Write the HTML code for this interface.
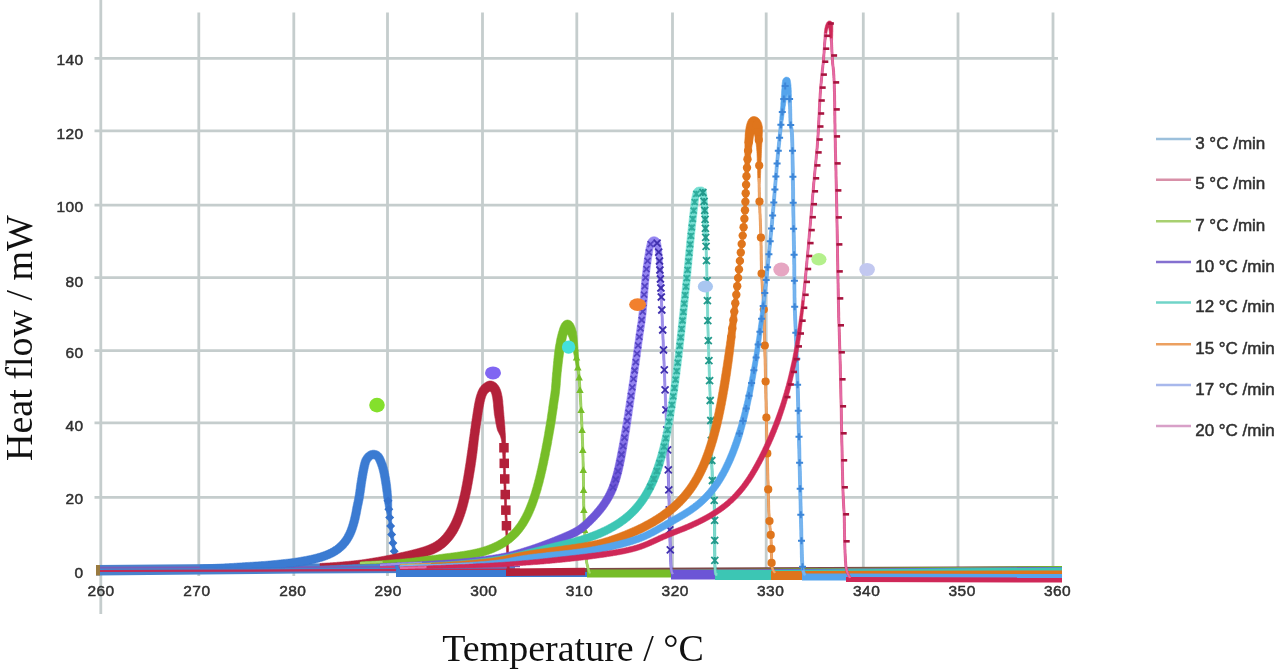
<!DOCTYPE html><html><head><meta charset="utf-8"><title>Heat flow vs temperature</title><style>html,body{margin:0;padding:0;background:#fff;width:1280px;height:669px;overflow:hidden}svg{display:block}</style></head><body>
<svg width="1280" height="669" viewBox="0 0 1280 669">
<rect width="1280" height="669" fill="#fff"/>
<g>
<rect width="1280" height="669" fill="#fff"/>
<g stroke="#c5cdcd" stroke-width="2.8"><line x1="100.8" y1="0.0" x2="100.8" y2="614.0"/><line x1="198.8" y1="12.5" x2="198.8" y2="576.0"/><line x1="293.8" y1="12.5" x2="293.8" y2="576.0"/><line x1="387.5" y1="12.5" x2="387.5" y2="576.0"/><line x1="482.5" y1="12.5" x2="482.5" y2="576.0"/><line x1="576.8" y1="12.5" x2="576.8" y2="576.0"/><line x1="672.5" y1="12.5" x2="672.5" y2="576.0"/><line x1="766.2" y1="12.5" x2="766.2" y2="576.0"/><line x1="863.3" y1="12.5" x2="863.3" y2="576.0"/><line x1="958.0" y1="12.5" x2="958.0" y2="576.0"/><line x1="1053.0" y1="12.5" x2="1053.0" y2="576.0"/><line x1="94.5" y1="58.4" x2="1058" y2="58.4"/><line x1="94.5" y1="130.9" x2="1058" y2="130.9"/><line x1="94.5" y1="205.2" x2="1058" y2="205.2"/><line x1="94.5" y1="277.7" x2="1058" y2="277.7"/><line x1="94.5" y1="350.7" x2="1058" y2="350.7"/><line x1="94.5" y1="422.8" x2="1058" y2="422.8"/><line x1="94.5" y1="497.3" x2="1058" y2="497.3"/></g>
<g><path d="M96,565 L300,563.5 L420,563 L505,564 L515,567 L515,573 L420,573 L300,573.5 L96,575.5Z" fill="#4a82cc"/><path d="M96,567.6 L520,566.5" stroke="#7a5ab8" stroke-width="1.6"/><path d="M380,566.8 L510,566.3" stroke="#c2417e" stroke-width="2.4"/><path d="M96,571 L300,570.4 L520,569.5" stroke="#c22a55" stroke-width="2.2" fill="none"/><rect x="96" y="565" width="4" height="10.5" fill="#9a7a40"/></g>
<polyline points="396.0,573.5 1062.0,573.5" fill="none" stroke="#3b7bd2" stroke-width="7.0"/>
<path d="M200.0,568.0 L200.5,568.0 L201.1,568.0 L201.8,568.0 L202.6,568.1 L203.4,568.1 L204.3,568.1 L205.3,568.1 L206.3,568.1 L207.3,568.1 L208.3,568.1 L209.4,568.1 L210.4,568.1 L211.4,568.1 L212.3,568.1 L213.3,568.1 L214.1,568.1 L214.9,568.2 L215.8,568.2 L216.6,568.2 L217.4,568.2 L218.2,568.2 L219.0,568.2 L219.8,568.2 L220.6,568.2 L221.3,568.2 L222.1,568.2 L222.9,568.2 L223.6,568.2 L224.4,568.3 L225.1,568.3 L225.9,568.3 L226.6,568.3 L227.3,568.3 L228.1,568.3 L228.8,568.3 L229.5,568.3 L230.2,568.3 L230.9,568.3 L231.6,568.3 L232.3,568.3 L233.0,568.3 L233.7,568.4 L234.4,568.4 L235.0,568.4 L235.7,568.4 L236.4,568.4 L237.0,568.4 L237.7,568.4 L238.3,568.4 L239.0,568.4 L239.6,568.4 L240.2,568.4 L240.8,568.4 L241.5,568.4 L242.1,568.4 L242.7,568.4 L243.3,568.5 L243.9,568.5 L244.5,568.5 L245.1,568.5 L245.7,568.5 L246.3,568.5 L246.8,568.5 L247.4,568.5 L248.0,568.5 L248.5,568.5 L249.1,568.5 L249.6,568.5 L250.2,568.5 L250.7,568.5 L251.3,568.5 L251.8,568.4 L252.3,568.4 L252.9,568.4 L253.4,568.4 L253.9,568.4 L254.4,568.4 L254.9,568.4 L255.5,568.4 L256.0,568.4 L256.5,568.4 L256.9,568.4 L257.4,568.4 L257.9,568.4 L258.4,568.4 L258.9,568.4 L259.4,568.4 L259.8,568.3 L260.3,568.3 L260.8,568.3 L261.2,568.3 L261.7,568.3 L262.1,568.3 L262.6,568.3 L263.0,568.3 L263.5,568.3 L263.9,568.3 L264.3,568.3 L264.8,568.3 L265.2,568.3 L265.6,568.2 L266.0,568.2 L266.5,568.2 L266.9,568.2 L267.3,568.2 L267.7,568.2 L268.1,568.2 L268.5,568.2 L268.9,568.2 L269.3,568.2 L269.7,568.2 L270.1,568.2 L270.5,568.1 L270.8,568.1 L271.2,568.1 L271.6,568.1 L272.0,568.1 L272.3,568.1 L272.7,568.1 L273.1,568.1 L273.4,568.1 L273.8,568.1 L274.2,568.0 L274.5,568.0 L274.9,568.0 L275.2,568.0 L275.6,568.0 L275.9,568.0 L276.2,568.0 L276.6,568.0 L276.9,568.0 L277.3,568.0 L277.6,567.9 L277.9,567.9 L278.3,567.9 L278.6,567.9 L278.9,567.9 L279.2,567.9 L279.5,567.9 L279.9,567.9 L280.2,567.9 L280.5,567.8 L280.8,567.8 L281.1,567.8 L281.4,567.8 L281.7,567.8 L282.0,567.8 L282.3,567.7 L282.6,567.7 L282.9,567.7 L283.2,567.7 L283.5,567.7 L283.8,567.6 L284.0,567.6 L284.3,567.6 L284.6,567.6 L284.9,567.6 L285.2,567.5 L285.4,567.5 L285.7,567.5 L286.0,567.5 L286.3,567.5 L286.5,567.4 L286.8,567.4 L287.1,567.4 L287.3,567.4 L287.6,567.4 L287.8,567.3 L288.1,567.3 L288.4,567.3 L288.6,567.3 L288.9,567.2 L289.1,567.2 L289.4,567.2 L289.6,567.2 L289.9,567.1 L290.1,567.1 L290.4,567.1 L290.6,567.1 L290.9,567.0 L291.1,567.0 L291.4,567.0 L291.6,567.0 L291.8,567.0 L292.1,566.9 L292.3,566.9 L292.5,566.9 L292.8,566.9 L293.0,566.8 L293.2,566.8 L293.5,566.8 L293.7,566.8 L293.9,566.7 L294.2,566.7 L294.4,566.7 L294.6,566.6 L294.8,566.6 L295.1,566.6 L295.3,566.6 L295.5,566.5 L295.7,566.5 L295.9,566.5 L296.2,566.5 L296.4,566.4 L296.6,566.4 L296.8,566.4 L297.0,566.4 L297.2,566.3 L297.4,566.3 L297.7,566.3 L297.9,566.3 L298.1,566.2 L298.3,566.2 L298.5,566.2 L298.7,566.1 L298.9,566.1 L299.1,566.1 L299.3,566.1 L299.5,566.0 L299.7,566.0 L299.9,566.0 L300.1,565.9 L300.4,565.9 L300.6,565.9 L300.8,565.9 L301.0,565.8 L301.2,565.8 L301.4,565.8 L301.6,565.7 L301.8,565.7 L302.0,565.7 L302.2,565.7 L302.4,565.6 L302.5,565.6 L302.7,565.6 L302.9,565.5 L303.1,565.5 L303.3,565.5 L303.5,565.4 L303.7,565.4 L303.9,565.4 L304.1,565.3 L304.3,565.3 L304.5,565.3 L304.7,565.2 L304.9,565.2 L305.1,565.2 L305.3,565.1 L305.5,565.1 L305.6,565.1 L305.8,565.0 L306.0,565.0 L306.2,565.0 L306.4,564.9 L306.6,564.9 L306.8,564.9 L307.0,564.8 L307.2,564.8 L307.3,564.8 L307.5,564.7 L307.7,564.7 L307.9,564.6 L308.1,564.6 L308.3,564.6 L308.5,564.5 L308.6,564.5 L308.8,564.5 L309.0,564.4 L309.2,564.4 L309.4,564.4 L309.6,564.3 L309.8,564.3 L309.9,564.2 L310.1,564.2 L310.3,564.2 L310.5,564.1 L310.7,564.1 L310.8,564.1 L311.0,564.0 L311.2,564.0 L311.4,563.9 L311.6,563.9 L311.8,563.9 L311.9,563.8 L312.1,563.8 L312.3,563.7 L312.5,563.7 L312.6,563.7 L312.8,563.6 L313.0,563.6 L313.2,563.5 L313.4,563.5 L313.5,563.5 L313.7,563.4 L313.9,563.4 L314.1,563.3 L314.2,563.3 L314.4,563.3 L314.6,563.2 L314.8,563.2 L314.9,563.1 L315.1,563.1 L315.3,563.1 L315.4,563.0 L315.6,563.0 L315.8,562.9 L316.0,562.9 L316.1,562.8 L316.3,562.8 L316.5,562.8 L316.6,562.7 L316.8,562.7 L317.0,562.6 L317.2,562.6 L317.3,562.5 L317.5,562.5 L317.7,562.5 L317.8,562.4 L318.0,562.4 L318.2,562.3 L318.3,562.3 L318.5,562.2 L318.7,562.2 L318.8,562.1 L319.0,562.1 L319.2,562.1 L319.3,562.0 L319.5,562.0 L319.7,561.9 L319.8,561.9 L320.0,561.8 L320.1,561.8 L320.3,561.7 L320.5,561.7 L320.6,561.6 L320.8,561.6 L321.0,561.5 L321.1,561.5 L321.3,561.4 L321.4,561.4 L321.6,561.3 L321.8,561.3 L321.9,561.2 L322.1,561.2 L322.2,561.2 L322.4,561.1 L322.6,561.1 L322.7,561.0 L322.9,561.0 L323.0,560.9 L323.2,560.9 L323.3,560.8 L323.5,560.8 L323.6,560.7 L323.8,560.6 L324.0,560.6 L324.1,560.5 L324.3,560.5 L324.4,560.4 L324.6,560.4 L324.7,560.3 L324.9,560.3 L325.0,560.2 L325.2,560.2 L325.3,560.1 L325.5,560.1 L325.6,560.0 L325.8,560.0 L325.9,559.9 L326.1,559.9 L326.2,559.8 L326.4,559.8 L326.5,559.7 L326.7,559.6 L326.8,559.6 L327.0,559.5 L327.1,559.5 L327.3,559.4 L327.4,559.4 L327.6,559.3 L327.7,559.3 L327.9,559.2 L328.0,559.1 L328.2,559.1 L328.3,559.0 L328.4,559.0 L328.6,558.9 L328.7,558.8 L328.9,558.8 L329.0,558.7 L329.2,558.7 L329.3,558.6 L329.5,558.6 L329.6,558.5 L329.7,558.4 L329.9,558.4 L330.0,558.3 L330.2,558.3 L330.3,558.2 L330.4,558.1 L330.6,558.1 L330.7,558.0 L330.9,557.9 L331.0,557.9 L331.1,557.8 L331.3,557.8 L331.4,557.7 L331.5,557.6 L331.7,557.6 L331.8,557.5 L332.0,557.4 L332.1,557.4 L332.2,557.3 L332.4,557.3 L332.5,557.2 L332.6,557.1 L332.8,557.1 L332.9,557.0 L333.0,556.9 L333.2,556.9 L333.3,556.8 L333.4,556.7 L333.6,556.7 L333.7,556.6 L333.8,556.5 L333.9,556.5 L334.1,556.4 L334.2,556.3 L334.3,556.3 L334.5,556.2 L334.6,556.1 L334.7,556.0 L334.9,556.0 L335.0,555.9 L335.1,555.8 L335.2,555.8 L335.4,555.7 L335.5,555.6 L335.6,555.6 L335.7,555.5 L335.9,555.4 L336.0,555.3 L336.1,555.3 L336.2,555.2 L336.4,555.1 L336.5,555.0 L336.6,555.0 L336.7,554.9 L336.9,554.8 L337.0,554.7 L337.1,554.7 L337.2,554.6 L337.3,554.5 L337.5,554.4 L337.6,554.4 L337.7,554.3 L337.8,554.2 L337.9,554.1 L338.1,554.1 L338.2,554.0 L338.3,553.9 L338.4,553.8 L338.5,553.8 L338.7,553.7 L338.8,553.6 L338.9,553.5 L339.0,553.4 L339.1,553.4 L339.2,553.3 L339.3,553.2 L339.5,553.1 L339.6,553.0 L339.7,553.0 L339.8,552.9 L339.9,552.8 L340.0,552.7 L340.1,552.6 L340.3,552.5 L340.4,552.5 L340.5,552.4 L340.6,552.3 L340.7,552.2 L340.8,552.1 L340.9,552.0 L341.0,552.0 L341.1,551.9 L341.3,551.8 L341.4,551.7 L341.5,551.6 L341.6,551.5 L341.7,551.4 L341.8,551.3 L341.9,551.3 L342.0,551.2 L342.1,551.1 L342.2,551.0 L342.3,550.9 L342.4,550.8 L342.5,550.7 L342.7,550.6 L342.8,550.5 L342.9,550.5 L343.0,550.4 L343.1,550.3 L343.2,550.2 L343.3,550.1 L343.4,550.0 L343.5,549.9 L343.6,549.8 L343.7,549.7 L343.8,549.6 L343.9,549.5 L344.0,549.4 L344.1,549.3 L344.2,549.2 L344.3,549.1 L344.4,549.0 L344.5,549.0 L344.6,548.9 L344.7,548.8 L344.8,548.7 L344.9,548.6 L345.0,548.5 L345.1,548.4 L345.2,548.3 L345.3,548.2 L345.4,548.1 L345.5,548.0 L345.6,547.9 L345.7,547.8 L345.8,547.7 L345.8,547.6 L345.9,547.5 L346.0,547.4 L346.1,547.3 L346.2,547.2 L346.3,547.1 L346.4,547.0 L346.5,546.8 L346.6,546.7 L346.7,546.6 L346.8,546.5 L346.9,546.4 L347.0,546.3 L347.0,546.2 L347.1,546.1 L347.2,546.0 L347.3,545.9 L347.4,545.8 L347.5,545.7 L347.6,545.6 L347.7,545.5 L347.8,545.4 L347.8,545.3 L347.9,545.1 L348.0,545.0 L348.1,544.9 L348.2,544.8 L348.3,544.7 L348.4,544.6 L348.4,544.5 L348.5,544.4 L348.6,544.3 L348.7,544.1 L348.8,544.0 L348.9,543.9 L349.0,543.8 L349.0,543.7 L349.1,543.6 L349.2,543.5 L349.3,543.3 L349.4,543.2 L349.4,543.1 L349.5,543.0 L349.6,542.9 L349.7,542.8 L349.8,542.6 L349.8,542.5 L349.9,542.4 L350.0,542.3 L350.1,542.2 L350.2,542.1 L350.2,541.9 L350.3,541.8 L350.4,541.7 L350.5,541.6 L350.6,541.5 L350.6,541.3 L350.7,541.2 L350.8,541.1 L350.9,541.0 L350.9,540.8 L351.0,540.7 L351.1,540.6 L351.2,540.5 L351.2,540.3 L351.3,540.2 L351.4,540.1 L351.5,540.0 L351.5,539.8 L351.6,539.7 L351.7,539.6 L351.7,539.5 L351.8,539.3 L351.9,539.2 L352.0,539.1 L352.0,539.0 L352.1,538.8 L352.2,538.7 L352.2,538.6 L352.3,538.4 L352.4,538.3 L352.5,538.2 L352.5,538.0 L352.6,537.9 L352.7,537.8 L352.7,537.6 L352.8,537.5 L352.9,537.4 L352.9,537.2 L353.0,537.1 L353.1,537.0 L353.1,536.8 L353.2,536.7 L353.3,536.6 L353.3,536.4 L353.4,536.3 L353.5,536.2 L353.5,536.0 L353.6,535.9 L353.7,535.8 L353.7,535.6 L353.8,535.5 L353.9,535.3 L353.9,535.2 L354.0,535.1 L354.1,534.9 L354.1,534.8 L354.2,534.6 L354.2,534.5 L354.3,534.3 L354.4,534.2 L354.4,534.0 L354.5,533.9 L354.6,533.8 L354.6,533.6 L354.7,533.5 L354.7,533.3 L354.8,533.2 L354.9,533.0 L354.9,532.9 L355.0,532.7 L355.0,532.6 L355.1,532.4 L355.1,532.3 L355.2,532.1 L355.3,532.0 L355.3,531.8 L355.4,531.7 L355.4,531.5 L355.5,531.4 L355.5,531.2 L355.6,531.1 L355.7,530.9 L355.7,530.8 L355.8,530.6 L355.8,530.5 L355.9,530.3 L355.9,530.2 L356.0,530.0 L356.0,529.9 L356.1,529.7 L356.2,529.5 L356.2,529.4 L356.3,529.2 L356.3,529.1 L356.4,528.9 L356.4,528.7 L356.5,528.6 L356.5,528.4 L356.6,528.3 L356.6,528.1 L356.7,527.9 L356.7,527.8 L356.8,527.6 L356.8,527.5 L356.9,527.3 L356.9,527.1 L357.0,527.0 L357.0,526.8 L357.1,526.6 L357.1,526.5 L357.2,526.3 L357.3,526.1 L357.3,526.0 L357.4,525.8 L357.4,525.6 L357.4,525.5 L357.5,525.3 L357.5,525.1 L357.6,525.0 L357.6,524.8 L357.7,524.6 L357.7,524.4 L357.8,524.3 L357.8,524.1 L357.9,523.9 L357.9,523.7 L358.0,523.6 L358.0,523.4 L358.1,523.2 L358.1,523.0 L358.2,522.9 L358.2,522.7 L358.3,522.5 L358.3,522.3 L358.4,522.1 L358.4,522.0 L358.5,521.8 L358.5,521.6 L358.5,521.4 L358.6,521.2 L358.6,521.1 L358.7,520.9 L358.7,520.7 L358.8,520.5 L358.8,520.3 L358.9,520.1 L358.9,520.0 L359.0,519.8 L359.0,519.6 L359.0,519.4 L359.1,519.2 L359.1,519.0 L359.2,518.8 L359.2,518.6 L359.3,518.4 L359.3,518.2 L359.3,518.1 L359.4,517.9 L359.4,517.7 L359.5,517.5 L359.5,517.3 L359.6,517.1 L359.6,516.9 L359.6,516.7 L359.7,516.5 L359.7,516.3 L359.8,516.1 L359.8,515.9 L359.9,515.7 L359.9,515.5 L359.9,515.3 L360.0,515.1 L360.0,514.9 L360.1,514.7 L360.1,514.5 L360.1,514.3 L360.2,514.1 L360.2,513.9 L360.3,513.7 L360.3,513.5 L360.4,513.3 L360.4,513.0 L360.4,512.8 L360.5,512.6 L360.5,512.4 L360.6,512.2 L360.6,512.0 L360.6,511.8 L360.7,511.6 L360.7,511.5 L360.7,511.3 L360.7,511.2 L360.8,511.1 L360.8,510.9 L360.8,510.8 L360.8,510.6 L360.9,510.4 L360.9,510.2 L361.0,509.9 L361.0,509.6 L361.1,509.2 L361.2,508.8 L361.3,508.4 L361.4,507.8 L361.5,507.3 L361.6,506.6 L361.8,506.0 L361.9,505.3 L362.1,504.6 L362.2,503.8 L362.4,503.0 L362.5,502.2 L362.7,501.4 L362.9,500.6 L363.0,499.7 L363.2,498.9 L363.3,498.1 L363.5,497.2 L363.6,496.3 L363.8,495.5 L363.9,494.6 L364.0,493.6 L364.2,492.7 L364.3,491.8 L364.4,490.8 L364.6,489.9 L364.7,488.9 L364.8,488.0 L365.0,487.0 L365.1,486.1 L365.2,485.2 L365.3,484.3 L365.5,483.5 L365.6,482.7 L365.7,481.8 L365.9,481.0 L366.0,480.2 L366.1,479.4 L366.2,478.7 L366.4,477.9 L366.5,477.1 L366.6,476.4 L366.8,475.6 L366.9,474.9 L367.0,474.2 L367.1,473.5 L367.3,472.8 L367.4,472.2 L367.5,471.5 L367.7,470.9 L367.8,470.2 L367.9,469.6 L368.1,468.9 L368.2,468.3 L368.3,467.7 L368.4,467.1 L368.6,466.6 L368.7,466.0 L368.8,465.5 L368.9,465.0 L369.1,464.6 L369.2,464.1 L369.3,463.7 L369.4,463.3 L369.6,463.0 L369.7,462.7 L369.8,462.4 L370.0,462.1 L370.1,461.8 L370.3,461.6 L370.4,461.3 L370.6,461.1 L370.7,460.9 L370.9,460.6 L371.1,460.4 L371.2,460.2 L371.4,460.1 L371.6,459.9 L371.7,459.7 L371.9,459.5 L372.1,459.4 L372.2,459.3 L372.3,459.2 L372.4,459.1 L372.5,459.0 L372.6,459.0 L372.7,458.9 L372.8,458.9 L372.8,458.9 L372.9,458.8 L373.0,458.8 L373.0,458.8 L373.1,458.8 L373.2,458.8 L373.3,458.8 L373.3,458.8 L373.4,458.8 L373.5,458.8 L373.6,458.8 L373.7,458.8 L373.8,458.8 L373.8,458.8 L373.9,458.8 L374.0,458.8 L374.1,458.8 L374.2,458.9 L374.2,458.9 L374.3,458.9 L374.4,458.9 L374.4,459.0 L374.5,459.0 L374.5,459.0 L374.6,459.1 L374.6,459.1 L374.7,459.2 L374.8,459.3 L374.9,459.4 L374.9,459.5 L375.0,459.6 L375.2,459.8 L375.3,460.0 L375.4,460.2 L375.5,460.4 L375.7,460.6 L375.8,460.9 L375.9,461.2 L376.1,461.6 L376.3,461.9 L376.4,462.3 L376.6,462.7 L376.8,463.1 L376.9,463.5 L377.1,463.9 L377.3,464.4 L377.5,464.9 L377.7,465.4 L377.8,465.9 L378.0,466.4 L378.2,467.0 L378.4,467.5 L378.6,468.1 L378.7,468.7 L378.9,469.2 L379.1,469.8 L379.2,470.4 L379.4,471.0 L379.5,471.7 L379.7,472.3 L379.8,473.0 L380.0,473.6 L380.1,474.3 L380.3,475.0 L380.4,475.7 L380.5,476.4 L380.7,477.2 L380.8,477.9 L381.0,478.7 L381.1,479.5 L381.2,480.2 L381.3,481.0 L381.5,481.8 L381.6,482.6 L381.7,483.5 L381.9,484.3 L382.0,485.2 L382.2,486.1 L382.3,487.0 L382.4,487.9 L382.6,488.8 L382.7,489.8 L382.8,490.7 L382.9,491.6 L383.1,492.6 L383.2,493.5 L383.3,494.4 L383.4,495.3 L383.5,496.1 L383.6,496.9 L383.8,497.7 L383.9,498.5 L384.1,499.2 L384.2,499.9 L384.3,500.6 L384.4,501.3 L384.6,502.0 L384.7,502.7 L384.8,503.4 L384.9,504.1 L385.1,504.8 L385.2,505.5 L385.3,506.2 L385.4,506.9 L385.6,507.6 L385.7,508.3 L385.9,509.0 L386.1,509.8 L386.2,510.5 L386.4,511.2 L386.6,512.0 L386.7,512.7 L386.9,513.5 L387.1,514.2 L387.3,515.0 L387.5,515.7 L387.6,516.4 L387.8,517.2 L388.0,517.9 L388.2,518.7 L388.3,519.4 L388.5,520.2 L388.6,520.9 L388.7,521.7 L388.8,522.5 L388.8,523.2 L388.9,524.0 L389.0,524.8 L389.1,525.6 L389.2,526.4 L389.2,527.2 L389.3,528.0 L389.4,528.7 L389.5,529.4 L389.6,530.2 L389.7,530.9 L389.7,531.5 L389.8,532.2 L389.9,532.8 L390.0,533.4 L390.0,533.9 L390.1,534.4 L390.2,534.9 L390.3,535.4 L390.3,535.9 L390.4,536.4 L390.5,536.8 L390.6,537.3 L390.6,537.7 L390.7,538.2 L390.8,538.7 L390.9,539.2 L390.9,539.7 L391.0,540.2 L391.1,540.8 L391.2,541.4 L391.3,542.0 L391.4,542.7 L391.5,543.3 L391.6,544.0 L391.7,544.6 L391.8,545.3 L391.9,545.9 L392.0,546.6 L392.1,547.3 L392.2,547.9 L392.3,548.5 L392.4,549.1 L392.4,549.7 L392.5,550.2 L392.6,550.7 L392.7,551.2 L392.7,551.7 L392.8,552.1 L392.8,552.5 L392.9,553.0 L393.0,553.4 L393.0,553.8 L393.1,554.2 L393.1,554.6 L393.2,555.0 L393.2,555.4 L393.3,555.8 L393.4,556.3 L393.4,556.7 L393.5,557.2 L393.6,557.7 L393.7,558.3 L393.8,558.8 L393.8,559.4 L393.9,560.0 L394.0,560.6 L394.1,561.2 L394.2,561.8 L394.3,562.5 L394.4,563.1 L394.5,563.7 L394.6,564.3 L394.7,564.8 L394.8,565.4 L394.9,565.9 L395.1,566.4 L395.2,566.9 L395.3,567.3 L395.5,567.7 L395.6,568.1 L395.8,568.5 L395.9,568.9 L396.1,569.2 L396.3,569.6 L396.4,569.9 L396.6,570.2 L396.8,570.5 L397.0,570.8 L397.2,571.1 L397.4,571.4 L397.6,571.7 L397.8,572.0 L398.1,572.3 L398.4,572.6 L398.7,572.9 L399.0,573.1 L399.4,573.4 L399.7,573.6 L400.0,573.8 L400.3,574.1 L400.6,574.3 L400.9,574.4 L401.2,574.6 L401.5,574.8 L401.7,574.9 L401.9,575.0 L402.0,575.1 L402.1,575.2 L403.9,572.8 L403.7,572.7 L403.5,572.5 L403.3,572.4 L403.0,572.2 L402.8,572.1 L402.5,571.9 L402.3,571.7 L402.0,571.6 L401.7,571.4 L401.4,571.2 L401.2,571.0 L400.9,570.8 L400.7,570.6 L400.5,570.4 L400.3,570.2 L400.2,570.0 L400.0,569.8 L399.8,569.6 L399.6,569.4 L399.5,569.2 L399.3,568.9 L399.2,568.7 L399.1,568.4 L398.9,568.2 L398.8,567.9 L398.7,567.6 L398.5,567.4 L398.4,567.0 L398.3,566.7 L398.2,566.4 L398.1,566.0 L397.9,565.6 L397.8,565.2 L397.7,564.7 L397.6,564.2 L397.5,563.7 L397.4,563.2 L397.3,562.6 L397.2,562.0 L397.1,561.4 L397.1,560.8 L397.0,560.2 L396.9,559.6 L396.8,559.0 L396.7,558.4 L396.6,557.8 L396.6,557.3 L396.5,556.8 L396.4,556.3 L396.3,555.8 L396.3,555.4 L396.2,555.0 L396.2,554.6 L396.1,554.2 L396.0,553.8 L396.0,553.4 L395.9,553.0 L395.9,552.6 L395.8,552.1 L395.8,551.7 L395.7,551.3 L395.6,550.8 L395.6,550.3 L395.5,549.8 L395.4,549.2 L395.3,548.7 L395.2,548.1 L395.1,547.4 L395.0,546.8 L394.9,546.2 L394.8,545.5 L394.7,544.8 L394.6,544.2 L394.5,543.5 L394.4,542.9 L394.3,542.2 L394.3,541.6 L394.2,541.0 L394.1,540.4 L394.0,539.8 L393.9,539.2 L393.8,538.7 L393.7,538.2 L393.7,537.7 L393.6,537.2 L393.5,536.8 L393.4,536.3 L393.4,535.9 L393.3,535.4 L393.2,535.0 L393.2,534.5 L393.1,534.0 L393.0,533.5 L392.9,533.0 L392.9,532.4 L392.8,531.8 L392.7,531.2 L392.6,530.5 L392.6,529.8 L392.5,529.1 L392.4,528.4 L392.3,527.6 L392.2,526.9 L392.1,526.1 L392.1,525.3 L392.0,524.5 L391.9,523.7 L391.8,522.9 L391.7,522.2 L391.7,521.4 L391.6,520.6 L391.5,519.8 L391.5,519.1 L391.5,518.3 L391.5,517.5 L391.5,516.8 L391.5,516.0 L391.6,515.3 L391.6,514.5 L391.6,513.7 L391.6,513.0 L391.6,512.2 L391.6,511.4 L391.6,510.7 L391.6,509.9 L391.7,509.2 L391.7,508.4 L391.7,507.7 L391.7,507.0 L391.7,506.3 L391.7,505.6 L391.7,504.9 L391.7,504.2 L391.7,503.5 L391.7,502.8 L391.7,502.1 L391.7,501.4 L391.7,500.7 L391.7,500.0 L391.7,499.2 L391.6,498.5 L391.6,497.7 L391.6,496.9 L391.6,496.1 L391.5,495.2 L391.4,494.4 L391.3,493.5 L391.2,492.6 L391.2,491.6 L391.1,490.7 L391.0,489.7 L390.9,488.8 L390.8,487.8 L390.7,486.9 L390.6,485.9 L390.5,485.0 L390.3,484.0 L390.2,483.1 L390.1,482.2 L390.0,481.4 L389.9,480.5 L389.7,479.7 L389.6,478.9 L389.5,478.0 L389.3,477.2 L389.2,476.4 L389.0,475.7 L388.9,474.9 L388.8,474.1 L388.6,473.3 L388.4,472.6 L388.3,471.8 L388.1,471.1 L388.0,470.4 L387.8,469.7 L387.6,469.0 L387.4,468.3 L387.3,467.6 L387.1,466.9 L386.9,466.2 L386.7,465.6 L386.5,464.9 L386.3,464.3 L386.1,463.7 L385.9,463.1 L385.7,462.5 L385.4,461.9 L385.2,461.4 L385.0,460.8 L384.8,460.3 L384.6,459.8 L384.4,459.3 L384.2,458.9 L384.0,458.4 L383.8,458.0 L383.6,457.5 L383.4,457.1 L383.2,456.7 L383.0,456.3 L382.7,455.9 L382.5,455.5 L382.2,455.1 L382.0,454.7 L381.7,454.3 L381.4,454.0 L381.1,453.6 L380.7,453.2 L380.4,452.9 L380.0,452.5 L379.6,452.2 L379.2,451.9 L378.7,451.6 L378.3,451.4 L377.8,451.2 L377.4,451.0 L377.0,450.8 L376.5,450.7 L376.1,450.6 L375.6,450.5 L375.2,450.4 L374.8,450.3 L374.3,450.3 L373.9,450.3 L373.5,450.2 L373.1,450.3 L372.7,450.3 L372.2,450.3 L371.8,450.4 L371.4,450.5 L370.9,450.6 L370.5,450.7 L370.1,450.8 L369.6,451.0 L369.2,451.2 L368.8,451.4 L368.4,451.6 L367.9,451.9 L367.5,452.2 L367.1,452.4 L366.8,452.7 L366.4,453.0 L366.1,453.3 L365.8,453.6 L365.5,453.9 L365.2,454.3 L364.8,454.6 L364.5,455.0 L364.2,455.4 L363.9,455.8 L363.6,456.3 L363.3,456.7 L363.0,457.2 L362.7,457.7 L362.4,458.2 L362.1,458.8 L361.9,459.3 L361.7,459.9 L361.4,460.5 L361.2,461.1 L361.1,461.7 L360.9,462.3 L360.7,462.9 L360.6,463.5 L360.4,464.1 L360.3,464.7 L360.1,465.3 L360.0,465.9 L359.9,466.6 L359.7,467.2 L359.6,467.8 L359.5,468.5 L359.3,469.1 L359.2,469.8 L359.1,470.5 L358.9,471.2 L358.8,471.9 L358.6,472.7 L358.5,473.4 L358.4,474.2 L358.2,474.9 L358.1,475.7 L358.0,476.5 L357.9,477.3 L357.7,478.1 L357.6,478.9 L357.5,479.7 L357.3,480.5 L357.2,481.3 L357.1,482.2 L356.9,483.1 L356.8,484.0 L356.7,484.9 L356.5,485.9 L356.4,486.8 L356.3,487.8 L356.2,488.7 L356.0,489.6 L355.9,490.6 L355.8,491.5 L355.6,492.4 L355.5,493.3 L355.4,494.2 L355.2,495.0 L355.1,495.8 L355.0,496.6 L354.8,497.4 L354.7,498.2 L354.5,499.0 L354.4,499.8 L354.2,500.5 L354.1,501.3 L353.9,502.1 L353.7,502.8 L353.6,503.5 L353.4,504.2 L353.3,504.9 L353.2,505.5 L353.0,506.1 L352.9,506.7 L352.8,507.2 L352.7,507.6 L352.7,508.0 L352.6,508.4 L352.5,508.7 L352.5,508.9 L352.5,509.1 L352.4,509.3 L352.4,509.5 L352.4,509.7 L352.3,509.8 L352.3,509.9 L352.3,510.1 L352.3,510.2 L352.3,510.3 L352.2,510.4 L352.2,510.6 L352.2,510.8 L352.1,511.0 L352.1,511.2 L352.1,511.4 L352.0,511.6 L352.0,511.8 L351.9,512.0 L351.9,512.2 L351.9,512.4 L351.8,512.6 L351.8,512.8 L351.7,513.0 L351.7,513.2 L351.7,513.4 L351.6,513.6 L351.6,513.8 L351.5,514.0 L351.5,514.1 L351.5,514.3 L351.4,514.5 L351.4,514.7 L351.3,514.9 L351.3,515.1 L351.3,515.3 L351.2,515.5 L351.2,515.6 L351.1,515.8 L351.1,516.0 L351.1,516.2 L351.0,516.4 L351.0,516.6 L350.9,516.7 L350.9,516.9 L350.8,517.1 L350.8,517.3 L350.8,517.4 L350.7,517.6 L350.7,517.8 L350.6,518.0 L350.6,518.1 L350.6,518.3 L350.5,518.5 L350.5,518.7 L350.4,518.8 L350.4,519.0 L350.3,519.2 L350.3,519.3 L350.3,519.5 L350.2,519.7 L350.2,519.9 L350.1,520.0 L350.1,520.2 L350.0,520.4 L350.0,520.5 L350.0,520.7 L349.9,520.8 L349.9,521.0 L349.8,521.2 L349.8,521.3 L349.7,521.5 L349.7,521.7 L349.6,521.8 L349.6,522.0 L349.6,522.1 L349.5,522.3 L349.5,522.5 L349.4,522.6 L349.4,522.8 L349.3,522.9 L349.3,523.1 L349.2,523.2 L349.2,523.4 L349.2,523.5 L349.1,523.7 L349.1,523.8 L349.0,524.0 L349.0,524.1 L348.9,524.3 L348.9,524.4 L348.8,524.6 L348.8,524.7 L348.7,524.9 L348.7,525.0 L348.6,525.2 L348.6,525.3 L348.6,525.5 L348.5,525.6 L348.5,525.8 L348.4,525.9 L348.4,526.1 L348.3,526.2 L348.3,526.3 L348.2,526.5 L348.2,526.6 L348.1,526.8 L348.1,526.9 L348.0,527.0 L348.0,527.2 L347.9,527.3 L347.9,527.5 L347.8,527.6 L347.8,527.7 L347.7,527.9 L347.7,528.0 L347.6,528.1 L347.6,528.3 L347.5,528.4 L347.5,528.5 L347.4,528.7 L347.4,528.8 L347.3,528.9 L347.3,529.1 L347.2,529.2 L347.2,529.3 L347.1,529.5 L347.1,529.6 L347.0,529.7 L347.0,529.8 L346.9,530.0 L346.9,530.1 L346.8,530.2 L346.8,530.3 L346.7,530.5 L346.7,530.6 L346.6,530.7 L346.6,530.8 L346.5,531.0 L346.5,531.1 L346.4,531.2 L346.3,531.3 L346.3,531.4 L346.2,531.6 L346.2,531.7 L346.1,531.8 L346.1,531.9 L346.0,532.0 L346.0,532.1 L345.9,532.3 L345.9,532.4 L345.8,532.5 L345.7,532.6 L345.7,532.7 L345.6,532.8 L345.6,533.0 L345.5,533.1 L345.5,533.2 L345.4,533.3 L345.3,533.4 L345.3,533.5 L345.2,533.6 L345.2,533.8 L345.1,533.9 L345.1,534.0 L345.0,534.1 L344.9,534.2 L344.9,534.3 L344.8,534.4 L344.8,534.5 L344.7,534.6 L344.7,534.7 L344.6,534.8 L344.5,534.9 L344.5,535.1 L344.4,535.2 L344.4,535.3 L344.3,535.4 L344.2,535.5 L344.2,535.6 L344.1,535.7 L344.1,535.8 L344.0,535.9 L343.9,536.0 L343.9,536.1 L343.8,536.2 L343.8,536.3 L343.7,536.4 L343.6,536.5 L343.6,536.6 L343.5,536.7 L343.4,536.8 L343.4,536.9 L343.3,537.0 L343.3,537.1 L343.2,537.2 L343.1,537.3 L343.1,537.4 L343.0,537.5 L342.9,537.6 L342.9,537.7 L342.8,537.8 L342.7,537.9 L342.7,538.0 L342.6,538.0 L342.5,538.1 L342.5,538.2 L342.4,538.3 L342.4,538.4 L342.3,538.5 L342.2,538.6 L342.2,538.7 L342.1,538.8 L342.0,538.9 L342.0,539.0 L341.9,539.1 L341.8,539.1 L341.8,539.2 L341.7,539.3 L341.6,539.4 L341.6,539.5 L341.5,539.6 L341.4,539.7 L341.3,539.8 L341.3,539.9 L341.2,539.9 L341.1,540.0 L341.1,540.1 L341.0,540.2 L340.9,540.3 L340.9,540.4 L340.8,540.5 L340.7,540.5 L340.6,540.6 L340.6,540.7 L340.5,540.8 L340.4,540.9 L340.4,541.0 L340.3,541.0 L340.2,541.1 L340.1,541.2 L340.1,541.3 L340.0,541.4 L339.9,541.4 L339.9,541.5 L339.8,541.6 L339.7,541.7 L339.6,541.8 L339.6,541.9 L339.5,541.9 L339.4,542.0 L339.3,542.1 L339.3,542.2 L339.2,542.2 L339.1,542.3 L339.0,542.4 L338.9,542.5 L338.9,542.6 L338.8,542.6 L338.7,542.7 L338.6,542.8 L338.6,542.9 L338.5,542.9 L338.4,543.0 L338.3,543.1 L338.2,543.2 L338.2,543.2 L338.1,543.3 L338.0,543.4 L337.9,543.5 L337.8,543.5 L337.8,543.6 L337.7,543.7 L337.6,543.8 L337.5,543.8 L337.4,543.9 L337.4,544.0 L337.3,544.0 L337.2,544.1 L337.1,544.2 L337.0,544.3 L336.9,544.3 L336.9,544.4 L336.8,544.5 L336.7,544.5 L336.6,544.6 L336.5,544.7 L336.4,544.8 L336.4,544.8 L336.3,544.9 L336.2,545.0 L336.1,545.0 L336.0,545.1 L335.9,545.2 L335.8,545.2 L335.7,545.3 L335.7,545.4 L335.6,545.4 L335.5,545.5 L335.4,545.6 L335.3,545.6 L335.2,545.7 L335.1,545.8 L335.0,545.8 L334.9,545.9 L334.8,546.0 L334.8,546.0 L334.7,546.1 L334.6,546.2 L334.5,546.2 L334.4,546.3 L334.3,546.4 L334.2,546.4 L334.1,546.5 L334.0,546.6 L333.9,546.6 L333.8,546.7 L333.7,546.7 L333.6,546.8 L333.5,546.9 L333.4,546.9 L333.3,547.0 L333.2,547.1 L333.1,547.1 L333.0,547.2 L332.9,547.3 L332.8,547.3 L332.7,547.4 L332.6,547.4 L332.5,547.5 L332.4,547.6 L332.3,547.6 L332.2,547.7 L332.1,547.7 L332.0,547.8 L331.9,547.9 L331.8,547.9 L331.7,548.0 L331.6,548.0 L331.5,548.1 L331.4,548.2 L331.3,548.2 L331.2,548.3 L331.1,548.3 L331.0,548.4 L330.9,548.5 L330.8,548.5 L330.7,548.6 L330.6,548.6 L330.5,548.7 L330.4,548.7 L330.2,548.8 L330.1,548.9 L330.0,548.9 L329.9,549.0 L329.8,549.0 L329.7,549.1 L329.6,549.1 L329.5,549.2 L329.4,549.3 L329.2,549.3 L329.1,549.4 L329.0,549.4 L328.9,549.5 L328.8,549.5 L328.7,549.6 L328.6,549.6 L328.4,549.7 L328.3,549.8 L328.2,549.8 L328.1,549.9 L328.0,549.9 L327.9,550.0 L327.7,550.0 L327.6,550.1 L327.5,550.1 L327.4,550.2 L327.3,550.2 L327.1,550.3 L327.0,550.3 L326.9,550.4 L326.8,550.5 L326.7,550.5 L326.5,550.6 L326.4,550.6 L326.3,550.7 L326.2,550.7 L326.0,550.8 L325.9,550.8 L325.8,550.9 L325.7,550.9 L325.5,551.0 L325.4,551.0 L325.3,551.1 L325.2,551.1 L325.0,551.2 L324.9,551.2 L324.8,551.3 L324.7,551.3 L324.5,551.4 L324.4,551.4 L324.3,551.5 L324.1,551.5 L324.0,551.6 L323.9,551.6 L323.7,551.7 L323.6,551.7 L323.5,551.8 L323.3,551.8 L323.2,551.9 L323.1,551.9 L322.9,552.0 L322.8,552.0 L322.7,552.1 L322.5,552.1 L322.4,552.2 L322.3,552.2 L322.1,552.2 L322.0,552.3 L321.8,552.3 L321.7,552.4 L321.6,552.4 L321.4,552.5 L321.3,552.5 L321.1,552.6 L321.0,552.6 L320.9,552.7 L320.7,552.7 L320.6,552.8 L320.4,552.8 L320.3,552.9 L320.2,552.9 L320.0,552.9 L319.9,553.0 L319.7,553.0 L319.6,553.1 L319.4,553.1 L319.3,553.2 L319.1,553.2 L319.0,553.3 L318.8,553.3 L318.7,553.3 L318.5,553.4 L318.4,553.4 L318.2,553.5 L318.1,553.5 L318.0,553.6 L317.8,553.6 L317.7,553.6 L317.5,553.7 L317.3,553.7 L317.2,553.8 L317.0,553.8 L316.9,553.9 L316.7,553.9 L316.6,553.9 L316.4,554.0 L316.3,554.0 L316.1,554.1 L316.0,554.1 L315.8,554.2 L315.7,554.2 L315.5,554.2 L315.3,554.3 L315.2,554.3 L315.0,554.4 L314.9,554.4 L314.7,554.4 L314.6,554.5 L314.4,554.5 L314.2,554.6 L314.1,554.6 L313.9,554.6 L313.8,554.7 L313.6,554.7 L313.4,554.8 L313.3,554.8 L313.1,554.8 L312.9,554.9 L312.8,554.9 L312.6,555.0 L312.5,555.0 L312.3,555.0 L312.1,555.1 L312.0,555.1 L311.8,555.1 L311.6,555.2 L311.5,555.2 L311.3,555.3 L311.1,555.3 L311.0,555.3 L310.8,555.4 L310.6,555.4 L310.5,555.4 L310.3,555.5 L310.1,555.5 L310.0,555.6 L309.8,555.6 L309.6,555.6 L309.4,555.7 L309.3,555.7 L309.1,555.7 L308.9,555.8 L308.8,555.8 L308.6,555.8 L308.4,555.9 L308.2,555.9 L308.1,556.0 L307.9,556.0 L307.7,556.0 L307.5,556.1 L307.4,556.1 L307.2,556.1 L307.0,556.2 L306.8,556.2 L306.7,556.2 L306.5,556.3 L306.3,556.3 L306.1,556.3 L305.9,556.4 L305.8,556.4 L305.6,556.4 L305.4,556.5 L305.2,556.5 L305.0,556.5 L304.9,556.6 L304.7,556.6 L304.5,556.6 L304.3,556.7 L304.1,556.7 L303.9,556.7 L303.8,556.8 L303.6,556.8 L303.4,556.8 L303.2,556.9 L303.0,556.9 L302.8,556.9 L302.7,557.0 L302.5,557.0 L302.3,557.0 L302.1,557.1 L301.9,557.1 L301.7,557.1 L301.5,557.2 L301.4,557.2 L301.2,557.2 L301.0,557.3 L300.8,557.3 L300.6,557.3 L300.4,557.4 L300.2,557.4 L300.0,557.4 L299.8,557.5 L299.6,557.5 L299.5,557.5 L299.3,557.6 L299.1,557.6 L298.9,557.6 L298.7,557.7 L298.5,557.7 L298.3,557.7 L298.1,557.8 L297.9,557.8 L297.7,557.8 L297.5,557.9 L297.3,557.9 L297.1,557.9 L296.9,558.0 L296.7,558.0 L296.5,558.0 L296.3,558.0 L296.1,558.1 L295.9,558.1 L295.7,558.1 L295.5,558.2 L295.3,558.2 L295.1,558.2 L294.8,558.3 L294.6,558.3 L294.4,558.3 L294.2,558.4 L294.0,558.4 L293.8,558.4 L293.6,558.4 L293.4,558.5 L293.1,558.5 L292.9,558.5 L292.7,558.6 L292.5,558.6 L292.3,558.6 L292.0,558.7 L291.8,558.7 L291.6,558.7 L291.4,558.7 L291.1,558.8 L290.9,558.8 L290.7,558.8 L290.4,558.9 L290.2,558.9 L290.0,558.9 L289.7,558.9 L289.5,559.0 L289.3,559.0 L289.0,559.0 L288.8,559.1 L288.5,559.1 L288.3,559.1 L288.0,559.1 L287.8,559.2 L287.6,559.2 L287.3,559.2 L287.1,559.3 L286.8,559.3 L286.5,559.3 L286.3,559.3 L286.0,559.4 L285.8,559.4 L285.5,559.4 L285.2,559.4 L285.0,559.5 L284.7,559.5 L284.4,559.5 L284.2,559.6 L283.9,559.6 L283.6,559.6 L283.4,559.6 L283.1,559.7 L282.8,559.7 L282.5,559.7 L282.2,559.8 L282.0,559.8 L281.7,559.8 L281.4,559.8 L281.1,559.9 L280.8,559.9 L280.5,559.9 L280.2,560.0 L279.9,560.0 L279.6,560.0 L279.3,560.1 L279.0,560.1 L278.7,560.1 L278.4,560.2 L278.0,560.2 L277.7,560.2 L277.4,560.3 L277.1,560.3 L276.7,560.3 L276.4,560.4 L276.1,560.4 L275.8,560.4 L275.4,560.5 L275.1,560.5 L274.7,560.5 L274.4,560.6 L274.0,560.6 L273.7,560.6 L273.3,560.7 L273.0,560.7 L272.6,560.7 L272.3,560.8 L271.9,560.8 L271.6,560.8 L271.2,560.9 L270.8,560.9 L270.4,560.9 L270.1,561.0 L269.7,561.0 L269.3,561.0 L268.9,561.1 L268.5,561.1 L268.1,561.1 L267.7,561.2 L267.3,561.2 L266.9,561.2 L266.5,561.3 L266.1,561.3 L265.7,561.3 L265.3,561.4 L264.9,561.4 L264.5,561.4 L264.0,561.5 L263.6,561.5 L263.2,561.5 L262.7,561.5 L262.3,561.6 L261.8,561.6 L261.4,561.6 L260.9,561.7 L260.5,561.7 L260.0,561.7 L259.6,561.8 L259.1,561.8 L258.6,561.8 L258.2,561.9 L257.7,561.9 L257.2,561.9 L256.7,561.9 L256.2,562.0 L255.7,562.0 L255.2,562.0 L254.7,562.1 L254.2,562.1 L253.7,562.1 L253.2,562.2 L252.7,562.2 L252.1,562.2 L251.6,562.3 L251.1,562.3 L250.5,562.3 L250.0,562.3 L249.5,562.4 L248.9,562.4 L248.3,562.4 L247.8,562.5 L247.2,562.5 L246.6,562.5 L246.1,562.6 L245.5,562.6 L244.9,562.7 L244.3,562.7 L243.7,562.7 L243.1,562.8 L242.5,562.8 L241.9,562.9 L241.3,562.9 L240.7,562.9 L240.1,563.0 L239.4,563.0 L238.8,563.1 L238.2,563.1 L237.5,563.1 L236.9,563.2 L236.2,563.2 L235.6,563.3 L234.9,563.3 L234.2,563.3 L233.6,563.4 L232.9,563.4 L232.2,563.5 L231.5,563.5 L230.8,563.5 L230.1,563.6 L229.4,563.6 L228.7,563.7 L228.0,563.7 L227.3,563.7 L226.5,563.8 L225.8,563.8 L225.0,563.8 L224.3,563.9 L223.5,563.9 L222.8,564.0 L222.0,564.0 L221.3,564.0 L220.5,564.1 L219.7,564.1 L218.9,564.2 L218.1,564.2 L217.3,564.2 L216.5,564.3 L215.7,564.3 L214.9,564.4 L214.0,564.4 L213.2,564.4 L212.3,564.5 L211.3,564.5 L210.3,564.6 L209.3,564.6 L208.3,564.6 L207.2,564.7 L206.2,564.7 L205.2,564.8 L204.3,564.8 L203.4,564.8 L202.5,564.9 L201.8,564.9 L201.1,564.9 L200.5,565.0 L200.0,565.0Z" fill="#3b7bd2" stroke="#3b7bd2" stroke-width="0.6" stroke-linejoin="round"/>
<g><path d="M388.0,496.2L392.5,500.7L388.0,505.2L383.5,500.7Z" fill="#3572cc"/><path d="M388.8,504.7L393.3,509.2L388.8,513.7L384.3,509.2Z" fill="#3572cc"/><path d="M389.7,513.1L394.2,517.6L389.7,522.1L385.2,517.6Z" fill="#3572cc"/><path d="M390.6,521.6L395.1,526.1L390.6,530.6L386.1,526.1Z" fill="#3572cc"/><path d="M391.6,530.0L396.1,534.5L391.6,539.0L387.1,534.5Z" fill="#3572cc"/><path d="M392.9,538.4L397.4,542.9L392.9,547.4L388.4,542.9Z" fill="#3572cc"/><path d="M394.2,546.8L398.7,551.3L394.2,555.8L389.7,551.3Z" fill="#3572cc"/><path d="M395.4,555.3L399.9,559.8L395.4,564.3L390.9,559.8Z" fill="#3572cc"/></g>
<polyline points="506.0,572.2 585.0,571.5" fill="none" stroke="#b3213a" stroke-width="7.5"/>
<polyline points="585.0,570.0 1062.0,568.0" fill="none" stroke="#7c4848" stroke-width="4.0"/>
<path d="M320.0,565.5 L320.3,565.5 L320.7,565.5 L321.1,565.5 L321.5,565.5 L322.0,565.4 L322.5,565.4 L323.0,565.4 L323.5,565.4 L324.1,565.4 L324.7,565.3 L325.3,565.3 L325.8,565.3 L326.4,565.3 L327.0,565.2 L327.5,565.2 L328.0,565.2 L328.5,565.2 L329.0,565.2 L329.4,565.2 L329.9,565.1 L330.4,565.1 L330.9,565.1 L331.3,565.1 L331.8,565.1 L332.3,565.0 L332.7,565.0 L333.2,565.0 L333.7,565.0 L334.1,565.0 L334.6,564.9 L335.1,564.9 L335.5,564.9 L336.0,564.9 L336.4,564.9 L336.9,564.8 L337.4,564.8 L337.8,564.8 L338.3,564.8 L338.7,564.8 L339.2,564.7 L339.6,564.7 L340.0,564.7 L340.5,564.7 L340.9,564.7 L341.4,564.6 L341.8,564.6 L342.3,564.6 L342.7,564.6 L343.1,564.6 L343.6,564.5 L344.0,564.5 L344.4,564.5 L344.9,564.5 L345.3,564.5 L345.7,564.5 L346.2,564.4 L346.6,564.4 L347.0,564.4 L347.5,564.4 L347.9,564.4 L348.3,564.3 L348.7,564.3 L349.2,564.3 L349.6,564.3 L350.0,564.3 L350.4,564.2 L350.8,564.2 L351.3,564.2 L351.7,564.2 L352.1,564.2 L352.5,564.1 L352.9,564.1 L353.3,564.1 L353.7,564.1 L354.2,564.0 L354.6,564.0 L355.0,564.0 L355.4,564.0 L355.8,564.0 L356.2,563.9 L356.6,563.9 L357.0,563.9 L357.4,563.9 L357.8,563.9 L358.2,563.8 L358.6,563.8 L359.0,563.8 L359.4,563.8 L359.8,563.8 L360.2,563.8 L360.6,563.7 L361.0,563.7 L361.4,563.7 L361.8,563.7 L362.2,563.7 L362.6,563.6 L363.0,563.6 L363.3,563.6 L363.7,563.6 L364.1,563.6 L364.5,563.6 L364.9,563.6 L365.3,563.5 L365.7,563.5 L366.0,563.5 L366.4,563.5 L366.8,563.5 L367.2,563.5 L367.6,563.5 L368.0,563.4 L368.3,563.4 L368.7,563.4 L369.1,563.4 L369.5,563.4 L369.8,563.4 L370.2,563.3 L370.6,563.3 L371.0,563.3 L371.4,563.3 L371.7,563.3 L372.1,563.3 L372.5,563.2 L372.8,563.2 L373.2,563.2 L373.6,563.2 L374.0,563.2 L374.3,563.2 L374.7,563.1 L375.1,563.1 L375.4,563.1 L375.8,563.1 L376.2,563.1 L376.5,563.0 L376.9,563.0 L377.3,563.0 L377.6,563.0 L378.0,563.0 L378.4,563.0 L378.7,562.9 L379.1,562.9 L379.4,562.9 L379.8,562.9 L380.2,562.9 L380.5,562.8 L380.9,562.8 L381.2,562.8 L381.6,562.8 L382.0,562.7 L382.3,562.7 L382.7,562.7 L383.0,562.7 L383.4,562.6 L383.7,562.6 L384.1,562.6 L384.4,562.6 L384.8,562.6 L385.1,562.5 L385.5,562.5 L385.8,562.5 L386.2,562.5 L386.5,562.4 L386.9,562.4 L387.2,562.4 L387.6,562.4 L387.9,562.3 L388.3,562.3 L388.6,562.3 L389.0,562.3 L389.3,562.2 L389.7,562.2 L390.0,562.2 L390.3,562.1 L390.7,562.1 L391.0,562.1 L391.4,562.1 L391.7,562.0 L392.1,562.0 L392.4,562.0 L392.7,561.9 L393.1,561.9 L393.4,561.9 L393.8,561.9 L394.1,561.8 L394.4,561.8 L394.8,561.8 L395.1,561.7 L395.4,561.7 L395.8,561.7 L396.1,561.7 L396.4,561.6 L396.8,561.6 L397.1,561.6 L397.4,561.5 L397.8,561.5 L398.1,561.5 L398.4,561.4 L398.8,561.4 L399.1,561.4 L399.4,561.3 L399.7,561.3 L400.1,561.3 L400.4,561.2 L400.7,561.2 L401.0,561.2 L401.4,561.1 L401.7,561.1 L402.0,561.1 L402.3,561.0 L402.7,561.0 L403.0,560.9 L403.3,560.9 L403.6,560.9 L404.0,560.8 L404.3,560.8 L404.6,560.7 L404.9,560.7 L405.2,560.6 L405.5,560.6 L405.9,560.5 L406.2,560.5 L406.5,560.4 L406.8,560.4 L407.1,560.4 L407.4,560.3 L407.8,560.3 L408.1,560.2 L408.4,560.2 L408.7,560.1 L409.0,560.1 L409.3,560.0 L409.6,560.0 L409.9,559.9 L410.2,559.9 L410.5,559.8 L410.8,559.8 L411.2,559.7 L411.5,559.7 L411.8,559.6 L412.1,559.6 L412.4,559.5 L412.7,559.5 L413.0,559.4 L413.3,559.4 L413.6,559.3 L413.9,559.3 L414.2,559.2 L414.5,559.1 L414.8,559.1 L415.1,559.0 L415.4,559.0 L415.6,558.9 L415.9,558.9 L416.2,558.8 L416.5,558.8 L416.8,558.7 L417.1,558.6 L417.4,558.6 L417.7,558.5 L418.0,558.5 L418.3,558.4 L418.5,558.3 L418.8,558.3 L419.1,558.2 L419.4,558.1 L419.7,558.1 L419.9,558.0 L420.2,557.9 L420.5,557.9 L420.8,557.8 L421.1,557.7 L421.3,557.7 L421.6,557.6 L421.9,557.5 L422.1,557.5 L422.4,557.4 L422.7,557.3 L423.0,557.3 L423.2,557.2 L423.5,557.1 L423.7,557.0 L424.0,557.0 L424.3,556.9 L424.5,556.8 L424.8,556.8 L425.1,556.7 L425.3,556.6 L425.6,556.5 L425.8,556.5 L426.1,556.4 L426.3,556.3 L426.6,556.2 L426.9,556.2 L427.1,556.1 L427.4,556.0 L427.6,555.9 L427.9,555.9 L428.1,555.8 L428.3,555.7 L428.6,555.6 L428.8,555.6 L429.1,555.5 L429.3,555.4 L429.6,555.3 L429.8,555.2 L430.0,555.2 L430.3,555.1 L430.5,555.0 L430.7,554.9 L431.0,554.8 L431.2,554.7 L431.4,554.7 L431.7,554.6 L431.9,554.5 L432.1,554.4 L432.3,554.3 L432.6,554.2 L432.8,554.1 L433.0,554.1 L433.2,554.0 L433.4,553.9 L433.7,553.8 L433.9,553.7 L434.1,553.6 L434.3,553.5 L434.5,553.4 L434.7,553.3 L434.9,553.2 L435.1,553.1 L435.3,553.0 L435.5,552.9 L435.7,552.8 L436.0,552.7 L436.1,552.6 L436.3,552.5 L436.5,552.4 L436.7,552.3 L436.9,552.2 L437.1,552.1 L437.3,552.0 L437.5,551.9 L437.7,551.8 L437.9,551.7 L438.1,551.6 L438.3,551.5 L438.5,551.4 L438.6,551.3 L438.8,551.2 L439.0,551.1 L439.2,551.0 L439.4,550.9 L439.5,550.8 L439.7,550.7 L439.9,550.6 L440.1,550.5 L440.3,550.4 L440.4,550.3 L440.6,550.1 L440.8,550.0 L440.9,549.9 L441.1,549.8 L441.3,549.7 L441.5,549.6 L441.6,549.5 L441.8,549.4 L441.9,549.3 L442.1,549.1 L442.3,549.0 L442.4,548.9 L442.6,548.8 L442.7,548.7 L442.9,548.6 L443.1,548.4 L443.2,548.3 L443.4,548.2 L443.5,548.1 L443.7,548.0 L443.8,547.9 L444.0,547.7 L444.1,547.6 L444.3,547.5 L444.4,547.4 L444.6,547.3 L444.7,547.1 L444.9,547.0 L445.0,546.9 L445.2,546.8 L445.3,546.6 L445.5,546.5 L445.6,546.4 L445.8,546.3 L445.9,546.1 L446.0,546.0 L446.2,545.9 L446.3,545.8 L446.5,545.6 L446.6,545.5 L446.7,545.4 L446.9,545.3 L447.0,545.1 L447.1,545.0 L447.3,544.9 L447.4,544.8 L447.5,544.6 L447.7,544.5 L447.8,544.4 L447.9,544.2 L448.1,544.1 L448.2,544.0 L448.3,543.8 L448.5,543.7 L448.6,543.6 L448.7,543.4 L448.8,543.3 L449.0,543.2 L449.1,543.0 L449.2,542.9 L449.3,542.8 L449.5,542.6 L449.6,542.5 L449.7,542.4 L449.8,542.2 L450.0,542.1 L450.1,542.0 L450.2,541.8 L450.3,541.7 L450.5,541.5 L450.6,541.4 L450.7,541.3 L450.8,541.1 L451.0,541.0 L451.1,540.8 L451.2,540.7 L451.3,540.5 L451.4,540.4 L451.6,540.3 L451.7,540.1 L451.8,540.0 L451.9,539.8 L452.0,539.7 L452.2,539.5 L452.3,539.4 L452.4,539.2 L452.5,539.1 L452.6,538.9 L452.7,538.8 L452.9,538.6 L453.0,538.5 L453.1,538.3 L453.2,538.2 L453.3,538.0 L453.4,537.9 L453.5,537.7 L453.7,537.6 L453.8,537.4 L453.9,537.3 L454.0,537.1 L454.1,536.9 L454.2,536.8 L454.3,536.6 L454.4,536.5 L454.5,536.3 L454.7,536.1 L454.8,536.0 L454.9,535.8 L455.0,535.7 L455.1,535.5 L455.2,535.3 L455.3,535.2 L455.4,535.0 L455.5,534.8 L455.6,534.7 L455.7,534.5 L455.8,534.4 L455.9,534.2 L456.1,534.0 L456.2,533.9 L456.3,533.7 L456.4,533.5 L456.5,533.3 L456.6,533.2 L456.7,533.0 L456.8,532.8 L456.9,532.7 L457.0,532.5 L457.1,532.3 L457.2,532.1 L457.3,532.0 L457.4,531.8 L457.5,531.6 L457.6,531.4 L457.7,531.2 L457.8,531.1 L457.9,530.9 L458.0,530.7 L458.1,530.5 L458.2,530.3 L458.3,530.2 L458.3,530.0 L458.4,529.8 L458.5,529.6 L458.6,529.4 L458.7,529.2 L458.8,529.1 L458.9,528.9 L459.0,528.7 L459.1,528.5 L459.2,528.3 L459.3,528.1 L459.4,527.9 L459.5,527.7 L459.6,527.6 L459.7,527.4 L459.7,527.2 L459.8,527.0 L459.9,526.8 L460.0,526.6 L460.1,526.4 L460.2,526.2 L460.3,526.0 L460.4,525.8 L460.5,525.6 L460.6,525.4 L460.6,525.2 L460.7,525.0 L460.8,524.8 L460.9,524.6 L461.0,524.4 L461.1,524.2 L461.2,524.0 L461.2,523.8 L461.3,523.6 L461.4,523.4 L461.5,523.2 L461.6,523.0 L461.7,522.8 L461.8,522.6 L461.8,522.4 L461.9,522.2 L462.0,521.9 L462.1,521.7 L462.2,521.5 L462.3,521.3 L462.3,521.1 L462.4,520.9 L462.5,520.7 L462.6,520.5 L462.7,520.2 L462.8,520.0 L462.8,519.8 L462.9,519.6 L463.0,519.4 L463.1,519.1 L463.2,518.9 L463.2,518.7 L463.3,518.5 L463.4,518.3 L463.5,518.0 L463.6,517.8 L463.6,517.6 L463.7,517.4 L463.8,517.1 L463.9,516.9 L464.0,516.7 L464.0,516.5 L464.1,516.2 L464.2,516.0 L464.3,515.8 L464.4,515.5 L464.4,515.3 L464.5,515.1 L464.6,514.8 L464.7,514.6 L464.7,514.4 L464.8,514.1 L464.9,513.9 L465.0,513.6 L465.1,513.4 L465.1,513.2 L465.2,512.9 L465.3,512.7 L465.4,512.4 L465.4,512.2 L465.5,512.0 L465.6,511.7 L465.7,511.5 L465.7,511.2 L465.8,511.0 L465.9,510.7 L466.0,510.5 L466.1,510.2 L466.1,510.0 L466.2,509.7 L466.3,509.5 L466.4,509.2 L466.4,509.0 L466.5,508.7 L466.6,508.4 L466.6,508.2 L466.7,507.9 L466.8,507.7 L466.9,507.4 L466.9,507.1 L467.0,506.9 L467.1,506.6 L467.2,506.4 L467.2,506.1 L467.3,505.8 L467.4,505.6 L467.4,505.3 L467.5,505.0 L467.6,504.7 L467.7,504.5 L467.7,504.2 L467.8,503.9 L467.9,503.6 L467.9,503.4 L468.0,503.1 L468.1,502.8 L468.2,502.5 L468.2,502.3 L468.3,502.0 L468.4,501.7 L468.4,501.4 L468.5,501.1 L468.6,500.8 L468.6,500.6 L468.7,500.3 L468.8,500.0 L468.9,499.7 L468.9,499.4 L469.0,499.1 L469.1,498.8 L469.1,498.5 L469.2,498.2 L469.3,497.9 L469.3,497.6 L469.4,497.3 L469.5,497.0 L469.5,496.7 L469.6,496.4 L469.7,496.1 L469.7,495.8 L469.8,495.5 L469.9,495.2 L469.9,494.9 L470.0,494.6 L470.1,494.3 L470.1,494.0 L470.2,493.7 L470.3,493.4 L470.3,493.0 L470.4,492.7 L470.5,492.4 L470.5,492.1 L470.6,491.8 L470.7,491.5 L470.7,491.1 L470.8,490.8 L470.9,490.5 L470.9,490.2 L471.0,489.8 L471.1,489.5 L471.1,489.2 L471.2,488.9 L471.3,488.5 L471.3,488.2 L471.4,487.9 L471.5,487.5 L471.5,487.2 L471.6,486.8 L471.6,486.5 L471.7,486.2 L471.8,485.8 L471.8,485.5 L471.9,485.1 L472.0,484.8 L472.0,484.4 L472.1,484.1 L472.2,483.8 L472.2,483.4 L472.3,483.0 L472.3,482.7 L472.4,482.3 L472.5,482.0 L472.5,481.6 L472.6,481.3 L472.7,480.9 L472.7,480.5 L472.8,480.2 L472.8,479.8 L472.9,479.4 L473.0,479.1 L473.0,478.7 L473.1,478.3 L473.2,478.0 L473.2,477.6 L473.3,477.2 L473.3,476.9 L473.4,476.5 L473.5,476.1 L473.5,475.7 L473.6,475.3 L473.7,475.0 L473.7,474.6 L473.8,474.2 L473.8,473.8 L473.9,473.4 L474.0,473.0 L474.0,472.7 L474.1,472.3 L474.2,471.9 L474.2,471.5 L474.3,471.1 L474.4,470.7 L474.4,470.3 L474.5,469.9 L474.6,469.5 L474.6,469.1 L474.7,468.7 L474.7,468.2 L474.8,467.8 L474.9,467.4 L474.9,467.0 L475.0,466.6 L475.1,466.2 L475.1,465.8 L475.2,465.3 L475.3,464.9 L475.3,464.5 L475.4,464.1 L475.4,463.6 L475.5,463.2 L475.6,462.8 L475.6,462.3 L475.7,461.9 L475.8,461.5 L475.8,461.0 L475.9,460.6 L475.9,460.2 L476.0,459.7 L476.1,459.3 L476.1,458.8 L476.2,458.4 L476.3,457.9 L476.3,457.5 L476.4,457.0 L476.4,456.6 L476.5,456.1 L476.6,455.7 L476.6,455.2 L476.7,454.7 L476.7,454.3 L476.8,453.8 L476.9,453.3 L476.9,452.9 L477.0,452.4 L477.0,451.9 L477.1,451.5 L477.1,451.0 L477.2,450.5 L477.3,450.0 L477.3,449.5 L477.4,449.1 L477.4,448.6 L477.5,448.1 L477.5,447.6 L477.6,447.1 L477.7,446.6 L477.7,446.1 L477.8,445.7 L477.8,445.2 L477.9,444.8 L477.9,444.4 L477.9,444.0 L478.0,443.6 L478.0,443.1 L478.1,442.7 L478.1,442.2 L478.2,441.7 L478.2,441.2 L478.3,440.6 L478.4,440.0 L478.5,439.3 L478.6,438.5 L478.7,437.6 L478.8,436.7 L478.9,435.7 L479.1,434.7 L479.2,433.5 L479.4,432.4 L479.6,431.2 L479.7,430.0 L479.9,428.8 L480.1,427.6 L480.2,426.3 L480.4,425.1 L480.6,424.0 L480.7,422.8 L480.9,421.7 L481.1,420.7 L481.2,419.6 L481.4,418.6 L481.5,417.6 L481.7,416.6 L481.8,415.6 L482.0,414.6 L482.1,413.6 L482.2,412.7 L482.4,411.8 L482.5,410.8 L482.7,410.0 L482.8,409.1 L483.0,408.2 L483.1,407.4 L483.3,406.6 L483.4,405.9 L483.6,405.1 L483.7,404.4 L483.9,403.7 L484.0,403.0 L484.1,402.3 L484.3,401.7 L484.4,401.1 L484.6,400.5 L484.7,399.9 L484.8,399.4 L485.0,398.9 L485.1,398.4 L485.3,397.9 L485.4,397.4 L485.6,397.0 L485.7,396.6 L485.9,396.2 L486.1,395.8 L486.2,395.4 L486.4,395.0 L486.6,394.7 L486.7,394.4 L486.9,394.1 L487.1,393.9 L487.2,393.6 L487.4,393.4 L487.5,393.2 L487.7,393.0 L487.9,392.8 L488.0,392.7 L488.2,392.5 L488.4,392.4 L488.6,392.2 L488.8,392.0 L489.0,391.8 L489.2,391.7 L489.5,391.5 L489.7,391.4 L489.9,391.2 L490.1,391.1 L490.3,391.0 L490.5,391.0 L490.6,390.9 L490.7,390.9 L490.7,390.9 L490.7,390.9 L490.5,391.0 L490.3,391.0 L490.1,391.0 L489.9,390.9 L489.9,390.9 L489.8,390.8 L489.8,390.8 L489.8,390.8 L489.8,390.8 L489.9,390.8 L490.0,390.9 L490.1,391.0 L490.2,391.1 L490.3,391.2 L490.5,391.3 L490.6,391.5 L490.8,391.7 L490.9,391.9 L491.0,392.1 L491.1,392.4 L491.3,392.6 L491.4,392.9 L491.5,393.2 L491.6,393.6 L491.8,393.9 L491.9,394.3 L492.0,394.8 L492.1,395.2 L492.2,395.7 L492.3,396.3 L492.5,396.9 L492.6,397.5 L492.7,398.1 L492.8,398.8 L492.9,399.5 L493.0,400.2 L493.1,401.0 L493.2,401.8 L493.3,402.7 L493.4,403.6 L493.5,404.5 L493.5,405.5 L493.6,406.5 L493.7,407.5 L493.8,408.5 L493.9,409.5 L494.0,410.5 L494.1,411.5 L494.2,412.6 L494.3,413.5 L494.4,414.5 L494.6,415.4 L494.8,416.4 L494.9,417.4 L495.1,418.3 L495.3,419.3 L495.4,420.3 L495.6,421.3 L495.8,422.2 L495.9,423.2 L496.1,424.1 L496.3,425.1 L496.5,426.0 L496.7,426.9 L496.9,427.8 L497.1,428.7 L497.3,429.5 L497.6,430.4 L497.9,431.1 L498.2,431.8 L498.6,432.4 L498.9,433.0 L499.1,433.6 L499.4,434.2 L499.7,434.7 L500.0,435.3 L500.3,435.9 L500.5,436.6 L500.8,437.4 L501.0,438.2 L501.3,439.1 L501.5,440.2 L501.7,441.3 L501.8,442.6 L501.9,443.9 L502.1,445.2 L502.2,446.7 L502.3,448.2 L502.4,449.7 L502.5,451.3 L502.6,452.9 L502.7,454.6 L502.8,456.3 L502.9,458.0 L503.0,459.7 L503.1,461.5 L503.2,463.3 L503.3,465.0 L503.4,466.8 L503.4,468.7 L503.5,470.6 L503.5,472.5 L503.6,474.5 L503.6,476.5 L503.7,478.5 L503.8,480.6 L503.8,482.7 L503.9,484.7 L504.0,486.8 L504.0,488.9 L504.1,490.9 L504.2,493.0 L504.2,495.0 L504.3,497.0 L504.4,499.1 L504.5,501.1 L504.5,503.2 L504.6,505.3 L504.7,507.4 L504.8,509.5 L504.9,511.6 L505.0,513.7 L505.0,515.8 L505.1,517.8 L505.2,519.9 L505.3,521.8 L505.4,523.7 L505.5,525.6 L505.5,527.3 L505.6,529.0 L505.7,530.7 L505.7,532.2 L505.8,533.7 L505.9,535.2 L505.9,536.6 L506.0,537.9 L506.0,539.3 L506.1,540.5 L506.2,541.8 L506.2,543.0 L506.3,544.2 L506.3,545.4 L506.4,546.6 L506.4,547.7 L506.5,548.9 L506.5,550.0 L506.5,551.2 L506.6,552.3 L506.6,553.5 L506.6,554.6 L506.6,555.7 L506.7,556.8 L506.7,557.9 L506.7,559.0 L506.7,560.0 L506.7,561.0 L506.7,562.0 L506.8,562.9 L506.8,563.8 L506.9,564.6 L506.9,565.4 L507.0,566.1 L507.1,566.8 L507.2,567.4 L507.3,568.0 L507.5,568.5 L507.6,569.0 L507.8,569.4 L508.0,569.8 L508.1,570.2 L508.3,570.5 L508.5,570.8 L508.6,571.1 L508.8,571.3 L508.9,571.5 L509.0,571.6 L509.0,571.7 L509.1,571.9 L510.9,571.1 L510.8,570.9 L510.7,570.7 L510.6,570.5 L510.5,570.2 L510.3,570.0 L510.2,569.8 L510.1,569.6 L509.9,569.3 L509.8,569.0 L509.7,568.7 L509.5,568.4 L509.4,568.0 L509.3,567.5 L509.2,567.0 L509.1,566.5 L509.0,565.9 L508.9,565.2 L508.9,564.5 L508.8,563.7 L508.8,562.8 L508.7,561.9 L508.7,561.0 L508.7,560.0 L508.7,559.0 L508.7,557.9 L508.7,556.8 L508.6,555.7 L508.6,554.6 L508.6,553.4 L508.6,552.3 L508.5,551.1 L508.5,550.0 L508.5,548.8 L508.4,547.6 L508.4,546.5 L508.3,545.3 L508.3,544.1 L508.2,542.9 L508.2,541.7 L508.1,540.5 L508.0,539.2 L508.0,537.9 L507.9,536.5 L507.9,535.1 L507.8,533.6 L507.7,532.1 L507.7,530.6 L507.6,529.0 L507.5,527.3 L507.5,525.5 L507.4,523.6 L507.3,521.7 L507.2,519.8 L507.1,517.8 L507.0,515.7 L507.0,513.6 L506.9,511.6 L506.8,509.4 L506.7,507.3 L506.6,505.2 L506.5,503.1 L506.5,501.0 L506.4,499.0 L506.3,497.0 L506.2,495.0 L506.2,492.9 L506.1,490.9 L506.0,488.8 L506.0,486.7 L505.9,484.7 L505.8,482.6 L505.8,480.5 L505.7,478.5 L505.6,476.5 L505.6,474.5 L505.5,472.5 L505.5,470.5 L505.4,468.6 L505.4,466.8 L505.3,465.0 L505.3,463.2 L505.3,461.4 L505.3,459.7 L505.4,457.9 L505.4,456.2 L505.4,454.5 L505.5,452.8 L505.5,451.2 L505.5,449.6 L505.5,448.1 L505.6,446.6 L505.6,445.1 L505.6,443.7 L505.6,442.3 L505.5,441.1 L505.5,439.8 L505.5,438.7 L505.5,437.6 L505.5,436.6 L505.4,435.7 L505.4,434.8 L505.3,434.0 L505.3,433.3 L505.2,432.6 L505.2,431.9 L505.1,431.3 L505.1,430.6 L505.0,430.0 L505.0,429.4 L505.0,428.8 L505.0,428.1 L504.9,427.3 L504.9,426.5 L504.8,425.6 L504.7,424.8 L504.6,423.9 L504.5,422.9 L504.4,422.0 L504.4,421.1 L504.3,420.1 L504.2,419.2 L504.1,418.2 L504.1,417.2 L504.0,416.3 L503.9,415.3 L503.8,414.3 L503.8,413.4 L503.7,412.5 L503.6,411.5 L503.5,410.6 L503.4,409.7 L503.3,408.7 L503.3,407.7 L503.2,406.7 L503.1,405.7 L503.0,404.7 L502.9,403.7 L502.8,402.7 L502.8,401.7 L502.7,400.8 L502.6,399.9 L502.4,398.9 L502.3,398.1 L502.2,397.2 L502.1,396.4 L501.9,395.7 L501.8,395.0 L501.6,394.3 L501.5,393.6 L501.3,393.0 L501.2,392.4 L501.0,391.7 L500.8,391.1 L500.6,390.5 L500.4,389.9 L500.2,389.3 L499.9,388.8 L499.7,388.2 L499.4,387.6 L499.1,387.1 L498.8,386.6 L498.5,386.0 L498.1,385.5 L497.7,385.0 L497.3,384.6 L496.9,384.1 L496.5,383.6 L496.0,383.2 L495.5,382.8 L494.9,382.4 L494.3,382.1 L493.7,381.8 L493.0,381.5 L492.3,381.3 L491.5,381.1 L490.7,381.0 L489.8,381.0 L489.0,381.1 L488.3,381.3 L487.6,381.5 L486.9,381.8 L486.3,382.1 L485.8,382.4 L485.2,382.7 L484.7,383.0 L484.2,383.4 L483.7,383.7 L483.3,384.1 L482.8,384.5 L482.4,384.9 L482.0,385.2 L481.6,385.6 L481.3,386.1 L480.9,386.5 L480.6,386.9 L480.2,387.4 L479.9,387.8 L479.6,388.3 L479.3,388.8 L479.1,389.3 L478.8,389.7 L478.6,390.2 L478.3,390.8 L478.1,391.3 L477.9,391.8 L477.7,392.3 L477.5,392.9 L477.3,393.4 L477.1,394.0 L476.9,394.6 L476.7,395.2 L476.5,395.8 L476.3,396.5 L476.1,397.1 L476.0,397.7 L475.8,398.4 L475.6,399.0 L475.5,399.7 L475.3,400.4 L475.2,401.1 L475.0,401.9 L474.9,402.6 L474.7,403.4 L474.6,404.1 L474.4,405.0 L474.3,405.8 L474.1,406.7 L474.0,407.6 L473.8,408.5 L473.7,409.4 L473.5,410.4 L473.4,411.3 L473.2,412.3 L473.1,413.3 L472.9,414.3 L472.8,415.3 L472.6,416.3 L472.5,417.3 L472.3,418.3 L472.1,419.3 L472.0,420.4 L471.8,421.5 L471.7,422.7 L471.5,423.9 L471.3,425.1 L471.1,426.3 L471.0,427.5 L470.8,428.8 L470.6,430.0 L470.5,431.2 L470.3,432.3 L470.2,433.4 L470.0,434.5 L469.9,435.5 L469.8,436.4 L469.6,437.3 L469.5,438.1 L469.4,438.8 L469.3,439.5 L469.3,440.1 L469.2,440.6 L469.1,441.1 L469.0,441.6 L469.0,442.1 L468.9,442.5 L468.9,442.9 L468.8,443.3 L468.8,443.7 L468.7,444.1 L468.6,444.5 L468.6,445.0 L468.5,445.4 L468.4,445.9 L468.4,446.4 L468.3,446.9 L468.2,447.4 L468.2,447.8 L468.1,448.3 L468.0,448.8 L468.0,449.3 L467.9,449.7 L467.8,450.2 L467.7,450.7 L467.7,451.2 L467.6,451.6 L467.5,452.1 L467.5,452.5 L467.4,453.0 L467.3,453.5 L467.3,453.9 L467.2,454.4 L467.1,454.8 L467.1,455.3 L467.0,455.7 L466.9,456.2 L466.9,456.6 L466.8,457.1 L466.8,457.5 L466.7,457.9 L466.6,458.4 L466.6,458.8 L466.5,459.2 L466.4,459.7 L466.4,460.1 L466.3,460.5 L466.2,461.0 L466.2,461.4 L466.1,461.8 L466.1,462.2 L466.0,462.7 L465.9,463.1 L465.9,463.5 L465.8,463.9 L465.7,464.3 L465.7,464.7 L465.6,465.1 L465.5,465.6 L465.5,466.0 L465.4,466.4 L465.4,466.8 L465.3,467.2 L465.2,467.6 L465.2,468.0 L465.1,468.4 L465.0,468.8 L465.0,469.2 L464.9,469.6 L464.9,469.9 L464.8,470.3 L464.7,470.7 L464.7,471.1 L464.6,471.5 L464.5,471.9 L464.5,472.3 L464.4,472.7 L464.3,473.0 L464.3,473.4 L464.2,473.8 L464.2,474.2 L464.1,474.6 L464.0,474.9 L464.0,475.3 L463.9,475.7 L463.9,476.0 L463.8,476.4 L463.7,476.8 L463.7,477.1 L463.6,477.5 L463.5,477.9 L463.5,478.2 L463.4,478.6 L463.4,478.9 L463.3,479.3 L463.2,479.6 L463.2,480.0 L463.1,480.3 L463.1,480.7 L463.0,481.0 L462.9,481.4 L462.9,481.7 L462.8,482.1 L462.7,482.4 L462.7,482.7 L462.6,483.1 L462.6,483.4 L462.5,483.7 L462.4,484.1 L462.4,484.4 L462.3,484.7 L462.2,485.1 L462.2,485.4 L462.1,485.7 L462.1,486.1 L462.0,486.4 L461.9,486.7 L461.9,487.0 L461.8,487.3 L461.7,487.7 L461.7,488.0 L461.6,488.3 L461.6,488.6 L461.5,488.9 L461.4,489.2 L461.4,489.6 L461.3,489.9 L461.2,490.2 L461.2,490.5 L461.1,490.8 L461.0,491.1 L461.0,491.4 L460.9,491.7 L460.9,492.0 L460.8,492.3 L460.7,492.6 L460.7,492.9 L460.6,493.2 L460.5,493.5 L460.5,493.8 L460.4,494.1 L460.3,494.4 L460.3,494.7 L460.2,494.9 L460.1,495.2 L460.1,495.5 L460.0,495.8 L459.9,496.1 L459.9,496.4 L459.8,496.7 L459.7,496.9 L459.7,497.2 L459.6,497.5 L459.5,497.8 L459.5,498.1 L459.4,498.3 L459.3,498.6 L459.3,498.9 L459.2,499.1 L459.1,499.4 L459.1,499.7 L459.0,500.0 L458.9,500.2 L458.9,500.5 L458.8,500.8 L458.7,501.0 L458.7,501.3 L458.6,501.5 L458.5,501.8 L458.5,502.1 L458.4,502.3 L458.3,502.6 L458.3,502.8 L458.2,503.1 L458.1,503.3 L458.1,503.6 L458.0,503.8 L457.9,504.1 L457.9,504.3 L457.8,504.6 L457.7,504.8 L457.7,505.1 L457.6,505.3 L457.5,505.6 L457.4,505.8 L457.4,506.1 L457.3,506.3 L457.2,506.5 L457.2,506.8 L457.1,507.0 L457.0,507.3 L457.0,507.5 L456.9,507.7 L456.8,508.0 L456.7,508.2 L456.7,508.4 L456.6,508.7 L456.5,508.9 L456.5,509.1 L456.4,509.3 L456.3,509.6 L456.2,509.8 L456.2,510.0 L456.1,510.3 L456.0,510.5 L455.9,510.7 L455.9,510.9 L455.8,511.1 L455.7,511.4 L455.7,511.6 L455.6,511.8 L455.5,512.0 L455.4,512.2 L455.4,512.4 L455.3,512.7 L455.2,512.9 L455.1,513.1 L455.1,513.3 L455.0,513.5 L454.9,513.7 L454.8,513.9 L454.8,514.1 L454.7,514.3 L454.6,514.5 L454.5,514.7 L454.5,514.9 L454.4,515.1 L454.3,515.3 L454.2,515.5 L454.1,515.7 L454.1,515.9 L454.0,516.1 L453.9,516.3 L453.8,516.5 L453.7,516.7 L453.7,516.9 L453.6,517.1 L453.5,517.3 L453.4,517.5 L453.3,517.7 L453.3,517.9 L453.2,518.1 L453.1,518.3 L453.0,518.4 L452.9,518.6 L452.9,518.8 L452.8,519.0 L452.7,519.2 L452.6,519.4 L452.5,519.6 L452.5,519.7 L452.4,519.9 L452.3,520.1 L452.2,520.3 L452.1,520.5 L452.0,520.6 L452.0,520.8 L451.9,521.0 L451.8,521.2 L451.7,521.3 L451.6,521.5 L451.5,521.7 L451.5,521.9 L451.4,522.0 L451.3,522.2 L451.2,522.4 L451.1,522.5 L451.0,522.7 L451.0,522.9 L450.9,523.0 L450.8,523.2 L450.7,523.4 L450.6,523.5 L450.5,523.7 L450.4,523.9 L450.4,524.0 L450.3,524.2 L450.2,524.3 L450.1,524.5 L450.0,524.7 L449.9,524.8 L449.8,525.0 L449.7,525.1 L449.7,525.3 L449.6,525.4 L449.5,525.6 L449.4,525.8 L449.3,525.9 L449.2,526.1 L449.1,526.2 L449.0,526.4 L449.0,526.5 L448.9,526.7 L448.8,526.8 L448.7,527.0 L448.6,527.1 L448.5,527.3 L448.4,527.4 L448.3,527.5 L448.2,527.7 L448.1,527.8 L448.1,528.0 L448.0,528.1 L447.9,528.3 L447.8,528.4 L447.7,528.6 L447.6,528.7 L447.5,528.8 L447.4,529.0 L447.3,529.1 L447.2,529.3 L447.2,529.4 L447.1,529.5 L447.0,529.7 L446.9,529.8 L446.8,529.9 L446.7,530.1 L446.6,530.2 L446.5,530.3 L446.4,530.5 L446.3,530.6 L446.2,530.7 L446.1,530.9 L446.1,531.0 L446.0,531.1 L445.9,531.3 L445.8,531.4 L445.7,531.5 L445.6,531.7 L445.5,531.8 L445.4,531.9 L445.3,532.0 L445.2,532.2 L445.1,532.3 L445.0,532.4 L444.9,532.5 L444.8,532.7 L444.7,532.8 L444.6,532.9 L444.5,533.0 L444.4,533.2 L444.3,533.3 L444.2,533.4 L444.1,533.5 L444.0,533.6 L443.9,533.8 L443.9,533.9 L443.8,534.0 L443.7,534.1 L443.6,534.2 L443.5,534.4 L443.4,534.5 L443.3,534.6 L443.2,534.7 L443.1,534.8 L443.0,534.9 L442.9,535.1 L442.8,535.2 L442.7,535.3 L442.5,535.4 L442.4,535.5 L442.3,535.6 L442.2,535.7 L442.1,535.8 L442.0,536.0 L441.9,536.1 L441.8,536.2 L441.7,536.3 L441.6,536.4 L441.5,536.5 L441.4,536.6 L441.3,536.7 L441.2,536.8 L441.1,536.9 L441.0,537.0 L440.9,537.1 L440.8,537.2 L440.7,537.3 L440.6,537.5 L440.5,537.6 L440.4,537.7 L440.2,537.8 L440.1,537.9 L440.0,538.0 L439.9,538.1 L439.8,538.2 L439.7,538.3 L439.6,538.4 L439.5,538.5 L439.4,538.6 L439.3,538.7 L439.2,538.8 L439.0,538.9 L438.9,538.9 L438.8,539.0 L438.7,539.1 L438.6,539.2 L438.5,539.3 L438.4,539.4 L438.3,539.5 L438.1,539.6 L438.0,539.7 L437.9,539.8 L437.8,539.9 L437.7,540.0 L437.6,540.1 L437.5,540.2 L437.3,540.2 L437.2,540.3 L437.1,540.4 L437.0,540.5 L436.9,540.6 L436.7,540.7 L436.6,540.8 L436.5,540.9 L436.4,540.9 L436.2,541.0 L436.1,541.1 L436.0,541.2 L435.9,541.3 L435.7,541.4 L435.6,541.5 L435.5,541.6 L435.3,541.6 L435.2,541.7 L435.1,541.8 L435.0,541.9 L434.8,542.0 L434.7,542.1 L434.6,542.1 L434.4,542.2 L434.3,542.3 L434.1,542.4 L434.0,542.5 L433.8,542.5 L433.7,542.6 L433.6,542.7 L433.4,542.8 L433.3,542.9 L433.1,543.0 L433.0,543.0 L432.8,543.1 L432.7,543.2 L432.5,543.3 L432.4,543.4 L432.2,543.4 L432.1,543.5 L431.9,543.6 L431.7,543.7 L431.6,543.7 L431.4,543.8 L431.3,543.9 L431.1,544.0 L430.9,544.1 L430.8,544.1 L430.6,544.2 L430.4,544.3 L430.2,544.4 L430.1,544.4 L429.9,544.5 L429.7,544.6 L429.5,544.7 L429.4,544.7 L429.2,544.8 L429.0,544.9 L428.8,545.0 L428.6,545.1 L428.4,545.1 L428.3,545.2 L428.1,545.3 L427.9,545.4 L427.7,545.4 L427.5,545.5 L427.3,545.6 L427.1,545.7 L426.9,545.8 L426.7,545.8 L426.5,545.9 L426.3,546.0 L426.1,546.1 L425.9,546.1 L425.7,546.2 L425.4,546.3 L425.2,546.4 L425.0,546.4 L424.8,546.5 L424.6,546.6 L424.4,546.7 L424.1,546.7 L423.9,546.8 L423.7,546.9 L423.5,547.0 L423.2,547.0 L423.0,547.1 L422.8,547.2 L422.5,547.3 L422.3,547.3 L422.1,547.4 L421.8,547.5 L421.6,547.6 L421.4,547.6 L421.1,547.7 L420.9,547.8 L420.6,547.8 L420.4,547.9 L420.1,548.0 L419.9,548.1 L419.6,548.1 L419.4,548.2 L419.1,548.3 L418.9,548.3 L418.6,548.4 L418.4,548.5 L418.1,548.6 L417.9,548.6 L417.6,548.7 L417.3,548.8 L417.1,548.8 L416.8,548.9 L416.6,549.0 L416.3,549.0 L416.0,549.1 L415.8,549.2 L415.5,549.2 L415.2,549.3 L414.9,549.4 L414.7,549.5 L414.4,549.5 L414.1,549.6 L413.9,549.7 L413.6,549.7 L413.3,549.8 L413.0,549.9 L412.8,550.0 L412.5,550.0 L412.2,550.1 L411.9,550.2 L411.6,550.2 L411.4,550.3 L411.1,550.4 L410.8,550.5 L410.5,550.5 L410.2,550.6 L409.9,550.7 L409.6,550.7 L409.4,550.8 L409.1,550.9 L408.8,550.9 L408.5,551.0 L408.2,551.1 L407.9,551.2 L407.6,551.2 L407.3,551.3 L407.0,551.4 L406.7,551.4 L406.4,551.5 L406.1,551.6 L405.8,551.6 L405.5,551.7 L405.2,551.8 L404.9,551.8 L404.6,551.9 L404.3,552.0 L404.0,552.0 L403.7,552.1 L403.4,552.2 L403.1,552.2 L402.8,552.3 L402.5,552.4 L402.2,552.4 L401.9,552.5 L401.5,552.6 L401.2,552.6 L400.9,552.7 L400.6,552.8 L400.3,552.8 L400.0,552.9 L399.7,553.0 L399.4,553.1 L399.1,553.1 L398.7,553.2 L398.4,553.3 L398.1,553.3 L397.8,553.4 L397.5,553.5 L397.2,553.6 L396.9,553.6 L396.5,553.7 L396.2,553.8 L395.9,553.8 L395.6,553.9 L395.3,554.0 L394.9,554.0 L394.6,554.1 L394.3,554.2 L394.0,554.2 L393.6,554.3 L393.3,554.4 L393.0,554.5 L392.7,554.5 L392.3,554.6 L392.0,554.7 L391.7,554.7 L391.4,554.8 L391.0,554.9 L390.7,554.9 L390.4,555.0 L390.0,555.1 L389.7,555.1 L389.4,555.2 L389.1,555.3 L388.7,555.3 L388.4,555.4 L388.1,555.5 L387.7,555.5 L387.4,555.6 L387.0,555.6 L386.7,555.7 L386.4,555.8 L386.0,555.8 L385.7,555.9 L385.4,556.0 L385.0,556.0 L384.7,556.1 L384.3,556.2 L384.0,556.2 L383.6,556.3 L383.3,556.4 L383.0,556.4 L382.6,556.5 L382.3,556.5 L381.9,556.6 L381.6,556.7 L381.2,556.7 L380.9,556.8 L380.5,556.9 L380.2,556.9 L379.8,557.0 L379.5,557.0 L379.1,557.1 L378.8,557.2 L378.4,557.2 L378.1,557.3 L377.7,557.4 L377.4,557.4 L377.0,557.5 L376.7,557.5 L376.3,557.6 L375.9,557.7 L375.6,557.7 L375.2,557.8 L374.9,557.8 L374.5,557.9 L374.1,558.0 L373.8,558.0 L373.4,558.1 L373.1,558.1 L372.7,558.2 L372.3,558.3 L372.0,558.3 L371.6,558.4 L371.2,558.4 L370.9,558.5 L370.5,558.6 L370.1,558.6 L369.8,558.7 L369.4,558.7 L369.0,558.8 L368.6,558.9 L368.3,558.9 L367.9,559.0 L367.5,559.0 L367.2,559.1 L366.8,559.1 L366.4,559.2 L366.0,559.3 L365.7,559.3 L365.3,559.4 L364.9,559.4 L364.5,559.5 L364.1,559.5 L363.8,559.6 L363.4,559.7 L363.0,559.7 L362.6,559.8 L362.2,559.8 L361.8,559.9 L361.5,559.9 L361.1,560.0 L360.7,560.0 L360.3,560.1 L359.9,560.1 L359.5,560.2 L359.1,560.2 L358.7,560.3 L358.3,560.3 L357.9,560.4 L357.5,560.4 L357.1,560.5 L356.7,560.5 L356.3,560.6 L355.9,560.6 L355.5,560.7 L355.1,560.7 L354.7,560.7 L354.3,560.8 L353.9,560.8 L353.5,560.9 L353.1,560.9 L352.7,560.9 L352.3,561.0 L351.9,561.0 L351.4,561.1 L351.0,561.1 L350.6,561.2 L350.2,561.2 L349.8,561.2 L349.4,561.3 L348.9,561.3 L348.5,561.4 L348.1,561.4 L347.7,561.4 L347.3,561.5 L346.8,561.5 L346.4,561.6 L346.0,561.6 L345.6,561.6 L345.1,561.7 L344.7,561.7 L344.3,561.8 L343.8,561.8 L343.4,561.8 L343.0,561.9 L342.5,561.9 L342.1,561.9 L341.7,562.0 L341.2,562.0 L340.8,562.1 L340.3,562.1 L339.9,562.1 L339.4,562.2 L339.0,562.2 L338.6,562.2 L338.1,562.3 L337.7,562.3 L337.2,562.3 L336.7,562.4 L336.3,562.4 L335.8,562.5 L335.4,562.5 L334.9,562.5 L334.5,562.6 L334.0,562.6 L333.5,562.6 L333.1,562.7 L332.6,562.7 L332.1,562.7 L331.7,562.8 L331.2,562.8 L330.7,562.8 L330.3,562.8 L329.8,562.9 L329.3,562.9 L328.8,562.9 L328.4,563.0 L327.9,563.0 L327.4,563.0 L326.9,563.1 L326.3,563.1 L325.7,563.1 L325.2,563.2 L324.6,563.2 L324.0,563.2 L323.4,563.3 L322.9,563.3 L322.4,563.3 L321.9,563.4 L321.4,563.4 L321.0,563.4 L320.6,563.5 L320.2,563.5 L320.0,563.5Z" fill="#b3213a" stroke="#b3213a" stroke-width="0.6" stroke-linejoin="round"/>
<g><rect x="499.2" y="443.0" width="9.5" height="9.5" fill="#b3213a"/><rect x="499.5" y="458.6" width="9.5" height="9.5" fill="#b3213a"/><rect x="500.0" y="474.2" width="9.5" height="9.5" fill="#b3213a"/><rect x="500.5" y="489.8" width="9.5" height="9.5" fill="#b3213a"/><rect x="501.1" y="505.4" width="9.5" height="9.5" fill="#b3213a"/><rect x="501.7" y="521.0" width="9.5" height="9.5" fill="#b3213a"/></g>
<polyline points="587.0,573.5 671.0,573.5 1062.0,570.0" fill="none" stroke="#76bd28" stroke-width="8.0"/>
<path d="M360.0,564.0 L360.4,564.0 L360.9,564.0 L361.4,564.0 L362.0,563.9 L362.6,563.9 L363.3,563.9 L364.0,563.9 L364.7,563.8 L365.5,563.8 L366.3,563.8 L367.1,563.8 L367.9,563.7 L368.6,563.7 L369.4,563.7 L370.1,563.7 L370.8,563.6 L371.5,563.6 L372.2,563.6 L372.9,563.6 L373.6,563.5 L374.3,563.5 L375.0,563.5 L375.7,563.5 L376.4,563.4 L377.0,563.4 L377.7,563.4 L378.4,563.4 L379.1,563.3 L379.8,563.3 L380.5,563.3 L381.2,563.3 L381.9,563.2 L382.6,563.2 L383.3,563.2 L384.0,563.2 L384.7,563.2 L385.4,563.1 L386.1,563.1 L386.8,563.1 L387.5,563.1 L388.2,563.1 L388.9,563.1 L389.7,563.0 L390.4,563.0 L391.1,563.0 L391.8,563.0 L392.5,563.0 L393.2,562.9 L393.9,562.9 L394.6,562.9 L395.3,562.9 L396.0,562.9 L396.7,562.8 L397.4,562.8 L398.0,562.8 L398.7,562.8 L399.4,562.8 L400.1,562.7 L400.8,562.7 L401.5,562.7 L402.2,562.7 L402.9,562.7 L403.6,562.6 L404.3,562.6 L405.0,562.6 L405.7,562.6 L406.4,562.6 L407.0,562.6 L407.7,562.6 L408.4,562.5 L409.1,562.5 L409.8,562.5 L410.5,562.5 L411.1,562.5 L411.8,562.5 L412.5,562.5 L413.2,562.5 L413.8,562.5 L414.5,562.4 L415.2,562.4 L415.9,562.4 L416.5,562.4 L417.2,562.4 L417.9,562.4 L418.5,562.4 L419.2,562.5 L419.8,562.5 L420.5,562.5 L421.2,562.5 L421.8,562.5 L422.5,562.5 L423.1,562.5 L423.8,562.5 L424.4,562.5 L425.1,562.5 L425.7,562.5 L426.3,562.4 L427.0,562.4 L427.6,562.4 L428.2,562.4 L428.8,562.4 L429.5,562.4 L430.1,562.3 L430.7,562.3 L431.3,562.3 L431.9,562.3 L432.5,562.3 L433.2,562.2 L433.8,562.2 L434.4,562.2 L435.0,562.2 L435.6,562.1 L436.1,562.1 L436.7,562.1 L437.3,562.1 L437.9,562.1 L438.5,562.0 L439.1,562.0 L439.6,562.0 L440.2,562.0 L440.8,561.9 L441.4,561.9 L441.9,561.9 L442.5,561.9 L443.0,561.8 L443.6,561.8 L444.1,561.8 L444.7,561.8 L445.2,561.7 L445.8,561.7 L446.3,561.7 L446.9,561.6 L447.4,561.6 L447.9,561.5 L448.4,561.5 L449.0,561.5 L449.5,561.4 L450.0,561.4 L450.5,561.3 L451.0,561.3 L451.5,561.2 L452.0,561.2 L452.5,561.2 L453.0,561.1 L453.5,561.1 L454.0,561.0 L454.5,561.0 L455.0,560.9 L455.4,560.9 L455.9,560.8 L456.4,560.8 L456.9,560.7 L457.3,560.7 L457.8,560.6 L458.3,560.6 L458.7,560.5 L459.2,560.5 L459.6,560.4 L460.1,560.4 L460.5,560.3 L460.9,560.3 L461.4,560.2 L461.8,560.2 L462.2,560.1 L462.7,560.0 L463.1,560.0 L463.5,559.9 L463.9,559.9 L464.4,559.8 L464.8,559.7 L465.2,559.7 L465.6,559.6 L466.0,559.6 L466.4,559.5 L466.8,559.4 L467.2,559.4 L467.6,559.3 L468.0,559.3 L468.3,559.2 L468.7,559.1 L469.1,559.1 L469.5,559.0 L469.9,558.9 L470.2,558.9 L470.6,558.8 L471.0,558.7 L471.3,558.7 L471.7,558.6 L472.0,558.5 L472.4,558.5 L472.7,558.4 L473.1,558.3 L473.4,558.3 L473.8,558.2 L474.1,558.1 L474.5,558.1 L474.8,558.0 L475.2,557.9 L475.5,557.8 L475.8,557.8 L476.1,557.7 L476.5,557.6 L476.8,557.6 L477.1,557.5 L477.4,557.4 L477.8,557.3 L478.1,557.3 L478.4,557.2 L478.7,557.1 L479.0,557.1 L479.3,557.0 L479.6,556.9 L479.9,556.8 L480.2,556.8 L480.5,556.7 L480.8,556.6 L481.1,556.5 L481.4,556.4 L481.7,556.4 L482.0,556.3 L482.3,556.2 L482.6,556.1 L482.8,556.1 L483.1,556.0 L483.4,555.9 L483.7,555.8 L484.0,555.7 L484.2,555.7 L484.5,555.6 L484.8,555.5 L485.1,555.4 L485.3,555.3 L485.6,555.3 L485.9,555.2 L486.1,555.1 L486.4,555.0 L486.7,554.9 L486.9,554.8 L487.2,554.8 L487.4,554.7 L487.7,554.6 L487.9,554.5 L488.2,554.4 L488.5,554.3 L488.7,554.3 L489.0,554.2 L489.2,554.1 L489.4,554.0 L489.7,553.9 L489.9,553.8 L490.2,553.7 L490.4,553.6 L490.7,553.6 L490.9,553.5 L491.1,553.4 L491.4,553.3 L491.6,553.2 L491.9,553.1 L492.1,553.0 L492.3,552.9 L492.6,552.8 L492.8,552.7 L493.0,552.6 L493.3,552.6 L493.5,552.5 L493.7,552.4 L493.9,552.3 L494.2,552.2 L494.4,552.1 L494.6,552.0 L494.8,551.9 L495.1,551.8 L495.3,551.7 L495.5,551.6 L495.7,551.5 L496.0,551.4 L496.2,551.3 L496.4,551.2 L496.6,551.1 L496.8,551.0 L497.1,550.9 L497.3,550.8 L497.5,550.7 L497.7,550.6 L497.9,550.5 L498.1,550.4 L498.4,550.3 L498.6,550.2 L498.8,550.1 L499.0,550.0 L499.2,549.9 L499.4,549.8 L499.6,549.7 L499.8,549.6 L500.1,549.5 L500.3,549.4 L500.5,549.3 L500.7,549.1 L500.9,549.0 L501.1,548.9 L501.3,548.8 L501.5,548.7 L501.7,548.6 L501.9,548.5 L502.1,548.4 L502.3,548.3 L502.5,548.2 L502.7,548.0 L502.9,547.9 L503.1,547.8 L503.3,547.7 L503.5,547.6 L503.7,547.5 L503.9,547.4 L504.1,547.2 L504.3,547.1 L504.5,547.0 L504.7,546.9 L504.9,546.8 L505.1,546.7 L505.3,546.5 L505.5,546.4 L505.7,546.3 L505.9,546.2 L506.1,546.1 L506.2,545.9 L506.4,545.8 L506.6,545.7 L506.8,545.6 L507.0,545.4 L507.2,545.3 L507.4,545.2 L507.6,545.1 L507.8,544.9 L507.9,544.8 L508.1,544.7 L508.3,544.6 L508.5,544.4 L508.7,544.3 L508.9,544.2 L509.0,544.0 L509.2,543.9 L509.4,543.8 L509.6,543.6 L509.8,543.5 L509.9,543.4 L510.1,543.3 L510.3,543.1 L510.5,543.0 L510.7,542.8 L510.8,542.7 L511.0,542.6 L511.2,542.4 L511.4,542.3 L511.5,542.2 L511.7,542.0 L511.9,541.9 L512.1,541.8 L512.2,541.6 L512.4,541.5 L512.6,541.3 L512.7,541.2 L512.9,541.0 L513.1,540.9 L513.2,540.8 L513.4,540.6 L513.6,540.5 L513.7,540.3 L513.9,540.2 L514.1,540.0 L514.2,539.9 L514.4,539.7 L514.6,539.6 L514.7,539.4 L514.9,539.3 L515.1,539.1 L515.2,539.0 L515.4,538.8 L515.6,538.7 L515.7,538.5 L515.9,538.4 L516.0,538.2 L516.2,538.1 L516.4,537.9 L516.5,537.8 L516.7,537.6 L516.8,537.5 L517.0,537.3 L517.1,537.1 L517.3,537.0 L517.5,536.8 L517.6,536.7 L517.8,536.5 L517.9,536.3 L518.1,536.2 L518.2,536.0 L518.4,535.9 L518.5,535.7 L518.7,535.5 L518.8,535.4 L519.0,535.2 L519.1,535.0 L519.3,534.9 L519.4,534.7 L519.6,534.5 L519.7,534.4 L519.9,534.2 L520.0,534.0 L520.2,533.8 L520.3,533.7 L520.5,533.5 L520.6,533.3 L520.8,533.2 L520.9,533.0 L521.0,532.8 L521.2,532.6 L521.3,532.5 L521.5,532.3 L521.6,532.1 L521.8,531.9 L521.9,531.7 L522.0,531.6 L522.2,531.4 L522.3,531.2 L522.5,531.0 L522.6,530.8 L522.7,530.7 L522.9,530.5 L523.0,530.3 L523.2,530.1 L523.3,529.9 L523.4,529.7 L523.6,529.5 L523.7,529.4 L523.8,529.2 L524.0,529.0 L524.1,528.8 L524.3,528.6 L524.4,528.4 L524.5,528.2 L524.7,528.0 L524.8,527.8 L524.9,527.6 L525.0,527.4 L525.2,527.2 L525.3,527.1 L525.4,526.9 L525.6,526.7 L525.7,526.5 L525.8,526.3 L526.0,526.1 L526.1,525.9 L526.2,525.7 L526.4,525.5 L526.5,525.3 L526.6,525.0 L526.7,524.8 L526.9,524.6 L527.0,524.4 L527.1,524.2 L527.2,524.0 L527.4,523.8 L527.5,523.6 L527.6,523.4 L527.7,523.2 L527.9,523.0 L528.0,522.8 L528.1,522.5 L528.2,522.3 L528.4,522.1 L528.5,521.9 L528.6,521.7 L528.7,521.5 L528.8,521.2 L529.0,521.0 L529.1,520.8 L529.2,520.6 L529.3,520.4 L529.4,520.1 L529.6,519.9 L529.7,519.7 L529.8,519.5 L529.9,519.2 L530.0,519.0 L530.2,518.8 L530.3,518.6 L530.4,518.3 L530.5,518.1 L530.6,517.9 L530.7,517.6 L530.9,517.4 L531.0,517.2 L531.1,516.9 L531.2,516.7 L531.3,516.5 L531.4,516.2 L531.5,516.0 L531.7,515.8 L531.8,515.5 L531.9,515.3 L532.0,515.0 L532.1,514.8 L532.2,514.6 L532.3,514.3 L532.4,514.1 L532.6,513.8 L532.7,513.6 L532.8,513.3 L532.9,513.1 L533.0,512.8 L533.1,512.6 L533.2,512.3 L533.3,512.1 L533.4,511.8 L533.5,511.6 L533.7,511.3 L533.8,511.1 L533.9,510.8 L534.0,510.5 L534.1,510.3 L534.2,510.0 L534.3,509.8 L534.4,509.5 L534.5,509.2 L534.6,509.0 L534.7,508.7 L534.8,508.4 L534.9,508.2 L535.0,507.9 L535.2,507.6 L535.3,507.4 L535.4,507.1 L535.5,506.8 L535.6,506.6 L535.7,506.3 L535.8,506.0 L535.9,505.7 L536.0,505.5 L536.1,505.2 L536.2,504.9 L536.3,504.6 L536.4,504.3 L536.5,504.1 L536.6,503.8 L536.7,503.5 L536.8,503.2 L536.9,502.9 L537.0,502.6 L537.1,502.3 L537.2,502.1 L537.3,501.8 L537.4,501.5 L537.5,501.2 L537.6,500.9 L537.7,500.6 L537.8,500.3 L537.9,500.0 L538.0,499.7 L538.1,499.4 L538.2,499.1 L538.3,498.8 L538.4,498.5 L538.5,498.2 L538.6,497.9 L538.7,497.6 L538.8,497.3 L538.9,497.0 L539.0,496.6 L539.1,496.3 L539.2,496.0 L539.3,495.7 L539.4,495.4 L539.5,495.1 L539.6,494.8 L539.7,494.4 L539.8,494.1 L539.9,493.8 L540.0,493.5 L540.1,493.1 L540.2,492.8 L540.3,492.5 L540.4,492.2 L540.5,491.8 L540.6,491.5 L540.7,491.2 L540.8,490.8 L540.9,490.5 L541.0,490.2 L541.1,489.8 L541.2,489.5 L541.3,489.2 L541.4,488.8 L541.4,488.5 L541.5,488.1 L541.6,487.8 L541.7,487.4 L541.8,487.1 L541.9,486.8 L542.0,486.4 L542.1,486.0 L542.2,485.7 L542.3,485.3 L542.4,485.0 L542.5,484.6 L542.6,484.3 L542.7,483.9 L542.8,483.6 L542.9,483.2 L543.0,482.8 L543.1,482.5 L543.2,482.1 L543.3,481.7 L543.3,481.4 L543.4,481.0 L543.5,480.6 L543.6,480.2 L543.7,479.9 L543.8,479.5 L543.9,479.1 L544.0,478.7 L544.1,478.3 L544.2,478.0 L544.3,477.6 L544.4,477.2 L544.5,476.8 L544.6,476.4 L544.7,476.0 L544.8,475.6 L544.8,475.2 L544.9,474.8 L545.0,474.4 L545.1,474.0 L545.2,473.7 L545.3,473.2 L545.4,472.8 L545.5,472.4 L545.6,472.0 L545.7,471.6 L545.8,471.2 L545.9,470.8 L546.0,470.4 L546.1,470.0 L546.2,469.6 L546.3,469.1 L546.3,468.7 L546.4,468.3 L546.5,467.9 L546.6,467.5 L546.7,467.0 L546.8,466.6 L546.9,466.2 L547.0,465.7 L547.1,465.3 L547.2,464.9 L547.3,464.4 L547.4,464.0 L547.5,463.6 L547.6,463.1 L547.7,462.7 L547.8,462.2 L547.8,461.8 L547.9,461.3 L548.0,460.9 L548.1,460.4 L548.2,460.0 L548.3,459.5 L548.4,459.1 L548.5,458.6 L548.6,458.2 L548.7,457.7 L548.8,457.2 L548.9,456.8 L549.0,456.3 L549.1,455.8 L549.2,455.3 L549.3,454.9 L549.4,454.4 L549.4,453.9 L549.5,453.4 L549.6,453.0 L549.7,452.5 L549.8,452.0 L549.9,451.5 L550.0,451.0 L550.1,450.5 L550.2,450.0 L550.3,449.5 L550.4,449.0 L550.5,448.5 L550.6,448.0 L550.7,447.5 L550.8,447.0 L550.9,446.5 L551.0,446.0 L551.1,445.5 L551.2,445.0 L551.3,444.5 L551.4,443.9 L551.5,443.4 L551.6,442.9 L551.7,442.4 L551.7,441.9 L551.8,441.3 L551.9,440.8 L552.0,440.3 L552.1,439.7 L552.2,439.2 L552.3,438.7 L552.4,438.1 L552.5,437.6 L552.6,437.0 L552.7,436.5 L552.8,435.9 L552.9,435.4 L553.0,434.8 L553.1,434.3 L553.2,433.7 L553.3,433.1 L553.4,432.6 L553.5,432.0 L553.6,431.4 L553.7,430.9 L553.8,430.3 L553.9,429.7 L554.0,429.2 L554.1,428.6 L554.2,428.0 L554.3,427.4 L554.4,426.8 L554.5,426.2 L554.6,425.6 L554.7,425.0 L554.8,424.4 L554.9,423.8 L555.0,423.2 L555.1,422.6 L555.2,422.0 L555.3,421.4 L555.4,420.8 L555.5,420.1 L555.6,419.5 L555.7,418.9 L555.8,418.3 L555.9,417.7 L555.9,417.0 L556.0,416.4 L556.1,415.8 L556.2,415.1 L556.3,414.5 L556.4,413.9 L556.5,413.2 L556.6,412.6 L556.7,411.9 L556.8,411.3 L556.9,410.6 L557.0,410.0 L557.1,409.3 L557.2,408.7 L557.3,408.0 L557.4,407.4 L557.4,406.7 L557.5,406.0 L557.6,405.3 L557.7,404.7 L557.8,404.0 L557.9,403.3 L558.0,402.6 L558.1,401.9 L558.2,401.3 L558.3,400.6 L558.4,400.0 L558.5,399.4 L558.6,398.7 L558.7,398.1 L558.8,397.4 L558.9,396.8 L559.0,396.1 L559.1,395.4 L559.2,394.6 L559.3,393.9 L559.4,393.1 L559.5,392.2 L559.6,391.4 L559.7,390.4 L559.8,389.5 L559.9,388.5 L560.0,387.5 L560.1,386.4 L560.2,385.3 L560.3,384.2 L560.3,383.1 L560.4,382.0 L560.5,380.8 L560.6,379.7 L560.7,378.5 L560.8,377.3 L560.9,376.1 L561.0,374.9 L561.1,373.6 L561.2,372.4 L561.4,371.1 L561.5,369.8 L561.7,368.5 L561.8,367.1 L562.0,365.7 L562.1,364.3 L562.3,362.8 L562.5,361.4 L562.6,360.0 L562.8,358.6 L563.0,357.2 L563.2,355.8 L563.4,354.4 L563.6,353.1 L563.8,351.9 L563.9,350.7 L564.1,349.5 L564.3,348.3 L564.5,347.1 L564.7,346.0 L564.9,344.8 L565.1,343.7 L565.3,342.6 L565.5,341.5 L565.8,340.5 L566.0,339.5 L566.2,338.5 L566.4,337.6 L566.6,336.7 L566.8,335.9 L567.1,335.1 L567.3,334.4 L567.6,333.7 L567.8,333.0 L568.1,332.3 L568.4,331.7 L568.6,331.1 L568.9,330.5 L569.2,330.0 L569.4,329.6 L569.6,329.3 L569.8,329.1 L569.9,328.9 L569.9,329.0 L569.8,329.1 L569.4,329.4 L568.7,329.8 L567.5,330.0 L566.3,329.8 L565.6,329.4 L565.2,329.1 L565.1,329.0 L565.1,328.9 L565.2,329.1 L565.4,329.3 L565.6,329.6 L565.8,330.0 L566.1,330.5 L566.4,331.1 L566.6,331.7 L566.9,332.3 L567.2,333.0 L567.4,333.7 L567.7,334.4 L568.0,335.0 L568.4,335.8 L568.7,336.7 L569.1,337.6 L569.4,338.5 L569.8,339.6 L570.1,340.6 L570.5,341.7 L570.8,342.8 L571.1,344.0 L571.5,345.1 L571.8,346.2 L572.1,347.3 L572.4,348.4 L572.7,349.4 L573.0,350.4 L573.3,351.4 L573.5,352.3 L573.7,353.3 L573.9,354.2 L574.1,355.1 L574.3,356.1 L574.4,357.0 L574.6,357.9 L574.8,358.8 L575.0,359.7 L575.1,360.6 L575.3,361.5 L575.5,362.4 L575.7,363.3 L575.8,364.3 L576.0,365.2 L576.2,366.1 L576.3,366.9 L576.4,367.6 L576.6,368.2 L576.7,368.8 L576.9,369.4 L577.0,370.0 L577.1,370.6 L577.3,371.3 L577.4,372.1 L577.5,373.0 L577.7,374.0 L577.8,375.2 L578.0,376.6 L578.1,378.2 L578.3,380.1 L578.4,382.2 L578.6,384.5 L578.8,387.1 L578.9,389.9 L579.1,392.8 L579.3,395.9 L579.5,399.0 L579.7,402.3 L579.9,405.6 L580.1,409.0 L580.2,412.3 L580.4,415.6 L580.6,418.9 L580.7,422.1 L580.9,425.1 L581.0,428.0 L581.1,430.9 L581.2,433.7 L581.3,436.4 L581.4,439.1 L581.5,441.8 L581.6,444.5 L581.7,447.2 L581.8,449.8 L581.8,452.5 L581.9,455.1 L582.0,457.8 L582.1,460.4 L582.1,463.0 L582.2,465.7 L582.2,468.3 L582.3,471.0 L582.4,473.7 L582.4,476.4 L582.4,479.1 L582.5,481.8 L582.5,484.5 L582.5,487.2 L582.6,489.9 L582.6,492.6 L582.6,495.3 L582.7,498.0 L582.7,500.7 L582.7,503.4 L582.8,506.1 L582.9,508.7 L582.9,511.4 L583.0,514.0 L583.1,516.7 L583.2,519.5 L583.3,522.3 L583.4,525.1 L583.5,528.0 L583.7,530.9 L583.8,533.7 L584.0,536.5 L584.1,539.3 L584.2,542.0 L584.4,544.5 L584.5,547.0 L584.6,549.3 L584.8,551.4 L584.9,553.3 L585.0,555.1 L585.1,556.6 L585.2,557.9 L585.3,559.1 L585.4,560.0 L585.5,560.9 L585.6,561.6 L585.6,562.2 L585.7,562.8 L585.8,563.2 L585.9,563.7 L586.0,564.1 L586.1,564.4 L586.2,564.8 L586.3,565.2 L586.4,565.7 L586.5,566.2 L586.7,566.8 L586.8,567.4 L587.0,568.0 L587.2,568.6 L587.3,569.2 L587.5,569.7 L587.7,570.3 L587.9,570.8 L588.1,571.3 L588.3,571.7 L588.4,572.2 L588.6,572.6 L588.7,573.0 L588.9,573.3 L589.0,573.6 L589.1,573.8 L590.9,573.2 L590.9,572.9 L590.7,572.6 L590.6,572.2 L590.5,571.9 L590.3,571.5 L590.1,571.0 L590.0,570.6 L589.8,570.1 L589.6,569.6 L589.4,569.1 L589.2,568.5 L589.1,568.0 L588.9,567.5 L588.7,566.9 L588.6,566.3 L588.5,565.8 L588.4,565.2 L588.2,564.8 L588.1,564.3 L588.0,564.0 L587.9,563.6 L587.9,563.2 L587.8,562.9 L587.7,562.4 L587.6,561.9 L587.5,561.4 L587.5,560.7 L587.4,559.8 L587.3,558.9 L587.2,557.8 L587.1,556.4 L587.0,554.9 L586.9,553.2 L586.8,551.3 L586.6,549.1 L586.5,546.8 L586.4,544.4 L586.2,541.9 L586.1,539.2 L585.9,536.5 L585.8,533.6 L585.7,530.8 L585.5,527.9 L585.4,525.1 L585.3,522.2 L585.2,519.4 L585.1,516.6 L585.0,514.0 L584.9,511.3 L584.9,508.7 L584.8,506.0 L584.7,503.4 L584.7,500.7 L584.7,498.0 L584.6,495.3 L584.6,492.6 L584.6,489.9 L584.5,487.2 L584.5,484.5 L584.5,481.8 L584.4,479.1 L584.4,476.4 L584.4,473.7 L584.3,471.0 L584.2,468.3 L584.2,465.6 L584.1,463.0 L584.0,460.3 L584.0,457.7 L583.9,455.1 L583.8,452.4 L583.8,449.8 L583.7,447.1 L583.6,444.5 L583.5,441.8 L583.4,439.1 L583.3,436.3 L583.2,433.6 L583.1,430.8 L583.0,428.0 L582.9,425.0 L582.7,422.0 L582.6,418.8 L582.4,415.5 L582.2,412.2 L582.0,408.9 L581.9,405.5 L581.7,402.2 L581.5,398.9 L581.3,395.7 L581.1,392.7 L580.9,389.7 L580.8,387.0 L580.6,384.4 L580.4,382.0 L580.3,379.9 L580.2,378.1 L580.1,376.5 L580.0,375.0 L579.9,373.8 L579.8,372.7 L579.7,371.8 L579.7,371.0 L579.6,370.2 L579.5,369.6 L579.4,369.0 L579.4,368.4 L579.3,367.7 L579.2,367.1 L579.1,366.4 L579.1,365.7 L579.0,364.8 L578.9,363.9 L578.9,362.9 L578.8,362.0 L578.8,361.1 L578.7,360.2 L578.7,359.2 L578.6,358.3 L578.6,357.4 L578.5,356.4 L578.5,355.5 L578.4,354.5 L578.3,353.6 L578.3,352.6 L578.2,351.6 L578.1,350.6 L578.0,349.6 L577.9,348.5 L577.9,347.4 L577.8,346.3 L577.7,345.2 L577.6,344.0 L577.5,342.8 L577.4,341.6 L577.3,340.4 L577.2,339.2 L577.1,338.0 L577.0,336.9 L576.9,335.8 L576.7,334.7 L576.6,333.6 L576.5,332.6 L576.3,331.6 L576.0,330.8 L575.8,330.0 L575.5,329.1 L575.3,328.3 L575.0,327.5 L574.7,326.7 L574.4,326.0 L574.0,325.2 L573.7,324.5 L573.3,323.8 L572.8,323.1 L572.2,322.4 L571.5,321.6 L570.6,320.9 L569.2,320.3 L567.5,320.0 L565.8,320.3 L564.4,320.9 L563.5,321.6 L562.8,322.4 L562.2,323.1 L561.7,323.8 L561.3,324.5 L561.0,325.2 L560.6,326.0 L560.3,326.7 L560.0,327.5 L559.7,328.3 L559.5,329.1 L559.2,330.0 L559.0,330.8 L558.7,331.6 L558.4,332.5 L558.2,333.5 L557.9,334.4 L557.7,335.4 L557.4,336.5 L557.2,337.5 L556.9,338.6 L556.7,339.7 L556.5,340.9 L556.3,342.0 L556.1,343.2 L555.8,344.4 L555.6,345.6 L555.4,346.9 L555.2,348.1 L555.1,349.3 L554.9,350.6 L554.7,351.9 L554.5,353.3 L554.4,354.7 L554.2,356.1 L554.1,357.6 L553.9,359.0 L553.8,360.5 L553.6,361.9 L553.5,363.4 L553.4,364.8 L553.2,366.2 L553.1,367.6 L553.0,369.0 L552.9,370.3 L552.8,371.6 L552.6,372.8 L552.5,374.1 L552.4,375.4 L552.3,376.6 L552.2,377.8 L552.1,379.0 L552.0,380.2 L552.0,381.3 L551.9,382.5 L551.8,383.6 L551.7,384.7 L551.6,385.7 L551.5,386.7 L551.5,387.7 L551.4,388.7 L551.3,389.6 L551.2,390.4 L551.1,391.2 L551.0,392.0 L550.9,392.8 L550.8,393.5 L550.7,394.2 L550.6,394.8 L550.5,395.5 L550.4,396.1 L550.3,396.8 L550.2,397.4 L550.1,398.1 L550.0,398.7 L549.9,399.4 L549.8,400.1 L549.7,400.7 L549.6,401.4 L549.5,402.1 L549.4,402.8 L549.3,403.5 L549.2,404.1 L549.1,404.8 L549.0,405.5 L548.9,406.1 L548.8,406.8 L548.7,407.5 L548.7,408.1 L548.6,408.8 L548.5,409.4 L548.4,410.1 L548.3,410.7 L548.2,411.4 L548.1,412.0 L548.0,412.6 L547.9,413.3 L547.8,413.9 L547.7,414.6 L547.6,415.2 L547.5,415.8 L547.4,416.4 L547.4,417.0 L547.3,417.7 L547.2,418.3 L547.1,418.9 L547.0,419.5 L546.9,420.1 L546.8,420.7 L546.7,421.3 L546.6,421.9 L546.5,422.5 L546.4,423.0 L546.3,423.6 L546.2,424.2 L546.1,424.8 L546.0,425.4 L545.9,426.0 L545.8,426.5 L545.7,427.1 L545.6,427.7 L545.5,428.3 L545.4,428.8 L545.3,429.4 L545.2,430.0 L545.1,430.5 L545.0,431.1 L544.9,431.7 L544.8,432.2 L544.7,432.8 L544.7,433.3 L544.6,433.9 L544.5,434.4 L544.4,435.0 L544.3,435.5 L544.2,436.1 L544.1,436.6 L544.0,437.1 L543.9,437.7 L543.8,438.2 L543.7,438.7 L543.6,439.3 L543.5,439.8 L543.4,440.3 L543.3,440.8 L543.2,441.4 L543.1,441.9 L543.0,442.4 L542.9,442.9 L542.8,443.4 L542.7,443.9 L542.6,444.4 L542.5,444.9 L542.4,445.4 L542.3,445.9 L542.2,446.4 L542.1,446.9 L542.1,447.4 L542.0,447.9 L541.9,448.4 L541.8,448.9 L541.7,449.4 L541.6,449.9 L541.5,450.4 L541.4,450.8 L541.3,451.3 L541.2,451.8 L541.1,452.3 L541.0,452.7 L540.9,453.2 L540.8,453.7 L540.7,454.1 L540.6,454.6 L540.5,455.1 L540.5,455.5 L540.4,456.0 L540.3,456.5 L540.2,456.9 L540.1,457.4 L540.0,457.8 L539.9,458.3 L539.8,458.7 L539.7,459.2 L539.6,459.6 L539.5,460.0 L539.4,460.5 L539.3,460.9 L539.2,461.4 L539.2,461.8 L539.1,462.2 L539.0,462.7 L538.9,463.1 L538.8,463.5 L538.7,463.9 L538.6,464.4 L538.5,464.8 L538.4,465.2 L538.3,465.6 L538.2,466.0 L538.1,466.5 L538.0,466.9 L538.0,467.3 L537.9,467.7 L537.8,468.1 L537.7,468.5 L537.6,468.9 L537.5,469.3 L537.4,469.7 L537.3,470.1 L537.2,470.5 L537.1,470.9 L537.0,471.3 L536.9,471.7 L536.9,472.1 L536.8,472.5 L536.7,472.9 L536.6,473.3 L536.5,473.7 L536.4,474.0 L536.3,474.4 L536.2,474.8 L536.1,475.2 L536.0,475.6 L535.9,475.9 L535.8,476.3 L535.8,476.7 L535.7,477.1 L535.6,477.4 L535.5,477.8 L535.4,478.2 L535.3,478.5 L535.2,478.9 L535.1,479.3 L535.0,479.6 L534.9,480.0 L534.8,480.3 L534.7,480.7 L534.6,481.0 L534.6,481.4 L534.5,481.8 L534.4,482.1 L534.3,482.5 L534.2,482.8 L534.1,483.1 L534.0,483.5 L533.9,483.8 L533.8,484.2 L533.7,484.5 L533.6,484.9 L533.5,485.2 L533.4,485.5 L533.4,485.9 L533.3,486.2 L533.2,486.5 L533.1,486.9 L533.0,487.2 L532.9,487.5 L532.8,487.8 L532.7,488.2 L532.6,488.5 L532.5,488.8 L532.4,489.1 L532.3,489.4 L532.2,489.8 L532.1,490.1 L532.0,490.4 L532.0,490.7 L531.9,491.0 L531.8,491.3 L531.7,491.6 L531.6,492.0 L531.5,492.3 L531.4,492.6 L531.3,492.9 L531.2,493.2 L531.1,493.5 L531.0,493.8 L530.9,494.1 L530.8,494.4 L530.7,494.7 L530.6,495.0 L530.5,495.3 L530.4,495.6 L530.3,495.8 L530.3,496.1 L530.2,496.4 L530.1,496.7 L530.0,497.0 L529.9,497.3 L529.8,497.6 L529.7,497.9 L529.6,498.1 L529.5,498.4 L529.4,498.7 L529.3,499.0 L529.2,499.2 L529.1,499.5 L529.0,499.8 L528.9,500.1 L528.8,500.3 L528.7,500.6 L528.6,500.9 L528.5,501.2 L528.4,501.4 L528.3,501.7 L528.2,502.0 L528.1,502.2 L528.0,502.5 L527.9,502.7 L527.8,503.0 L527.7,503.3 L527.6,503.5 L527.5,503.8 L527.4,504.0 L527.3,504.3 L527.2,504.5 L527.1,504.8 L527.0,505.0 L526.9,505.3 L526.8,505.5 L526.7,505.8 L526.6,506.0 L526.5,506.3 L526.4,506.5 L526.3,506.8 L526.2,507.0 L526.1,507.3 L526.0,507.5 L525.9,507.7 L525.8,508.0 L525.7,508.2 L525.6,508.5 L525.5,508.7 L525.4,508.9 L525.3,509.2 L525.2,509.4 L525.1,509.6 L525.0,509.9 L524.9,510.1 L524.8,510.3 L524.7,510.5 L524.6,510.8 L524.5,511.0 L524.4,511.2 L524.3,511.4 L524.2,511.7 L524.1,511.9 L524.0,512.1 L523.9,512.3 L523.8,512.5 L523.7,512.8 L523.6,513.0 L523.5,513.2 L523.3,513.4 L523.2,513.6 L523.1,513.8 L523.0,514.1 L522.9,514.3 L522.8,514.5 L522.7,514.7 L522.6,514.9 L522.5,515.1 L522.4,515.3 L522.3,515.5 L522.2,515.7 L522.1,515.9 L522.0,516.1 L521.8,516.3 L521.7,516.5 L521.6,516.7 L521.5,516.9 L521.4,517.1 L521.3,517.3 L521.2,517.5 L521.1,517.7 L521.0,517.9 L520.9,518.1 L520.7,518.3 L520.6,518.5 L520.5,518.7 L520.4,518.9 L520.3,519.1 L520.2,519.2 L520.1,519.4 L520.0,519.6 L519.8,519.8 L519.7,520.0 L519.6,520.2 L519.5,520.4 L519.4,520.5 L519.3,520.7 L519.2,520.9 L519.1,521.1 L518.9,521.3 L518.8,521.5 L518.7,521.6 L518.6,521.8 L518.5,522.0 L518.4,522.2 L518.2,522.3 L518.1,522.5 L518.0,522.7 L517.9,522.9 L517.8,523.0 L517.7,523.2 L517.5,523.4 L517.4,523.5 L517.3,523.7 L517.2,523.9 L517.1,524.0 L516.9,524.2 L516.8,524.4 L516.7,524.5 L516.6,524.7 L516.5,524.9 L516.3,525.0 L516.2,525.2 L516.1,525.4 L516.0,525.5 L515.9,525.7 L515.7,525.8 L515.6,526.0 L515.5,526.2 L515.4,526.3 L515.2,526.5 L515.1,526.6 L515.0,526.8 L514.9,526.9 L514.7,527.1 L514.6,527.3 L514.5,527.4 L514.4,527.6 L514.2,527.7 L514.1,527.9 L514.0,528.0 L513.9,528.2 L513.7,528.3 L513.6,528.5 L513.5,528.6 L513.3,528.8 L513.2,528.9 L513.1,529.0 L513.0,529.2 L512.8,529.3 L512.7,529.5 L512.6,529.6 L512.4,529.8 L512.3,529.9 L512.2,530.1 L512.0,530.2 L511.9,530.3 L511.8,530.5 L511.6,530.6 L511.5,530.8 L511.4,530.9 L511.2,531.0 L511.1,531.2 L511.0,531.3 L510.8,531.4 L510.7,531.6 L510.6,531.7 L510.4,531.8 L510.3,532.0 L510.1,532.1 L510.0,532.2 L509.9,532.4 L509.7,532.5 L509.6,532.6 L509.4,532.8 L509.3,532.9 L509.2,533.0 L509.0,533.2 L508.9,533.3 L508.7,533.4 L508.6,533.5 L508.5,533.7 L508.3,533.8 L508.2,533.9 L508.0,534.0 L507.9,534.2 L507.7,534.3 L507.6,534.4 L507.4,534.5 L507.3,534.7 L507.1,534.8 L507.0,534.9 L506.9,535.0 L506.7,535.1 L506.6,535.3 L506.4,535.4 L506.3,535.5 L506.1,535.6 L506.0,535.7 L505.8,535.9 L505.6,536.0 L505.5,536.1 L505.3,536.2 L505.2,536.3 L505.0,536.4 L504.9,536.6 L504.7,536.7 L504.6,536.8 L504.4,536.9 L504.3,537.0 L504.1,537.1 L503.9,537.2 L503.8,537.4 L503.6,537.5 L503.5,537.6 L503.3,537.7 L503.1,537.8 L503.0,537.9 L502.8,538.0 L502.7,538.1 L502.5,538.2 L502.3,538.3 L502.2,538.4 L502.0,538.6 L501.8,538.7 L501.7,538.8 L501.5,538.9 L501.3,539.0 L501.2,539.1 L501.0,539.2 L500.8,539.3 L500.7,539.4 L500.5,539.5 L500.3,539.6 L500.1,539.7 L500.0,539.8 L499.8,539.9 L499.6,540.0 L499.4,540.1 L499.3,540.2 L499.1,540.3 L498.9,540.4 L498.7,540.5 L498.6,540.6 L498.4,540.7 L498.2,540.8 L498.0,540.9 L497.9,541.0 L497.7,541.1 L497.5,541.2 L497.3,541.3 L497.1,541.4 L496.9,541.5 L496.8,541.6 L496.6,541.7 L496.4,541.8 L496.2,541.9 L496.0,542.0 L495.8,542.1 L495.6,542.2 L495.4,542.3 L495.3,542.4 L495.1,542.5 L494.9,542.5 L494.7,542.6 L494.5,542.7 L494.3,542.8 L494.1,542.9 L493.9,543.0 L493.7,543.1 L493.5,543.2 L493.3,543.3 L493.1,543.4 L492.9,543.5 L492.7,543.5 L492.5,543.6 L492.3,543.7 L492.1,543.8 L491.9,543.9 L491.7,544.0 L491.5,544.1 L491.3,544.2 L491.1,544.2 L490.9,544.3 L490.7,544.4 L490.5,544.5 L490.3,544.6 L490.1,544.7 L489.9,544.8 L489.6,544.8 L489.4,544.9 L489.2,545.0 L489.0,545.1 L488.8,545.2 L488.6,545.3 L488.4,545.3 L488.2,545.4 L487.9,545.5 L487.7,545.6 L487.5,545.7 L487.3,545.7 L487.1,545.8 L486.8,545.9 L486.6,546.0 L486.4,546.1 L486.2,546.1 L485.9,546.2 L485.7,546.3 L485.5,546.4 L485.2,546.4 L485.0,546.5 L484.8,546.6 L484.5,546.7 L484.3,546.8 L484.1,546.8 L483.8,546.9 L483.6,547.0 L483.3,547.1 L483.1,547.1 L482.9,547.2 L482.6,547.3 L482.4,547.4 L482.1,547.4 L481.9,547.5 L481.6,547.6 L481.4,547.7 L481.1,547.7 L480.8,547.8 L480.6,547.9 L480.3,547.9 L480.1,548.0 L479.8,548.1 L479.5,548.2 L479.3,548.2 L479.0,548.3 L478.7,548.4 L478.4,548.4 L478.2,548.5 L477.9,548.6 L477.6,548.6 L477.3,548.7 L477.0,548.8 L476.7,548.9 L476.4,548.9 L476.2,549.0 L475.9,549.1 L475.6,549.1 L475.3,549.2 L475.0,549.3 L474.7,549.3 L474.3,549.4 L474.0,549.5 L473.7,549.5 L473.4,549.6 L473.1,549.7 L472.8,549.7 L472.5,549.8 L472.1,549.9 L471.8,549.9 L471.5,550.0 L471.1,550.0 L470.8,550.1 L470.5,550.2 L470.1,550.2 L469.8,550.3 L469.4,550.4 L469.1,550.4 L468.7,550.5 L468.4,550.6 L468.0,550.6 L467.7,550.7 L467.3,550.7 L466.9,550.8 L466.6,550.9 L466.2,550.9 L465.8,551.0 L465.4,551.1 L465.1,551.1 L464.7,551.2 L464.3,551.2 L463.9,551.3 L463.5,551.4 L463.1,551.4 L462.7,551.5 L462.3,551.5 L461.9,551.6 L461.5,551.7 L461.1,551.7 L460.7,551.8 L460.2,551.8 L459.8,551.9 L459.4,552.0 L459.0,552.0 L458.5,552.1 L458.1,552.2 L457.6,552.2 L457.2,552.3 L456.8,552.4 L456.3,552.4 L455.9,552.5 L455.4,552.5 L454.9,552.6 L454.5,552.7 L454.0,552.7 L453.5,552.8 L453.1,552.9 L452.6,552.9 L452.1,553.0 L451.6,553.0 L451.1,553.1 L450.6,553.2 L450.2,553.2 L449.7,553.3 L449.2,553.4 L448.6,553.4 L448.1,553.5 L447.6,553.6 L447.1,553.6 L446.6,553.7 L446.1,553.8 L445.6,553.8 L445.0,553.9 L444.5,553.9 L444.0,554.0 L443.4,554.1 L442.9,554.2 L442.3,554.2 L441.8,554.3 L441.2,554.4 L440.7,554.5 L440.1,554.5 L439.6,554.6 L439.0,554.7 L438.4,554.8 L437.9,554.9 L437.3,554.9 L436.7,555.0 L436.2,555.1 L435.6,555.2 L435.0,555.2 L434.4,555.3 L433.8,555.4 L433.2,555.4 L432.6,555.5 L432.0,555.6 L431.4,555.7 L430.8,555.7 L430.2,555.8 L429.6,555.9 L429.0,556.0 L428.4,556.0 L427.8,556.1 L427.1,556.2 L426.5,556.2 L425.9,556.3 L425.3,556.4 L424.6,556.5 L424.0,556.6 L423.4,556.7 L422.7,556.8 L422.1,556.8 L421.4,556.9 L420.8,557.0 L420.1,557.1 L419.5,557.2 L418.8,557.3 L418.2,557.4 L417.5,557.5 L416.9,557.6 L416.2,557.6 L415.6,557.7 L414.9,557.8 L414.2,557.9 L413.6,558.0 L412.9,558.0 L412.2,558.1 L411.6,558.2 L410.9,558.2 L410.2,558.3 L409.5,558.4 L408.9,558.5 L408.2,558.5 L407.5,558.6 L406.8,558.7 L406.1,558.7 L405.4,558.8 L404.8,558.9 L404.1,558.9 L403.4,559.0 L402.7,559.1 L402.0,559.1 L401.3,559.2 L400.6,559.2 L399.9,559.3 L399.3,559.3 L398.6,559.4 L397.9,559.5 L397.2,559.5 L396.5,559.6 L395.8,559.6 L395.1,559.7 L394.4,559.7 L393.7,559.8 L393.0,559.8 L392.3,559.9 L391.6,559.9 L390.9,560.0 L390.2,560.1 L389.5,560.1 L388.8,560.2 L388.1,560.2 L387.4,560.3 L386.7,560.3 L386.0,560.4 L385.3,560.4 L384.6,560.5 L383.9,560.5 L383.2,560.6 L382.5,560.6 L381.8,560.7 L381.1,560.7 L380.4,560.8 L379.7,560.8 L379.0,560.9 L378.3,560.9 L377.6,560.9 L376.9,561.0 L376.2,561.0 L375.5,561.1 L374.8,561.1 L374.2,561.2 L373.5,561.2 L372.8,561.2 L372.1,561.3 L371.4,561.3 L370.7,561.4 L370.0,561.4 L369.3,561.5 L368.5,561.5 L367.8,561.5 L367.0,561.6 L366.2,561.6 L365.4,561.7 L364.6,561.7 L363.9,561.8 L363.2,561.8 L362.5,561.8 L361.9,561.9 L361.3,561.9 L360.8,561.9 L360.3,562.0 L360.0,562.0Z" fill="#76bd28" stroke="#76bd28" stroke-width="0.6" stroke-linejoin="round"/>
<polyline points="360.0,563.0 360.4,563.0 360.8,563.0 361.3,562.9 361.9,562.9 362.6,562.9 363.2,562.8 364.0,562.8 364.7,562.8 365.5,562.7 366.2,562.7 367.0,562.7 367.8,562.6 368.6,562.6 369.3,562.6 370.1,562.5 370.8,562.5 371.5,562.5 372.1,562.4 372.8,562.4 373.5,562.4 374.2,562.3 374.9,562.3 375.6,562.3 376.3,562.2 377.0,562.2 377.7,562.2 378.4,562.1 379.1,562.1 379.8,562.1 380.5,562.0 381.2,562.0 381.9,562.0 382.6,561.9" fill="none" stroke="#a0d466" stroke-width="2.2" stroke-linejoin="round"/>
<polyline points="578.3,369.8 578.4,370.4 578.5,371.2 578.6,372.0 578.7,372.9 578.8,373.9 578.9,375.1 579.0,376.5 579.2,378.2 579.3,380.0 579.4,382.1 579.6,384.5 579.8,387.0 579.9,389.8 580.1,392.7 580.3,395.8 580.5,399.0 580.7,402.2 580.9,405.6 581.1,408.9 581.2,412.3 581.4,415.6 581.6,418.8 581.7,422.0 581.9,425.1 582.0,428.0 582.1,430.8 582.2,433.6 582.3,436.4 582.4,439.1 582.5,441.8 582.6,444.5 582.7,447.2 582.8,449.8 582.8,452.5 582.9,455.1 583.0,457.7 583.0,460.4 583.1,463.0 583.2,465.7 583.2,468.3 583.3,471.0 583.4,473.7 583.4,476.4 583.4,479.1 583.5,481.8 583.5,484.5 583.5,487.2 583.6,489.9 583.6,492.6 583.6,495.3 583.7,498.0 583.7,500.7 583.7,503.4 583.8,506.1 583.9,508.7 583.9,511.4 584.0,514.0 584.1,516.7 584.2,519.4 584.3,522.2 584.4,525.1 584.5,528.0 584.7,530.8 584.8,533.7 585.0,536.5 585.1,539.2 585.2,541.9 585.4,544.5 585.5,546.9 585.6,549.2 585.8,551.3 585.9,553.3 586.0,555.0 586.1,556.5 586.2,557.8 586.3,559.0 586.4,559.9 586.5,560.8 586.6,561.5 586.6,562.1 586.7,562.6 586.8,563.0 586.9,563.4 587.0,563.8 587.1,564.2 587.2,564.6 587.3,565.0 587.4,565.5 587.5,566.0 587.6,566.6 587.8,567.2 587.9,567.7 588.1,568.3 588.3,568.9 588.5,569.4 588.7,569.9 588.8,570.4 589.0,570.9 589.2,571.4 589.4,571.8 589.5,572.2 589.7,572.6 589.8,572.9 589.9,573.2 590.0,573.5" fill="none" stroke="#a0d466" stroke-width="2.2" stroke-linejoin="round"/>
<g><path d="M573.2,334.1L577.0,340.8L569.5,340.8Z" fill="#76bd28"/><path d="M575.1,343.9L578.8,350.7L571.3,350.7Z" fill="#76bd28"/><path d="M576.6,353.8L580.3,360.6L572.8,360.6Z" fill="#76bd28"/><path d="M577.9,363.7L581.6,370.5L574.1,370.5Z" fill="#76bd28"/><path d="M579.1,373.6L582.9,380.4L575.4,380.4Z" fill="#76bd28"/><path d="M580.0,386.2L583.7,393.0L576.2,393.0Z" fill="#76bd28"/><path d="M581.1,406.2L584.9,412.9L577.4,412.9Z" fill="#76bd28"/><path d="M582.1,426.2L585.8,432.9L578.3,432.9Z" fill="#76bd28"/><path d="M582.8,446.2L586.5,452.9L579.0,452.9Z" fill="#76bd28"/><path d="M583.3,466.2L587.0,472.9L579.5,472.9Z" fill="#76bd28"/><path d="M583.6,486.2L587.3,492.9L579.8,492.9Z" fill="#76bd28"/><path d="M583.9,506.1L587.6,512.9L580.1,512.9Z" fill="#76bd28"/><path d="M584.6,526.1L588.4,532.9L580.9,532.9Z" fill="#76bd28"/><path d="M585.7,546.1L589.4,552.9L581.9,552.9Z" fill="#76bd28"/></g>
<polyline points="671.0,574.5 715.0,574.5 1062.0,572.0" fill="none" stroke="#6c55d6" stroke-width="10.0"/>
<defs><linearGradient id="g3" gradientUnits="userSpaceOnUse" x1="0" y1="420.0" x2="0" y2="480.0"><stop offset="0" stop-color="#9484f0"/><stop offset="1" stop-color="#6c55d6"/></linearGradient></defs>
<path d="M380.1,566.0 L380.3,566.0 L380.5,566.0 L380.7,566.0 L381.0,565.9 L381.3,565.9 L381.6,565.9 L381.9,565.9 L382.3,565.8 L382.6,565.8 L383.0,565.8 L383.4,565.7 L383.8,565.7 L384.3,565.7 L384.7,565.7 L385.1,565.6 L385.6,565.6 L386.0,565.6 L386.5,565.6 L387.0,565.5 L387.6,565.5 L388.1,565.5 L388.6,565.5 L389.2,565.4 L389.8,565.4 L390.4,565.4 L391.0,565.4 L391.6,565.3 L392.2,565.3 L392.8,565.3 L393.5,565.2 L394.1,565.2 L394.8,565.2 L395.4,565.2 L396.1,565.1 L396.8,565.1 L397.5,565.1 L398.2,565.1 L398.9,565.0 L399.7,565.0 L400.4,565.0 L401.2,564.9 L401.9,564.9 L402.7,564.9 L403.5,564.8 L404.3,564.8 L405.1,564.8 L405.8,564.8 L406.6,564.7 L407.4,564.7 L408.2,564.7 L409.1,564.6 L409.9,564.6 L410.7,564.6 L411.6,564.5 L412.4,564.5 L413.3,564.5 L414.1,564.5 L415.0,564.4 L415.8,564.4 L416.7,564.4 L417.6,564.3 L418.4,564.3 L419.3,564.3 L420.2,564.2 L421.0,564.2 L421.9,564.2 L422.8,564.2 L423.7,564.1 L424.6,564.1 L425.5,564.1 L426.3,564.1 L427.2,564.0 L428.1,564.0 L429.0,564.0 L429.9,564.0 L430.8,563.9 L431.7,563.9 L432.6,563.9 L433.5,563.9 L434.4,563.8 L435.2,563.8 L436.1,563.8 L437.0,563.8 L437.9,563.7 L438.8,563.7 L439.6,563.7 L440.5,563.6 L441.4,563.6 L442.3,563.6 L443.1,563.6 L444.0,563.5 L444.8,563.5 L445.7,563.5 L446.5,563.4 L447.4,563.4 L448.2,563.4 L449.0,563.4 L449.8,563.3 L450.7,563.3 L451.5,563.3 L452.3,563.2 L453.1,563.2 L453.9,563.2 L454.7,563.2 L455.4,563.1 L456.2,563.1 L457.0,563.1 L457.8,563.0 L458.5,563.0 L459.3,563.0 L460.0,563.0 L460.8,562.9 L461.5,562.9 L462.2,562.9 L462.9,562.8 L463.7,562.8 L464.4,562.8 L465.1,562.7 L465.8,562.7 L466.5,562.7 L467.1,562.7 L467.8,562.6 L468.5,562.6 L469.2,562.6 L469.8,562.5 L470.5,562.5 L471.2,562.5 L471.8,562.4 L472.5,562.4 L473.1,562.4 L473.7,562.3 L474.4,562.3 L475.0,562.3 L475.6,562.2 L476.2,562.2 L476.8,562.2 L477.4,562.1 L478.0,562.1 L478.6,562.0 L479.2,562.0 L479.8,562.0 L480.4,561.9 L481.0,561.9 L481.5,561.9 L482.1,561.8 L482.7,561.8 L483.2,561.7 L483.8,561.7 L484.3,561.7 L484.9,561.6 L485.4,561.6 L485.9,561.5 L486.5,561.5 L487.0,561.5 L487.5,561.4 L488.1,561.4 L488.6,561.3 L489.1,561.3 L489.6,561.2 L490.1,561.2 L490.6,561.2 L491.1,561.1 L491.6,561.1 L492.1,561.0 L492.6,561.0 L493.0,560.9 L493.5,560.9 L494.0,560.8 L494.5,560.7 L494.9,560.7 L495.4,560.6 L495.9,560.6 L496.3,560.5 L496.8,560.5 L497.2,560.4 L497.7,560.4 L498.1,560.3 L498.6,560.3 L499.0,560.2 L499.4,560.2 L499.9,560.1 L500.3,560.0 L500.7,560.0 L501.2,559.9 L501.6,559.9 L502.0,559.8 L502.4,559.8 L502.8,559.7 L503.2,559.6 L503.6,559.6 L504.0,559.5 L504.5,559.5 L504.9,559.4 L505.3,559.3 L505.7,559.3 L506.0,559.2 L506.4,559.2 L506.8,559.1 L507.2,559.0 L507.6,559.0 L508.0,558.9 L508.4,558.8 L508.7,558.8 L509.1,558.7 L509.5,558.7 L509.9,558.6 L510.2,558.5 L510.6,558.5 L511.0,558.4 L511.3,558.3 L511.7,558.3 L512.1,558.2 L512.4,558.1 L512.8,558.1 L513.1,558.0 L513.5,557.9 L513.9,557.9 L514.2,557.8 L514.6,557.7 L514.9,557.6 L515.3,557.6 L515.6,557.5 L515.9,557.4 L516.3,557.4 L516.6,557.3 L517.0,557.2 L517.3,557.1 L517.7,557.1 L518.0,557.0 L518.4,556.9 L518.7,556.8 L519.0,556.8 L519.4,556.7 L519.7,556.6 L520.0,556.5 L520.4,556.5 L520.7,556.4 L521.0,556.3 L521.4,556.2 L521.7,556.1 L522.0,556.1 L522.4,556.0 L522.7,555.9 L523.0,555.8 L523.4,555.7 L523.7,555.7 L524.0,555.6 L524.3,555.5 L524.7,555.4 L525.0,555.3 L525.3,555.2 L525.7,555.2 L526.0,555.1 L526.3,555.0 L526.6,554.9 L527.0,554.8 L527.3,554.7 L527.6,554.6 L528.0,554.5 L528.3,554.4 L528.6,554.3 L528.9,554.2 L529.3,554.2 L529.6,554.1 L529.9,554.0 L530.3,553.9 L530.6,553.8 L530.9,553.7 L531.2,553.6 L531.6,553.5 L531.9,553.4 L532.2,553.3 L532.6,553.2 L532.9,553.1 L533.2,553.0 L533.6,552.9 L533.9,552.8 L534.2,552.7 L534.5,552.6 L534.9,552.5 L535.2,552.3 L535.5,552.2 L535.9,552.1 L536.2,552.0 L536.6,551.9 L536.9,551.8 L537.2,551.7 L537.6,551.6 L537.9,551.5 L538.2,551.4 L538.6,551.3 L538.9,551.2 L539.2,551.0 L539.6,550.9 L539.9,550.8 L540.3,550.7 L540.6,550.6 L540.9,550.5 L541.3,550.4 L541.6,550.3 L542.0,550.1 L542.3,550.0 L542.6,549.9 L543.0,549.8 L543.3,549.7 L543.7,549.6 L544.0,549.4 L544.4,549.3 L544.7,549.2 L545.1,549.1 L545.4,548.9 L545.7,548.8 L546.1,548.7 L546.4,548.6 L546.8,548.5 L547.1,548.3 L547.5,548.2 L547.8,548.1 L548.2,548.0 L548.5,547.8 L548.9,547.7 L549.2,547.6 L549.6,547.4 L550.0,547.3 L550.3,547.2 L550.7,547.0 L551.0,546.9 L551.4,546.8 L551.7,546.6 L552.1,546.5 L552.4,546.4 L552.8,546.2 L553.2,546.1 L553.5,545.9 L553.9,545.8 L554.2,545.7 L554.6,545.5 L555.0,545.4 L555.3,545.2 L555.7,545.1 L556.1,544.9 L556.4,544.8 L556.8,544.6 L557.2,544.5 L557.5,544.4 L557.9,544.2 L558.3,544.1 L558.6,543.9 L559.0,543.8 L559.4,543.6 L559.8,543.5 L560.1,543.3 L560.5,543.2 L560.9,543.0 L561.3,542.8 L561.6,542.7 L562.0,542.5 L562.4,542.4 L562.8,542.2 L563.2,542.1 L563.6,541.9 L564.0,541.7 L564.3,541.6 L564.7,541.4 L565.1,541.3 L565.5,541.1 L565.9,540.9 L566.3,540.8 L566.7,540.6 L567.1,540.4 L567.4,540.3 L567.8,540.1 L568.2,539.9 L568.6,539.7 L569.0,539.6 L569.4,539.4 L569.8,539.2 L570.2,539.1 L570.6,538.9 L571.0,538.7 L571.4,538.5 L571.8,538.3 L572.2,538.1 L572.6,538.0 L573.0,537.8 L573.3,537.6 L573.7,537.4 L574.1,537.2 L574.5,537.0 L574.9,536.9 L575.2,536.7 L575.6,536.5 L576.0,536.3 L576.4,536.1 L576.8,535.9 L577.1,535.7 L577.5,535.5 L577.9,535.3 L578.2,535.1 L578.6,534.9 L579.0,534.7 L579.3,534.4 L579.6,534.2 L580.0,534.0 L580.3,533.8 L580.7,533.6 L581.0,533.4 L581.3,533.2 L581.6,533.0 L582.0,532.7 L582.3,532.5 L582.6,532.3 L582.9,532.1 L583.2,531.9 L583.5,531.7 L583.8,531.4 L584.1,531.2 L584.5,531.0 L584.8,530.7 L585.0,530.5 L585.3,530.3 L585.6,530.0 L585.9,529.8 L586.2,529.6 L586.5,529.3 L586.7,529.1 L587.0,528.9 L587.3,528.7 L587.5,528.4 L587.8,528.2 L588.0,528.0 L588.3,527.7 L588.6,527.5 L588.8,527.3 L589.1,527.0 L589.4,526.8 L589.6,526.5 L589.9,526.3 L590.1,526.1 L590.4,525.8 L590.6,525.6 L590.9,525.3 L591.1,525.1 L591.4,524.9 L591.6,524.6 L591.9,524.4 L592.1,524.1 L592.4,523.9 L592.6,523.6 L592.9,523.4 L593.1,523.1 L593.4,522.9 L593.6,522.6 L593.9,522.4 L594.2,522.1 L594.4,521.9 L594.7,521.6 L594.9,521.3 L595.2,521.1 L595.4,520.8 L595.7,520.5 L596.0,520.3 L596.2,520.0 L596.5,519.7 L596.7,519.5 L597.0,519.2 L597.2,518.9 L597.5,518.6 L597.7,518.4 L598.0,518.1 L598.2,517.8 L598.5,517.5 L598.8,517.3 L599.0,517.0 L599.3,516.7 L599.5,516.4 L599.8,516.1 L600.0,515.8 L600.3,515.5 L600.6,515.2 L600.8,514.9 L601.1,514.6 L601.3,514.3 L601.6,514.0 L601.8,513.7 L602.1,513.4 L602.3,513.1 L602.6,512.8 L602.8,512.5 L603.1,512.2 L603.3,511.9 L603.6,511.6 L603.8,511.3 L604.1,511.0 L604.3,510.6 L604.5,510.3 L604.8,510.0 L605.0,509.7 L605.3,509.4 L605.5,509.0 L605.8,508.7 L606.0,508.4 L606.2,508.1 L606.5,507.7 L606.7,507.4 L607.0,507.1 L607.2,506.7 L607.4,506.4 L607.7,506.0 L607.9,505.7 L608.1,505.3 L608.4,505.0 L608.6,504.6 L608.8,504.3 L609.0,503.9 L609.3,503.6 L609.5,503.2 L609.7,502.9 L609.9,502.5 L610.2,502.2 L610.4,501.8 L610.6,501.4 L610.8,501.1 L611.0,500.7 L611.3,500.3 L611.5,499.9 L611.7,499.6 L611.9,499.2 L612.1,498.8 L612.3,498.4 L612.5,498.1 L612.7,497.7 L612.9,497.3 L613.1,496.9 L613.3,496.5 L613.5,496.1 L613.7,495.7 L613.9,495.3 L614.1,494.9 L614.3,494.5 L614.5,494.1 L614.7,493.7 L614.9,493.3 L615.0,492.9 L615.2,492.5 L615.4,492.1 L615.6,491.7 L615.8,491.3 L615.9,490.8 L616.1,490.4 L616.3,490.0 L616.4,489.6 L616.6,489.2 L616.8,488.7 L616.9,488.3 L617.1,487.9 L617.3,487.5 L617.4,487.0 L617.6,486.6 L617.7,486.2 L617.9,485.7 L618.0,485.3 L618.2,484.8 L618.3,484.4 L618.5,483.9 L618.6,483.5 L618.8,483.1 L618.9,482.6 L619.1,482.1 L619.2,481.7 L619.4,481.2 L619.5,480.8 L619.6,480.3 L619.8,479.9 L619.9,479.4 L620.0,478.9 L620.2,478.5 L620.3,478.0 L620.5,477.5 L620.6,477.0 L620.7,476.6 L620.8,476.1 L621.0,475.6 L621.1,475.1 L621.2,474.6 L621.3,474.2 L621.5,473.7 L621.6,473.2 L621.7,472.7 L621.8,472.2 L622.0,471.7 L622.1,471.2 L622.2,470.7 L622.3,470.2 L622.4,469.7 L622.6,469.2 L622.7,468.7 L622.8,468.1 L622.9,467.6 L623.0,467.1 L623.1,466.6 L623.3,466.1 L623.4,465.5 L623.5,465.0 L623.6,464.5 L623.7,464.0 L623.8,463.4 L623.9,462.9 L624.0,462.4 L624.2,461.8 L624.3,461.3 L624.4,460.7 L624.5,460.2 L624.6,459.6 L624.7,459.1 L624.8,458.5 L624.9,457.9 L625.0,457.4 L625.1,456.8 L625.2,456.3 L625.3,455.7 L625.5,455.1 L625.6,454.5 L625.7,454.0 L625.8,453.4 L625.9,452.8 L626.0,452.2 L626.1,451.6 L626.2,451.0 L626.3,450.4 L626.4,449.8 L626.5,449.2 L626.6,448.6 L626.7,448.0 L626.8,447.4 L626.9,446.8 L627.0,446.2 L627.1,445.6 L627.2,445.0 L627.3,444.3 L627.4,443.7 L627.5,443.1 L627.7,442.4 L627.8,441.8 L627.9,441.2 L628.0,440.5 L628.1,439.9 L628.2,439.2 L628.3,438.6 L628.4,437.9 L628.5,437.3 L628.6,436.6 L628.7,435.9 L628.8,435.3 L628.9,434.6 L629.0,433.9 L629.1,433.2 L629.2,432.6 L629.3,431.9 L629.4,431.2 L629.6,430.5 L629.7,429.8 L629.8,429.1 L629.9,428.4 L630.0,427.7 L630.1,427.0 L630.2,426.3 L630.3,425.6 L630.4,424.9 L630.5,424.1 L630.6,423.4 L630.7,422.7 L630.9,422.0 L631.0,421.2 L631.1,420.5 L631.2,419.7 L631.3,419.0 L631.4,418.2 L631.5,417.5 L631.6,416.7 L631.7,416.0 L631.9,415.2 L632.0,414.4 L632.1,413.7 L632.2,412.9 L632.3,412.1 L632.4,411.3 L632.5,410.5 L632.7,409.7 L632.8,409.0 L632.9,408.2 L633.0,407.4 L633.1,406.5 L633.2,405.7 L633.3,404.9 L633.5,404.1 L633.6,403.3 L633.7,402.5 L633.8,401.6 L633.9,400.8 L634.1,400.0 L634.2,399.1 L634.3,398.3 L634.4,397.4 L634.5,396.6 L634.7,395.7 L634.8,394.8 L634.9,394.0 L635.0,393.1 L635.2,392.2 L635.3,391.3 L635.4,390.5 L635.5,389.6 L635.7,388.7 L635.8,387.8 L635.9,386.9 L636.0,386.0 L636.2,385.1 L636.3,384.1 L636.4,383.2 L636.5,382.3 L636.7,381.4 L636.8,380.4 L636.9,379.5 L637.1,378.5 L637.2,377.6 L637.3,376.7 L637.5,375.7 L637.6,374.7 L637.7,373.8 L637.9,372.8 L638.0,371.8 L638.1,370.8 L638.3,369.9 L638.4,368.9 L638.5,367.9 L638.7,366.9 L638.8,365.9 L639.0,364.9 L639.1,363.9 L639.2,362.8 L639.4,361.8 L639.5,360.8 L639.7,359.8 L639.8,358.7 L640.0,357.7 L640.1,356.6 L640.2,355.6 L640.4,354.5 L640.5,353.4 L640.7,352.4 L640.8,351.3 L641.0,350.2 L641.1,349.1 L641.3,348.0 L641.4,346.9 L641.6,345.8 L641.7,344.7 L641.9,343.6 L642.0,342.5 L642.2,341.4 L642.4,340.3 L642.5,339.1 L642.7,338.0 L642.8,336.8 L643.0,335.7 L643.1,334.5 L643.3,333.4 L643.5,332.2 L643.6,331.2 L643.8,330.1 L643.9,329.1 L644.1,328.1 L644.3,327.0 L644.4,326.0 L644.6,324.9 L644.7,323.8 L644.9,322.6 L645.1,321.4 L645.3,320.1 L645.4,318.7 L645.6,317.2 L645.8,315.6 L646.0,313.9 L646.2,312.0 L646.4,309.9 L646.6,307.7 L646.8,305.4 L647.0,303.0 L647.2,300.5 L647.4,298.0 L647.6,295.4 L647.8,292.8 L648.0,290.3 L648.2,287.8 L648.4,285.4 L648.6,283.0 L648.8,280.8 L649.0,278.8 L649.2,276.9 L649.4,275.1 L649.6,273.4 L649.7,271.8 L649.9,270.2 L650.1,268.7 L650.3,267.3 L650.4,266.0 L650.6,264.7 L650.8,263.4 L651.0,262.2 L651.1,261.0 L651.3,259.9 L651.5,258.7 L651.6,257.7 L651.8,256.6 L652.0,255.5 L652.1,254.5 L652.3,253.5 L652.4,252.6 L652.6,251.7 L652.7,250.8 L652.9,250.0 L653.0,249.2 L653.2,248.5 L653.3,247.8 L653.5,247.2 L653.6,246.5 L653.7,246.0 L653.9,245.5 L654.0,245.0 L654.1,244.6 L654.3,244.2 L654.4,244.0 L654.5,243.8 L654.6,243.7 L654.6,243.6 L654.6,243.7 L654.6,243.7 L654.5,243.8 L654.4,243.9 L654.3,244.0 L654.1,244.1 L654.0,244.1 L653.9,244.2 L653.8,244.2 L653.8,244.2 L653.9,244.2 L654.0,244.2 L654.1,244.2 L654.2,244.2 L654.2,244.2 L654.1,244.2 L654.0,244.1 L653.9,244.1 L653.8,244.0 L653.6,243.9 L653.5,243.8 L653.4,243.7 L653.4,243.7 L653.4,243.6 L653.4,243.6 L653.5,243.7 L653.6,243.9 L653.7,244.2 L653.8,244.5 L654.0,244.9 L654.1,245.4 L654.3,245.9 L654.5,246.5 L654.6,247.1 L654.8,247.7 L654.9,248.4 L655.1,249.2 L655.2,249.9 L655.3,250.8 L655.5,251.6 L655.6,252.5 L655.8,253.4 L655.9,254.3 L656.0,255.3 L656.1,256.3 L656.3,257.3 L656.4,258.4 L656.5,259.5 L656.6,260.7 L656.7,261.9 L656.8,263.1 L656.9,264.3 L657.0,265.6 L657.1,266.9 L657.2,268.2 L657.3,269.6 L657.4,271.0 L657.5,272.3 L657.6,273.7 L657.7,275.1 L657.9,276.5 L658.0,277.9 L658.2,279.2 L658.3,280.5 L658.5,281.9 L658.6,283.2 L658.8,284.6 L659.0,286.0 L659.1,287.5 L659.3,289.0 L659.4,290.6 L659.6,292.3 L659.8,294.1 L659.9,295.9 L660.1,297.9 L660.3,300.0 L660.4,302.3 L660.5,304.6 L660.6,307.1 L660.7,309.7 L660.8,312.3 L660.9,315.0 L661.1,317.8 L661.2,320.7 L661.3,323.6 L661.4,326.6 L661.6,329.6 L661.7,332.6 L661.8,335.7 L661.9,338.8 L662.1,341.9 L662.2,345.0 L662.3,348.2 L662.5,351.4 L662.6,354.7 L662.7,358.0 L662.9,361.3 L663.0,364.7 L663.1,368.1 L663.3,371.6 L663.4,375.1 L663.5,378.6 L663.7,382.2 L663.8,385.7 L664.0,389.3 L664.1,392.9 L664.3,396.5 L664.4,400.0 L664.6,403.7 L664.7,407.3 L664.9,411.0 L665.0,414.7 L665.2,418.4 L665.4,422.2 L665.5,426.0 L665.7,429.7 L665.9,433.5 L666.0,437.3 L666.2,441.1 L666.3,444.9 L666.5,448.7 L666.6,452.5 L666.8,456.3 L666.9,460.0 L667.0,463.8 L667.1,467.6 L667.2,471.5 L667.3,475.4 L667.4,479.2 L667.5,483.1 L667.6,487.0 L667.7,490.9 L667.8,494.7 L667.9,498.5 L668.0,502.3 L668.0,506.0 L668.1,509.6 L668.2,513.2 L668.3,516.7 L668.4,520.0 L668.5,523.4 L668.6,526.7 L668.7,530.1 L668.8,533.4 L668.9,536.7 L668.9,540.0 L669.0,543.2 L669.1,546.3 L669.2,549.3 L669.3,552.2 L669.4,554.9 L669.5,557.5 L669.6,560.0 L669.7,562.2 L669.8,564.3 L669.9,566.1 L670.0,567.6 L670.1,569.0 L670.3,570.1 L670.4,571.0 L670.6,571.8 L670.7,572.4 L670.9,573.0 L671.1,573.4 L671.4,573.8 L671.6,574.0 L671.8,574.2 L672.0,574.3 L672.0,574.4 L672.0,574.3 L671.9,574.2 L672.0,574.4 L674.0,573.6 L673.9,573.3 L673.7,573.0 L673.5,572.7 L673.3,572.6 L673.2,572.5 L673.1,572.5 L673.1,572.4 L673.1,572.4 L673.0,572.2 L672.9,571.8 L672.7,571.3 L672.6,570.7 L672.5,569.8 L672.3,568.8 L672.2,567.5 L672.1,565.9 L672.0,564.1 L671.9,562.1 L671.8,559.9 L671.7,557.5 L671.6,554.9 L671.5,552.1 L671.4,549.2 L671.3,546.2 L671.2,543.1 L671.1,539.9 L671.1,536.7 L671.0,533.3 L670.9,530.0 L670.8,526.6 L670.7,523.3 L670.6,520.0 L670.5,516.6 L670.4,513.1 L670.3,509.6 L670.2,506.0 L670.2,502.3 L670.1,498.5 L670.0,494.7 L669.9,490.9 L669.8,487.0 L669.7,483.1 L669.6,479.2 L669.5,475.3 L669.4,471.4 L669.3,467.6 L669.2,463.7 L669.1,460.0 L669.0,456.2 L668.8,452.4 L668.7,448.6 L668.5,444.8 L668.4,441.0 L668.2,437.2 L668.1,433.4 L667.9,429.6 L667.7,425.9 L667.6,422.1 L667.4,418.3 L667.2,414.6 L667.1,410.9 L666.9,407.2 L666.7,403.6 L666.6,400.0 L666.5,396.4 L666.3,392.8 L666.2,389.2 L666.0,385.6 L665.9,382.1 L665.7,378.5 L665.6,375.0 L665.5,371.5 L665.3,368.1 L665.2,364.6 L665.1,361.2 L664.9,357.9 L664.8,354.6 L664.7,351.3 L664.5,348.1 L664.4,345.0 L664.3,341.8 L664.1,338.7 L664.0,335.6 L663.9,332.5 L663.8,329.5 L663.6,326.5 L663.5,323.5 L663.4,320.6 L663.3,317.7 L663.1,314.9 L663.0,312.2 L662.9,309.6 L662.8,307.0 L662.7,304.6 L662.6,302.2 L662.5,300.0 L662.5,297.8 L662.5,295.8 L662.5,293.9 L662.5,292.2 L662.5,290.5 L662.5,288.9 L662.5,287.3 L662.6,285.9 L662.6,284.4 L662.6,283.0 L662.6,281.7 L662.6,280.3 L662.6,279.0 L662.7,277.6 L662.7,276.3 L662.7,274.9 L662.7,273.5 L662.6,272.1 L662.6,270.7 L662.5,269.3 L662.5,268.0 L662.5,266.6 L662.4,265.3 L662.4,264.0 L662.4,262.8 L662.3,261.5 L662.3,260.3 L662.2,259.1 L662.2,258.0 L662.1,256.8 L662.1,255.8 L662.0,254.7 L661.9,253.7 L661.8,252.7 L661.8,251.8 L661.7,250.8 L661.6,249.9 L661.5,249.1 L661.4,248.2 L661.3,247.4 L661.2,246.6 L661.1,245.8 L661.0,245.1 L660.9,244.4 L660.8,243.7 L660.6,243.1 L660.5,242.5 L660.3,241.8 L660.1,241.2 L659.8,240.7 L659.6,240.1 L659.2,239.6 L658.9,239.0 L658.5,238.6 L658.0,238.1 L657.5,237.8 L656.9,237.5 L656.4,237.2 L655.9,237.0 L655.4,236.9 L655.0,236.8 L654.6,236.8 L654.3,236.8 L654.0,236.8 L653.7,236.8 L653.4,236.8 L653.0,236.8 L652.6,236.9 L652.1,237.0 L651.6,237.2 L651.0,237.5 L650.5,237.8 L650.0,238.2 L649.6,238.6 L649.2,239.0 L648.8,239.5 L648.5,240.1 L648.2,240.6 L648.0,241.2 L647.7,241.8 L647.5,242.3 L647.3,242.9 L647.1,243.6 L647.0,244.2 L646.8,244.9 L646.6,245.6 L646.5,246.4 L646.3,247.1 L646.1,247.9 L646.0,248.8 L645.8,249.6 L645.7,250.5 L645.5,251.5 L645.4,252.4 L645.2,253.4 L645.0,254.5 L644.9,255.5 L644.7,256.6 L644.5,257.7 L644.4,258.8 L644.2,260.0 L644.0,261.2 L643.9,262.4 L643.7,263.7 L643.5,265.1 L643.3,266.4 L643.1,267.9 L643.0,269.4 L642.8,271.0 L642.6,272.6 L642.4,274.3 L642.2,276.1 L642.0,278.1 L641.8,280.2 L641.6,282.4 L641.4,284.8 L641.2,287.2 L641.0,289.7 L640.8,292.3 L640.6,294.9 L640.4,297.4 L640.2,299.9 L640.0,302.4 L639.8,304.8 L639.6,307.1 L639.4,309.3 L639.2,311.3 L639.0,313.1 L638.8,314.8 L638.7,316.4 L638.5,317.8 L638.3,319.2 L638.2,320.4 L638.0,321.6 L637.8,322.8 L637.7,323.9 L637.5,324.9 L637.3,326.0 L637.2,327.0 L637.0,328.0 L636.9,329.1 L636.7,330.1 L636.5,331.3 L636.4,332.4 L636.2,333.6 L636.0,334.7 L635.9,335.9 L635.7,337.0 L635.6,338.2 L635.4,339.3 L635.3,340.4 L635.1,341.6 L635.0,342.7 L634.8,343.8 L634.6,344.9 L634.5,346.0 L634.3,347.1 L634.2,348.2 L634.0,349.3 L633.9,350.3 L633.7,351.4 L633.6,352.5 L633.5,353.6 L633.3,354.6 L633.2,355.7 L633.0,356.7 L632.9,357.8 L632.7,358.8 L632.6,359.8 L632.4,360.9 L632.3,361.9 L632.2,362.9 L632.0,363.9 L631.9,364.9 L631.7,365.9 L631.6,366.9 L631.5,367.9 L631.3,368.9 L631.2,369.9 L631.1,370.9 L630.9,371.8 L630.8,372.8 L630.7,373.8 L630.5,374.7 L630.4,375.7 L630.3,376.6 L630.1,377.6 L630.0,378.5 L629.9,379.4 L629.7,380.4 L629.6,381.3 L629.5,382.2 L629.3,383.1 L629.2,384.1 L629.1,385.0 L628.9,385.9 L628.8,386.8 L628.6,387.7 L628.5,388.5 L628.4,389.4 L628.2,390.3 L628.1,391.2 L628.0,392.1 L627.8,392.9 L627.7,393.8 L627.6,394.7 L627.5,395.5 L627.3,396.4 L627.2,397.2 L627.1,398.1 L626.9,398.9 L626.8,399.7 L626.7,400.6 L626.6,401.4 L626.4,402.2 L626.3,403.0 L626.2,403.9 L626.0,404.7 L625.9,405.5 L625.8,406.3 L625.7,407.1 L625.5,407.9 L625.4,408.7 L625.3,409.4 L625.2,410.2 L625.0,411.0 L624.9,411.8 L624.8,412.6 L624.7,413.3 L624.6,414.1 L624.4,414.8 L624.3,415.6 L624.2,416.4 L624.1,417.1 L624.0,417.9 L623.8,418.6 L623.7,419.3 L623.6,420.1 L623.5,420.8 L623.4,421.5 L623.2,422.2 L623.1,423.0 L623.0,423.7 L622.9,424.4 L622.8,425.1 L622.6,425.8 L622.5,426.5 L622.4,427.2 L622.3,427.9 L622.2,428.6 L622.1,429.3 L621.9,430.0 L621.8,430.7 L621.7,431.3 L621.6,432.0 L621.5,432.7 L621.4,433.3 L621.3,434.0 L621.1,434.7 L621.0,435.3 L620.9,436.0 L620.8,436.6 L620.7,437.3 L620.6,437.9 L620.4,438.6 L620.3,439.2 L620.2,439.8 L620.1,440.5 L620.0,441.1 L619.9,441.7 L619.8,442.4 L619.7,443.0 L619.5,443.6 L619.4,444.2 L619.3,444.8 L619.2,445.4 L619.1,446.0 L619.0,446.6 L618.9,447.2 L618.7,447.8 L618.6,448.4 L618.5,449.0 L618.4,449.6 L618.3,450.2 L618.2,450.8 L618.1,451.3 L618.0,451.9 L617.8,452.5 L617.7,453.1 L617.6,453.6 L617.5,454.2 L617.4,454.8 L617.3,455.3 L617.2,455.9 L617.1,456.4 L617.0,457.0 L616.9,457.5 L616.8,458.1 L616.6,458.6 L616.5,459.1 L616.4,459.7 L616.3,460.2 L616.2,460.7 L616.1,461.3 L616.0,461.8 L615.9,462.3 L615.8,462.8 L615.7,463.3 L615.5,463.9 L615.4,464.4 L615.3,464.9 L615.2,465.4 L615.1,465.9 L615.0,466.4 L614.9,466.9 L614.8,467.4 L614.7,467.9 L614.5,468.3 L614.4,468.8 L614.3,469.3 L614.2,469.8 L614.1,470.3 L614.0,470.8 L613.8,471.2 L613.7,471.7 L613.6,472.2 L613.5,472.6 L613.4,473.1 L613.2,473.6 L613.1,474.0 L613.0,474.5 L612.9,474.9 L612.7,475.4 L612.6,475.8 L612.5,476.3 L612.4,476.7 L612.2,477.1 L612.1,477.6 L612.0,478.0 L611.8,478.5 L611.7,478.9 L611.6,479.3 L611.4,479.7 L611.3,480.2 L611.2,480.6 L611.0,481.0 L610.9,481.4 L610.8,481.8 L610.6,482.2 L610.5,482.7 L610.3,483.1 L610.2,483.5 L610.1,483.9 L609.9,484.3 L609.8,484.7 L609.6,485.1 L609.5,485.5 L609.3,485.9 L609.2,486.2 L609.0,486.6 L608.9,487.0 L608.7,487.4 L608.5,487.8 L608.4,488.2 L608.2,488.5 L608.1,488.9 L607.9,489.3 L607.7,489.6 L607.6,490.0 L607.4,490.4 L607.2,490.7 L607.1,491.1 L606.9,491.5 L606.7,491.8 L606.5,492.2 L606.4,492.5 L606.2,492.9 L606.0,493.2 L605.8,493.6 L605.6,493.9 L605.5,494.3 L605.3,494.6 L605.1,495.0 L604.9,495.3 L604.7,495.7 L604.5,496.0 L604.3,496.3 L604.1,496.7 L603.9,497.0 L603.7,497.3 L603.5,497.7 L603.3,498.0 L603.1,498.3 L602.9,498.6 L602.7,499.0 L602.5,499.3 L602.3,499.6 L602.1,499.9 L601.9,500.3 L601.7,500.6 L601.5,500.9 L601.3,501.2 L601.1,501.5 L600.8,501.8 L600.6,502.1 L600.4,502.4 L600.2,502.8 L600.0,503.1 L599.8,503.4 L599.5,503.7 L599.3,504.0 L599.1,504.3 L598.9,504.6 L598.6,504.9 L598.4,505.2 L598.2,505.5 L598.0,505.8 L597.7,506.0 L597.5,506.3 L597.3,506.6 L597.1,506.9 L596.8,507.2 L596.6,507.5 L596.4,507.8 L596.1,508.1 L595.9,508.3 L595.7,508.6 L595.4,508.9 L595.2,509.2 L595.0,509.5 L594.7,509.7 L594.5,510.0 L594.2,510.3 L594.0,510.6 L593.8,510.8 L593.5,511.1 L593.3,511.4 L593.1,511.6 L592.8,511.9 L592.6,512.2 L592.3,512.4 L592.1,512.7 L591.9,512.9 L591.6,513.2 L591.4,513.5 L591.1,513.7 L590.9,514.0 L590.7,514.2 L590.4,514.5 L590.2,514.7 L589.9,515.0 L589.7,515.2 L589.4,515.5 L589.2,515.7 L589.0,516.0 L588.7,516.2 L588.5,516.5 L588.2,516.7 L588.0,517.0 L587.7,517.2 L587.5,517.4 L587.3,517.7 L587.0,517.9 L586.8,518.2 L586.5,518.4 L586.3,518.6 L586.0,518.9 L585.8,519.1 L585.6,519.4 L585.3,519.6 L585.1,519.8 L584.9,520.0 L584.6,520.3 L584.4,520.5 L584.2,520.7 L583.9,520.9 L583.7,521.1 L583.5,521.3 L583.2,521.6 L583.0,521.8 L582.7,522.0 L582.5,522.2 L582.2,522.4 L582.0,522.6 L581.8,522.8 L581.5,523.0 L581.3,523.3 L581.0,523.5 L580.8,523.7 L580.6,523.8 L580.3,524.0 L580.1,524.2 L579.8,524.4 L579.6,524.6 L579.3,524.8 L579.1,525.0 L578.8,525.2 L578.6,525.4 L578.3,525.6 L578.0,525.7 L577.8,525.9 L577.5,526.1 L577.2,526.3 L576.9,526.5 L576.7,526.7 L576.4,526.9 L576.1,527.0 L575.8,527.2 L575.5,527.4 L575.2,527.6 L574.9,527.8 L574.6,527.9 L574.3,528.1 L574.0,528.3 L573.7,528.5 L573.3,528.6 L573.0,528.8 L572.7,529.0 L572.3,529.2 L572.0,529.3 L571.6,529.5 L571.3,529.7 L570.9,529.9 L570.6,530.0 L570.2,530.2 L569.9,530.4 L569.5,530.6 L569.1,530.7 L568.8,530.9 L568.4,531.1 L568.1,531.2 L567.7,531.4 L567.3,531.6 L566.9,531.7 L566.6,531.9 L566.2,532.1 L565.8,532.2 L565.4,532.4 L565.0,532.6 L564.7,532.7 L564.3,532.9 L563.9,533.1 L563.5,533.2 L563.1,533.4 L562.8,533.6 L562.4,533.7 L562.0,533.9 L561.6,534.0 L561.3,534.2 L560.9,534.4 L560.5,534.5 L560.1,534.7 L559.7,534.8 L559.4,535.0 L559.0,535.1 L558.6,535.3 L558.2,535.4 L557.9,535.6 L557.5,535.7 L557.1,535.9 L556.8,536.0 L556.4,536.2 L556.0,536.3 L555.7,536.5 L555.3,536.6 L554.9,536.8 L554.6,536.9 L554.2,537.1 L553.8,537.2 L553.5,537.4 L553.1,537.5 L552.8,537.6 L552.4,537.8 L552.0,537.9 L551.7,538.1 L551.3,538.2 L551.0,538.3 L550.6,538.5 L550.3,538.6 L549.9,538.8 L549.6,538.9 L549.2,539.0 L548.9,539.2 L548.5,539.3 L548.2,539.4 L547.8,539.6 L547.5,539.7 L547.1,539.8 L546.8,540.0 L546.4,540.1 L546.1,540.2 L545.8,540.3 L545.4,540.5 L545.1,540.6 L544.7,540.7 L544.4,540.9 L544.0,541.0 L543.7,541.1 L543.4,541.3 L543.0,541.4 L542.7,541.5 L542.4,541.6 L542.0,541.8 L541.7,541.9 L541.4,542.0 L541.0,542.1 L540.7,542.2 L540.4,542.4 L540.0,542.5 L539.7,542.6 L539.4,542.7 L539.0,542.9 L538.7,543.0 L538.4,543.1 L538.0,543.2 L537.7,543.3 L537.4,543.4 L537.1,543.6 L536.7,543.7 L536.4,543.8 L536.1,543.9 L535.7,544.0 L535.4,544.1 L535.1,544.2 L534.8,544.4 L534.4,544.5 L534.1,544.6 L533.8,544.7 L533.5,544.8 L533.1,544.9 L532.8,545.0 L532.5,545.1 L532.2,545.2 L531.9,545.3 L531.5,545.5 L531.2,545.6 L530.9,545.7 L530.6,545.8 L530.3,545.9 L529.9,546.0 L529.6,546.1 L529.3,546.2 L529.0,546.3 L528.7,546.4 L528.3,546.5 L528.0,546.6 L527.7,546.7 L527.4,546.8 L527.1,546.9 L526.8,547.0 L526.4,547.1 L526.1,547.2 L525.8,547.3 L525.5,547.4 L525.2,547.5 L524.8,547.6 L524.5,547.7 L524.2,547.8 L523.9,547.9 L523.6,548.0 L523.3,548.1 L523.0,548.2 L522.6,548.3 L522.3,548.4 L522.0,548.5 L521.7,548.6 L521.4,548.7 L521.1,548.8 L520.8,548.9 L520.4,549.0 L520.1,549.1 L519.8,549.2 L519.5,549.3 L519.2,549.4 L518.9,549.5 L518.5,549.5 L518.2,549.6 L517.9,549.7 L517.6,549.8 L517.3,549.9 L517.0,550.0 L516.6,550.1 L516.3,550.2 L516.0,550.3 L515.7,550.4 L515.3,550.5 L515.0,550.6 L514.7,550.7 L514.4,550.7 L514.0,550.8 L513.7,550.9 L513.4,551.0 L513.0,551.1 L512.7,551.2 L512.4,551.3 L512.0,551.4 L511.7,551.4 L511.3,551.5 L511.0,551.6 L510.7,551.7 L510.3,551.8 L510.0,551.9 L509.6,552.0 L509.3,552.0 L508.9,552.1 L508.6,552.2 L508.2,552.3 L507.8,552.4 L507.5,552.5 L507.1,552.5 L506.8,552.6 L506.4,552.7 L506.0,552.8 L505.7,552.9 L505.3,552.9 L504.9,553.0 L504.5,553.1 L504.2,553.2 L503.8,553.3 L503.4,553.3 L503.0,553.4 L502.6,553.5 L502.2,553.6 L501.8,553.6 L501.4,553.7 L501.0,553.8 L500.6,553.9 L500.2,554.0 L499.8,554.0 L499.4,554.1 L499.0,554.2 L498.5,554.3 L498.1,554.3 L497.7,554.4 L497.3,554.5 L496.8,554.5 L496.4,554.6 L496.0,554.7 L495.5,554.8 L495.1,554.8 L494.6,554.9 L494.2,555.0 L493.7,555.1 L493.3,555.1 L492.8,555.2 L492.3,555.3 L491.9,555.3 L491.4,555.4 L490.9,555.5 L490.4,555.6 L489.9,555.6 L489.4,555.7 L488.9,555.8 L488.4,555.8 L487.9,555.9 L487.4,556.0 L486.9,556.1 L486.4,556.1 L485.9,556.2 L485.4,556.3 L484.9,556.4 L484.3,556.4 L483.8,556.5 L483.3,556.6 L482.7,556.6 L482.2,556.7 L481.6,556.8 L481.0,556.9 L480.5,556.9 L479.9,557.0 L479.3,557.1 L478.8,557.1 L478.2,557.2 L477.6,557.3 L477.0,557.3 L476.4,557.4 L475.8,557.5 L475.2,557.6 L474.6,557.6 L474.0,557.7 L473.4,557.8 L472.7,557.8 L472.1,557.9 L471.5,558.0 L470.8,558.0 L470.2,558.1 L469.5,558.2 L468.9,558.2 L468.2,558.3 L467.5,558.4 L466.8,558.4 L466.2,558.5 L465.5,558.6 L464.8,558.6 L464.1,558.7 L463.4,558.8 L462.7,558.8 L462.0,558.9 L461.2,559.0 L460.5,559.0 L459.8,559.1 L459.0,559.2 L458.3,559.2 L457.5,559.3 L456.8,559.3 L456.0,559.4 L455.2,559.5 L454.4,559.5 L453.7,559.6 L452.9,559.6 L452.1,559.7 L451.3,559.8 L450.5,559.8 L449.7,559.9 L448.8,559.9 L448.0,560.0 L447.2,560.1 L446.4,560.1 L445.5,560.2 L444.7,560.2 L443.8,560.3 L443.0,560.3 L442.1,560.4 L441.2,560.5 L440.4,560.5 L439.5,560.6 L438.6,560.6 L437.7,560.7 L436.9,560.7 L436.0,560.8 L435.1,560.8 L434.2,560.9 L433.3,560.9 L432.5,561.0 L431.6,561.0 L430.7,561.1 L429.8,561.1 L428.9,561.2 L428.0,561.3 L427.1,561.3 L426.2,561.4 L425.3,561.4 L424.5,561.5 L423.6,561.5 L422.7,561.6 L421.8,561.6 L420.9,561.7 L420.1,561.7 L419.2,561.8 L418.3,561.8 L417.5,561.8 L416.6,561.9 L415.7,561.9 L414.9,562.0 L414.0,562.0 L413.2,562.0 L412.3,562.1 L411.5,562.1 L410.6,562.2 L409.8,562.2 L409.0,562.2 L408.1,562.3 L407.3,562.3 L406.5,562.4 L405.7,562.4 L405.0,562.4 L404.2,562.5 L403.4,562.5 L402.6,562.5 L401.8,562.6 L401.1,562.6 L400.3,562.7 L399.6,562.7 L398.8,562.7 L398.1,562.8 L397.4,562.8 L396.7,562.8 L396.0,562.9 L395.3,562.9 L394.7,562.9 L394.0,563.0 L393.4,563.0 L392.7,563.0 L392.1,563.1 L391.5,563.1 L390.9,563.2 L390.2,563.2 L389.7,563.2 L389.1,563.3 L388.5,563.3 L388.0,563.3 L387.4,563.4 L386.9,563.4 L386.4,563.4 L385.9,563.5 L385.4,563.5 L385.0,563.5 L384.5,563.6 L384.1,563.6 L383.7,563.6 L383.3,563.7 L382.8,563.7 L382.5,563.7 L382.1,563.8 L381.7,563.8 L381.4,563.8 L381.1,563.9 L380.8,563.9 L380.5,563.9 L380.3,564.0 L380.1,564.0 L379.9,564.0Z" fill="url(#g3)" stroke="url(#g3)" stroke-width="0.6" stroke-linejoin="round"/>
<polyline points="380.0,565.0 380.2,565.0 380.4,565.0 380.6,564.9 380.9,564.9 381.2,564.9 381.5,564.9 381.8,564.8 382.2,564.8 382.6,564.8 382.9,564.7 383.3,564.7 383.7,564.7 384.2,564.6 384.6,564.6 385.1,564.6 385.5,564.6 386.0,564.5 386.5,564.5 387.0,564.5 387.5,564.4 388.0,564.4 388.6,564.4 389.1,564.3 389.7,564.3 390.3,564.3 390.9,564.3 391.5,564.2 392.1,564.2 392.8,564.2 393.4,564.1 394.1,564.1 394.7,564.1 395.4,564.0 396.1,564.0 396.7,564.0 397.5,563.9 398.2,563.9 398.9,563.9 399.6,563.8 400.4,563.8 401.1,563.8 401.9,563.7 402.7,563.7 403.4,563.7 404.2,563.6 405.0,563.6 405.8,563.6 406.6,563.5 407.4,563.5 408.2,563.5 409.0,563.4 409.8,563.4 410.7,563.4 411.5,563.3 412.4,563.3 413.2,563.3 414.1,563.2 414.9,563.2 415.8,563.2 416.6,563.1 417.5,563.1 418.4,563.0 419.2,563.0 420.1,563.0 421.0,562.9 421.9,562.9" fill="none" stroke="#9d8ee6" stroke-width="2.2" stroke-linejoin="round"/>
<polyline points="661.2,295.9 661.3,297.9 661.4,300.0 661.5,302.2 661.6,304.6 661.7,307.1 661.8,309.6 661.9,312.2 662.0,315.0 662.2,317.8 662.3,320.6 662.4,323.5 662.5,326.5 662.7,329.5 662.8,332.6 662.9,335.7 663.0,338.8 663.2,341.9 663.3,345.0 663.4,348.2 663.6,351.4 663.7,354.6 663.8,357.9 664.0,361.3 664.1,364.7 664.2,368.1 664.4,371.6 664.5,375.1 664.6,378.6 664.8,382.1 664.9,385.7 665.1,389.2 665.2,392.8 665.4,396.4 665.5,400.0 665.6,403.6 665.8,407.3 666.0,410.9 666.1,414.6 666.3,418.4 666.5,422.1 666.6,425.9 666.8,429.7 667.0,433.5 667.1,437.3 667.3,441.1 667.4,444.9 667.6,448.7 667.7,452.5 667.9,456.2 668.0,460.0 668.1,463.8 668.2,467.6 668.3,471.4 668.4,475.3 668.5,479.2 668.6,483.1 668.7,487.0 668.8,490.9 668.9,494.7 669.0,498.5 669.1,502.3 669.1,506.0 669.2,509.6 669.3,513.2 669.4,516.6 669.5,520.0 669.6,523.3 669.7,526.7 669.8,530.0 669.9,533.4 670.0,536.7 670.0,539.9 670.1,543.1 670.2,546.2 670.3,549.3 670.4,552.1 670.5,554.9 670.6,557.5 670.7,559.9 670.8,562.2 670.9,564.2 671.0,566.0 671.1,567.6 671.2,568.9 671.4,570.0 671.5,570.9 671.7,571.6 671.8,572.1 671.9,572.6 672.1,572.9 672.2,573.1 672.4,573.3 672.5,573.4 672.6,573.5 672.7,573.5 672.8,573.6 672.9,573.8 673.0,574.0" fill="none" stroke="#9d8ee6" stroke-width="2.2" stroke-linejoin="round"/>
<g><path d="M653.6,239.7L660.6,246.7M653.6,246.7L660.6,239.7" stroke="#3f2fae" stroke-width="1.8" fill="none"/><path d="M655.2,248.6L662.2,255.6M655.2,255.6L662.2,248.6" stroke="#3f2fae" stroke-width="1.8" fill="none"/><path d="M656.0,257.5L663.0,264.5M656.0,264.5L663.0,257.5" stroke="#3f2fae" stroke-width="1.8" fill="none"/><path d="M656.4,266.5L663.4,273.5M656.4,273.5L663.4,266.5" stroke="#3f2fae" stroke-width="1.8" fill="none"/><path d="M656.9,275.5L663.9,282.5M656.9,282.5L663.9,275.5" stroke="#3f2fae" stroke-width="1.8" fill="none"/><path d="M657.4,284.5L664.4,291.5M657.4,291.5L664.4,284.5" stroke="#3f2fae" stroke-width="1.8" fill="none"/><path d="M657.8,293.5L664.8,300.5M657.8,300.5L664.8,293.5" stroke="#3f2fae" stroke-width="1.8" fill="none"/><path d="M658.3,306.5L665.3,313.5M658.3,313.5L665.3,306.5" stroke="#3f2fae" stroke-width="1.8" fill="none"/><path d="M659.2,326.5L666.2,333.5M659.2,333.5L666.2,326.5" stroke="#3f2fae" stroke-width="1.8" fill="none"/><path d="M660.0,346.5L667.0,353.5M660.0,353.5L667.0,346.5" stroke="#3f2fae" stroke-width="1.8" fill="none"/><path d="M660.8,366.4L667.8,373.4M660.8,373.4L667.8,366.4" stroke="#3f2fae" stroke-width="1.8" fill="none"/><path d="M661.6,386.4L668.6,393.4M661.6,393.4L668.6,386.4" stroke="#3f2fae" stroke-width="1.8" fill="none"/><path d="M662.4,406.4L669.4,413.4M662.4,413.4L669.4,406.4" stroke="#3f2fae" stroke-width="1.8" fill="none"/><path d="M663.3,426.4L670.3,433.4M663.3,433.4L670.3,426.4" stroke="#3f2fae" stroke-width="1.8" fill="none"/><path d="M664.1,446.4L671.1,453.4M664.1,453.4L671.1,446.4" stroke="#3f2fae" stroke-width="1.8" fill="none"/><path d="M664.8,466.4L671.8,473.4M664.8,473.4L671.8,466.4" stroke="#3f2fae" stroke-width="1.8" fill="none"/><path d="M665.3,486.4L672.3,493.4M665.3,493.4L672.3,486.4" stroke="#3f2fae" stroke-width="1.8" fill="none"/><path d="M665.7,506.3L672.7,513.3M665.7,513.3L672.7,506.3" stroke="#3f2fae" stroke-width="1.8" fill="none"/><path d="M666.3,526.3L673.3,533.3M666.3,533.3L673.3,526.3" stroke="#3f2fae" stroke-width="1.8" fill="none"/><path d="M666.8,546.3L673.8,553.3M666.8,553.3L673.8,546.3" stroke="#3f2fae" stroke-width="1.8" fill="none"/><path d="M610.0,484.4L616.0,490.4M610.0,490.4L616.0,484.4" stroke="#5443c4" stroke-width="1.8" fill="none"/><path d="M612.8,476.3L618.8,482.3M612.8,482.3L618.8,476.3" stroke="#5443c4" stroke-width="1.8" fill="none"/><path d="M615.0,468.1L621.0,474.1M615.0,474.1L621.0,468.1" stroke="#5443c4" stroke-width="1.8" fill="none"/><path d="M616.9,459.8L622.9,465.8M616.9,465.8L622.9,459.8" stroke="#5443c4" stroke-width="1.8" fill="none"/><path d="M618.5,451.5L624.5,457.5M618.5,457.5L624.5,451.5" stroke="#5443c4" stroke-width="1.8" fill="none"/><path d="M620.1,443.1L626.1,449.1M620.1,449.1L626.1,443.1" stroke="#5443c4" stroke-width="1.8" fill="none"/><path d="M621.5,434.7L627.5,440.7M621.5,440.7L627.5,434.7" stroke="#5443c4" stroke-width="1.8" fill="none"/><path d="M622.9,426.4L628.9,432.4M622.9,432.4L628.9,426.4" stroke="#5443c4" stroke-width="1.8" fill="none"/><path d="M624.2,418.0L630.2,424.0M624.2,424.0L630.2,418.0" stroke="#5443c4" stroke-width="1.8" fill="none"/><path d="M625.5,409.6L631.5,415.6M625.5,415.6L631.5,409.6" stroke="#5443c4" stroke-width="1.8" fill="none"/><path d="M626.8,401.2L632.8,407.2M626.8,407.2L632.8,401.2" stroke="#5443c4" stroke-width="1.8" fill="none"/><path d="M628.0,392.8L634.0,398.8M628.0,398.8L634.0,392.8" stroke="#5443c4" stroke-width="1.8" fill="none"/><path d="M629.3,384.3L635.3,390.3M629.3,390.3L635.3,384.3" stroke="#5443c4" stroke-width="1.8" fill="none"/><path d="M630.5,375.9L636.5,381.9M630.5,381.9L636.5,375.9" stroke="#5443c4" stroke-width="1.8" fill="none"/><path d="M631.6,367.5L637.6,373.5M631.6,373.5L637.6,367.5" stroke="#5443c4" stroke-width="1.8" fill="none"/><path d="M632.8,359.1L638.8,365.1M632.8,365.1L638.8,359.1" stroke="#5443c4" stroke-width="1.8" fill="none"/><path d="M634.0,350.7L640.0,356.7M634.0,356.7L640.0,350.7" stroke="#5443c4" stroke-width="1.8" fill="none"/><path d="M635.1,342.3L641.1,348.3M635.1,348.3L641.1,342.3" stroke="#5443c4" stroke-width="1.8" fill="none"/><path d="M636.3,333.8L642.3,339.8M636.3,339.8L642.3,333.8" stroke="#5443c4" stroke-width="1.8" fill="none"/><path d="M637.5,325.4L643.5,331.4M637.5,331.4L643.5,325.4" stroke="#5443c4" stroke-width="1.8" fill="none"/><path d="M638.7,317.0L644.7,323.0M638.7,323.0L644.7,317.0" stroke="#5443c4" stroke-width="1.8" fill="none"/><path d="M639.7,308.6L645.7,314.6M639.7,314.6L645.7,308.6" stroke="#5443c4" stroke-width="1.8" fill="none"/><path d="M640.4,300.1L646.4,306.1M640.4,306.1L646.4,300.1" stroke="#5443c4" stroke-width="1.8" fill="none"/><path d="M641.1,291.6L647.1,297.6M641.1,297.6L647.1,291.6" stroke="#5443c4" stroke-width="1.8" fill="none"/><path d="M641.8,283.2L647.8,289.2M641.8,289.2L647.8,283.2" stroke="#5443c4" stroke-width="1.8" fill="none"/><path d="M642.6,274.7L648.6,280.7M642.6,280.7L648.6,274.7" stroke="#5443c4" stroke-width="1.8" fill="none"/><path d="M643.5,266.2L649.5,272.2M643.5,272.2L649.5,266.2" stroke="#5443c4" stroke-width="1.8" fill="none"/><path d="M644.6,257.8L650.6,263.8M644.6,263.8L650.6,257.8" stroke="#5443c4" stroke-width="1.8" fill="none"/><path d="M645.9,249.4L651.9,255.4M645.9,255.4L651.9,249.4" stroke="#5443c4" stroke-width="1.8" fill="none"/><path d="M647.6,241.1L653.6,247.1M647.6,247.1L653.6,241.1" stroke="#5443c4" stroke-width="1.8" fill="none"/></g>
<polyline points="715.0,575.0 767.0,575.0 1062.0,572.5" fill="none" stroke="#3cc6b4" stroke-width="10.0"/>
<defs><linearGradient id="g4" gradientUnits="userSpaceOnUse" x1="0" y1="420.0" x2="0" y2="480.0"><stop offset="0" stop-color="#76ded2"/><stop offset="1" stop-color="#3cc6b4"/></linearGradient></defs>
<path d="M400.0,566.0 L400.6,566.0 L401.2,566.0 L401.9,566.0 L402.8,565.9 L403.6,565.9 L404.6,565.9 L405.6,565.9 L406.7,565.9 L407.7,565.8 L408.8,565.8 L409.9,565.8 L411.0,565.8 L412.1,565.7 L413.1,565.7 L414.1,565.7 L415.0,565.7 L415.9,565.6 L416.8,565.6 L417.7,565.6 L418.5,565.6 L419.4,565.6 L420.3,565.5 L421.1,565.5 L422.0,565.5 L422.8,565.5 L423.7,565.4 L424.5,565.4 L425.4,565.4 L426.2,565.4 L427.0,565.3 L427.8,565.3 L428.6,565.3 L429.5,565.3 L430.3,565.2 L431.1,565.2 L431.9,565.2 L432.7,565.2 L433.4,565.1 L434.2,565.1 L435.0,565.1 L435.8,565.1 L436.5,565.0 L437.3,565.0 L438.1,565.0 L438.8,565.0 L439.6,564.9 L440.3,564.9 L441.1,564.9 L441.8,564.8 L442.5,564.8 L443.3,564.8 L444.0,564.8 L444.7,564.7 L445.4,564.7 L446.1,564.7 L446.9,564.7 L447.6,564.6 L448.3,564.6 L449.0,564.6 L449.6,564.5 L450.3,564.5 L451.0,564.5 L451.7,564.4 L452.4,564.4 L453.0,564.4 L453.7,564.4 L454.4,564.3 L455.0,564.3 L455.7,564.3 L456.3,564.2 L457.0,564.2 L457.6,564.2 L458.3,564.2 L458.9,564.1 L459.5,564.1 L460.2,564.1 L460.8,564.0 L461.4,564.0 L462.0,564.0 L462.6,563.9 L463.3,563.9 L463.9,563.9 L464.5,563.9 L465.1,563.8 L465.7,563.8 L466.3,563.8 L466.8,563.7 L467.4,563.7 L468.0,563.7 L468.6,563.6 L469.2,563.6 L469.7,563.6 L470.3,563.5 L470.9,563.5 L471.4,563.5 L472.0,563.4 L472.5,563.4 L473.1,563.4 L473.7,563.3 L474.2,563.3 L474.7,563.2 L475.3,563.2 L475.8,563.2 L476.3,563.1 L476.9,563.1 L477.4,563.1 L477.9,563.0 L478.5,563.0 L479.0,562.9 L479.5,562.9 L480.0,562.9 L480.5,562.8 L481.0,562.8 L481.5,562.8 L482.0,562.7 L482.5,562.7 L483.0,562.6 L483.5,562.6 L484.0,562.6 L484.5,562.5 L485.0,562.5 L485.5,562.4 L485.9,562.4 L486.4,562.4 L486.9,562.3 L487.4,562.3 L487.8,562.2 L488.3,562.2 L488.8,562.1 L489.2,562.1 L489.7,562.1 L490.2,562.0 L490.6,562.0 L491.1,561.9 L491.5,561.9 L492.0,561.8 L492.4,561.8 L492.9,561.7 L493.3,561.7 L493.7,561.6 L494.2,561.6 L494.6,561.6 L495.0,561.5 L495.5,561.5 L495.9,561.4 L496.3,561.4 L496.8,561.3 L497.2,561.3 L497.6,561.2 L498.0,561.2 L498.4,561.1 L498.9,561.1 L499.3,561.0 L499.7,561.0 L500.1,560.9 L500.5,560.9 L500.9,560.8 L501.3,560.8 L501.7,560.7 L502.1,560.6 L502.5,560.6 L502.9,560.5 L503.3,560.5 L503.7,560.4 L504.1,560.4 L504.5,560.3 L504.9,560.3 L505.3,560.2 L505.7,560.1 L506.1,560.1 L506.5,560.0 L506.8,560.0 L507.2,559.9 L507.6,559.9 L508.0,559.8 L508.4,559.7 L508.8,559.7 L509.1,559.6 L509.5,559.6 L509.9,559.5 L510.3,559.4 L510.7,559.4 L511.0,559.3 L511.4,559.2 L511.8,559.2 L512.2,559.1 L512.5,559.1 L512.9,559.0 L513.3,558.9 L513.7,558.9 L514.0,558.8 L514.4,558.7 L514.8,558.7 L515.2,558.6 L515.5,558.5 L515.9,558.5 L516.3,558.4 L516.6,558.3 L517.0,558.3 L517.4,558.2 L517.8,558.1 L518.1,558.1 L518.5,558.0 L518.9,557.9 L519.3,557.9 L519.6,557.8 L520.0,557.7 L520.4,557.6 L520.8,557.6 L521.2,557.5 L521.5,557.4 L521.9,557.4 L522.3,557.3 L522.7,557.2 L523.1,557.1 L523.4,557.1 L523.8,557.0 L524.2,556.9 L524.6,556.8 L525.0,556.8 L525.4,556.7 L525.8,556.6 L526.1,556.5 L526.5,556.5 L526.9,556.4 L527.3,556.3 L527.7,556.2 L528.1,556.1 L528.5,556.1 L528.9,556.0 L529.3,555.9 L529.7,555.8 L530.1,555.7 L530.5,555.6 L530.9,555.6 L531.3,555.5 L531.8,555.4 L532.2,555.3 L532.6,555.2 L533.0,555.1 L533.4,555.1 L533.9,555.0 L534.3,554.9 L534.7,554.8 L535.1,554.7 L535.6,554.6 L536.0,554.5 L536.4,554.5 L536.9,554.4 L537.3,554.3 L537.7,554.2 L538.2,554.1 L538.6,554.0 L539.1,553.9 L539.5,553.8 L540.0,553.7 L540.5,553.6 L540.9,553.6 L541.4,553.5 L541.9,553.4 L542.3,553.3 L542.8,553.2 L543.3,553.1 L543.8,553.0 L544.3,552.9 L544.8,552.9 L545.2,552.8 L545.7,552.7 L546.2,552.6 L546.7,552.5 L547.2,552.4 L547.7,552.3 L548.2,552.2 L548.7,552.1 L549.3,552.0 L549.8,551.9 L550.3,551.8 L550.8,551.7 L551.3,551.6 L551.8,551.5 L552.4,551.4 L552.9,551.3 L553.4,551.2 L554.0,551.1 L554.5,551.0 L555.0,550.9 L555.6,550.8 L556.1,550.7 L556.6,550.6 L557.2,550.5 L557.7,550.3 L558.2,550.2 L558.8,550.1 L559.3,550.0 L559.9,549.9 L560.4,549.7 L561.0,549.6 L561.5,549.5 L562.1,549.3 L562.6,549.2 L563.1,549.1 L563.7,549.0 L564.2,548.8 L564.8,548.7 L565.3,548.6 L565.9,548.4 L566.4,548.3 L567.0,548.2 L567.5,548.0 L568.0,547.9 L568.6,547.8 L569.1,547.6 L569.7,547.5 L570.2,547.3 L570.8,547.2 L571.3,547.1 L571.9,546.9 L572.4,546.8 L572.9,546.6 L573.5,546.5 L574.0,546.4 L574.5,546.2 L575.1,546.1 L575.6,545.9 L576.1,545.8 L576.6,545.6 L577.2,545.5 L577.7,545.3 L578.2,545.2 L578.7,545.0 L579.3,544.9 L579.8,544.7 L580.3,544.6 L580.8,544.4 L581.3,544.3 L581.8,544.1 L582.3,543.9 L582.8,543.8 L583.4,543.6 L583.9,543.5 L584.4,543.3 L584.9,543.2 L585.4,543.0 L585.9,542.8 L586.4,542.7 L586.9,542.5 L587.3,542.3 L587.8,542.2 L588.3,542.0 L588.8,541.8 L589.3,541.7 L589.8,541.5 L590.3,541.3 L590.8,541.2 L591.2,541.0 L591.7,540.8 L592.2,540.6 L592.7,540.5 L593.2,540.3 L593.6,540.1 L594.1,539.9 L594.6,539.8 L595.0,539.6 L595.5,539.4 L596.0,539.2 L596.4,539.0 L596.9,538.9 L597.4,538.7 L597.8,538.5 L598.3,538.3 L598.7,538.1 L599.2,537.9 L599.7,537.7 L600.1,537.5 L600.6,537.4 L601.0,537.2 L601.5,537.0 L601.9,536.8 L602.4,536.6 L602.8,536.4 L603.2,536.2 L603.7,536.0 L604.1,535.8 L604.6,535.6 L605.0,535.4 L605.4,535.2 L605.9,535.0 L606.3,534.8 L606.7,534.6 L607.2,534.4 L607.6,534.2 L608.0,533.9 L608.4,533.7 L608.9,533.5 L609.3,533.3 L609.7,533.1 L610.1,532.9 L610.5,532.7 L611.0,532.4 L611.4,532.2 L611.8,532.0 L612.2,531.8 L612.6,531.6 L613.0,531.3 L613.4,531.1 L613.8,530.9 L614.2,530.7 L614.6,530.4 L615.0,530.2 L615.4,530.0 L615.8,529.8 L616.2,529.5 L616.6,529.3 L617.0,529.0 L617.4,528.8 L617.8,528.6 L618.2,528.3 L618.6,528.1 L619.0,527.9 L619.4,527.6 L619.7,527.4 L620.1,527.1 L620.5,526.9 L620.9,526.6 L621.3,526.4 L621.6,526.1 L622.0,525.9 L622.4,525.6 L622.8,525.4 L623.1,525.1 L623.5,524.8 L623.9,524.6 L624.2,524.3 L624.6,524.1 L624.9,523.8 L625.3,523.5 L625.7,523.3 L626.0,523.0 L626.4,522.7 L626.7,522.5 L627.1,522.2 L627.4,521.9 L627.8,521.6 L628.1,521.4 L628.5,521.1 L628.8,520.8 L629.1,520.5 L629.5,520.2 L629.8,520.0 L630.2,519.7 L630.5,519.4 L630.8,519.1 L631.2,518.8 L631.5,518.5 L631.8,518.2 L632.2,517.9 L632.5,517.6 L632.8,517.3 L633.1,517.0 L633.4,516.7 L633.8,516.4 L634.1,516.1 L634.4,515.8 L634.7,515.5 L635.0,515.2 L635.3,514.9 L635.6,514.6 L636.0,514.3 L636.3,514.0 L636.6,513.7 L636.9,513.3 L637.2,513.0 L637.5,512.7 L637.8,512.4 L638.1,512.1 L638.4,511.7 L638.7,511.4 L639.0,511.1 L639.3,510.7 L639.5,510.4 L639.8,510.1 L640.1,509.7 L640.4,509.4 L640.7,509.1 L641.0,508.7 L641.3,508.4 L641.5,508.0 L641.8,507.7 L642.1,507.3 L642.4,507.0 L642.6,506.6 L642.9,506.3 L643.2,505.9 L643.5,505.6 L643.7,505.2 L644.0,504.9 L644.3,504.5 L644.5,504.1 L644.8,503.8 L645.1,503.4 L645.3,503.0 L645.6,502.7 L645.8,502.3 L646.1,501.9 L646.4,501.5 L646.6,501.2 L646.9,500.8 L647.1,500.4 L647.4,500.0 L647.6,499.6 L647.9,499.3 L648.1,498.9 L648.4,498.5 L648.6,498.1 L648.8,497.7 L649.1,497.3 L649.3,496.9 L649.6,496.5 L649.8,496.1 L650.0,495.7 L650.3,495.3 L650.5,494.9 L650.7,494.5 L651.0,494.1 L651.2,493.6 L651.4,493.2 L651.7,492.8 L651.9,492.4 L652.1,492.0 L652.3,491.5 L652.6,491.1 L652.8,490.7 L653.0,490.3 L653.2,489.8 L653.4,489.4 L653.7,489.0 L653.9,488.5 L654.1,488.1 L654.3,487.6 L654.5,487.2 L654.7,486.8 L654.9,486.3 L655.2,485.9 L655.4,485.4 L655.6,485.0 L655.8,484.5 L656.0,484.0 L656.2,483.6 L656.4,483.1 L656.6,482.6 L656.8,482.2 L657.0,481.7 L657.2,481.2 L657.4,480.8 L657.6,480.3 L657.8,479.8 L658.0,479.3 L658.2,478.8 L658.4,478.4 L658.6,477.9 L658.8,477.4 L659.0,476.9 L659.1,476.4 L659.3,475.9 L659.5,475.4 L659.7,474.9 L659.9,474.4 L660.1,473.9 L660.3,473.4 L660.4,472.9 L660.6,472.3 L660.8,471.8 L661.0,471.3 L661.2,470.8 L661.4,470.3 L661.5,469.7 L661.7,469.2 L661.9,468.7 L662.0,468.1 L662.2,467.6 L662.4,467.0 L662.6,466.5 L662.7,466.0 L662.9,465.4 L663.1,464.9 L663.2,464.3 L663.4,463.7 L663.6,463.2 L663.7,462.6 L663.9,462.1 L664.0,461.5 L664.2,460.9 L664.4,460.3 L664.5,459.8 L664.7,459.2 L664.9,458.6 L665.0,458.0 L665.2,457.4 L665.3,456.8 L665.5,456.3 L665.6,455.7 L665.8,455.1 L665.9,454.5 L666.1,453.9 L666.3,453.3 L666.4,452.6 L666.6,452.0 L666.7,451.4 L666.9,450.8 L667.0,450.2 L667.2,449.5 L667.3,448.9 L667.5,448.3 L667.6,447.7 L667.8,447.0 L667.9,446.4 L668.0,445.7 L668.2,445.1 L668.3,444.4 L668.5,443.8 L668.6,443.1 L668.8,442.5 L668.9,441.8 L669.1,441.1 L669.2,440.5 L669.3,439.8 L669.5,439.1 L669.6,438.4 L669.8,437.8 L669.9,437.1 L670.0,436.4 L670.2,435.7 L670.3,435.0 L670.4,434.3 L670.6,433.6 L670.7,432.9 L670.8,432.2 L671.0,431.5 L671.1,430.7 L671.2,430.0 L671.4,429.3 L671.5,428.6 L671.6,427.8 L671.8,427.1 L671.9,426.4 L672.0,425.6 L672.2,424.9 L672.3,424.1 L672.4,423.4 L672.6,422.6 L672.7,421.9 L672.8,421.1 L672.9,420.3 L673.1,419.6 L673.2,418.8 L673.3,418.0 L673.5,417.2 L673.6,416.4 L673.7,415.6 L673.9,414.8 L674.0,414.0 L674.1,413.2 L674.3,412.4 L674.4,411.6 L674.5,410.8 L674.7,410.0 L674.8,409.2 L674.9,408.3 L675.1,407.5 L675.2,406.7 L675.3,405.8 L675.4,405.0 L675.6,404.1 L675.7,403.3 L675.8,402.4 L676.0,401.6 L676.1,400.7 L676.2,399.8 L676.4,399.0 L676.5,398.1 L676.6,397.2 L676.8,396.3 L676.9,395.4 L677.0,394.5 L677.1,393.6 L677.3,392.7 L677.4,391.8 L677.5,390.9 L677.7,390.0 L677.8,389.1 L677.9,388.1 L678.1,387.2 L678.2,386.3 L678.3,385.3 L678.4,384.4 L678.6,383.4 L678.7,382.5 L678.8,381.5 L679.0,380.6 L679.1,379.6 L679.2,378.6 L679.4,377.6 L679.5,376.7 L679.6,375.7 L679.8,374.7 L679.9,373.7 L680.0,372.7 L680.1,371.7 L680.3,370.6 L680.4,369.6 L680.5,368.6 L680.7,367.6 L680.8,366.5 L680.9,365.5 L681.1,364.4 L681.2,363.4 L681.3,362.3 L681.5,361.3 L681.6,360.2 L681.7,359.1 L681.8,358.0 L682.0,356.9 L682.1,355.9 L682.2,354.8 L682.4,353.7 L682.5,352.6 L682.6,351.4 L682.7,350.3 L682.9,349.2 L683.0,348.1 L683.1,346.9 L683.2,345.8 L683.4,344.7 L683.5,343.5 L683.6,342.3 L683.8,341.2 L683.9,340.0 L684.0,338.8 L684.1,337.7 L684.3,336.5 L684.4,335.3 L684.5,334.1 L684.7,332.9 L684.8,331.7 L684.9,330.5 L685.1,329.2 L685.2,328.0 L685.3,326.8 L685.5,325.5 L685.6,324.3 L685.7,323.0 L685.9,321.8 L686.0,320.5 L686.1,319.2 L686.3,317.9 L686.4,316.6 L686.5,315.4 L686.7,314.1 L686.8,312.7 L687.0,311.4 L687.1,310.1 L687.2,308.8 L687.4,307.5 L687.5,306.1 L687.6,304.8 L687.8,303.4 L687.9,302.1 L688.1,300.7 L688.2,299.3 L688.3,298.0 L688.5,296.7 L688.6,295.5 L688.7,294.2 L688.9,292.9 L689.0,291.6 L689.1,290.3 L689.3,289.0 L689.4,287.6 L689.6,286.1 L689.7,284.6 L689.9,283.1 L690.0,281.4 L690.2,279.7 L690.4,277.8 L690.6,275.9 L690.8,273.8 L691.0,271.5 L691.2,269.1 L691.5,266.7 L691.7,264.2 L691.9,261.7 L692.2,259.1 L692.4,256.5 L692.7,254.0 L692.9,251.5 L693.1,249.0 L693.4,246.7 L693.6,244.4 L693.8,242.3 L694.0,240.4 L694.2,238.5 L694.3,236.8 L694.5,235.1 L694.7,233.5 L694.9,231.9 L695.0,230.4 L695.2,229.0 L695.3,227.6 L695.5,226.3 L695.6,224.9 L695.8,223.6 L695.9,222.4 L696.1,221.1 L696.2,219.9 L696.3,218.6 L696.5,217.4 L696.6,216.1 L696.8,214.9 L696.9,213.7 L697.0,212.5 L697.1,211.3 L697.3,210.2 L697.4,209.0 L697.5,208.0 L697.6,206.9 L697.7,205.9 L697.9,204.9 L698.0,203.9 L698.1,203.0 L698.2,202.1 L698.3,201.3 L698.5,200.5 L698.6,199.8 L698.7,199.1 L698.8,198.5 L698.9,197.9 L699.0,197.3 L699.1,196.8 L699.3,196.3 L699.4,195.9 L699.5,195.5 L699.6,195.1 L699.7,194.8 L699.8,194.5 L699.9,194.2 L700.0,193.9 L700.1,193.7 L700.1,193.5 L700.2,193.5 L700.2,193.5 L700.2,193.5 L700.1,193.6 L700.0,193.7 L699.8,193.8 L699.7,193.9 L699.5,194.0 L699.4,194.0 L699.3,194.0 L699.2,194.0 L699.2,194.0 L699.3,194.0 L699.5,194.0 L699.7,194.0 L699.9,194.0 L700.2,194.0 L700.5,193.9 L700.7,193.9 L700.8,193.9 L700.9,193.9 L700.9,193.9 L700.8,193.9 L700.7,193.8 L700.5,193.8 L700.3,193.7 L700.0,193.6 L699.8,193.5 L699.6,193.3 L699.4,193.1 L699.3,193.0 L699.3,193.0 L699.4,193.1 L699.5,193.3 L699.6,193.5 L699.7,193.8 L699.8,194.1 L699.9,194.5 L699.9,194.9 L700.0,195.3 L700.1,195.8 L700.2,196.3 L700.3,196.9 L700.4,197.5 L700.5,198.1 L700.6,198.8 L700.7,199.6 L700.8,200.3 L700.9,201.1 L701.0,202.0 L701.1,202.9 L701.2,203.8 L701.3,204.9 L701.4,205.9 L701.5,207.0 L701.6,208.1 L701.7,209.2 L701.7,210.3 L701.8,211.5 L701.9,212.6 L702.0,213.8 L702.1,214.9 L702.2,216.0 L702.3,217.1 L702.3,218.2 L702.4,219.3 L702.5,220.4 L702.6,221.6 L702.7,222.7 L702.8,223.9 L702.9,225.0 L703.0,226.2 L703.0,227.3 L703.1,228.4 L703.2,229.6 L703.3,230.7 L703.4,231.8 L703.4,232.9 L703.5,234.0 L703.6,235.1 L703.7,236.1 L703.8,237.1 L703.9,238.0 L704.0,238.9 L704.1,239.7 L704.2,240.6 L704.2,241.4 L704.3,242.3 L704.4,243.2 L704.5,244.1 L704.6,245.0 L704.7,246.0 L704.8,247.1 L704.9,248.2 L705.0,249.4 L705.1,250.6 L705.1,252.0 L705.2,253.3 L705.2,254.6 L705.3,256.0 L705.3,257.3 L705.4,258.8 L705.4,260.2 L705.5,261.8 L705.5,263.4 L705.6,265.1 L705.6,266.9 L705.7,268.7 L705.7,270.7 L705.8,272.9 L705.8,275.1 L705.9,277.5 L706.0,280.1 L706.0,282.7 L706.1,285.4 L706.1,288.3 L706.2,291.2 L706.2,294.3 L706.2,297.4 L706.3,300.7 L706.4,304.0 L706.4,307.4 L706.5,311.0 L706.5,314.6 L706.6,318.3 L706.7,322.1 L706.8,326.0 L706.9,330.0 L707.0,334.2 L707.1,338.5 L707.3,343.0 L707.4,347.6 L707.6,352.4 L707.7,357.2 L707.9,362.2 L708.0,367.2 L708.2,372.2 L708.4,377.3 L708.5,382.3 L708.7,387.3 L708.9,392.3 L709.0,397.2 L709.2,402.0 L709.3,406.6 L709.4,411.3 L709.6,416.1 L709.7,420.9 L709.8,425.8 L709.9,430.7 L710.0,435.6 L710.2,440.5 L710.3,445.3 L710.4,450.0 L710.5,454.5 L710.6,458.9 L710.7,463.1 L710.8,467.1 L711.0,470.9 L711.1,474.4 L711.2,477.5 L711.3,480.3 L711.5,482.7 L711.6,484.6 L711.7,486.3 L711.9,487.6 L712.0,488.8 L712.1,489.9 L712.3,490.8 L712.4,491.8 L712.5,492.7 L712.7,493.8 L712.8,495.1 L712.9,496.6 L713.0,498.3 L713.1,500.5 L713.2,503.0 L713.3,506.1 L713.3,509.6 L713.4,513.4 L713.4,517.6 L713.5,522.1 L713.5,526.7 L713.5,531.4 L713.6,536.1 L713.6,540.8 L713.6,545.5 L713.6,549.9 L713.7,554.1 L713.7,558.0 L713.8,561.5 L713.8,564.5 L713.9,567.0 L714.0,569.1 L714.1,570.8 L714.2,572.1 L714.4,573.2 L714.5,574.0 L714.7,574.7 L715.0,575.2 L715.5,575.7 L716.3,575.9 L716.9,575.7 L717.2,575.4 L717.4,575.3 L717.4,575.2 L717.0,575.4 L716.1,575.1 L716.0,575.0 L718.0,574.0 L717.8,573.6 L716.7,573.2 L716.1,573.5 L715.8,573.7 L715.7,573.8 L715.8,573.8 L716.1,573.7 L716.6,573.8 L716.8,574.0 L716.8,573.9 L716.7,573.5 L716.5,572.9 L716.4,571.9 L716.3,570.6 L716.2,569.0 L716.1,567.0 L716.0,564.5 L716.0,561.4 L715.9,557.9 L715.9,554.1 L715.8,549.9 L715.8,545.4 L715.8,540.8 L715.7,536.1 L715.7,531.4 L715.7,526.7 L715.7,522.0 L715.6,517.6 L715.6,513.4 L715.5,509.5 L715.5,506.0 L715.4,503.0 L715.3,500.4 L715.2,498.2 L715.1,496.4 L715.0,494.9 L714.9,493.6 L714.7,492.5 L714.6,491.5 L714.5,490.5 L714.3,489.6 L714.2,488.6 L714.1,487.4 L713.9,486.1 L713.8,484.5 L713.7,482.5 L713.5,480.2 L713.4,477.5 L713.3,474.3 L713.2,470.8 L713.0,467.1 L712.9,463.1 L712.8,458.9 L712.7,454.5 L712.6,449.9 L712.5,445.2 L712.4,440.4 L712.2,435.6 L712.1,430.7 L712.0,425.8 L711.9,420.9 L711.8,416.0 L711.6,411.2 L711.5,406.6 L711.4,401.9 L711.2,397.1 L711.1,392.2 L710.9,387.3 L710.7,382.2 L710.6,377.2 L710.4,372.1 L710.2,367.1 L710.1,362.1 L709.9,357.2 L709.8,352.3 L709.6,347.6 L709.5,342.9 L709.3,338.4 L709.2,334.1 L709.1,330.0 L709.0,326.0 L708.9,322.1 L708.8,318.3 L708.7,314.6 L708.7,310.9 L708.6,307.4 L708.6,304.0 L708.5,300.6 L708.4,297.4 L708.4,294.2 L708.4,291.2 L708.3,288.2 L708.3,285.4 L708.2,282.7 L708.2,280.0 L708.1,277.5 L708.0,275.1 L708.0,272.8 L707.9,270.7 L707.9,268.7 L707.8,266.8 L707.8,265.0 L707.7,263.3 L707.7,261.7 L707.6,260.2 L707.6,258.7 L707.5,257.3 L707.5,255.9 L707.4,254.5 L707.4,253.2 L707.3,251.9 L707.3,250.6 L707.3,249.3 L707.3,248.1 L707.3,247.0 L707.4,245.9 L707.4,244.9 L707.4,244.0 L707.4,243.1 L707.4,242.2 L707.5,241.3 L707.5,240.5 L707.5,239.6 L707.5,238.7 L707.5,237.8 L707.6,236.9 L707.6,235.9 L707.6,234.9 L707.6,233.9 L707.6,232.8 L707.6,231.7 L707.6,230.6 L707.7,229.5 L707.7,228.3 L707.7,227.2 L707.7,226.0 L707.7,224.9 L707.7,223.7 L707.7,222.5 L707.7,221.4 L707.7,220.3 L707.7,219.1 L707.7,218.0 L707.7,216.9 L707.7,215.8 L707.7,214.6 L707.7,213.5 L707.7,212.3 L707.6,211.2 L707.6,210.0 L707.6,208.9 L707.6,207.7 L707.5,206.6 L707.5,205.5 L707.5,204.5 L707.4,203.4 L707.4,202.4 L707.3,201.5 L707.3,200.5 L707.2,199.7 L707.2,198.9 L707.1,198.1 L707.0,197.4 L707.0,196.7 L706.9,196.0 L706.8,195.4 L706.8,194.8 L706.7,194.2 L706.6,193.6 L706.5,193.1 L706.4,192.5 L706.3,192.0 L706.2,191.5 L706.0,191.0 L705.9,190.5 L705.7,190.0 L705.4,189.4 L705.0,188.9 L704.5,188.3 L704.0,187.9 L703.4,187.5 L702.7,187.2 L702.1,187.0 L701.5,186.9 L701.0,186.9 L700.6,186.9 L700.2,186.9 L699.9,186.9 L699.6,187.0 L699.4,187.0 L699.3,187.0 L699.3,187.0 L699.2,187.0 L699.0,187.0 L698.8,187.0 L698.6,187.1 L698.3,187.1 L697.9,187.2 L697.5,187.3 L697.0,187.4 L696.5,187.6 L696.0,187.9 L695.6,188.3 L695.1,188.6 L694.7,189.1 L694.4,189.5 L694.1,190.0 L693.9,190.5 L693.7,190.9 L693.5,191.3 L693.3,191.7 L693.1,192.2 L693.0,192.7 L692.8,193.1 L692.7,193.7 L692.6,194.2 L692.4,194.7 L692.3,195.3 L692.2,195.9 L692.0,196.6 L691.9,197.2 L691.8,197.9 L691.7,198.7 L691.5,199.5 L691.4,200.3 L691.3,201.2 L691.2,202.1 L691.0,203.0 L690.9,204.0 L690.8,205.0 L690.7,206.1 L690.6,207.2 L690.4,208.3 L690.3,209.4 L690.2,210.6 L690.1,211.7 L689.9,212.9 L689.8,214.1 L689.7,215.4 L689.5,216.6 L689.4,217.9 L689.2,219.1 L689.1,220.3 L689.0,221.6 L688.8,222.9 L688.7,224.2 L688.5,225.5 L688.4,226.8 L688.2,228.2 L688.1,229.7 L687.9,231.2 L687.7,232.7 L687.6,234.3 L687.4,236.0 L687.2,237.8 L687.0,239.6 L686.8,241.6 L686.6,243.8 L686.4,246.0 L686.2,248.4 L685.9,250.8 L685.7,253.3 L685.4,255.9 L685.2,258.4 L685.0,261.0 L684.7,263.5 L684.5,266.0 L684.3,268.5 L684.0,270.8 L683.8,273.1 L683.6,275.2 L683.4,277.2 L683.2,279.0 L683.1,280.7 L682.9,282.4 L682.7,283.9 L682.6,285.4 L682.4,286.9 L682.3,288.2 L682.2,289.6 L682.0,290.9 L681.9,292.2 L681.8,293.5 L681.6,294.7 L681.5,296.0 L681.4,297.3 L681.2,298.6 L681.1,300.0 L681.0,301.3 L680.8,302.7 L680.7,304.1 L680.5,305.4 L680.4,306.7 L680.3,308.1 L680.1,309.4 L680.0,310.7 L679.9,312.0 L679.7,313.3 L679.6,314.6 L679.4,315.9 L679.3,317.2 L679.2,318.5 L679.0,319.7 L678.9,321.0 L678.8,322.3 L678.6,323.5 L678.5,324.8 L678.4,326.0 L678.2,327.3 L678.1,328.5 L678.0,329.7 L677.8,330.9 L677.7,332.1 L677.6,333.3 L677.5,334.5 L677.3,335.7 L677.2,336.9 L677.1,338.1 L676.9,339.2 L676.8,340.4 L676.7,341.6 L676.5,342.7 L676.4,343.9 L676.3,345.0 L676.2,346.2 L676.0,347.3 L675.9,348.4 L675.8,349.5 L675.7,350.6 L675.5,351.8 L675.4,352.9 L675.3,354.0 L675.1,355.0 L675.0,356.1 L674.9,357.2 L674.8,358.3 L674.6,359.4 L674.5,360.4 L674.4,361.5 L674.2,362.5 L674.1,363.6 L674.0,364.6 L673.9,365.6 L673.7,366.7 L673.6,367.7 L673.5,368.7 L673.3,369.7 L673.2,370.8 L673.1,371.8 L672.9,372.8 L672.8,373.8 L672.7,374.7 L672.6,375.7 L672.4,376.7 L672.3,377.7 L672.2,378.7 L672.0,379.6 L671.9,380.6 L671.8,381.5 L671.6,382.5 L671.5,383.4 L671.4,384.4 L671.3,385.3 L671.1,386.2 L671.0,387.2 L670.9,388.1 L670.7,389.0 L670.6,389.9 L670.5,390.8 L670.3,391.7 L670.2,392.6 L670.1,393.5 L670.0,394.4 L669.8,395.3 L669.7,396.2 L669.6,397.1 L669.4,397.9 L669.3,398.8 L669.2,399.7 L669.1,400.5 L668.9,401.4 L668.8,402.2 L668.7,403.1 L668.5,403.9 L668.4,404.8 L668.3,405.6 L668.1,406.4 L668.0,407.2 L667.9,408.1 L667.7,408.9 L667.6,409.7 L667.5,410.5 L667.3,411.3 L667.2,412.1 L667.1,412.9 L666.9,413.7 L666.8,414.5 L666.7,415.2 L666.5,416.0 L666.4,416.8 L666.2,417.6 L666.1,418.3 L666.0,419.1 L665.8,419.8 L665.7,420.6 L665.5,421.3 L665.4,422.1 L665.3,422.8 L665.1,423.6 L665.0,424.3 L664.8,425.0 L664.7,425.8 L664.5,426.5 L664.4,427.2 L664.2,427.9 L664.1,428.6 L664.0,429.3 L663.8,430.0 L663.7,430.7 L663.5,431.4 L663.4,432.1 L663.2,432.8 L663.1,433.5 L662.9,434.2 L662.8,434.9 L662.6,435.5 L662.5,436.2 L662.3,436.9 L662.2,437.5 L662.0,438.2 L661.9,438.9 L661.7,439.5 L661.6,440.2 L661.4,440.8 L661.3,441.5 L661.1,442.1 L661.0,442.7 L660.8,443.4 L660.7,444.0 L660.5,444.6 L660.4,445.3 L660.2,445.9 L660.1,446.5 L659.9,447.1 L659.8,447.7 L659.6,448.3 L659.4,448.9 L659.3,449.5 L659.1,450.1 L659.0,450.7 L658.8,451.3 L658.7,451.9 L658.5,452.5 L658.3,453.1 L658.2,453.7 L658.0,454.2 L657.9,454.8 L657.7,455.4 L657.5,455.9 L657.4,456.5 L657.2,457.1 L657.0,457.6 L656.9,458.2 L656.7,458.7 L656.5,459.3 L656.4,459.8 L656.2,460.4 L656.0,460.9 L655.9,461.4 L655.7,462.0 L655.5,462.5 L655.4,463.0 L655.2,463.6 L655.0,464.1 L654.8,464.6 L654.7,465.1 L654.5,465.6 L654.3,466.2 L654.2,466.7 L654.0,467.2 L653.8,467.7 L653.6,468.2 L653.5,468.7 L653.3,469.2 L653.1,469.7 L652.9,470.2 L652.8,470.7 L652.6,471.1 L652.4,471.6 L652.2,472.1 L652.0,472.6 L651.9,473.1 L651.7,473.5 L651.5,474.0 L651.3,474.5 L651.1,474.9 L650.9,475.4 L650.8,475.9 L650.6,476.3 L650.4,476.8 L650.2,477.2 L650.0,477.7 L649.8,478.1 L649.6,478.6 L649.5,479.0 L649.3,479.5 L649.1,479.9 L648.9,480.3 L648.7,480.8 L648.5,481.2 L648.3,481.6 L648.1,482.1 L647.9,482.5 L647.7,482.9 L647.5,483.3 L647.3,483.8 L647.1,484.2 L646.9,484.6 L646.7,485.0 L646.5,485.4 L646.3,485.8 L646.1,486.2 L645.9,486.6 L645.7,487.0 L645.5,487.4 L645.3,487.8 L645.1,488.2 L644.8,488.6 L644.6,489.0 L644.4,489.4 L644.2,489.8 L644.0,490.1 L643.8,490.5 L643.6,490.9 L643.3,491.3 L643.1,491.7 L642.9,492.0 L642.7,492.4 L642.5,492.8 L642.2,493.1 L642.0,493.5 L641.8,493.9 L641.6,494.2 L641.3,494.6 L641.1,495.0 L640.9,495.3 L640.7,495.7 L640.4,496.0 L640.2,496.4 L640.0,496.7 L639.7,497.1 L639.5,497.4 L639.3,497.7 L639.0,498.1 L638.8,498.4 L638.5,498.8 L638.3,499.1 L638.1,499.4 L637.8,499.8 L637.6,500.1 L637.3,500.4 L637.1,500.8 L636.8,501.1 L636.6,501.4 L636.3,501.7 L636.1,502.0 L635.8,502.4 L635.6,502.7 L635.3,503.0 L635.1,503.3 L634.8,503.6 L634.6,503.9 L634.3,504.2 L634.0,504.5 L633.8,504.8 L633.5,505.2 L633.2,505.5 L633.0,505.8 L632.7,506.1 L632.4,506.4 L632.2,506.6 L631.9,506.9 L631.6,507.2 L631.4,507.5 L631.1,507.8 L630.8,508.1 L630.5,508.4 L630.3,508.7 L630.0,509.0 L629.7,509.2 L629.4,509.5 L629.1,509.8 L628.8,510.1 L628.5,510.4 L628.3,510.6 L628.0,510.9 L627.7,511.2 L627.4,511.5 L627.1,511.7 L626.8,512.0 L626.5,512.3 L626.2,512.5 L625.9,512.8 L625.6,513.1 L625.3,513.3 L625.0,513.6 L624.7,513.8 L624.4,514.1 L624.1,514.4 L623.7,514.6 L623.4,514.9 L623.1,515.1 L622.8,515.4 L622.5,515.6 L622.2,515.9 L621.8,516.1 L621.5,516.4 L621.2,516.6 L620.9,516.9 L620.5,517.1 L620.2,517.4 L619.9,517.6 L619.5,517.8 L619.2,518.1 L618.9,518.3 L618.5,518.5 L618.2,518.8 L617.9,519.0 L617.5,519.3 L617.2,519.5 L616.8,519.7 L616.5,519.9 L616.1,520.2 L615.8,520.4 L615.4,520.6 L615.1,520.9 L614.7,521.1 L614.4,521.3 L614.0,521.5 L613.6,521.8 L613.3,522.0 L612.9,522.2 L612.5,522.4 L612.2,522.6 L611.8,522.8 L611.4,523.1 L611.1,523.3 L610.7,523.5 L610.3,523.7 L609.9,523.9 L609.6,524.1 L609.2,524.3 L608.8,524.5 L608.4,524.7 L608.0,525.0 L607.6,525.2 L607.2,525.4 L606.9,525.6 L606.5,525.8 L606.1,526.0 L605.7,526.2 L605.3,526.4 L604.9,526.6 L604.5,526.8 L604.1,527.0 L603.7,527.2 L603.3,527.4 L602.9,527.5 L602.5,527.7 L602.0,527.9 L601.6,528.1 L601.2,528.3 L600.8,528.5 L600.4,528.7 L600.0,528.9 L599.6,529.1 L599.1,529.3 L598.7,529.4 L598.3,529.6 L597.9,529.8 L597.4,530.0 L597.0,530.2 L596.6,530.4 L596.1,530.5 L595.7,530.7 L595.3,530.9 L594.8,531.1 L594.4,531.2 L594.0,531.4 L593.5,531.6 L593.1,531.8 L592.6,531.9 L592.2,532.1 L591.7,532.3 L591.3,532.5 L590.8,532.6 L590.4,532.8 L589.9,533.0 L589.5,533.1 L589.0,533.3 L588.5,533.5 L588.1,533.6 L587.6,533.8 L587.2,534.0 L586.7,534.1 L586.2,534.3 L585.7,534.4 L585.3,534.6 L584.8,534.8 L584.3,534.9 L583.9,535.1 L583.4,535.2 L582.9,535.4 L582.4,535.5 L581.9,535.7 L581.4,535.8 L581.0,536.0 L580.5,536.2 L580.0,536.3 L579.5,536.5 L579.0,536.6 L578.5,536.8 L578.0,536.9 L577.5,537.1 L577.0,537.2 L576.5,537.3 L576.0,537.5 L575.5,537.6 L575.0,537.8 L574.5,537.9 L574.0,538.1 L573.5,538.2 L572.9,538.4 L572.4,538.5 L571.9,538.6 L571.4,538.8 L570.9,538.9 L570.4,539.0 L569.8,539.2 L569.3,539.3 L568.8,539.5 L568.3,539.6 L567.7,539.7 L567.2,539.9 L566.7,540.0 L566.1,540.1 L565.6,540.3 L565.0,540.4 L564.5,540.5 L564.0,540.7 L563.4,540.8 L562.9,540.9 L562.4,541.0 L561.8,541.2 L561.3,541.3 L560.8,541.4 L560.2,541.6 L559.7,541.7 L559.2,541.8 L558.6,541.9 L558.1,542.1 L557.5,542.2 L557.0,542.3 L556.5,542.4 L555.9,542.5 L555.4,542.7 L554.9,542.8 L554.3,542.9 L553.8,543.0 L553.3,543.2 L552.8,543.3 L552.2,543.4 L551.7,543.6 L551.2,543.7 L550.7,543.8 L550.2,544.0 L549.7,544.1 L549.1,544.2 L548.6,544.4 L548.1,544.5 L547.6,544.6 L547.1,544.7 L546.6,544.9 L546.1,545.0 L545.6,545.1 L545.1,545.3 L544.6,545.4 L544.2,545.5 L543.7,545.6 L543.2,545.8 L542.7,545.9 L542.2,546.0 L541.8,546.1 L541.3,546.3 L540.8,546.4 L540.3,546.5 L539.9,546.6 L539.4,546.7 L539.0,546.9 L538.5,547.0 L538.0,547.1 L537.6,547.2 L537.1,547.3 L536.7,547.4 L536.3,547.5 L535.8,547.6 L535.4,547.8 L534.9,547.9 L534.5,548.0 L534.1,548.1 L533.7,548.2 L533.2,548.3 L532.8,548.4 L532.4,548.5 L532.0,548.6 L531.6,548.7 L531.1,548.8 L530.7,548.9 L530.3,549.0 L529.9,549.1 L529.5,549.2 L529.1,549.3 L528.7,549.4 L528.3,549.5 L527.9,549.6 L527.5,549.7 L527.1,549.8 L526.7,549.9 L526.3,550.0 L525.9,550.1 L525.6,550.2 L525.2,550.3 L524.8,550.4 L524.4,550.5 L524.0,550.6 L523.6,550.7 L523.2,550.8 L522.9,550.9 L522.5,551.0 L522.1,551.0 L521.7,551.1 L521.4,551.2 L521.0,551.3 L520.6,551.4 L520.3,551.5 L519.9,551.6 L519.5,551.7 L519.1,551.8 L518.8,551.9 L518.4,551.9 L518.0,552.0 L517.7,552.1 L517.3,552.2 L516.9,552.3 L516.6,552.4 L516.2,552.5 L515.8,552.6 L515.5,552.6 L515.1,552.7 L514.7,552.8 L514.4,552.9 L514.0,553.0 L513.7,553.1 L513.3,553.1 L512.9,553.2 L512.6,553.3 L512.2,553.4 L511.8,553.5 L511.5,553.5 L511.1,553.6 L510.7,553.7 L510.4,553.8 L510.0,553.9 L509.6,553.9 L509.3,554.0 L508.9,554.1 L508.5,554.2 L508.2,554.3 L507.8,554.3 L507.4,554.4 L507.0,554.5 L506.7,554.6 L506.3,554.6 L505.9,554.7 L505.5,554.8 L505.2,554.9 L504.8,554.9 L504.4,555.0 L504.0,555.1 L503.6,555.2 L503.3,555.2 L502.9,555.3 L502.5,555.4 L502.1,555.5 L501.7,555.5 L501.3,555.6 L500.9,555.7 L500.5,555.7 L500.1,555.8 L499.7,555.9 L499.3,556.0 L498.9,556.0 L498.5,556.1 L498.1,556.2 L497.7,556.2 L497.3,556.3 L496.9,556.4 L496.5,556.4 L496.1,556.5 L495.7,556.6 L495.3,556.6 L494.8,556.7 L494.4,556.8 L494.0,556.8 L493.6,556.9 L493.1,557.0 L492.7,557.1 L492.3,557.1 L491.8,557.2 L491.4,557.2 L491.0,557.3 L490.5,557.4 L490.1,557.4 L489.6,557.5 L489.2,557.6 L488.7,557.6 L488.3,557.7 L487.8,557.8 L487.3,557.8 L486.9,557.9 L486.4,558.0 L485.9,558.0 L485.5,558.1 L485.0,558.1 L484.5,558.2 L484.0,558.3 L483.6,558.3 L483.1,558.4 L482.6,558.5 L482.1,558.5 L481.6,558.6 L481.1,558.6 L480.6,558.7 L480.1,558.8 L479.6,558.8 L479.1,558.9 L478.6,558.9 L478.1,559.0 L477.6,559.1 L477.0,559.1 L476.5,559.2 L476.0,559.2 L475.5,559.3 L474.9,559.3 L474.4,559.4 L473.9,559.5 L473.3,559.5 L472.8,559.6 L472.2,559.6 L471.7,559.7 L471.1,559.7 L470.6,559.8 L470.0,559.8 L469.4,559.9 L468.9,560.0 L468.3,560.0 L467.7,560.1 L467.2,560.1 L466.6,560.2 L466.0,560.2 L465.4,560.3 L464.8,560.3 L464.2,560.4 L463.6,560.4 L463.0,560.5 L462.4,560.5 L461.8,560.6 L461.2,560.7 L460.6,560.7 L459.9,560.8 L459.3,560.8 L458.7,560.9 L458.1,560.9 L457.4,561.0 L456.8,561.0 L456.1,561.1 L455.5,561.1 L454.8,561.2 L454.2,561.2 L453.5,561.3 L452.9,561.3 L452.2,561.4 L451.5,561.4 L450.8,561.5 L450.2,561.5 L449.5,561.6 L448.8,561.6 L448.1,561.6 L447.4,561.7 L446.7,561.7 L446.0,561.8 L445.3,561.8 L444.6,561.9 L443.9,561.9 L443.1,562.0 L442.4,562.0 L441.7,562.0 L440.9,562.1 L440.2,562.1 L439.5,562.2 L438.7,562.2 L437.9,562.3 L437.2,562.3 L436.4,562.4 L435.7,562.4 L434.9,562.4 L434.1,562.5 L433.3,562.5 L432.5,562.6 L431.8,562.6 L431.0,562.6 L430.2,562.7 L429.4,562.7 L428.5,562.8 L427.7,562.8 L426.9,562.9 L426.1,562.9 L425.3,562.9 L424.4,563.0 L423.6,563.0 L422.7,563.1 L421.9,563.1 L421.0,563.1 L420.2,563.2 L419.3,563.2 L418.5,563.3 L417.6,563.3 L416.7,563.3 L415.8,563.4 L414.9,563.4 L414.0,563.4 L413.0,563.5 L412.0,563.5 L410.9,563.6 L409.8,563.6 L408.8,563.7 L407.7,563.7 L406.6,563.7 L405.5,563.8 L404.5,563.8 L403.6,563.8 L402.7,563.9 L401.9,563.9 L401.1,563.9 L400.5,564.0 L400.0,564.0Z" fill="url(#g4)" stroke="url(#g4)" stroke-width="0.6" stroke-linejoin="round"/>
<polyline points="400.0,565.0 400.5,565.0 401.2,565.0 401.9,564.9 402.7,564.9 403.6,564.9 404.6,564.9 405.6,564.8 406.6,564.8 407.7,564.8 408.8,564.7 409.9,564.7 411.0,564.7 412.0,564.6 413.1,564.6 414.0,564.6 415.0,564.5 415.9,564.5 416.7,564.5 417.6,564.4 418.5,564.4 419.4,564.4 420.2,564.4 421.1,564.3 421.9,564.3 422.8,564.3 423.6,564.2 424.5,564.2 425.3,564.2 426.1,564.1 427.0,564.1 427.8,564.1 428.6,564.0 429.4,564.0 430.2,564.0 431.0,563.9 431.8,563.9" fill="none" stroke="#7fd8cc" stroke-width="2.2" stroke-linejoin="round"/>
<polyline points="706.1,247.0 706.1,248.1 706.2,249.3 706.2,250.6 706.2,251.9 706.3,253.2 706.3,254.6 706.4,255.9 706.4,257.3 706.5,258.7 706.5,260.2 706.6,261.7 706.6,263.4 706.7,265.0 706.7,266.8 706.8,268.7 706.8,270.7 706.9,272.8 706.9,275.1 707.0,277.5 707.1,280.0 707.1,282.7 707.2,285.4 707.2,288.3 707.3,291.2 707.3,294.3 707.3,297.4 707.4,300.6 707.5,304.0 707.5,307.4 707.6,311.0 707.6,314.6 707.7,318.3 707.8,322.1 707.9,326.0 708.0,330.0 708.1,334.1 708.2,338.5 708.4,343.0 708.5,347.6 708.7,352.3 708.8,357.2 709.0,362.2 709.1,367.1 709.3,372.2 709.5,377.2 709.6,382.3 709.8,387.3 710.0,392.2 710.1,397.1 710.3,401.9 710.4,406.6 710.5,411.3 710.7,416.0 710.8,420.9 710.9,425.8 711.0,430.7 711.1,435.6 711.3,440.5 711.4,445.2 711.5,449.9 711.6,454.5 711.7,458.9 711.8,463.1 711.9,467.1 712.1,470.8 712.2,474.3 712.3,477.5 712.4,480.3 712.6,482.6 712.7,484.5 712.8,486.2 713.0,487.5 713.1,488.7 713.2,489.7 713.4,490.7 713.5,491.6 713.6,492.6 713.8,493.7 713.9,495.0 714.0,496.5 714.1,498.3 714.2,500.4 714.3,503.0 714.4,506.0 714.4,509.5 714.5,513.4 714.5,517.6 714.6,522.1 714.6,526.7 714.6,531.4 714.6,536.1 714.7,540.8 714.7,545.4 714.7,549.9 714.8,554.1 714.8,557.9 714.9,561.4 714.9,564.5 715.0,567.0 715.1,569.0 715.2,570.7 715.3,572.0 715.5,573.0 715.6,573.8 715.7,574.3 715.9,574.6 716.0,574.8 716.2,574.8 716.3,574.7 716.5,574.6 716.6,574.5 716.7,574.4 716.8,574.3 716.9,574.3 717.0,574.5" fill="none" stroke="#7fd8cc" stroke-width="2.2" stroke-linejoin="round"/>
<g><path d="M699.4,189.0L706.4,196.0M699.4,196.0L706.4,189.0M702.9,189.0L702.9,196.0" stroke="#239a8c" stroke-width="1.8" fill="none"/><path d="M700.6,197.9L707.6,204.9M700.6,204.9L707.6,197.9M704.1,197.9L704.1,204.9" stroke="#239a8c" stroke-width="1.8" fill="none"/><path d="M701.2,206.9L708.2,213.9M701.2,213.9L708.2,206.9M704.7,206.9L704.7,213.9" stroke="#239a8c" stroke-width="1.8" fill="none"/><path d="M701.6,215.9L708.6,222.9M701.6,222.9L708.6,215.9M705.1,215.9L705.1,222.9" stroke="#239a8c" stroke-width="1.8" fill="none"/><path d="M701.9,224.9L708.9,231.9M701.9,231.9L708.9,224.9M705.4,224.9L705.4,231.9" stroke="#239a8c" stroke-width="1.8" fill="none"/><path d="M702.2,233.9L709.2,240.9M702.2,240.9L709.2,233.9M705.7,233.9L705.7,240.9" stroke="#239a8c" stroke-width="1.8" fill="none"/><path d="M702.6,242.9L709.6,249.9M702.6,249.9L709.6,242.9M706.1,242.9L706.1,249.9" stroke="#239a8c" stroke-width="1.8" fill="none"/><path d="M703.0,257.1L710.0,264.1M703.0,264.1L710.0,257.1M706.5,257.1L706.5,264.1" stroke="#239a8c" stroke-width="1.8" fill="none"/><path d="M703.6,277.1L710.6,284.1M703.6,284.1L710.6,277.1M707.1,277.1L707.1,284.1" stroke="#239a8c" stroke-width="1.8" fill="none"/><path d="M703.9,297.1L710.9,304.1M703.9,304.1L710.9,297.1M707.4,297.1L707.4,304.1" stroke="#239a8c" stroke-width="1.8" fill="none"/><path d="M704.3,317.1L711.3,324.1M704.3,324.1L711.3,317.1M707.8,317.1L707.8,324.1" stroke="#239a8c" stroke-width="1.8" fill="none"/><path d="M704.8,337.1L711.8,344.1M704.8,344.1L711.8,337.1M708.3,337.1L708.3,344.1" stroke="#239a8c" stroke-width="1.8" fill="none"/><path d="M705.4,357.1L712.4,364.1M705.4,364.1L712.4,357.1M708.9,357.1L708.9,364.1" stroke="#239a8c" stroke-width="1.8" fill="none"/><path d="M706.1,377.1L713.1,384.1M706.1,384.1L713.1,377.1M709.6,377.1L709.6,384.1" stroke="#239a8c" stroke-width="1.8" fill="none"/><path d="M706.7,397.0L713.7,404.0M706.7,404.0L713.7,397.0M710.2,397.0L710.2,404.0" stroke="#239a8c" stroke-width="1.8" fill="none"/><path d="M707.3,417.0L714.3,424.0M707.3,424.0L714.3,417.0M710.8,417.0L710.8,424.0" stroke="#239a8c" stroke-width="1.8" fill="none"/><path d="M707.8,437.0L714.8,444.0M707.8,444.0L714.8,437.0M711.3,437.0L711.3,444.0" stroke="#239a8c" stroke-width="1.8" fill="none"/><path d="M708.3,457.0L715.3,464.0M708.3,464.0L715.3,457.0M711.8,457.0L711.8,464.0" stroke="#239a8c" stroke-width="1.8" fill="none"/><path d="M708.9,477.0L715.9,484.0M708.9,484.0L715.9,477.0M712.4,477.0L712.4,484.0" stroke="#239a8c" stroke-width="1.8" fill="none"/><path d="M710.7,496.9L717.7,503.9M710.7,503.9L717.7,496.9M714.2,496.9L714.2,503.9" stroke="#239a8c" stroke-width="1.8" fill="none"/><path d="M711.1,516.9L718.1,523.9M711.1,523.9L718.1,516.9M714.6,516.9L714.6,523.9" stroke="#239a8c" stroke-width="1.8" fill="none"/><path d="M711.2,536.9L718.2,543.9M711.2,543.9L718.2,536.9M714.7,536.9L714.7,543.9" stroke="#239a8c" stroke-width="1.8" fill="none"/><path d="M711.3,556.9L718.3,563.9M711.3,563.9L718.3,556.9M714.8,556.9L714.8,563.9" stroke="#239a8c" stroke-width="1.8" fill="none"/><path d="M647.3,483.7L653.3,489.7M647.3,489.7L653.3,483.7M650.3,483.7L650.3,489.7" stroke="#2fae9e" stroke-width="1.8" fill="none"/><path d="M650.8,476.0L656.8,482.0M650.8,482.0L656.8,476.0M653.8,476.0L653.8,482.0" stroke="#2fae9e" stroke-width="1.8" fill="none"/><path d="M653.9,468.0L659.9,474.0M653.9,474.0L659.9,468.0M656.9,468.0L656.9,474.0" stroke="#2fae9e" stroke-width="1.8" fill="none"/><path d="M656.5,460.0L662.5,466.0M656.5,466.0L662.5,460.0M659.5,460.0L659.5,466.0" stroke="#2fae9e" stroke-width="1.8" fill="none"/><path d="M658.9,451.8L664.9,457.8M658.9,457.8L664.9,451.8M661.9,451.8L661.9,457.8" stroke="#2fae9e" stroke-width="1.8" fill="none"/><path d="M661.0,443.6L667.0,449.6M661.0,449.6L667.0,443.6M664.0,443.6L664.0,449.6" stroke="#2fae9e" stroke-width="1.8" fill="none"/><path d="M662.8,435.3L668.8,441.3M662.8,441.3L668.8,435.3M665.8,435.3L665.8,441.3" stroke="#2fae9e" stroke-width="1.8" fill="none"/><path d="M664.6,426.9L670.6,432.9M664.6,432.9L670.6,426.9M667.6,426.9L667.6,432.9" stroke="#2fae9e" stroke-width="1.8" fill="none"/><path d="M666.1,418.6L672.1,424.6M666.1,424.6L672.1,418.6M669.1,418.6L669.1,424.6" stroke="#2fae9e" stroke-width="1.8" fill="none"/><path d="M667.6,410.2L673.6,416.2M667.6,416.2L673.6,410.2M670.6,410.2L670.6,416.2" stroke="#2fae9e" stroke-width="1.8" fill="none"/><path d="M668.9,401.8L674.9,407.8M668.9,407.8L674.9,401.8M671.9,401.8L671.9,407.8" stroke="#2fae9e" stroke-width="1.8" fill="none"/><path d="M670.2,393.4L676.2,399.4M670.2,399.4L676.2,393.4M673.2,393.4L673.2,399.4" stroke="#2fae9e" stroke-width="1.8" fill="none"/><path d="M671.4,385.0L677.4,391.0M671.4,391.0L677.4,385.0M674.4,385.0L674.4,391.0" stroke="#2fae9e" stroke-width="1.8" fill="none"/><path d="M672.6,376.6L678.6,382.6M672.6,382.6L678.6,376.6M675.6,376.6L675.6,382.6" stroke="#2fae9e" stroke-width="1.8" fill="none"/><path d="M673.7,368.2L679.7,374.2M673.7,374.2L679.7,368.2M676.7,368.2L676.7,374.2" stroke="#2fae9e" stroke-width="1.8" fill="none"/><path d="M674.7,359.7L680.7,365.7M674.7,365.7L680.7,359.7M677.7,359.7L677.7,365.7" stroke="#2fae9e" stroke-width="1.8" fill="none"/><path d="M675.8,351.3L681.8,357.3M675.8,357.3L681.8,351.3M678.8,351.3L678.8,357.3" stroke="#2fae9e" stroke-width="1.8" fill="none"/><path d="M676.7,342.8L682.7,348.8M676.7,348.8L682.7,342.8M679.7,342.8L679.7,348.8" stroke="#2fae9e" stroke-width="1.8" fill="none"/><path d="M677.7,334.4L683.7,340.4M677.7,340.4L683.7,334.4M680.7,334.4L680.7,340.4" stroke="#2fae9e" stroke-width="1.8" fill="none"/><path d="M678.6,325.9L684.6,331.9M678.6,331.9L684.6,325.9M681.6,325.9L681.6,331.9" stroke="#2fae9e" stroke-width="1.8" fill="none"/><path d="M679.5,317.5L685.5,323.5M679.5,323.5L685.5,317.5M682.5,317.5L682.5,323.5" stroke="#2fae9e" stroke-width="1.8" fill="none"/><path d="M680.4,309.0L686.4,315.0M680.4,315.0L686.4,309.0M683.4,309.0L683.4,315.0" stroke="#2fae9e" stroke-width="1.8" fill="none"/><path d="M681.2,300.6L687.2,306.6M681.2,306.6L687.2,300.6M684.2,300.6L684.2,306.6" stroke="#2fae9e" stroke-width="1.8" fill="none"/><path d="M682.1,292.1L688.1,298.1M682.1,298.1L688.1,292.1M685.1,292.1L685.1,298.1" stroke="#2fae9e" stroke-width="1.8" fill="none"/><path d="M683.0,283.7L689.0,289.7M683.0,289.7L689.0,283.7M686.0,283.7L686.0,289.7" stroke="#2fae9e" stroke-width="1.8" fill="none"/><path d="M683.8,275.2L689.8,281.2M683.8,281.2L689.8,275.2M686.8,275.2L686.8,281.2" stroke="#2fae9e" stroke-width="1.8" fill="none"/><path d="M684.6,266.8L690.6,272.8M684.6,272.8L690.6,266.8M687.6,266.8L687.6,272.8" stroke="#2fae9e" stroke-width="1.8" fill="none"/><path d="M685.4,258.3L691.4,264.3M685.4,264.3L691.4,258.3M688.4,258.3L688.4,264.3" stroke="#2fae9e" stroke-width="1.8" fill="none"/><path d="M686.3,249.8L692.3,255.8M686.3,255.8L692.3,249.8M689.3,249.8L689.3,255.8" stroke="#2fae9e" stroke-width="1.8" fill="none"/><path d="M687.1,241.4L693.1,247.4M687.1,247.4L693.1,241.4M690.1,241.4L690.1,247.4" stroke="#2fae9e" stroke-width="1.8" fill="none"/><path d="M687.9,232.9L693.9,238.9M687.9,238.9L693.9,232.9M690.9,232.9L690.9,238.9" stroke="#2fae9e" stroke-width="1.8" fill="none"/><path d="M688.8,224.5L694.8,230.5M688.8,230.5L694.8,224.5M691.8,224.5L691.8,230.5" stroke="#2fae9e" stroke-width="1.8" fill="none"/><path d="M689.8,216.0L695.8,222.0M689.8,222.0L695.8,216.0M692.8,216.0L692.8,222.0" stroke="#2fae9e" stroke-width="1.8" fill="none"/><path d="M690.7,207.6L696.7,213.6M690.7,213.6L696.7,207.6M693.7,207.6L693.7,213.6" stroke="#2fae9e" stroke-width="1.8" fill="none"/><path d="M691.7,199.1L697.7,205.1M691.7,205.1L697.7,199.1M694.7,199.1L694.7,205.1" stroke="#2fae9e" stroke-width="1.8" fill="none"/><path d="M693.3,190.8L699.3,196.8M693.3,196.8L699.3,190.8M696.3,190.8L696.3,196.8" stroke="#2fae9e" stroke-width="1.8" fill="none"/></g>
<polyline points="771.0,575.5 802.0,575.5 1062.0,575.0" fill="none" stroke="#df751c" stroke-width="9.0"/>
<path d="M400.0,566.5 L400.5,566.5 L401.1,566.5 L401.7,566.5 L402.5,566.5 L403.3,566.4 L404.1,566.4 L405.0,566.4 L406.0,566.4 L407.0,566.3 L407.9,566.3 L408.9,566.3 L409.9,566.3 L410.9,566.2 L411.8,566.2 L412.7,566.2 L413.6,566.2 L414.4,566.2 L415.3,566.1 L416.1,566.1 L416.9,566.1 L417.8,566.1 L418.6,566.0 L419.4,566.0 L420.3,566.0 L421.1,566.0 L421.9,566.0 L422.7,565.9 L423.6,565.9 L424.4,565.9 L425.2,565.9 L426.0,565.8 L426.8,565.8 L427.7,565.8 L428.5,565.8 L429.3,565.7 L430.1,565.7 L430.9,565.7 L431.7,565.7 L432.5,565.6 L433.3,565.6 L434.1,565.6 L434.9,565.6 L435.7,565.5 L436.5,565.5 L437.3,565.5 L438.1,565.5 L438.9,565.4 L439.6,565.4 L440.4,565.4 L441.2,565.3 L442.0,565.3 L442.7,565.3 L443.5,565.3 L444.3,565.2 L445.0,565.2 L445.8,565.2 L446.6,565.1 L447.3,565.1 L448.1,565.1 L448.8,565.1 L449.6,565.0 L450.3,565.0 L451.1,565.0 L451.8,564.9 L452.6,564.9 L453.3,564.9 L454.0,564.9 L454.8,564.8 L455.5,564.8 L456.2,564.8 L457.0,564.8 L457.7,564.7 L458.4,564.7 L459.1,564.7 L459.8,564.6 L460.5,564.6 L461.2,564.6 L461.9,564.6 L462.6,564.5 L463.3,564.5 L464.0,564.5 L464.7,564.4 L465.4,564.4 L466.1,564.4 L466.7,564.3 L467.4,564.3 L468.1,564.3 L468.7,564.2 L469.4,564.2 L470.1,564.2 L470.7,564.1 L471.4,564.1 L472.0,564.1 L472.7,564.0 L473.3,564.0 L473.9,564.0 L474.6,563.9 L475.2,563.9 L475.8,563.9 L476.4,563.8 L477.1,563.8 L477.7,563.8 L478.3,563.7 L478.9,563.7 L479.5,563.7 L480.1,563.6 L480.7,563.6 L481.3,563.6 L481.9,563.5 L482.4,563.5 L483.0,563.4 L483.6,563.4 L484.1,563.4 L484.7,563.3 L485.3,563.3 L485.8,563.2 L486.4,563.2 L486.9,563.2 L487.5,563.1 L488.0,563.1 L488.5,563.0 L489.1,563.0 L489.6,563.0 L490.1,562.9 L490.6,562.9 L491.1,562.8 L491.6,562.8 L492.1,562.8 L492.6,562.7 L493.1,562.7 L493.6,562.6 L494.1,562.6 L494.5,562.5 L495.0,562.5 L495.5,562.4 L495.9,562.4 L496.4,562.4 L496.8,562.3 L497.3,562.3 L497.7,562.2 L498.1,562.2 L498.6,562.1 L499.0,562.1 L499.4,562.0 L499.8,562.0 L500.2,561.9 L500.6,561.9 L501.0,561.8 L501.4,561.8 L501.8,561.7 L502.2,561.7 L502.6,561.6 L502.9,561.5 L503.3,561.5 L503.7,561.4 L504.0,561.4 L504.4,561.3 L504.8,561.3 L505.1,561.2 L505.5,561.1 L505.8,561.1 L506.2,561.0 L506.5,561.0 L506.9,560.9 L507.2,560.9 L507.6,560.8 L507.9,560.7 L508.2,560.7 L508.6,560.6 L508.9,560.5 L509.2,560.5 L509.6,560.4 L509.9,560.4 L510.2,560.3 L510.6,560.2 L510.9,560.2 L511.3,560.1 L511.6,560.0 L511.9,560.0 L512.3,559.9 L512.6,559.9 L513.0,559.8 L513.3,559.7 L513.7,559.7 L514.0,559.6 L514.3,559.5 L514.7,559.5 L515.1,559.4 L515.4,559.3 L515.8,559.3 L516.1,559.2 L516.5,559.1 L516.9,559.1 L517.3,559.0 L517.7,558.9 L518.1,558.8 L518.5,558.8 L518.9,558.7 L519.3,558.6 L519.7,558.6 L520.1,558.5 L520.5,558.4 L521.0,558.3 L521.4,558.3 L521.8,558.2 L522.3,558.1 L522.8,558.1 L523.2,558.0 L523.7,557.9 L524.2,557.8 L524.7,557.7 L525.2,557.7 L525.7,557.6 L526.2,557.5 L526.8,557.4 L527.3,557.4 L527.8,557.3 L528.4,557.2 L528.9,557.1 L529.5,557.0 L530.1,557.0 L530.7,556.9 L531.3,556.8 L531.9,556.7 L532.6,556.6 L533.2,556.5 L533.9,556.5 L534.6,556.4 L535.3,556.3 L535.9,556.2 L536.7,556.1 L537.4,556.0 L538.1,556.0 L538.8,555.9 L539.6,555.8 L540.4,555.7 L541.1,555.6 L541.9,555.5 L542.7,555.4 L543.5,555.3 L544.4,555.3 L545.2,555.2 L546.1,555.1 L547.0,555.0 L547.9,554.9 L548.8,554.9 L549.7,554.8 L550.6,554.7 L551.6,554.6 L552.5,554.5 L553.5,554.4 L554.4,554.4 L555.4,554.3 L556.3,554.2 L557.3,554.1 L558.2,554.0 L559.2,553.9 L560.1,553.8 L561.1,553.8 L562.0,553.7 L563.0,553.6 L564.0,553.5 L565.0,553.4 L566.0,553.3 L566.9,553.2 L567.9,553.1 L568.9,553.0 L569.9,552.9 L570.8,552.8 L571.8,552.7 L572.7,552.6 L573.6,552.5 L574.5,552.4 L575.4,552.3 L576.3,552.2 L577.2,552.1 L578.1,552.0 L579.0,551.9 L579.9,551.7 L580.7,551.6 L581.6,551.5 L582.4,551.4 L583.3,551.3 L584.1,551.2 L584.9,551.0 L585.7,550.9 L586.5,550.8 L587.3,550.7 L588.1,550.5 L588.9,550.4 L589.6,550.3 L590.4,550.2 L591.1,550.0 L591.9,549.9 L592.6,549.8 L593.3,549.6 L594.0,549.5 L594.7,549.4 L595.4,549.2 L596.0,549.1 L596.7,549.0 L597.4,548.8 L598.0,548.7 L598.7,548.6 L599.3,548.4 L599.9,548.3 L600.5,548.1 L601.1,548.0 L601.7,547.8 L602.3,547.7 L602.9,547.5 L603.4,547.4 L604.0,547.2 L604.6,547.0 L605.1,546.9 L605.6,546.7 L606.2,546.6 L606.7,546.4 L607.2,546.3 L607.7,546.1 L608.3,546.0 L608.8,545.8 L609.3,545.6 L609.8,545.5 L610.4,545.3 L610.9,545.1 L611.4,545.0 L611.9,544.8 L612.3,544.6 L612.8,544.5 L613.3,544.3 L613.8,544.1 L614.3,544.0 L614.8,543.8 L615.3,543.6 L615.7,543.5 L616.2,543.3 L616.7,543.1 L617.2,543.0 L617.7,542.8 L618.2,542.6 L618.7,542.4 L619.2,542.2 L619.7,542.1 L620.2,541.9 L620.6,541.7 L621.1,541.5 L621.6,541.3 L622.1,541.2 L622.6,541.0 L623.1,540.8 L623.6,540.6 L624.1,540.4 L624.6,540.2 L625.0,540.0 L625.5,539.9 L626.0,539.7 L626.5,539.5 L627.0,539.3 L627.5,539.1 L628.0,538.9 L628.5,538.7 L629.0,538.5 L629.4,538.3 L629.9,538.1 L630.4,537.9 L630.9,537.7 L631.4,537.5 L631.9,537.3 L632.4,537.1 L632.8,536.9 L633.3,536.7 L633.8,536.4 L634.3,536.2 L634.8,536.0 L635.3,535.8 L635.8,535.6 L636.2,535.4 L636.7,535.2 L637.2,534.9 L637.7,534.7 L638.2,534.5 L638.6,534.3 L639.1,534.1 L639.6,533.8 L640.1,533.6 L640.6,533.4 L641.0,533.2 L641.5,532.9 L642.0,532.7 L642.5,532.5 L643.0,532.2 L643.4,532.0 L643.9,531.8 L644.4,531.5 L644.9,531.3 L645.3,531.0 L645.8,530.8 L646.3,530.6 L646.8,530.3 L647.2,530.1 L647.7,529.8 L648.2,529.6 L648.6,529.3 L649.1,529.1 L649.6,528.8 L650.0,528.6 L650.5,528.3 L651.0,528.1 L651.4,527.8 L651.9,527.6 L652.4,527.3 L652.8,527.0 L653.3,526.8 L653.8,526.5 L654.2,526.2 L654.7,526.0 L655.1,525.7 L655.6,525.4 L656.1,525.1 L656.5,524.9 L657.0,524.6 L657.4,524.3 L657.9,524.0 L658.3,523.8 L658.8,523.5 L659.2,523.2 L659.7,522.9 L660.2,522.6 L660.6,522.3 L661.1,522.0 L661.5,521.8 L661.9,521.5 L662.4,521.2 L662.8,520.9 L663.3,520.6 L663.7,520.3 L664.2,520.0 L664.6,519.7 L665.0,519.4 L665.5,519.1 L665.9,518.7 L666.4,518.4 L666.8,518.1 L667.2,517.8 L667.7,517.5 L668.1,517.2 L668.5,516.9 L669.0,516.5 L669.4,516.2 L669.8,515.9 L670.2,515.6 L670.7,515.2 L671.1,514.9 L671.5,514.6 L671.9,514.2 L672.3,513.9 L672.8,513.6 L673.2,513.2 L673.6,512.9 L674.0,512.5 L674.4,512.2 L674.8,511.8 L675.3,511.5 L675.7,511.1 L676.1,510.8 L676.5,510.4 L676.9,510.1 L677.3,509.7 L677.7,509.4 L678.1,509.0 L678.5,508.6 L678.9,508.3 L679.3,507.9 L679.7,507.5 L680.1,507.2 L680.5,506.8 L680.9,506.4 L681.3,506.0 L681.7,505.6 L682.0,505.2 L682.4,504.9 L682.8,504.5 L683.2,504.1 L683.6,503.7 L684.0,503.3 L684.3,502.9 L684.7,502.5 L685.1,502.1 L685.5,501.7 L685.8,501.3 L686.2,500.9 L686.6,500.5 L686.9,500.1 L687.3,499.6 L687.7,499.2 L688.0,498.8 L688.4,498.4 L688.7,498.0 L689.1,497.5 L689.4,497.1 L689.8,496.7 L690.2,496.2 L690.5,495.8 L690.8,495.4 L691.2,494.9 L691.5,494.5 L691.9,494.0 L692.2,493.6 L692.6,493.1 L692.9,492.7 L693.2,492.2 L693.6,491.8 L693.9,491.3 L694.2,490.8 L694.5,490.4 L694.9,489.9 L695.2,489.4 L695.5,489.0 L695.8,488.5 L696.2,488.0 L696.5,487.5 L696.8,487.1 L697.1,486.6 L697.4,486.1 L697.7,485.6 L698.0,485.1 L698.3,484.6 L698.6,484.1 L698.9,483.6 L699.2,483.1 L699.5,482.6 L699.8,482.1 L700.1,481.6 L700.4,481.1 L700.7,480.6 L701.0,480.0 L701.3,479.5 L701.6,479.0 L701.9,478.5 L702.2,477.9 L702.4,477.4 L702.7,476.9 L703.0,476.3 L703.3,475.8 L703.6,475.3 L703.8,474.7 L704.1,474.2 L704.4,473.6 L704.7,473.1 L704.9,472.5 L705.2,471.9 L705.5,471.4 L705.7,470.8 L706.0,470.2 L706.3,469.7 L706.5,469.1 L706.8,468.5 L707.0,467.9 L707.3,467.4 L707.6,466.8 L707.8,466.2 L708.1,465.6 L708.3,465.0 L708.6,464.4 L708.8,463.8 L709.1,463.2 L709.3,462.6 L709.6,462.0 L709.8,461.4 L710.0,460.7 L710.3,460.1 L710.5,459.5 L710.8,458.9 L711.0,458.2 L711.2,457.6 L711.5,457.0 L711.7,456.3 L711.9,455.7 L712.2,455.0 L712.4,454.4 L712.6,453.7 L712.9,453.1 L713.1,452.4 L713.3,451.8 L713.5,451.1 L713.8,450.4 L714.0,449.7 L714.2,449.1 L714.4,448.4 L714.6,447.7 L714.9,447.0 L715.1,446.3 L715.3,445.6 L715.5,444.9 L715.7,444.2 L715.9,443.5 L716.2,442.8 L716.4,442.1 L716.6,441.4 L716.8,440.7 L717.0,439.9 L717.2,439.2 L717.4,438.5 L717.6,437.7 L717.8,437.0 L718.0,436.3 L718.2,435.5 L718.4,434.8 L718.6,434.0 L718.8,433.2 L719.0,432.5 L719.2,431.7 L719.4,430.9 L719.6,430.2 L719.8,429.4 L720.0,428.6 L720.2,427.8 L720.4,427.0 L720.6,426.2 L720.8,425.4 L721.0,424.6 L721.2,423.8 L721.4,423.0 L721.5,422.2 L721.7,421.4 L721.9,420.5 L722.1,419.7 L722.3,418.9 L722.5,418.0 L722.7,417.2 L722.9,416.3 L723.0,415.5 L723.2,414.6 L723.4,413.8 L723.6,412.9 L723.8,412.0 L723.9,411.1 L724.1,410.3 L724.3,409.4 L724.5,408.5 L724.7,407.6 L724.8,406.7 L725.0,405.8 L725.2,404.9 L725.4,404.0 L725.5,403.1 L725.7,402.1 L725.9,401.2 L726.1,400.3 L726.2,399.3 L726.4,398.4 L726.6,397.4 L726.8,396.5 L726.9,395.5 L727.1,394.6 L727.3,393.6 L727.4,392.6 L727.6,391.6 L727.8,390.7 L728.0,389.7 L728.1,388.7 L728.3,387.7 L728.5,386.7 L728.6,385.7 L728.8,384.7 L729.0,383.6 L729.1,382.6 L729.3,381.6 L729.5,380.5 L729.6,379.5 L729.8,378.4 L729.9,377.4 L730.1,376.3 L730.3,375.3 L730.4,374.2 L730.6,373.1 L730.7,372.0 L730.9,370.9 L731.0,369.8 L731.2,368.7 L731.4,367.6 L731.5,366.5 L731.7,365.4 L731.8,364.3 L732.0,363.1 L732.1,362.0 L732.3,360.9 L732.4,359.7 L732.6,358.5 L732.7,357.4 L732.9,356.2 L733.0,355.0 L733.2,353.9 L733.3,352.7 L733.5,351.5 L733.6,350.3 L733.8,349.1 L733.9,347.8 L734.1,346.6 L734.2,345.4 L734.3,344.2 L734.5,342.9 L734.6,341.7 L734.8,340.4 L734.9,339.2 L735.0,337.9 L735.1,336.6 L735.2,335.3 L735.3,334.0 L735.4,332.7 L735.6,331.4 L735.7,330.1 L735.8,328.8 L735.9,327.5 L736.0,326.1 L736.1,324.8 L736.3,323.4 L736.4,322.1 L736.5,320.7 L736.6,319.3 L736.7,318.0 L736.7,316.6 L736.8,315.2 L736.9,313.8 L737.0,312.4 L737.1,310.9 L737.2,309.5 L737.3,308.1 L737.3,306.7 L737.4,305.2 L737.5,303.7 L737.6,302.3 L737.7,300.8 L737.8,299.3 L737.9,297.8 L738.0,296.3 L738.1,294.8 L738.3,293.3 L738.4,291.8 L738.5,290.3 L738.6,288.8 L738.8,287.2 L738.9,285.7 L739.0,284.1 L739.2,282.6 L739.3,281.0 L739.4,279.4 L739.5,277.8 L739.7,276.2 L739.8,274.6 L740.0,273.0 L740.1,271.4 L740.3,269.7 L740.5,268.1 L740.6,266.4 L740.8,264.8 L741.0,263.1 L741.1,261.4 L741.3,259.7 L741.5,258.1 L741.7,256.4 L741.9,254.6 L742.0,252.9 L742.2,251.2 L742.4,249.4 L742.6,247.7 L742.7,245.9 L742.9,244.2 L743.1,242.4 L743.3,240.7 L743.5,238.9 L743.7,237.2 L743.9,235.4 L744.2,233.7 L744.4,231.9 L744.6,230.1 L744.8,228.2 L745.0,226.4 L745.2,224.5 L745.3,222.5 L745.5,220.5 L745.7,218.5 L745.8,216.4 L746.0,214.2 L746.2,212.0 L746.3,209.7 L746.4,207.4 L746.6,205.0 L746.7,202.6 L746.8,200.2 L746.9,197.7 L747.0,195.3 L747.1,192.8 L747.3,190.3 L747.4,187.8 L747.5,185.4 L747.6,182.9 L747.8,180.5 L747.9,178.1 L748.2,175.7 L748.5,173.2 L748.8,170.6 L749.1,168.0 L749.4,165.4 L749.7,162.7 L750.1,160.1 L750.4,157.5 L750.7,155.0 L751.0,152.5 L751.3,150.2 L751.7,147.9 L752.0,145.8 L752.3,143.8 L752.6,142.0 L752.9,140.4 L753.1,138.9 L753.3,137.7 L753.5,136.5 L753.6,135.6 L753.8,134.7 L754.0,134.0 L754.2,133.4 L754.3,132.9 L754.5,132.4 L754.7,132.0 L754.8,131.7 L755.0,131.3 L755.2,130.9 L755.4,130.4 L755.6,129.9 L755.8,129.4 L756.0,128.9 L756.2,128.4 L756.4,127.9 L756.5,127.4 L756.7,127.0 L756.9,126.6 L757.0,126.3 L757.2,126.0 L757.3,125.8 L757.4,125.7 L757.4,125.8 L757.4,125.9 L757.1,126.2 L756.6,126.7 L755.5,127.2 L754.2,127.5 L753.2,127.4 L752.5,127.2 L752.0,126.9 L751.7,126.7 L751.5,126.5 L751.4,126.3 L751.4,126.3 L751.4,126.3 L751.5,126.4 L751.6,126.5 L751.8,126.7 L751.9,127.0 L752.1,127.4 L752.3,127.9 L752.4,128.4 L752.6,129.0 L752.9,129.7 L753.2,130.4 L753.5,131.2 L753.7,132.1 L754.0,133.0 L754.3,134.0 L754.5,135.1 L754.8,136.2 L755.0,137.4 L755.3,138.6 L755.5,139.9 L755.7,141.3 L756.0,142.8 L756.2,144.3 L756.4,146.0 L756.6,147.7 L756.7,149.5 L756.9,151.5 L757.0,153.6 L757.1,155.9 L757.2,158.3 L757.2,160.7 L757.3,163.2 L757.4,165.8 L757.5,168.3 L757.6,170.8 L757.6,173.3 L757.7,175.8 L757.8,178.1 L757.9,180.4 L758.0,182.5 L758.1,184.5 L758.1,186.4 L758.2,188.1 L758.2,189.8 L758.2,191.3 L758.3,192.9 L758.3,194.3 L758.3,195.7 L758.4,197.1 L758.4,198.5 L758.5,199.8 L758.5,201.2 L758.6,202.6 L758.6,204.1 L758.7,205.6 L758.7,207.1 L758.8,208.7 L758.9,210.4 L758.9,212.1 L759.0,213.8 L759.1,215.6 L759.1,217.3 L759.2,219.1 L759.3,220.9 L759.4,222.7 L759.4,224.5 L759.5,226.4 L759.6,228.2 L759.6,230.1 L759.7,232.1 L759.8,234.0 L759.8,236.0 L759.9,238.0 L760.0,240.1 L760.0,242.1 L760.0,244.2 L760.1,246.4 L760.1,248.5 L760.1,250.7 L760.1,252.9 L760.2,255.1 L760.2,257.4 L760.2,259.6 L760.3,261.9 L760.3,264.2 L760.4,266.6 L760.4,268.9 L760.5,271.3 L760.6,273.6 L760.7,276.0 L760.8,278.5 L761.0,280.9 L761.1,283.4 L761.3,285.8 L761.4,288.4 L761.6,290.9 L761.8,293.4 L762.0,296.0 L762.1,298.5 L762.3,301.1 L762.5,303.7 L762.6,306.3 L762.8,308.8 L762.9,311.4 L763.0,314.0 L763.1,316.7 L763.2,319.3 L763.3,321.9 L763.3,324.6 L763.4,327.3 L763.5,330.0 L763.5,332.7 L763.6,335.4 L763.6,338.1 L763.7,340.8 L763.7,343.5 L763.8,346.2 L763.8,348.9 L763.9,351.6 L763.9,354.3 L764.0,357.0 L764.1,359.7 L764.1,362.4 L764.2,365.1 L764.3,367.8 L764.3,370.5 L764.4,373.1 L764.4,375.8 L764.5,378.5 L764.6,381.2 L764.6,383.9 L764.7,386.6 L764.8,389.3 L764.8,392.0 L764.9,394.6 L764.9,397.3 L765.0,400.0 L765.1,402.7 L765.1,405.4 L765.2,408.2 L765.3,410.9 L765.3,413.6 L765.4,416.4 L765.4,419.1 L765.5,421.8 L765.6,424.6 L765.6,427.3 L765.7,430.0 L765.8,432.6 L765.8,435.3 L765.9,437.9 L765.9,440.5 L766.0,443.0 L766.1,445.5 L766.1,448.0 L766.2,450.5 L766.3,453.0 L766.3,455.4 L766.4,457.9 L766.4,460.3 L766.5,462.7 L766.6,465.0 L766.6,467.4 L766.7,469.7 L766.8,472.0 L766.8,474.3 L766.9,476.6 L766.9,478.8 L767.0,481.0 L767.1,483.2 L767.1,485.4 L767.2,487.6 L767.2,489.8 L767.3,492.0 L767.3,494.1 L767.4,496.2 L767.4,498.3 L767.5,500.4 L767.6,502.5 L767.6,504.5 L767.7,506.5 L767.8,508.4 L767.8,510.3 L767.9,512.2 L768.0,514.1 L768.1,515.9 L768.2,517.6 L768.3,519.4 L768.5,521.1 L768.6,522.8 L768.7,524.4 L768.9,526.1 L769.0,527.7 L769.2,529.2 L769.3,530.7 L769.5,532.2 L769.6,533.7 L769.7,535.1 L769.8,536.4 L769.9,537.8 L770.0,539.1 L770.1,540.3 L770.1,541.5 L770.2,542.7 L770.2,543.8 L770.3,544.8 L770.3,545.9 L770.3,546.9 L770.3,547.8 L770.4,548.8 L770.4,549.7 L770.4,550.6 L770.4,551.5 L770.4,552.4 L770.4,553.3 L770.5,554.2 L770.5,555.0 L770.5,555.9 L770.5,556.8 L770.6,557.6 L770.6,558.4 L770.6,559.3 L770.6,560.1 L770.6,560.9 L770.6,561.6 L770.6,562.4 L770.6,563.2 L770.7,563.9 L770.7,564.6 L770.8,565.3 L770.8,565.9 L770.9,566.6 L771.0,567.2 L771.2,567.8 L771.3,568.4 L771.5,568.9 L771.7,569.5 L772.0,570.0 L772.2,570.4 L772.4,570.9 L772.7,571.3 L772.9,571.7 L773.2,572.0 L773.4,572.3 L773.6,572.6 L773.8,572.9 L773.9,573.1 L774.0,573.3 L774.1,573.5 L775.9,572.5 L775.8,572.3 L775.6,572.0 L775.4,571.8 L775.2,571.5 L775.0,571.2 L774.8,570.9 L774.6,570.6 L774.4,570.2 L774.2,569.9 L774.0,569.5 L773.8,569.1 L773.6,568.7 L773.4,568.2 L773.2,567.8 L773.1,567.3 L773.0,566.8 L772.9,566.3 L772.8,565.7 L772.7,565.1 L772.7,564.4 L772.7,563.8 L772.6,563.1 L772.6,562.4 L772.6,561.6 L772.6,560.8 L772.6,560.0 L772.6,559.2 L772.6,558.4 L772.6,557.6 L772.5,556.7 L772.5,555.8 L772.5,555.0 L772.5,554.1 L772.4,553.2 L772.4,552.4 L772.4,551.5 L772.4,550.6 L772.4,549.7 L772.4,548.7 L772.3,547.8 L772.3,546.8 L772.3,545.8 L772.3,544.8 L772.2,543.7 L772.2,542.6 L772.1,541.4 L772.1,540.2 L772.0,538.9 L771.9,537.6 L771.8,536.3 L771.7,534.9 L771.6,533.5 L771.4,532.0 L771.3,530.5 L771.2,529.0 L771.0,527.5 L770.9,525.9 L770.7,524.3 L770.6,522.6 L770.5,520.9 L770.3,519.2 L770.2,517.5 L770.1,515.7 L770.0,513.9 L769.9,512.1 L769.8,510.2 L769.7,508.3 L769.7,506.4 L769.6,504.4 L769.6,502.4 L769.5,500.4 L769.4,498.3 L769.4,496.2 L769.3,494.1 L769.3,491.9 L769.2,489.8 L769.2,487.6 L769.1,485.4 L769.1,483.2 L769.0,481.0 L768.9,478.7 L768.9,476.5 L768.8,474.2 L768.7,471.9 L768.7,469.6 L768.6,467.3 L768.6,465.0 L768.5,462.6 L768.4,460.2 L768.4,457.8 L768.3,455.4 L768.2,452.9 L768.2,450.5 L768.1,448.0 L768.1,445.5 L768.0,443.0 L767.9,440.4 L767.9,437.8 L767.8,435.2 L767.7,432.6 L767.7,429.9 L767.6,427.2 L767.6,424.5 L767.5,421.8 L767.4,419.1 L767.4,416.3 L767.3,413.6 L767.2,410.8 L767.2,408.1 L767.1,405.4 L767.1,402.7 L767.0,400.0 L766.9,397.3 L766.9,394.6 L766.8,391.9 L766.7,389.2 L766.7,386.5 L766.6,383.9 L766.6,381.2 L766.5,378.5 L766.4,375.8 L766.4,373.1 L766.3,370.4 L766.2,367.7 L766.2,365.0 L766.1,362.4 L766.1,359.7 L766.0,357.0 L765.9,354.3 L765.9,351.6 L765.8,348.9 L765.8,346.2 L765.7,343.5 L765.7,340.7 L765.6,338.0 L765.6,335.3 L765.5,332.6 L765.5,329.9 L765.4,327.2 L765.3,324.5 L765.3,321.9 L765.2,319.2 L765.1,316.6 L765.0,314.0 L764.9,311.3 L764.8,308.7 L764.6,306.1 L764.5,303.5 L764.3,301.0 L764.1,298.4 L764.0,295.8 L763.8,293.3 L763.6,290.7 L763.4,288.2 L763.3,285.7 L763.1,283.2 L763.0,280.8 L762.8,278.3 L762.7,275.9 L762.6,273.6 L762.5,271.2 L762.4,268.8 L762.4,266.5 L762.3,264.2 L762.3,261.9 L762.2,259.6 L762.2,257.3 L762.2,255.1 L762.1,252.9 L762.1,250.7 L762.1,248.5 L762.1,246.3 L762.0,244.2 L762.0,242.1 L762.0,240.0 L761.9,238.0 L761.8,236.0 L761.8,234.0 L761.7,232.0 L761.6,230.1 L761.6,228.2 L761.5,226.3 L761.4,224.4 L761.3,222.6 L761.3,220.8 L761.2,219.0 L761.1,217.2 L761.1,215.5 L761.0,213.7 L760.9,212.0 L760.9,210.3 L760.8,208.7 L760.7,207.0 L760.7,205.5 L760.6,204.0 L760.6,202.6 L760.5,201.2 L760.5,199.8 L760.4,198.4 L760.4,197.0 L760.3,195.7 L760.3,194.3 L760.3,192.8 L760.2,191.3 L760.2,189.7 L760.2,188.1 L760.1,186.3 L760.1,184.5 L760.2,182.5 L760.3,180.4 L760.4,178.1 L760.5,175.8 L760.6,173.3 L760.7,170.8 L760.8,168.3 L760.9,165.8 L761.0,163.2 L761.1,160.7 L761.2,158.3 L761.3,155.9 L761.4,153.6 L761.5,151.4 L761.5,149.4 L761.6,147.5 L761.7,145.8 L761.8,144.1 L761.9,142.5 L762.0,141.0 L762.1,139.6 L762.1,138.2 L762.2,136.8 L762.3,135.6 L762.3,134.3 L762.4,133.2 L762.4,132.1 L762.4,131.0 L762.4,129.9 L762.4,128.9 L762.4,128.0 L762.4,127.0 L762.2,126.1 L762.0,125.2 L761.8,124.3 L761.6,123.5 L761.3,122.7 L761.0,121.9 L760.6,121.2 L760.2,120.5 L759.8,119.9 L759.3,119.2 L758.7,118.6 L758.1,118.0 L757.3,117.5 L756.3,117.0 L755.3,116.7 L753.8,116.5 L752.1,116.8 L750.6,117.6 L749.7,118.4 L749.0,119.1 L748.6,119.8 L748.2,120.5 L747.9,121.1 L747.6,121.7 L747.4,122.3 L747.2,122.9 L747.0,123.5 L746.8,124.2 L746.6,124.8 L746.5,125.4 L746.3,126.0 L746.2,126.6 L746.1,127.2 L746.0,127.6 L745.9,128.1 L745.9,128.7 L745.8,129.2 L745.7,129.8 L745.6,130.4 L745.5,131.1 L745.4,131.8 L745.4,132.6 L745.3,133.5 L745.2,134.5 L745.1,135.6 L745.1,136.8 L745.0,138.1 L744.9,139.6 L744.9,141.3 L744.9,143.2 L744.9,145.2 L744.9,147.4 L744.9,149.7 L744.9,152.1 L744.9,154.6 L744.9,157.2 L744.9,159.8 L744.9,162.4 L744.9,165.1 L744.9,167.7 L744.9,170.4 L744.9,173.0 L744.9,175.5 L744.9,177.9 L744.8,180.3 L744.7,182.8 L744.6,185.2 L744.5,187.7 L744.4,190.2 L744.3,192.7 L744.2,195.2 L744.2,197.6 L744.1,200.1 L744.0,202.5 L743.9,204.9 L743.8,207.3 L743.7,209.6 L743.6,211.9 L743.5,214.1 L743.4,216.2 L743.2,218.3 L743.0,220.3 L742.9,222.3 L742.7,224.2 L742.5,226.1 L742.3,228.0 L742.1,229.8 L741.9,231.6 L741.7,233.4 L741.5,235.2 L741.3,236.9 L741.1,238.7 L740.8,240.4 L740.6,242.1 L740.5,243.9 L740.3,245.7 L740.1,247.4 L739.9,249.2 L739.7,250.9 L739.5,252.6 L739.3,254.4 L739.1,256.1 L738.9,257.8 L738.7,259.5 L738.6,261.2 L738.4,262.8 L738.2,264.5 L738.0,266.2 L737.8,267.8 L737.6,269.4 L737.5,271.1 L737.3,272.7 L737.1,274.3 L736.9,275.9 L736.7,277.5 L736.4,279.1 L736.2,280.7 L736.0,282.2 L735.8,283.8 L735.6,285.3 L735.4,286.9 L735.2,288.4 L735.0,289.9 L734.8,291.4 L734.6,292.9 L734.4,294.4 L734.2,295.9 L734.0,297.4 L733.8,298.9 L733.5,300.3 L733.3,301.8 L733.0,303.2 L732.8,304.7 L732.6,306.1 L732.3,307.5 L732.1,308.9 L731.8,310.3 L731.6,311.7 L731.4,313.1 L731.1,314.5 L730.9,315.9 L730.7,317.3 L730.4,318.6 L730.2,320.0 L730.0,321.3 L729.8,322.7 L729.6,324.0 L729.3,325.3 L729.1,326.6 L728.9,328.0 L728.7,329.3 L728.5,330.6 L728.3,331.8 L728.1,333.1 L727.9,334.4 L727.7,335.7 L727.5,336.9 L727.3,338.2 L727.1,339.4 L726.9,340.7 L726.7,341.9 L726.5,343.2 L726.4,344.4 L726.2,345.6 L726.0,346.8 L725.8,348.0 L725.7,349.2 L725.5,350.4 L725.3,351.6 L725.1,352.8 L725.0,353.9 L724.8,355.1 L724.6,356.3 L724.4,357.4 L724.3,358.6 L724.1,359.7 L723.9,360.8 L723.8,362.0 L723.6,363.1 L723.4,364.2 L723.3,365.3 L723.1,366.4 L722.9,367.5 L722.7,368.6 L722.6,369.7 L722.4,370.8 L722.2,371.8 L722.1,372.9 L721.9,374.0 L721.7,375.0 L721.6,376.1 L721.4,377.1 L721.2,378.2 L721.1,379.2 L720.9,380.2 L720.7,381.2 L720.6,382.3 L720.4,383.3 L720.2,384.3 L720.1,385.3 L719.9,386.3 L719.7,387.3 L719.6,388.2 L719.4,389.2 L719.2,390.2 L719.1,391.2 L718.9,392.1 L718.7,393.1 L718.6,394.0 L718.4,395.0 L718.2,395.9 L718.1,396.9 L717.9,397.8 L717.7,398.7 L717.5,399.6 L717.4,400.6 L717.2,401.5 L717.0,402.4 L716.9,403.3 L716.7,404.2 L716.5,405.1 L716.3,405.9 L716.2,406.8 L716.0,407.7 L715.8,408.6 L715.6,409.4 L715.4,410.3 L715.3,411.2 L715.1,412.0 L714.9,412.9 L714.7,413.7 L714.5,414.5 L714.4,415.4 L714.2,416.2 L714.0,417.0 L713.8,417.8 L713.6,418.6 L713.5,419.5 L713.3,420.3 L713.1,421.1 L712.9,421.9 L712.7,422.7 L712.5,423.4 L712.3,424.2 L712.1,425.0 L712.0,425.8 L711.8,426.5 L711.6,427.3 L711.4,428.1 L711.2,428.8 L711.0,429.6 L710.8,430.3 L710.6,431.1 L710.4,431.8 L710.2,432.6 L710.0,433.3 L709.8,434.0 L709.6,434.7 L709.4,435.5 L709.2,436.2 L709.0,436.9 L708.8,437.6 L708.6,438.3 L708.4,439.0 L708.2,439.7 L708.0,440.4 L707.8,441.1 L707.6,441.7 L707.4,442.4 L707.2,443.1 L707.0,443.8 L706.8,444.4 L706.5,445.1 L706.3,445.8 L706.1,446.4 L705.9,447.1 L705.7,447.7 L705.5,448.4 L705.3,449.0 L705.0,449.7 L704.8,450.3 L704.6,450.9 L704.4,451.6 L704.2,452.2 L703.9,452.8 L703.7,453.4 L703.5,454.0 L703.3,454.6 L703.0,455.2 L702.8,455.8 L702.6,456.4 L702.4,457.0 L702.1,457.6 L701.9,458.2 L701.7,458.8 L701.4,459.4 L701.2,460.0 L701.0,460.5 L700.7,461.1 L700.5,461.7 L700.2,462.3 L700.0,462.8 L699.8,463.4 L699.5,463.9 L699.3,464.5 L699.0,465.0 L698.8,465.6 L698.5,466.1 L698.3,466.7 L698.0,467.2 L697.8,467.7 L697.5,468.3 L697.3,468.8 L697.0,469.3 L696.8,469.8 L696.5,470.4 L696.2,470.9 L696.0,471.4 L695.7,471.9 L695.5,472.4 L695.2,472.9 L694.9,473.4 L694.7,473.9 L694.4,474.4 L694.1,474.9 L693.9,475.4 L693.6,475.9 L693.3,476.4 L693.0,476.9 L692.8,477.3 L692.5,477.8 L692.2,478.3 L691.9,478.8 L691.7,479.2 L691.4,479.7 L691.1,480.2 L690.8,480.6 L690.5,481.1 L690.2,481.5 L689.9,482.0 L689.7,482.4 L689.4,482.9 L689.1,483.3 L688.8,483.8 L688.5,484.2 L688.2,484.6 L687.9,485.1 L687.6,485.5 L687.3,485.9 L687.0,486.4 L686.7,486.8 L686.4,487.2 L686.1,487.6 L685.7,488.1 L685.4,488.5 L685.1,488.9 L684.8,489.3 L684.5,489.7 L684.2,490.1 L683.8,490.5 L683.5,490.9 L683.2,491.3 L682.9,491.7 L682.6,492.1 L682.2,492.5 L681.9,492.9 L681.6,493.3 L681.2,493.7 L680.9,494.1 L680.6,494.4 L680.2,494.8 L679.9,495.2 L679.5,495.6 L679.2,495.9 L678.9,496.3 L678.5,496.7 L678.2,497.1 L677.8,497.4 L677.5,497.8 L677.1,498.2 L676.8,498.5 L676.4,498.9 L676.0,499.2 L675.7,499.6 L675.3,499.9 L675.0,500.3 L674.6,500.6 L674.2,501.0 L673.9,501.3 L673.5,501.7 L673.1,502.0 L672.8,502.4 L672.4,502.7 L672.0,503.0 L671.6,503.4 L671.3,503.7 L670.9,504.0 L670.5,504.4 L670.1,504.7 L669.7,505.0 L669.4,505.4 L669.0,505.7 L668.6,506.0 L668.2,506.3 L667.8,506.6 L667.4,507.0 L667.0,507.3 L666.6,507.6 L666.2,507.9 L665.9,508.2 L665.5,508.5 L665.1,508.8 L664.7,509.1 L664.3,509.4 L663.9,509.7 L663.4,510.0 L663.0,510.3 L662.6,510.6 L662.2,510.9 L661.8,511.2 L661.4,511.5 L661.0,511.8 L660.6,512.1 L660.2,512.4 L659.8,512.7 L659.4,513.0 L658.9,513.2 L658.5,513.5 L658.1,513.8 L657.7,514.1 L657.3,514.4 L656.8,514.6 L656.4,514.9 L656.0,515.2 L655.6,515.5 L655.1,515.7 L654.7,516.0 L654.3,516.3 L653.9,516.5 L653.4,516.8 L653.0,517.1 L652.6,517.3 L652.1,517.6 L651.7,517.9 L651.3,518.1 L650.8,518.4 L650.4,518.6 L650.0,518.9 L649.5,519.1 L649.1,519.4 L648.6,519.6 L648.2,519.9 L647.8,520.1 L647.3,520.4 L646.9,520.6 L646.4,520.9 L646.0,521.1 L645.5,521.3 L645.1,521.6 L644.6,521.8 L644.2,522.1 L643.7,522.3 L643.3,522.5 L642.8,522.8 L642.4,523.0 L641.9,523.2 L641.5,523.5 L641.0,523.7 L640.6,523.9 L640.1,524.2 L639.7,524.4 L639.2,524.6 L638.8,524.8 L638.3,525.0 L637.8,525.3 L637.4,525.5 L636.9,525.7 L636.5,525.9 L636.0,526.1 L635.5,526.4 L635.1,526.6 L634.6,526.8 L634.2,527.0 L633.7,527.2 L633.2,527.4 L632.8,527.6 L632.3,527.8 L631.8,528.0 L631.4,528.2 L630.9,528.4 L630.4,528.6 L630.0,528.8 L629.5,529.0 L629.0,529.2 L628.6,529.4 L628.1,529.6 L627.6,529.8 L627.2,530.0 L626.7,530.2 L626.2,530.4 L625.7,530.6 L625.3,530.8 L624.8,531.0 L624.3,531.2 L623.9,531.4 L623.4,531.6 L622.9,531.7 L622.4,531.9 L622.0,532.1 L621.5,532.3 L621.0,532.5 L620.5,532.7 L620.1,532.8 L619.6,533.0 L619.1,533.2 L618.6,533.4 L618.2,533.6 L617.7,533.7 L617.2,533.9 L616.8,534.1 L616.3,534.3 L615.8,534.4 L615.3,534.6 L614.9,534.8 L614.4,534.9 L613.9,535.1 L613.4,535.3 L612.9,535.4 L612.5,535.6 L612.0,535.8 L611.5,535.9 L611.0,536.1 L610.6,536.3 L610.1,536.4 L609.6,536.6 L609.1,536.7 L608.7,536.9 L608.2,537.1 L607.7,537.2 L607.3,537.4 L606.8,537.5 L606.3,537.7 L605.8,537.8 L605.3,538.0 L604.8,538.1 L604.3,538.3 L603.8,538.4 L603.3,538.6 L602.8,538.7 L602.2,538.9 L601.7,539.0 L601.2,539.2 L600.7,539.3 L600.1,539.4 L599.6,539.6 L599.1,539.7 L598.5,539.9 L597.9,540.0 L597.4,540.1 L596.8,540.3 L596.2,540.4 L595.6,540.6 L594.9,540.7 L594.3,540.8 L593.7,541.0 L593.0,541.1 L592.3,541.3 L591.7,541.4 L591.0,541.5 L590.3,541.7 L589.6,541.8 L588.9,542.0 L588.2,542.1 L587.4,542.2 L586.7,542.4 L586.0,542.5 L585.2,542.6 L584.4,542.8 L583.6,542.9 L582.8,543.0 L582.0,543.2 L581.2,543.3 L580.4,543.4 L579.5,543.6 L578.7,543.7 L577.8,543.8 L577.0,544.0 L576.1,544.1 L575.2,544.2 L574.4,544.4 L573.5,544.5 L572.6,544.6 L571.7,544.7 L570.8,544.9 L569.8,545.0 L568.9,545.2 L568.0,545.3 L567.0,545.4 L566.0,545.6 L565.1,545.7 L564.1,545.8 L563.1,546.0 L562.2,546.1 L561.2,546.3 L560.2,546.4 L559.3,546.5 L558.3,546.7 L557.4,546.8 L556.4,546.9 L555.5,547.0 L554.6,547.2 L553.6,547.3 L552.7,547.4 L551.7,547.6 L550.8,547.7 L549.9,547.8 L548.9,547.9 L548.0,548.1 L547.1,548.2 L546.2,548.3 L545.3,548.4 L544.4,548.6 L543.6,548.7 L542.8,548.8 L541.9,548.9 L541.1,549.0 L540.3,549.1 L539.6,549.3 L538.8,549.4 L538.0,549.5 L537.3,549.6 L536.5,549.7 L535.8,549.8 L535.1,549.9 L534.4,550.0 L533.7,550.1 L533.0,550.2 L532.4,550.3 L531.7,550.4 L531.0,550.5 L530.4,550.6 L529.8,550.7 L529.2,550.8 L528.6,550.9 L528.0,551.0 L527.4,551.1 L526.9,551.2 L526.3,551.3 L525.8,551.4 L525.2,551.5 L524.7,551.6 L524.2,551.7 L523.7,551.8 L523.2,551.9 L522.7,552.0 L522.2,552.1 L521.7,552.2 L521.2,552.2 L520.8,552.3 L520.3,552.4 L519.9,552.5 L519.4,552.6 L519.0,552.7 L518.6,552.8 L518.2,552.9 L517.8,553.0 L517.4,553.1 L517.0,553.1 L516.6,553.2 L516.2,553.3 L515.8,553.4 L515.4,553.5 L515.0,553.6 L514.6,553.7 L514.3,553.7 L513.9,553.8 L513.5,553.9 L513.2,554.0 L512.8,554.1 L512.5,554.2 L512.1,554.2 L511.8,554.3 L511.5,554.4 L511.1,554.5 L510.8,554.6 L510.5,554.6 L510.1,554.7 L509.8,554.8 L509.4,554.9 L509.1,555.0 L508.8,555.0 L508.4,555.1 L508.1,555.2 L507.8,555.3 L507.5,555.3 L507.2,555.4 L506.8,555.5 L506.5,555.6 L506.2,555.6 L505.9,555.7 L505.5,555.8 L505.2,555.9 L504.9,555.9 L504.5,556.0 L504.2,556.1 L503.8,556.1 L503.5,556.2 L503.1,556.3 L502.8,556.4 L502.4,556.4 L502.1,556.5 L501.7,556.6 L501.4,556.6 L501.0,556.7 L500.6,556.8 L500.3,556.8 L499.9,556.9 L499.5,557.0 L499.1,557.0 L498.7,557.1 L498.3,557.2 L497.9,557.2 L497.5,557.3 L497.1,557.4 L496.6,557.5 L496.2,557.5 L495.8,557.6 L495.3,557.7 L494.9,557.7 L494.4,557.8 L494.0,557.9 L493.5,557.9 L493.0,558.0 L492.6,558.1 L492.1,558.1 L491.6,558.2 L491.1,558.3 L490.6,558.3 L490.1,558.4 L489.6,558.5 L489.1,558.5 L488.6,558.6 L488.1,558.7 L487.6,558.7 L487.0,558.8 L486.5,558.8 L486.0,558.9 L485.4,559.0 L484.9,559.0 L484.3,559.1 L483.8,559.2 L483.2,559.2 L482.6,559.3 L482.1,559.3 L481.5,559.4 L480.9,559.5 L480.3,559.5 L479.8,559.6 L479.2,559.6 L478.6,559.7 L478.0,559.8 L477.4,559.8 L476.8,559.9 L476.1,559.9 L475.5,560.0 L474.9,560.1 L474.3,560.1 L473.7,560.2 L473.0,560.2 L472.4,560.3 L471.8,560.3 L471.1,560.4 L470.5,560.5 L469.8,560.5 L469.2,560.6 L468.5,560.6 L467.8,560.7 L467.2,560.7 L466.5,560.8 L465.8,560.8 L465.2,560.9 L464.5,561.0 L463.8,561.0 L463.1,561.1 L462.4,561.1 L461.7,561.2 L461.0,561.2 L460.3,561.3 L459.6,561.3 L458.9,561.4 L458.2,561.4 L457.5,561.5 L456.8,561.5 L456.1,561.6 L455.3,561.6 L454.6,561.7 L453.9,561.7 L453.1,561.8 L452.4,561.8 L451.7,561.9 L450.9,561.9 L450.2,562.0 L449.4,562.0 L448.7,562.1 L447.9,562.1 L447.2,562.2 L446.4,562.2 L445.7,562.3 L444.9,562.3 L444.1,562.4 L443.4,562.4 L442.6,562.4 L441.8,562.5 L441.1,562.5 L440.3,562.6 L439.5,562.6 L438.7,562.7 L437.9,562.7 L437.2,562.8 L436.4,562.8 L435.6,562.8 L434.8,562.9 L434.0,562.9 L433.2,563.0 L432.4,563.0 L431.6,563.0 L430.8,563.1 L430.0,563.1 L429.2,563.2 L428.4,563.2 L427.6,563.3 L426.7,563.3 L425.9,563.3 L425.1,563.4 L424.3,563.4 L423.5,563.5 L422.7,563.5 L421.8,563.5 L421.0,563.6 L420.2,563.6 L419.4,563.6 L418.5,563.7 L417.7,563.7 L416.9,563.8 L416.0,563.8 L415.2,563.8 L414.4,563.9 L413.5,563.9 L412.7,564.0 L411.7,564.0 L410.8,564.0 L409.8,564.1 L408.9,564.1 L407.9,564.2 L406.9,564.2 L405.9,564.2 L405.0,564.3 L404.1,564.3 L403.2,564.4 L402.4,564.4 L401.7,564.4 L401.0,564.4 L400.4,564.5 L400.0,564.5Z" fill="#df751c" stroke="#df751c" stroke-width="0.6" stroke-linejoin="round"/>
<polyline points="400.0,565.5 400.5,565.5 401.0,565.5 401.7,565.4 402.4,565.4 403.2,565.4 404.1,565.4 405.0,565.3 406.0,565.3 406.9,565.3 407.9,565.2 408.9,565.2 409.9,565.2 410.8,565.1 411.8,565.1 412.7,565.1 413.6,565.0 414.4,565.0 415.2,565.0 416.1,565.0 416.9,564.9 417.7,564.9 418.6,564.9 419.4,564.8 420.2,564.8 421.1,564.8 421.9,564.7 422.7,564.7 423.5,564.7 424.3,564.6 425.2,564.6 426.0,564.6 426.8,564.6 427.6,564.5 428.4,564.5 429.2,564.5 430.0,564.4 430.8,564.4" fill="none" stroke="#eea66a" stroke-width="2.2" stroke-linejoin="round"/>
<polyline points="740.0,259.6 740.2,257.9 740.4,256.2 740.6,254.5 740.8,252.8 740.9,251.1 741.1,249.3 741.3,247.6 741.5,245.8 741.7,244.0 741.9,242.3 742.1,240.5 742.3,238.8 742.5,237.1 742.7,235.3 742.9,233.5 743.1,231.8 743.3,229.9 743.5,228.1 743.7,226.3 743.9,224.4 744.1,222.4 744.3,220.4 744.4,218.4 744.6,216.3 744.7,214.1 744.9,211.9 745.0,209.7" fill="none" stroke="#eea66a" stroke-width="2.2" stroke-linejoin="round"/>
<polyline points="759.1,178.1 759.1,180.4 759.1,182.5 759.1,184.5 759.1,186.4 759.2,188.1 759.2,189.8 759.2,191.3 759.3,192.8 759.3,194.3 759.3,195.7 759.4,197.1 759.4,198.4 759.5,199.8 759.5,201.2 759.6,202.6 759.6,204.0 759.7,205.5 759.7,207.1 759.8,208.7 759.9,210.4 759.9,212.1 760.0,213.8 760.1,215.5 760.1,217.3 760.2,219.0 760.3,220.8 760.4,222.6 760.4,224.5 760.5,226.3 760.6,228.2 760.6,230.1 760.7,232.0 760.8,234.0 760.8,236.0 760.9,238.0 761.0,240.0 761.0,242.1 761.0,244.2 761.1,246.3 761.1,248.5 761.1,250.7 761.1,252.9 761.2,255.1 761.2,257.4 761.2,259.6 761.3,261.9 761.3,264.2 761.4,266.5 761.4,268.9 761.5,271.2 761.6,273.6 761.7,276.0 761.8,278.4 762.0,280.8 762.1,283.3 762.3,285.8 762.4,288.3 762.6,290.8 762.8,293.3 763.0,295.9 763.1,298.4 763.3,301.0 763.5,303.6 763.6,306.2 763.8,308.8 763.9,311.4 764.0,314.0 764.1,316.6 764.2,319.3 764.3,321.9 764.3,324.6 764.4,327.2 764.5,329.9 764.5,332.6 764.6,335.3 764.6,338.0 764.7,340.8 764.7,343.5 764.8,346.2 764.8,348.9 764.9,351.6 764.9,354.3 765.0,357.0 765.1,359.7 765.1,362.4 765.2,365.1 765.2,367.8 765.3,370.4 765.4,373.1 765.4,375.8 765.5,378.5 765.6,381.2 765.6,383.9 765.7,386.6 765.8,389.2 765.8,391.9 765.9,394.6 765.9,397.3 766.0,400.0 766.1,402.7 766.1,405.4 766.2,408.1 766.2,410.9 766.3,413.6 766.4,416.3 766.4,419.1 766.5,421.8 766.6,424.5 766.6,427.2 766.7,429.9 766.8,432.6 766.8,435.2 766.9,437.9 766.9,440.4 767.0,443.0 767.1,445.5 767.1,448.0 767.2,450.5 767.2,453.0 767.3,455.4 767.4,457.8 767.4,460.2 767.5,462.6 767.6,465.0 767.6,467.3 767.7,469.7 767.8,472.0 767.8,474.3 767.9,476.5 767.9,478.8 768.0,481.0 768.1,483.2 768.1,485.4 768.2,487.6 768.2,489.8 768.3,492.0 768.3,494.1 768.4,496.2 768.4,498.3 768.5,500.4 768.6,502.4 768.6,504.4 768.7,506.4 768.8,508.4 768.8,510.3 768.9,512.2 769.0,514.0 769.1,515.8 769.2,517.6 769.3,519.3 769.5,521.0 769.6,522.7 769.7,524.4 769.9,526.0 770.0,527.6 770.2,529.1 770.3,530.6 770.5,532.1 770.6,533.6 770.7,535.0 770.8,536.4 770.9,537.7 771.0,539.0 771.1,540.3 771.1,541.5 771.2,542.6 771.2,543.7 771.3,544.8 771.3,545.8 771.3,546.8 771.3,547.8 771.4,548.8 771.4,549.7 771.4,550.6 771.4,551.5 771.4,552.4 771.4,553.3 771.5,554.1 771.5,555.0 771.5,555.9 771.5,556.7 771.6,557.6 771.6,558.4 771.6,559.2 771.6,560.1 771.6,560.8 771.6,561.6 771.6,562.4 771.6,563.1 771.7,563.8 771.7,564.5 771.8,565.2 771.8,565.8 771.9,566.4 772.0,567.0 772.1,567.6 772.3,568.1 772.5,568.6 772.6,569.1 772.9,569.5 773.1,570.0 773.3,570.4 773.5,570.8 773.8,571.1 774.0,571.5 774.2,571.8 774.4,572.1 774.6,572.3 774.8,572.6 774.9,572.8 775.0,573.0" fill="none" stroke="#eea66a" stroke-width="2.2" stroke-linejoin="round"/>
<g><circle cx="731.3" cy="337.0" r="4.2" fill="#df751c"/><circle cx="732.3" cy="328.5" r="4.2" fill="#df751c"/><circle cx="733.4" cy="320.1" r="4.2" fill="#df751c"/><circle cx="734.3" cy="311.6" r="4.2" fill="#df751c"/><circle cx="735.3" cy="303.2" r="4.2" fill="#df751c"/><circle cx="736.3" cy="294.8" r="4.2" fill="#df751c"/><circle cx="737.2" cy="286.3" r="4.2" fill="#df751c"/><circle cx="738.1" cy="277.9" r="4.2" fill="#df751c"/><circle cx="739.0" cy="269.4" r="4.2" fill="#df751c"/><circle cx="739.9" cy="260.9" r="4.2" fill="#df751c"/><circle cx="740.8" cy="252.5" r="4.2" fill="#df751c"/><circle cx="741.7" cy="244.0" r="4.2" fill="#df751c"/><circle cx="742.7" cy="235.6" r="4.2" fill="#df751c"/><circle cx="743.6" cy="227.2" r="4.2" fill="#df751c"/><circle cx="744.4" cy="218.7" r="4.2" fill="#df751c"/><circle cx="745.0" cy="210.2" r="4.2" fill="#df751c"/><circle cx="745.4" cy="201.7" r="4.2" fill="#df751c"/><circle cx="745.7" cy="193.2" r="4.2" fill="#df751c"/><circle cx="746.1" cy="184.7" r="4.2" fill="#df751c"/><circle cx="746.5" cy="176.2" r="4.2" fill="#df751c"/><circle cx="747.0" cy="167.8" r="4.2" fill="#df751c"/><circle cx="747.5" cy="159.3" r="4.2" fill="#df751c"/><circle cx="748.1" cy="150.8" r="4.2" fill="#df751c"/><circle cx="748.7" cy="142.3" r="4.2" fill="#df751c"/><circle cx="749.6" cy="133.9" r="4.2" fill="#df751c"/><circle cx="751.7" cy="125.6" r="4.2" fill="#df751c"/><circle cx="756.6" cy="124.9" r="4.2" fill="#df751c"/><circle cx="758.1" cy="132.0" r="4.1" fill="#df751c"/><circle cx="758.8" cy="139.9" r="4.1" fill="#df751c"/><circle cx="759.2" cy="165.6" r="4.1" fill="#df751c"/><circle cx="759.5" cy="201.6" r="4.1" fill="#df751c"/><circle cx="760.9" cy="237.6" r="4.1" fill="#df751c"/><circle cx="761.6" cy="273.6" r="4.1" fill="#df751c"/><circle cx="763.8" cy="309.5" r="4.1" fill="#df751c"/><circle cx="764.8" cy="345.5" r="4.1" fill="#df751c"/><circle cx="765.6" cy="381.5" r="4.1" fill="#df751c"/><circle cx="766.4" cy="417.5" r="4.1" fill="#df751c"/><circle cx="767.3" cy="453.4" r="4.1" fill="#df751c"/><circle cx="768.2" cy="489.4" r="4.1" fill="#df751c"/><circle cx="769.5" cy="521.0" r="4.1" fill="#df751c"/><circle cx="770.7" cy="534.9" r="4.1" fill="#df751c"/><circle cx="771.4" cy="548.9" r="4.1" fill="#df751c"/><circle cx="771.6" cy="562.9" r="4.1" fill="#df751c"/></g>
<polyline points="802.0,577.0 846.0,577.0 1062.0,577.5" fill="none" stroke="#55a4ec" stroke-width="7.0"/>
<path d="M400.0,567.5 L400.6,567.5 L401.2,567.5 L402.0,567.5 L402.8,567.5 L403.7,567.5 L404.7,567.4 L405.7,567.4 L406.8,567.4 L407.9,567.4 L409.0,567.4 L410.1,567.3 L411.3,567.3 L412.4,567.3 L413.4,567.3 L414.5,567.3 L415.5,567.3 L416.4,567.2 L417.4,567.2 L418.3,567.2 L419.3,567.2 L420.2,567.2 L421.2,567.1 L422.1,567.1 L423.0,567.1 L424.0,567.1 L424.9,567.1 L425.9,567.1 L426.8,567.0 L427.7,567.0 L428.6,567.0 L429.6,567.0 L430.5,567.0 L431.4,566.9 L432.3,566.9 L433.2,566.9 L434.2,566.9 L435.1,566.9 L436.0,566.8 L436.9,566.8 L437.8,566.8 L438.7,566.8 L439.6,566.8 L440.5,566.7 L441.4,566.7 L442.3,566.7 L443.1,566.7 L444.0,566.7 L444.9,566.6 L445.8,566.6 L446.6,566.6 L447.5,566.6 L448.4,566.5 L449.2,566.5 L450.1,566.5 L450.9,566.5 L451.8,566.5 L452.6,566.4 L453.5,566.4 L454.3,566.4 L455.2,566.4 L456.0,566.3 L456.8,566.3 L457.6,566.3 L458.5,566.3 L459.3,566.2 L460.1,566.2 L460.9,566.2 L461.7,566.2 L462.5,566.1 L463.3,566.1 L464.1,566.1 L464.9,566.1 L465.6,566.0 L466.4,566.0 L467.2,566.0 L468.0,566.0 L468.7,565.9 L469.5,565.9 L470.2,565.9 L471.0,565.9 L471.7,565.8 L472.4,565.8 L473.2,565.8 L473.9,565.7 L474.6,565.7 L475.3,565.7 L476.1,565.7 L476.8,565.6 L477.5,565.6 L478.2,565.6 L478.8,565.5 L479.5,565.5 L480.2,565.5 L480.9,565.4 L481.5,565.4 L482.2,565.4 L482.9,565.3 L483.5,565.3 L484.1,565.3 L484.8,565.3 L485.4,565.2 L486.0,565.2 L486.7,565.2 L487.3,565.1 L487.9,565.1 L488.5,565.1 L489.1,565.0 L489.7,565.0 L490.3,565.0 L490.8,564.9 L491.4,564.9 L492.0,564.8 L492.5,564.8 L493.1,564.8 L493.6,564.7 L494.1,564.7 L494.7,564.7 L495.2,564.6 L495.7,564.6 L496.2,564.5 L496.7,564.5 L497.2,564.5 L497.7,564.4 L498.2,564.4 L498.6,564.4 L499.1,564.3 L499.6,564.3 L500.0,564.2 L500.5,564.2 L500.9,564.1 L501.4,564.1 L501.8,564.1 L502.2,564.0 L502.6,564.0 L503.0,563.9 L503.4,563.9 L503.8,563.8 L504.2,563.8 L504.6,563.8 L504.9,563.7 L505.3,563.7 L505.7,563.6 L506.1,563.6 L506.4,563.5 L506.8,563.5 L507.2,563.4 L507.5,563.4 L507.9,563.3 L508.2,563.3 L508.6,563.2 L508.9,563.2 L509.3,563.1 L509.6,563.1 L510.0,563.0 L510.3,563.0 L510.7,562.9 L511.0,562.9 L511.3,562.8 L511.7,562.8 L512.1,562.7 L512.4,562.7 L512.8,562.6 L513.1,562.6 L513.5,562.5 L513.9,562.5 L514.2,562.4 L514.6,562.4 L515.0,562.3 L515.3,562.2 L515.7,562.2 L516.1,562.1 L516.5,562.1 L516.8,562.0 L517.2,562.0 L517.6,561.9 L518.1,561.9 L518.5,561.8 L518.9,561.7 L519.4,561.7 L519.8,561.6 L520.2,561.6 L520.7,561.5 L521.1,561.4 L521.6,561.4 L522.1,561.3 L522.6,561.3 L523.0,561.2 L523.6,561.1 L524.1,561.1 L524.6,561.0 L525.1,560.9 L525.7,560.9 L526.3,560.8 L526.8,560.8 L527.4,560.7 L528.0,560.6 L528.6,560.6 L529.2,560.5 L529.9,560.4 L530.5,560.4 L531.2,560.3 L531.8,560.2 L532.5,560.2 L533.2,560.1 L533.9,560.0 L534.6,559.9 L535.4,559.9 L536.1,559.8 L536.9,559.7 L537.7,559.7 L538.6,559.6 L539.4,559.6 L540.3,559.5 L541.2,559.4 L542.1,559.4 L543.0,559.3 L543.9,559.2 L544.8,559.2 L545.8,559.1 L546.7,559.0 L547.7,559.0 L548.6,558.9 L549.6,558.8 L550.5,558.7 L551.5,558.7 L552.4,558.6 L553.4,558.5 L554.4,558.5 L555.4,558.4 L556.4,558.3 L557.4,558.2 L558.4,558.2 L559.4,558.1 L560.4,558.0 L561.4,557.9 L562.4,557.9 L563.4,557.8 L564.3,557.7 L565.3,557.6 L566.2,557.5 L567.1,557.4 L568.0,557.3 L568.9,557.2 L569.8,557.1 L570.7,557.0 L571.5,556.9 L572.4,556.8 L573.2,556.7 L574.1,556.6 L574.9,556.5 L575.7,556.4 L576.6,556.3 L577.4,556.2 L578.2,556.1 L579.0,556.0 L579.8,555.9 L580.5,555.8 L581.3,555.7 L582.1,555.6 L582.8,555.5 L583.6,555.4 L584.3,555.2 L585.0,555.1 L585.8,555.0 L586.5,554.9 L587.2,554.8 L587.9,554.7 L588.6,554.6 L589.3,554.4 L590.0,554.3 L590.7,554.2 L591.4,554.1 L592.1,554.0 L592.8,553.9 L593.4,553.7 L594.1,553.6 L594.8,553.5 L595.4,553.4 L596.1,553.2 L596.7,553.1 L597.4,553.0 L598.0,552.9 L598.6,552.8 L599.3,552.6 L599.9,552.5 L600.5,552.4 L601.2,552.2 L601.8,552.1 L602.4,552.0 L603.0,551.8 L603.7,551.7 L604.3,551.6 L604.9,551.5 L605.5,551.3 L606.1,551.2 L606.7,551.0 L607.3,550.9 L607.9,550.8 L608.6,550.6 L609.2,550.5 L609.8,550.4 L610.4,550.2 L611.0,550.1 L611.6,549.9 L612.2,549.8 L612.8,549.7 L613.4,549.5 L614.0,549.4 L614.6,549.2 L615.3,549.1 L615.9,548.9 L616.5,548.8 L617.1,548.6 L617.7,548.5 L618.3,548.3 L618.9,548.2 L619.5,548.0 L620.1,547.9 L620.8,547.7 L621.4,547.5 L622.0,547.4 L622.6,547.2 L623.2,547.1 L623.8,546.9 L624.4,546.8 L625.0,546.6 L625.6,546.4 L626.2,546.3 L626.8,546.1 L627.4,545.9 L628.0,545.8 L628.5,545.6 L629.1,545.4 L629.7,545.3 L630.3,545.1 L630.9,544.9 L631.4,544.7 L632.0,544.6 L632.6,544.4 L633.1,544.2 L633.7,544.0 L634.2,543.8 L634.8,543.7 L635.3,543.5 L635.9,543.3 L636.4,543.1 L636.9,542.9 L637.5,542.7 L638.0,542.5 L638.5,542.4 L639.1,542.2 L639.6,542.0 L640.1,541.8 L640.6,541.6 L641.1,541.4 L641.6,541.2 L642.1,541.0 L642.6,540.8 L643.1,540.6 L643.6,540.4 L644.0,540.2 L644.5,540.0 L645.0,539.8 L645.5,539.6 L645.9,539.4 L646.4,539.2 L646.9,538.9 L647.3,538.7 L647.8,538.5 L648.3,538.3 L648.7,538.1 L649.2,537.9 L649.6,537.7 L650.1,537.4 L650.5,537.2 L651.0,537.0 L651.4,536.8 L651.9,536.6 L652.3,536.3 L652.7,536.1 L653.2,535.9 L653.6,535.7 L654.0,535.4 L654.5,535.2 L654.9,535.0 L655.4,534.7 L655.8,534.5 L656.3,534.3 L656.7,534.0 L657.1,533.8 L657.6,533.5 L658.0,533.3 L658.4,533.1 L658.9,532.8 L659.3,532.6 L659.7,532.3 L660.2,532.1 L660.6,531.8 L661.0,531.6 L661.5,531.3 L661.9,531.1 L662.4,530.8 L662.8,530.6 L663.3,530.3 L663.7,530.1 L664.1,529.8 L664.6,529.6 L665.0,529.3 L665.5,529.0 L665.9,528.8 L666.4,528.5 L666.9,528.2 L667.3,528.0 L667.8,527.7 L668.2,527.4 L668.7,527.2 L669.2,526.9 L669.7,526.6 L670.1,526.3 L670.6,526.1 L671.1,525.8 L671.6,525.5 L672.1,525.2 L672.6,524.9 L673.1,524.6 L673.6,524.4 L674.1,524.1 L674.6,523.8 L675.1,523.5 L675.6,523.2 L676.1,522.9 L676.7,522.6 L677.2,522.3 L677.7,522.0 L678.2,521.7 L678.8,521.4 L679.3,521.1 L679.9,520.8 L680.4,520.4 L681.0,520.1 L681.5,519.8 L682.1,519.5 L682.6,519.2 L683.2,518.8 L683.8,518.5 L684.3,518.2 L684.9,517.8 L685.4,517.5 L686.0,517.2 L686.5,516.8 L687.1,516.5 L687.6,516.2 L688.2,515.8 L688.7,515.5 L689.3,515.1 L689.8,514.8 L690.4,514.4 L690.9,514.1 L691.5,513.7 L692.0,513.3 L692.6,513.0 L693.1,512.6 L693.7,512.2 L694.2,511.8 L694.7,511.5 L695.2,511.1 L695.8,510.7 L696.3,510.3 L696.8,509.9 L697.3,509.5 L697.8,509.2 L698.3,508.8 L698.8,508.4 L699.3,508.0 L699.8,507.6 L700.3,507.2 L700.8,506.8 L701.2,506.4 L701.7,506.0 L702.2,505.5 L702.7,505.1 L703.2,504.7 L703.6,504.3 L704.1,503.9 L704.5,503.5 L705.0,503.0 L705.5,502.6 L705.9,502.2 L706.4,501.7 L706.8,501.3 L707.2,500.9 L707.7,500.4 L708.1,500.0 L708.6,499.5 L709.0,499.1 L709.4,498.6 L709.8,498.2 L710.3,497.7 L710.7,497.2 L711.1,496.8 L711.5,496.3 L711.9,495.9 L712.3,495.4 L712.7,494.9 L713.1,494.4 L713.5,494.0 L713.9,493.5 L714.3,493.0 L714.7,492.5 L715.1,492.0 L715.5,491.5 L715.9,491.0 L716.3,490.5 L716.7,490.0 L717.0,489.5 L717.4,489.0 L717.8,488.5 L718.1,488.0 L718.5,487.5 L718.9,487.0 L719.2,486.4 L719.6,485.9 L720.0,485.4 L720.3,484.9 L720.7,484.3 L721.0,483.8 L721.4,483.2 L721.7,482.7 L722.1,482.2 L722.4,481.6 L722.8,481.1 L723.1,480.5 L723.4,479.9 L723.8,479.4 L724.1,478.8 L724.4,478.3 L724.8,477.7 L725.1,477.1 L725.4,476.5 L725.8,476.0 L726.1,475.4 L726.4,474.8 L726.7,474.2 L727.0,473.6 L727.4,473.0 L727.7,472.4 L728.0,471.8 L728.3,471.2 L728.6,470.6 L728.9,470.0 L729.2,469.4 L729.5,468.7 L729.8,468.1 L730.1,467.5 L730.4,466.9 L730.7,466.2 L731.0,465.6 L731.3,465.0 L731.6,464.3 L731.9,463.7 L732.2,463.0 L732.5,462.4 L732.8,461.7 L733.1,461.0 L733.4,460.4 L733.7,459.7 L734.0,459.0 L734.2,458.3 L734.5,457.7 L734.8,457.0 L735.1,456.3 L735.4,455.6 L735.7,454.9 L735.9,454.2 L736.2,453.5 L736.5,452.8 L736.8,452.1 L737.0,451.3 L737.3,450.6 L737.6,449.9 L737.8,449.2 L738.1,448.4 L738.4,447.7 L738.7,447.0 L738.9,446.2 L739.2,445.5 L739.4,444.7 L739.7,443.9 L740.0,443.2 L740.2,442.4 L740.5,441.6 L740.8,440.9 L741.0,440.1 L741.2,439.3 L741.5,438.5 L741.7,437.7 L742.0,436.9 L742.2,436.1 L742.4,435.3 L742.7,434.4 L742.9,433.6 L743.1,432.8 L743.4,432.0 L743.6,431.1 L743.8,430.3 L744.1,429.4 L744.3,428.6 L744.5,427.7 L744.8,426.9 L745.0,426.0 L745.2,425.1 L745.5,424.3 L745.7,423.4 L745.9,422.5 L746.2,421.6 L746.4,420.7 L746.6,419.8 L746.9,418.9 L747.1,418.0 L747.3,417.1 L747.5,416.2 L747.8,415.3 L748.0,414.3 L748.2,413.4 L748.4,412.4 L748.7,411.5 L748.9,410.5 L749.1,409.6 L749.3,408.6 L749.5,407.7 L749.7,406.7 L750.0,405.7 L750.2,404.7 L750.4,403.7 L750.6,402.7 L750.8,401.7 L751.0,400.7 L751.2,399.7 L751.5,398.7 L751.7,397.7 L751.9,396.6 L752.1,395.6 L752.3,394.5 L752.5,393.5 L752.7,392.4 L752.9,391.4 L753.1,390.3 L753.3,389.2 L753.5,388.1 L753.7,387.1 L753.9,386.0 L754.1,384.9 L754.3,383.8 L754.5,382.6 L754.7,381.5 L754.9,380.4 L755.1,379.3 L755.3,378.1 L755.5,377.0 L755.7,375.8 L755.9,374.7 L756.1,373.5 L756.3,372.3 L756.5,371.2 L756.7,370.0 L756.8,368.8 L757.0,367.6 L757.2,366.4 L757.4,365.2 L757.6,363.9 L757.8,362.7 L758.0,361.5 L758.2,360.2 L758.4,359.0 L758.6,357.7 L758.7,356.5 L758.9,355.2 L759.1,353.9 L759.3,352.6 L759.5,351.3 L759.7,350.0 L759.9,348.7 L760.1,347.4 L760.2,346.1 L760.4,344.7 L760.6,343.4 L760.8,342.1 L761.0,340.7 L761.2,339.3 L761.3,338.0 L761.5,336.6 L761.7,335.2 L761.9,333.8 L762.0,332.4 L762.2,331.0 L762.4,329.6 L762.6,328.1 L762.7,326.7 L762.9,325.2 L763.1,323.8 L763.3,322.3 L763.4,320.8 L763.6,319.4 L763.8,317.9 L763.9,316.4 L764.1,314.9 L764.3,313.4 L764.5,311.8 L764.6,310.3 L764.8,308.8 L765.0,307.2 L765.1,305.6 L765.3,304.1 L765.5,302.5 L765.7,300.9 L765.8,299.3 L766.0,297.7 L766.2,296.1 L766.3,294.5 L766.5,292.8 L766.7,291.2 L766.9,289.5 L767.0,287.9 L767.2,286.2 L767.4,284.5 L767.6,282.8 L767.8,281.1 L767.9,279.4 L768.1,277.7 L768.3,275.9 L768.5,274.2 L768.6,272.4 L768.8,270.7 L769.0,268.9 L769.2,267.1 L769.4,265.3 L769.5,263.5 L769.7,261.7 L769.9,259.9 L770.1,258.0 L770.3,256.2 L770.5,254.3 L770.7,252.5 L770.8,250.6 L771.0,248.7 L771.2,246.8 L771.4,244.9 L771.6,243.0 L771.8,241.0 L772.0,239.1 L772.1,237.1 L772.3,235.1 L772.5,233.1 L772.7,231.2 L772.9,229.1 L773.1,227.1 L773.3,225.1 L773.5,223.1 L773.6,221.0 L773.8,218.9 L774.0,216.9 L774.2,214.8 L774.4,212.7 L774.6,210.6 L774.8,208.4 L775.0,206.3 L775.2,204.1 L775.3,202.0 L775.5,199.8 L775.7,197.5 L775.9,195.2 L776.1,192.8 L776.3,190.4 L776.5,188.0 L776.7,185.6 L776.9,183.3 L777.1,180.9 L777.3,178.5 L777.5,176.2 L777.7,173.9 L777.9,171.7 L778.0,169.6 L778.2,167.5 L778.4,165.5 L778.6,163.6 L778.7,161.8 L778.9,160.0 L779.1,158.2 L779.2,156.5 L779.4,154.8 L779.6,153.2 L779.7,151.6 L779.9,150.0 L780.0,148.5 L780.2,147.0 L780.3,145.6 L780.5,144.2 L780.6,142.8 L780.8,141.5 L780.9,140.1 L781.0,138.9 L781.1,137.7 L781.3,136.6 L781.4,135.5 L781.5,134.5 L781.6,133.5 L781.7,132.6 L781.8,131.7 L781.9,130.8 L782.0,129.9 L782.1,129.0 L782.2,128.1 L782.3,127.2 L782.4,126.2 L782.5,125.2 L782.6,124.2 L782.7,123.1 L782.9,122.1 L783.0,121.0 L783.2,120.0 L783.4,118.9 L783.5,117.9 L783.7,116.8 L783.8,115.7 L784.0,114.6 L784.2,113.5 L784.3,112.4 L784.5,111.2 L784.7,110.0 L784.9,108.8 L785.0,107.6 L785.2,106.3 L785.5,104.9 L785.7,103.3 L786.0,101.7 L786.2,99.9 L786.5,98.1 L786.8,96.3 L787.1,94.5 L787.3,92.7 L787.6,90.9 L787.9,89.2 L788.2,87.6 L788.4,86.2 L788.7,84.9 L788.9,83.8 L789.2,82.9 L789.4,82.4 L789.4,82.1 L789.3,82.2 L788.9,82.6 L787.5,83.4 L785.5,83.1 L784.7,82.4 L784.5,82.1 L784.6,82.1 L784.7,82.3 L784.9,82.7 L785.1,83.2 L785.3,83.7 L785.5,84.3 L785.7,85.0 L785.8,85.7 L786.0,86.4 L786.2,87.2 L786.4,88.0 L786.6,89.1 L786.7,90.2 L786.9,91.4 L787.1,92.6 L787.2,93.9 L787.4,95.3 L787.5,96.7 L787.7,98.1 L787.8,99.5 L788.0,100.9 L788.1,102.2 L788.2,103.6 L788.4,104.9 L788.5,106.1 L788.6,107.3 L788.6,108.4 L788.7,109.6 L788.7,110.7 L788.7,111.9 L788.7,113.0 L788.8,114.2 L788.8,115.3 L788.8,116.4 L788.8,117.5 L788.9,118.6 L788.9,119.7 L788.9,120.8 L789.0,121.9 L789.0,123.0 L789.1,124.1 L789.2,125.1 L789.3,125.9 L789.4,126.5 L789.5,127.1 L789.6,127.5 L789.7,127.9 L789.8,128.3 L789.9,128.7 L790.0,129.3 L790.1,130.0 L790.2,130.9 L790.3,132.0 L790.4,133.5 L790.5,135.3 L790.6,137.4 L790.7,140.0 L790.8,143.2 L790.9,146.8 L791.0,150.9 L791.0,155.3 L791.1,160.1 L791.2,165.1 L791.3,170.4 L791.4,175.7 L791.4,181.1 L791.5,186.5 L791.6,191.8 L791.6,197.0 L791.7,202.0 L791.8,206.7 L791.8,211.1 L791.9,215.0 L792.0,218.7 L792.0,222.1 L792.1,225.3 L792.1,228.4 L792.2,231.3 L792.2,234.1 L792.3,236.8 L792.3,239.4 L792.4,242.0 L792.4,244.5 L792.5,247.0 L792.5,249.5 L792.6,252.0 L792.6,254.6 L792.7,257.3 L792.7,260.0 L792.7,262.8 L792.8,265.6 L792.8,268.5 L792.8,271.3 L792.8,274.1 L792.9,276.9 L792.9,279.7 L792.9,282.5 L792.9,285.3 L792.9,288.1 L793.0,291.0 L793.0,293.8 L793.0,296.6 L793.1,299.4 L793.1,302.2 L793.2,305.0 L793.3,307.9 L793.4,310.7 L793.5,313.4 L793.6,316.2 L793.7,319.0 L793.8,321.8 L793.9,324.6 L794.0,327.4 L794.2,330.2 L794.3,333.0 L794.4,335.8 L794.5,338.6 L794.7,341.4 L794.8,344.3 L794.9,347.2 L795.0,350.1 L795.1,352.9 L795.2,355.7 L795.3,358.4 L795.4,361.0 L795.5,363.7 L795.6,366.3 L795.7,369.0 L795.7,371.7 L795.8,374.5 L795.9,377.4 L796.0,380.4 L796.1,383.6 L796.2,386.9 L796.3,390.4 L796.4,394.1 L796.5,398.0 L796.6,402.3 L796.7,406.8 L796.9,411.6 L797.0,416.7 L797.1,421.9 L797.2,427.3 L797.4,432.7 L797.5,438.3 L797.6,443.9 L797.8,449.4 L797.9,454.9 L798.0,460.3 L798.1,465.5 L798.3,470.6 L798.4,475.5 L798.5,480.0 L798.6,484.5 L798.7,488.8 L798.8,493.1 L798.9,497.4 L799.0,501.5 L799.1,505.6 L799.2,509.6 L799.3,513.5 L799.4,517.3 L799.5,520.9 L799.6,524.5 L799.7,527.9 L799.8,531.1 L799.8,534.3 L799.9,537.2 L800.0,540.0 L800.1,542.7 L800.1,545.1 L800.2,547.4 L800.3,549.5 L800.3,551.5 L800.3,553.4 L800.4,555.1 L800.4,556.8 L800.5,558.3 L800.5,559.7 L800.6,561.1 L800.7,562.4 L800.7,563.6 L800.8,564.8 L800.9,566.0 L801.0,567.2 L801.1,568.2 L801.3,569.2 L801.4,570.2 L801.6,571.0 L801.8,571.7 L802.0,572.4 L802.2,573.0 L802.4,573.5 L802.6,574.0 L802.8,574.4 L803.0,574.8 L803.2,575.1 L803.3,575.4 L803.4,575.6 L803.5,575.8 L803.6,576.0 L806.4,575.0 L806.3,574.7 L806.2,574.4 L806.0,574.0 L805.8,573.7 L805.7,573.4 L805.5,573.1 L805.4,572.7 L805.2,572.4 L805.0,571.9 L804.9,571.5 L804.7,570.9 L804.5,570.3 L804.4,569.6 L804.2,568.8 L804.1,567.9 L804.0,566.8 L803.9,565.8 L803.8,564.6 L803.7,563.5 L803.7,562.2 L803.6,561.0 L803.5,559.6 L803.5,558.2 L803.4,556.7 L803.4,555.1 L803.3,553.3 L803.3,551.5 L803.2,549.5 L803.2,547.3 L803.1,545.0 L803.1,542.6 L803.0,540.0 L802.9,537.2 L802.8,534.2 L802.8,531.1 L802.7,527.8 L802.6,524.4 L802.5,520.8 L802.4,517.2 L802.3,513.4 L802.2,509.5 L802.1,505.5 L802.0,501.4 L801.9,497.3 L801.8,493.0 L801.7,488.7 L801.6,484.4 L801.5,480.0 L801.4,475.4 L801.3,470.5 L801.1,465.5 L801.0,460.2 L800.9,454.8 L800.8,449.3 L800.6,443.8 L800.5,438.2 L800.4,432.7 L800.2,427.2 L800.1,421.8 L800.0,416.6 L799.9,411.5 L799.7,406.7 L799.6,402.2 L799.5,398.0 L799.4,394.0 L799.3,390.3 L799.2,386.8 L799.1,383.5 L799.0,380.3 L798.9,377.3 L798.8,374.4 L798.7,371.6 L798.6,368.9 L798.6,366.2 L798.5,363.6 L798.4,360.9 L798.3,358.3 L798.2,355.6 L798.1,352.8 L798.0,349.9 L797.9,347.0 L797.8,344.2 L797.7,341.3 L797.5,338.5 L797.4,335.6 L797.3,332.8 L797.2,330.0 L797.0,327.2 L796.9,324.5 L796.8,321.7 L796.7,318.9 L796.6,316.1 L796.5,313.3 L796.4,310.6 L796.3,307.8 L796.2,305.0 L796.1,302.2 L796.1,299.3 L796.0,296.5 L796.0,293.7 L796.0,290.9 L795.9,288.1 L795.9,285.3 L795.9,282.5 L795.9,279.7 L795.9,276.9 L795.8,274.1 L795.8,271.2 L795.8,268.4 L795.8,265.6 L795.7,262.8 L795.7,260.0 L795.7,257.2 L795.6,254.6 L795.6,252.0 L795.5,249.4 L795.5,246.9 L795.4,244.4 L795.4,241.9 L795.3,239.3 L795.3,236.7 L795.2,234.0 L795.2,231.2 L795.1,228.3 L795.1,225.3 L795.0,222.0 L795.0,218.6 L794.9,215.0 L794.8,211.0 L794.8,206.6 L794.7,201.9 L794.6,197.0 L794.6,191.8 L794.5,186.5 L794.4,181.1 L794.3,175.7 L794.3,170.3 L794.2,165.1 L794.1,160.1 L794.0,155.3 L794.0,150.8 L793.9,146.7 L793.8,143.1 L793.7,140.0 L793.6,137.3 L793.5,135.1 L793.4,133.3 L793.3,131.8 L793.2,130.6 L793.1,129.6 L793.0,128.8 L792.8,128.1 L792.7,127.6 L792.6,127.2 L792.5,126.8 L792.4,126.4 L792.3,126.0 L792.2,125.5 L792.2,124.8 L792.1,123.9 L792.0,122.9 L792.0,121.8 L791.9,120.7 L791.9,119.6 L791.9,118.5 L791.8,117.4 L791.8,116.3 L791.8,115.2 L791.8,114.1 L791.7,113.0 L791.7,111.8 L791.7,110.6 L791.7,109.5 L791.6,108.3 L791.6,107.1 L791.5,105.9 L791.5,104.7 L791.5,103.4 L791.5,102.1 L791.5,100.7 L791.4,99.3 L791.4,97.9 L791.4,96.4 L791.4,95.0 L791.3,93.6 L791.3,92.3 L791.3,91.0 L791.2,89.8 L791.2,88.6 L791.1,87.5 L791.0,86.5 L791.0,85.6 L790.9,84.8 L790.8,84.0 L790.7,83.2 L790.6,82.5 L790.5,81.8 L790.4,81.1 L790.3,80.5 L790.1,79.8 L789.9,79.1 L789.4,78.3 L788.2,77.4 L785.9,77.1 L784.2,78.0 L783.4,79.0 L782.9,79.8 L782.6,80.6 L782.5,81.5 L782.3,82.7 L782.2,83.9 L782.1,85.3 L782.0,86.8 L781.9,88.5 L781.7,90.2 L781.6,92.0 L781.5,93.9 L781.4,95.7 L781.3,97.6 L781.1,99.4 L781.0,101.1 L780.9,102.8 L780.8,104.3 L780.8,105.7 L780.7,107.1 L780.5,108.3 L780.4,109.6 L780.3,110.8 L780.3,111.9 L780.2,113.1 L780.1,114.2 L780.0,115.3 L779.9,116.4 L779.8,117.5 L779.8,118.5 L779.7,119.6 L779.6,120.7 L779.6,121.7 L779.5,122.8 L779.4,123.8 L779.3,124.9 L779.2,125.9 L779.1,126.8 L779.0,127.8 L778.9,128.7 L778.9,129.6 L778.8,130.5 L778.7,131.4 L778.6,132.3 L778.5,133.2 L778.4,134.2 L778.3,135.2 L778.2,136.3 L778.1,137.4 L778.0,138.6 L777.9,139.9 L777.8,141.2 L777.6,142.5 L777.5,143.9 L777.4,145.3 L777.2,146.7 L777.1,148.2 L776.9,149.7 L776.7,151.3 L776.6,152.9 L776.4,154.5 L776.3,156.2 L776.1,157.9 L775.9,159.7 L775.8,161.5 L775.6,163.4 L775.4,165.3 L775.2,167.2 L775.1,169.3 L774.9,171.5 L774.7,173.7 L774.5,176.0 L774.3,178.3 L774.1,180.6 L773.9,183.0 L773.7,185.4 L773.5,187.8 L773.3,190.2 L773.1,192.6 L772.9,194.9 L772.7,197.2 L772.6,199.5 L772.4,201.7 L772.2,203.9 L772.0,206.0 L771.8,208.2 L771.6,210.3 L771.4,212.4 L771.2,214.5 L771.0,216.6 L770.8,218.7 L770.7,220.7 L770.5,222.8 L770.3,224.8 L770.1,226.8 L769.9,228.9 L769.7,230.9 L769.5,232.9 L769.3,234.8 L769.1,236.8 L769.0,238.8 L768.8,240.7 L768.6,242.7 L768.4,244.6 L768.2,246.5 L768.0,248.4 L767.8,250.3 L767.6,252.2 L767.4,254.0 L767.2,255.9 L767.1,257.7 L766.9,259.6 L766.7,261.4 L766.5,263.2 L766.3,265.0 L766.1,266.8 L765.9,268.6 L765.7,270.4 L765.5,272.1 L765.3,273.9 L765.1,275.6 L764.9,277.3 L764.7,279.0 L764.5,280.8 L764.3,282.4 L764.1,284.1 L763.9,285.8 L763.7,287.5 L763.5,289.1 L763.3,290.8 L763.1,292.4 L762.9,294.1 L762.7,295.7 L762.5,297.3 L762.3,298.9 L762.1,300.5 L761.9,302.1 L761.7,303.6 L761.5,305.2 L761.2,306.7 L761.0,308.3 L760.8,309.8 L760.6,311.3 L760.4,312.9 L760.2,314.4 L760.0,315.9 L759.8,317.4 L759.6,318.8 L759.3,320.3 L759.1,321.8 L758.9,323.2 L758.7,324.7 L758.5,326.1 L758.3,327.5 L758.1,329.0 L757.9,330.4 L757.6,331.8 L757.4,333.2 L757.2,334.6 L757.0,335.9 L756.8,337.3 L756.6,338.7 L756.4,340.0 L756.1,341.4 L755.9,342.7 L755.7,344.0 L755.5,345.4 L755.3,346.7 L755.1,348.0 L754.9,349.3 L754.7,350.6 L754.5,351.9 L754.3,353.1 L754.1,354.4 L753.8,355.7 L753.6,356.9 L753.4,358.2 L753.2,359.4 L753.0,360.6 L752.8,361.9 L752.6,363.1 L752.3,364.3 L752.1,365.5 L751.9,366.7 L751.7,367.9 L751.5,369.1 L751.3,370.2 L751.0,371.4 L750.8,372.6 L750.6,373.7 L750.4,374.9 L750.2,376.0 L749.9,377.1 L749.7,378.3 L749.5,379.4 L749.3,380.5 L749.1,381.6 L748.8,382.7 L748.6,383.8 L748.4,384.9 L748.2,386.0 L747.9,387.0 L747.7,388.1 L747.5,389.2 L747.3,390.2 L747.0,391.3 L746.8,392.3 L746.6,393.3 L746.3,394.4 L746.1,395.4 L745.9,396.4 L745.7,397.4 L745.4,398.4 L745.2,399.4 L745.0,400.4 L744.7,401.4 L744.5,402.4 L744.3,403.4 L744.0,404.3 L743.8,405.3 L743.6,406.3 L743.4,407.2 L743.1,408.2 L742.9,409.1 L742.6,410.0 L742.4,411.0 L742.2,411.9 L741.9,412.8 L741.7,413.7 L741.5,414.6 L741.2,415.5 L741.0,416.4 L740.7,417.3 L740.5,418.2 L740.3,419.1 L740.0,420.0 L739.8,420.8 L739.5,421.7 L739.3,422.6 L739.1,423.4 L738.8,424.3 L738.6,425.1 L738.3,425.9 L738.1,426.8 L737.8,427.6 L737.5,428.4 L737.3,429.2 L737.0,430.1 L736.8,430.9 L736.5,431.7 L736.2,432.5 L736.0,433.2 L735.7,434.0 L735.5,434.8 L735.2,435.6 L734.9,436.4 L734.7,437.1 L734.4,437.9 L734.1,438.7 L733.9,439.4 L733.6,440.2 L733.4,440.9 L733.1,441.7 L732.8,442.4 L732.6,443.1 L732.3,443.9 L732.1,444.6 L731.8,445.3 L731.5,446.0 L731.3,446.7 L731.0,447.5 L730.8,448.2 L730.5,448.9 L730.2,449.6 L730.0,450.3 L729.7,450.9 L729.4,451.6 L729.2,452.3 L728.9,453.0 L728.6,453.7 L728.3,454.3 L728.1,455.0 L727.8,455.6 L727.5,456.3 L727.2,456.9 L727.0,457.6 L726.7,458.2 L726.4,458.9 L726.1,459.5 L725.8,460.1 L725.6,460.8 L725.3,461.4 L725.0,462.0 L724.7,462.6 L724.4,463.2 L724.1,463.9 L723.8,464.5 L723.5,465.1 L723.2,465.7 L723.0,466.3 L722.7,466.8 L722.4,467.4 L722.1,468.0 L721.8,468.6 L721.5,469.2 L721.2,469.7 L720.9,470.3 L720.6,470.9 L720.3,471.4 L720.0,472.0 L719.6,472.5 L719.3,473.1 L719.0,473.6 L718.7,474.2 L718.4,474.7 L718.1,475.3 L717.8,475.8 L717.5,476.3 L717.1,476.9 L716.8,477.4 L716.5,477.9 L716.2,478.4 L715.8,478.9 L715.5,479.4 L715.2,480.0 L714.8,480.5 L714.5,481.0 L714.2,481.5 L713.8,482.0 L713.5,482.4 L713.2,482.9 L712.8,483.4 L712.5,483.9 L712.1,484.4 L711.8,484.9 L711.4,485.3 L711.1,485.8 L710.7,486.3 L710.3,486.7 L710.0,487.2 L709.6,487.7 L709.3,488.1 L708.9,488.6 L708.5,489.0 L708.2,489.5 L707.8,489.9 L707.4,490.4 L707.0,490.8 L706.6,491.3 L706.3,491.7 L705.9,492.1 L705.5,492.5 L705.1,493.0 L704.7,493.4 L704.3,493.8 L703.9,494.2 L703.5,494.7 L703.1,495.1 L702.7,495.5 L702.3,495.9 L701.9,496.3 L701.5,496.7 L701.1,497.1 L700.6,497.5 L700.2,497.9 L699.8,498.3 L699.4,498.7 L698.9,499.1 L698.5,499.5 L698.1,499.9 L697.6,500.3 L697.2,500.6 L696.7,501.0 L696.3,501.4 L695.8,501.8 L695.4,502.2 L694.9,502.5 L694.4,502.9 L694.0,503.3 L693.5,503.6 L693.0,504.0 L692.6,504.4 L692.1,504.7 L691.6,505.1 L691.1,505.4 L690.6,505.8 L690.1,506.1 L689.6,506.5 L689.2,506.8 L688.7,507.2 L688.1,507.5 L687.6,507.9 L687.1,508.2 L686.6,508.5 L686.1,508.9 L685.5,509.2 L685.0,509.5 L684.5,509.9 L683.9,510.2 L683.4,510.5 L682.9,510.9 L682.3,511.2 L681.8,511.5 L681.3,511.9 L680.7,512.2 L680.2,512.5 L679.7,512.8 L679.1,513.1 L678.6,513.4 L678.0,513.7 L677.5,514.1 L676.9,514.4 L676.4,514.7 L675.9,515.0 L675.3,515.3 L674.8,515.6 L674.2,515.9 L673.7,516.2 L673.2,516.5 L672.6,516.8 L672.1,517.1 L671.6,517.4 L671.1,517.7 L670.6,518.0 L670.1,518.3 L669.6,518.6 L669.1,518.9 L668.6,519.1 L668.1,519.4 L667.6,519.7 L667.1,520.0 L666.6,520.3 L666.2,520.6 L665.7,520.8 L665.2,521.1 L664.7,521.4 L664.3,521.6 L663.8,521.9 L663.3,522.2 L662.9,522.5 L662.4,522.7 L662.0,523.0 L661.5,523.2 L661.1,523.5 L660.6,523.8 L660.2,524.0 L659.8,524.3 L659.3,524.5 L658.9,524.8 L658.5,525.0 L658.0,525.3 L657.6,525.5 L657.1,525.8 L656.7,526.0 L656.3,526.2 L655.9,526.5 L655.4,526.7 L655.0,527.0 L654.6,527.2 L654.2,527.4 L653.8,527.6 L653.3,527.9 L652.9,528.1 L652.5,528.3 L652.1,528.6 L651.7,528.8 L651.2,529.0 L650.8,529.2 L650.4,529.4 L650.0,529.7 L649.5,529.9 L649.1,530.1 L648.7,530.3 L648.3,530.5 L647.9,530.7 L647.4,530.9 L647.0,531.1 L646.6,531.4 L646.2,531.6 L645.7,531.8 L645.3,532.0 L644.9,532.2 L644.4,532.4 L644.0,532.6 L643.5,532.8 L643.1,533.0 L642.6,533.2 L642.2,533.4 L641.8,533.6 L641.3,533.7 L640.8,533.9 L640.4,534.1 L639.9,534.3 L639.5,534.5 L639.0,534.7 L638.5,534.9 L638.1,535.1 L637.6,535.2 L637.1,535.4 L636.6,535.6 L636.1,535.8 L635.6,536.0 L635.1,536.1 L634.6,536.3 L634.1,536.5 L633.6,536.7 L633.1,536.8 L632.6,537.0 L632.1,537.2 L631.5,537.4 L631.0,537.5 L630.5,537.7 L629.9,537.9 L629.4,538.0 L628.8,538.2 L628.3,538.4 L627.7,538.5 L627.2,538.7 L626.6,538.9 L626.0,539.0 L625.5,539.2 L624.9,539.4 L624.3,539.5 L623.7,539.7 L623.1,539.8 L622.6,540.0 L622.0,540.1 L621.4,540.3 L620.8,540.5 L620.2,540.6 L619.6,540.8 L619.0,540.9 L618.4,541.1 L617.8,541.2 L617.2,541.4 L616.6,541.5 L616.0,541.7 L615.4,541.8 L614.8,542.0 L614.2,542.1 L613.6,542.3 L613.0,542.4 L612.4,542.6 L611.8,542.7 L611.2,542.8 L610.6,543.0 L610.0,543.1 L609.4,543.3 L608.8,543.4 L608.2,543.5 L607.6,543.7 L607.0,543.8 L606.4,543.9 L605.8,544.1 L605.2,544.2 L604.6,544.3 L604.0,544.5 L603.4,544.6 L602.8,544.7 L602.2,544.9 L601.6,545.0 L601.0,545.1 L600.4,545.3 L599.8,545.4 L599.1,545.5 L598.5,545.6 L597.9,545.8 L597.3,545.9 L596.6,546.0 L596.0,546.1 L595.4,546.3 L594.8,546.4 L594.1,546.5 L593.5,546.6 L592.8,546.7 L592.2,546.8 L591.5,547.0 L590.9,547.1 L590.2,547.2 L589.5,547.3 L588.9,547.4 L588.2,547.5 L587.5,547.7 L586.8,547.8 L586.1,547.9 L585.4,548.0 L584.7,548.1 L584.0,548.2 L583.3,548.3 L582.5,548.4 L581.8,548.5 L581.1,548.6 L580.3,548.8 L579.6,548.9 L578.8,549.0 L578.0,549.1 L577.2,549.2 L576.5,549.3 L575.7,549.4 L574.9,549.5 L574.0,549.6 L573.2,549.7 L572.4,549.8 L571.6,549.9 L570.7,550.0 L569.9,550.1 L569.0,550.2 L568.1,550.3 L567.3,550.4 L566.4,550.5 L565.5,550.6 L564.6,550.7 L563.6,550.8 L562.7,550.9 L561.7,551.0 L560.8,551.1 L559.8,551.2 L558.8,551.4 L557.8,551.5 L556.8,551.6 L555.8,551.7 L554.8,551.8 L553.8,551.9 L552.8,552.0 L551.8,552.1 L550.9,552.2 L549.9,552.3 L549.0,552.4 L548.0,552.5 L547.1,552.6 L546.2,552.7 L545.2,552.9 L544.3,553.0 L543.4,553.1 L542.4,553.2 L541.5,553.3 L540.6,553.4 L539.7,553.5 L538.9,553.6 L538.0,553.7 L537.2,553.8 L536.3,553.9 L535.5,554.0 L534.8,554.0 L534.0,554.1 L533.3,554.2 L532.6,554.3 L531.9,554.4 L531.2,554.5 L530.5,554.6 L529.8,554.7 L529.2,554.7 L528.6,554.8 L527.9,554.9 L527.3,555.0 L526.7,555.1 L526.1,555.2 L525.5,555.2 L525.0,555.3 L524.4,555.4 L523.8,555.5 L523.3,555.6 L522.8,555.7 L522.3,555.7 L521.8,555.8 L521.3,555.9 L520.8,556.0 L520.3,556.1 L519.9,556.1 L519.4,556.2 L519.0,556.3 L518.5,556.4 L518.1,556.4 L517.7,556.5 L517.2,556.6 L516.8,556.7 L516.4,556.7 L516.0,556.8 L515.6,556.9 L515.2,557.0 L514.8,557.0 L514.4,557.1 L514.1,557.2 L513.7,557.3 L513.3,557.3 L513.0,557.4 L512.6,557.5 L512.3,557.5 L511.9,557.6 L511.6,557.7 L511.2,557.7 L510.9,557.8 L510.5,557.9 L510.2,558.0 L509.8,558.0 L509.5,558.1 L509.1,558.2 L508.8,558.2 L508.5,558.3 L508.1,558.4 L507.8,558.4 L507.5,558.5 L507.1,558.5 L506.8,558.6 L506.4,558.7 L506.1,558.7 L505.7,558.8 L505.4,558.9 L505.0,558.9 L504.6,559.0 L504.3,559.0 L503.9,559.1 L503.5,559.2 L503.1,559.2 L502.8,559.3 L502.4,559.4 L502.0,559.4 L501.6,559.5 L501.2,559.5 L500.8,559.6 L500.4,559.6 L500.0,559.7 L499.5,559.8 L499.1,559.8 L498.6,559.9 L498.2,559.9 L497.7,560.0 L497.2,560.1 L496.8,560.1 L496.3,560.2 L495.8,560.2 L495.3,560.3 L494.8,560.3 L494.3,560.4 L493.8,560.5 L493.2,560.5 L492.7,560.6 L492.2,560.6 L491.6,560.7 L491.1,560.7 L490.5,560.8 L489.9,560.8 L489.4,560.9 L488.8,561.0 L488.2,561.0 L487.6,561.1 L487.0,561.1 L486.4,561.2 L485.8,561.2 L485.2,561.3 L484.5,561.3 L483.9,561.4 L483.3,561.4 L482.6,561.5 L482.0,561.5 L481.3,561.6 L480.6,561.6 L480.0,561.7 L479.3,561.7 L478.6,561.8 L477.9,561.8 L477.2,561.9 L476.5,561.9 L475.8,562.0 L475.1,562.0 L474.4,562.1 L473.7,562.1 L473.0,562.2 L472.3,562.2 L471.5,562.3 L470.8,562.3 L470.0,562.4 L469.3,562.4 L468.5,562.5 L467.8,562.5 L467.0,562.6 L466.3,562.6 L465.5,562.7 L464.7,562.7 L463.9,562.8 L463.1,562.8 L462.3,562.8 L461.5,562.9 L460.7,562.9 L459.9,563.0 L459.1,563.0 L458.3,563.1 L457.5,563.1 L456.7,563.2 L455.9,563.2 L455.0,563.2 L454.2,563.3 L453.4,563.3 L452.5,563.4 L451.7,563.4 L450.8,563.5 L450.0,563.5 L449.1,563.5 L448.3,563.6 L447.4,563.6 L446.5,563.7 L445.7,563.7 L444.8,563.8 L443.9,563.8 L443.0,563.8 L442.2,563.9 L441.3,563.9 L440.4,564.0 L439.5,564.0 L438.6,564.0 L437.7,564.1 L436.8,564.1 L435.9,564.1 L435.0,564.2 L434.1,564.2 L433.2,564.3 L432.2,564.3 L431.3,564.3 L430.4,564.4 L429.5,564.4 L428.6,564.5 L427.6,564.5 L426.7,564.5 L425.8,564.6 L424.8,564.6 L423.9,564.6 L423.0,564.7 L422.0,564.7 L421.1,564.7 L420.1,564.8 L419.2,564.8 L418.2,564.9 L417.3,564.9 L416.3,564.9 L415.4,565.0 L414.4,565.0 L413.4,565.0 L412.3,565.1 L411.2,565.1 L410.1,565.1 L409.0,565.2 L407.8,565.2 L406.7,565.3 L405.7,565.3 L404.6,565.3 L403.7,565.4 L402.8,565.4 L401.9,565.4 L401.2,565.5 L400.5,565.5 L400.0,565.5Z" fill="#55a4ec" stroke="#55a4ec" stroke-width="0.6" stroke-linejoin="round"/>
<polyline points="400.0,566.5 400.5,566.5 401.2,566.5 401.9,566.5 402.8,566.4 403.7,566.4 404.7,566.4 405.7,566.4 406.8,566.3 407.9,566.3 409.0,566.3 410.1,566.2 411.2,566.2 412.3,566.2 413.4,566.2 414.4,566.1 415.4,566.1 416.4,566.1 417.3,566.1 418.3,566.0 419.2,566.0 420.2,566.0 421.1,565.9 422.1,565.9 423.0,565.9 423.9,565.9 424.9,565.8 425.8,565.8 426.7,565.8 427.7,565.8 428.6,565.7 429.5,565.7 430.4,565.7 431.4,565.6 432.3,565.6 433.2,565.6 434.1,565.6 435.0,565.5 435.9,565.5 436.8,565.5 437.7,565.4 438.6,565.4 439.5,565.4 440.4,565.3 441.3,565.3 442.2,565.3 443.1,565.3 444.0,565.2 444.8,565.2 445.7,565.2 446.6,565.1 447.4,565.1 448.3,565.1 449.2,565.0 450.0,565.0 450.9,565.0 451.7,564.9 452.6,564.9 453.4,564.9 454.3,564.8 455.1,564.8 455.9,564.8 456.8,564.7 457.6,564.7 458.4,564.7 459.2,564.6 460.0,564.6 460.8,564.6 461.6,564.5 462.4,564.5 463.2,564.5 464.0,564.4 464.8,564.4 465.6,564.4 466.3,564.3 467.1,564.3 467.9,564.2 468.6,564.2 469.4,564.2 470.1,564.1 470.9,564.1 471.6,564.1 472.3,564.0 473.1,564.0" fill="none" stroke="#78b4ee" stroke-width="2.6" stroke-linejoin="round"/>
<polyline points="763.9,300.7 764.1,299.1 764.2,297.5 764.4,295.9 764.6,294.3 764.8,292.6 765.0,291.0 765.2,289.3 765.4,287.7 765.6,286.0 765.8,284.3 765.9,282.6 766.1,280.9 766.3,279.2 766.5,277.5 766.7,275.8 766.9,274.0 767.1,272.3 767.3,270.5 767.4,268.7 767.6,267.0 767.8,265.2 768.0,263.4 768.2,261.5 768.4,259.7 768.6,257.9 768.8,256.0 769.0,254.2 769.1,252.3 769.3,250.4 769.5,248.5 769.7,246.6 769.9,244.7 770.1,242.8 770.3,240.9 770.5,238.9 770.6,237.0 770.8,235.0 771.0,233.0 771.2,231.0 771.4,229.0 771.6,227.0 771.8,225.0 772.0,222.9 772.2,220.9 772.3,218.8 772.5,216.7 772.7,214.6 772.9,212.5 773.1,210.4 773.3,208.3 773.5,206.2 773.7,204.0 773.9,201.8 774.0,199.6 774.2,197.4 774.4,195.0 774.6,192.7 774.8,190.3 775.0,187.9 775.2,185.5 775.4,183.1 775.6,180.8 775.8,178.4 776.0,176.1 776.2,173.8 776.4,171.6 776.5,169.4 776.7,167.4 776.9,165.4 777.1,163.5 777.2,161.6 777.4,159.8 777.6,158.1 777.8,156.3 777.9,154.7 778.1,153.0 778.2,151.4 778.4,149.9 778.6,148.4 778.7,146.9 778.9,145.4 779.0,144.0 779.1,142.6 779.3,141.3 779.4,140.0 779.5,138.7 779.6,137.6 779.7,136.4 779.9,135.4 780.0,134.4 780.0,133.4 780.1,132.5 780.2,131.5 780.3,130.6 780.4,129.7 780.5,128.8 780.6,127.9 780.7,127.0 780.8,126.0 780.9,125.0 781.0,124.0 781.1,122.9 781.2,121.9 781.3,120.8 781.4,119.8" fill="none" stroke="#78b4ee" stroke-width="2.6" stroke-linejoin="round"/>
<polyline points="789.7,100.8 789.8,102.2 789.9,103.5 789.9,104.8 790.0,106.0 790.1,107.2 790.1,108.4 790.2,109.5 790.2,110.7 790.2,111.8 790.2,113.0 790.3,114.1 790.3,115.2 790.3,116.4 790.3,117.5 790.4,118.6 790.4,119.7 790.4,120.8 790.5,121.9 790.5,122.9 790.6,124.0 790.7,124.9 790.8,125.7 790.8,126.3 790.9,126.8 791.0,127.2 791.1,127.6 791.3,128.0 791.4,128.4 791.5,129.0 791.6,129.8 791.7,130.7 791.8,131.9 791.9,133.4 792.0,135.2 792.1,137.4 792.2,140.0 792.3,143.1 792.4,146.8 792.5,150.8 792.5,155.3 792.6,160.1 792.7,165.1 792.8,170.3 792.9,175.7 792.9,181.1 793.0,186.5 793.1,191.8 793.1,197.0 793.2,202.0 793.3,206.7 793.3,211.0 793.4,215.0 793.5,218.6 793.5,222.1 793.6,225.3 793.6,228.4 793.7,231.3 793.7,234.1 793.8,236.8 793.8,239.4 793.9,241.9 793.9,244.4 794.0,246.9 794.0,249.5 794.1,252.0 794.1,254.6 794.2,257.2 794.2,260.0 794.2,262.8 794.3,265.6 794.3,268.4 794.3,271.2 794.3,274.1 794.4,276.9 794.4,279.7 794.4,282.5 794.4,285.3 794.4,288.1 794.5,290.9 794.5,293.8 794.5,296.6 794.6,299.4 794.6,302.2 794.7,305.0 794.8,307.8 794.9,310.6 795.0,313.4 795.1,316.2 795.2,319.0 795.3,321.7 795.4,324.5 795.5,327.3 795.7,330.1 795.8,332.9 795.9,335.7 796.0,338.5 796.2,341.4 796.3,344.2 796.4,347.1 796.5,350.0 796.6,352.9 796.7,355.6 796.8,358.3 796.9,361.0 797.0,363.6 797.1,366.3 797.2,369.0 797.2,371.7 797.3,374.5 797.4,377.4 797.5,380.4 797.6,383.5 797.7,386.9 797.8,390.4 797.9,394.1 798.0,398.0 798.1,402.2 798.2,406.8 798.4,411.6 798.5,416.6 798.6,421.9 798.7,427.2 798.9,432.7 799.0,438.2 799.1,443.8 799.3,449.4 799.4,454.9 799.5,460.2 799.6,465.5 799.8,470.6 799.9,475.4 800.0,480.0 800.1,484.4 800.2,488.8 800.3,493.1 800.4,497.3 800.5,501.5 800.6,505.6 800.7,509.5 800.8,513.4 800.9,517.2 801.0,520.9 801.1,524.4 801.2,527.8 801.3,531.1 801.3,534.2 801.4,537.2 801.5,540.0 801.6,542.6 801.6,545.1 801.7,547.4 801.8,549.5 801.8,551.5 801.8,553.4 801.9,555.1 801.9,556.7 802.0,558.2 802.0,559.7 802.1,561.0 802.2,562.3 802.2,563.6 802.3,564.7 802.4,565.9 802.5,567.0 802.6,568.1 802.8,569.0 802.9,569.9 803.1,570.6 803.3,571.3 803.4,571.9 803.6,572.5 803.8,572.9 804.0,573.4 804.2,573.7 804.4,574.1 804.5,574.4 804.7,574.7 804.8,575.0 804.9,575.2 805.0,575.5" fill="none" stroke="#78b4ee" stroke-width="2.6" stroke-linejoin="round"/>
<g><path d="M735.9,433.6L742.9,433.6M739.4,430.1L739.4,437.1" stroke="#3d86d8" stroke-width="2" fill="none"/><path d="M739.5,421.1L746.5,421.1M743.0,417.6L743.0,424.6" stroke="#3d86d8" stroke-width="2" fill="none"/><path d="M742.7,408.5L749.7,408.5M746.2,405.0L746.2,412.0" stroke="#3d86d8" stroke-width="2" fill="none"/><path d="M745.5,395.8L752.5,395.8M749.0,392.3L749.0,399.3" stroke="#3d86d8" stroke-width="2" fill="none"/><path d="M748.1,383.0L755.1,383.0M751.6,379.5L751.6,386.5" stroke="#3d86d8" stroke-width="2" fill="none"/><path d="M750.4,370.3L757.4,370.3M753.9,366.8L753.9,373.8" stroke="#3d86d8" stroke-width="2" fill="none"/><path d="M752.6,357.4L759.6,357.4M756.1,353.9L756.1,360.9" stroke="#3d86d8" stroke-width="2" fill="none"/><path d="M754.6,344.6L761.6,344.6M758.1,341.1L758.1,348.1" stroke="#3d86d8" stroke-width="2" fill="none"/><path d="M756.4,331.7L763.4,331.7M759.9,328.2L759.9,335.2" stroke="#3d86d8" stroke-width="2" fill="none"/><path d="M758.1,318.8L765.1,318.8M761.6,315.3L761.6,322.3" stroke="#3d86d8" stroke-width="2" fill="none"/><path d="M759.7,305.9L766.7,305.9M763.2,302.4L763.2,309.4" stroke="#3d86d8" stroke-width="2" fill="none"/><path d="M761.3,293.0L768.3,293.0M764.8,289.5L764.8,296.5" stroke="#3d86d8" stroke-width="2" fill="none"/><path d="M762.7,280.1L769.7,280.1M766.2,276.6L766.2,283.6" stroke="#3d86d8" stroke-width="2" fill="none"/><path d="M764.1,267.2L771.1,267.2M767.6,263.7L767.6,270.7" stroke="#3d86d8" stroke-width="2" fill="none"/><path d="M765.4,254.2L772.4,254.2M768.9,250.7L768.9,257.7" stroke="#3d86d8" stroke-width="2" fill="none"/><path d="M766.7,241.3L773.7,241.3M770.2,237.8L770.2,244.8" stroke="#3d86d8" stroke-width="2" fill="none"/><path d="M768.0,228.4L775.0,228.4M771.5,224.9L771.5,231.9" stroke="#3d86d8" stroke-width="2" fill="none"/><path d="M769.1,215.4L776.1,215.4M772.6,211.9L772.6,218.9" stroke="#3d86d8" stroke-width="2" fill="none"/><path d="M770.3,202.5L777.3,202.5M773.8,199.0L773.8,206.0" stroke="#3d86d8" stroke-width="2" fill="none"/><path d="M771.4,189.5L778.4,189.5M774.9,186.0L774.9,193.0" stroke="#3d86d8" stroke-width="2" fill="none"/><path d="M772.4,176.6L779.4,176.6M775.9,173.1L775.9,180.1" stroke="#3d86d8" stroke-width="2" fill="none"/><path d="M773.6,163.6L780.6,163.6M777.1,160.1L777.1,167.1" stroke="#3d86d8" stroke-width="2" fill="none"/><path d="M774.8,150.7L781.8,150.7M778.3,147.2L778.3,154.2" stroke="#3d86d8" stroke-width="2" fill="none"/><path d="M776.1,137.7L783.1,137.7M779.6,134.2L779.6,141.2" stroke="#3d86d8" stroke-width="2" fill="none"/><path d="M777.4,124.8L784.4,124.8M780.9,121.3L780.9,128.3" stroke="#3d86d8" stroke-width="2" fill="none"/><path d="M778.8,111.9L785.8,111.9M782.3,108.4L782.3,115.4" stroke="#3d86d8" stroke-width="2" fill="none"/><path d="M780.3,99.0L787.3,99.0M783.8,95.5L783.8,102.5" stroke="#3d86d8" stroke-width="2" fill="none"/><path d="M781.7,86.0L788.7,86.0M785.2,82.5L785.2,89.5" stroke="#3d86d8" stroke-width="2" fill="none"/><path d="M786.1,98.9L793.1,98.9M789.6,95.4L789.6,102.4" stroke="#3d86d8" stroke-width="2" fill="none"/><path d="M787.2,124.9L794.2,124.9M790.7,121.4L790.7,128.4" stroke="#3d86d8" stroke-width="2" fill="none"/><path d="M789.0,150.8L796.0,150.8M792.5,147.3L792.5,154.3" stroke="#3d86d8" stroke-width="2" fill="none"/><path d="M789.4,176.8L796.4,176.8M792.9,173.3L792.9,180.3" stroke="#3d86d8" stroke-width="2" fill="none"/><path d="M789.7,202.8L796.7,202.8M793.2,199.3L793.2,206.3" stroke="#3d86d8" stroke-width="2" fill="none"/><path d="M790.1,228.8L797.1,228.8M793.6,225.3L793.6,232.3" stroke="#3d86d8" stroke-width="2" fill="none"/><path d="M790.6,254.8L797.6,254.8M794.1,251.3L794.1,258.3" stroke="#3d86d8" stroke-width="2" fill="none"/><path d="M790.9,280.8L797.9,280.8M794.4,277.3L794.4,284.3" stroke="#3d86d8" stroke-width="2" fill="none"/><path d="M791.2,306.8L798.2,306.8M794.7,303.3L794.7,310.3" stroke="#3d86d8" stroke-width="2" fill="none"/><path d="M792.3,332.8L799.3,332.8M795.8,329.3L795.8,336.3" stroke="#3d86d8" stroke-width="2" fill="none"/><path d="M793.3,358.7L800.3,358.7M796.8,355.2L796.8,362.2" stroke="#3d86d8" stroke-width="2" fill="none"/><path d="M794.1,384.7L801.1,384.7M797.6,381.2L797.6,388.2" stroke="#3d86d8" stroke-width="2" fill="none"/><path d="M794.8,410.7L801.8,410.7M798.3,407.2L798.3,414.2" stroke="#3d86d8" stroke-width="2" fill="none"/><path d="M795.5,436.7L802.5,436.7M799.0,433.2L799.0,440.2" stroke="#3d86d8" stroke-width="2" fill="none"/><path d="M796.1,462.7L803.1,462.7M799.6,459.2L799.6,466.2" stroke="#3d86d8" stroke-width="2" fill="none"/><path d="M796.7,488.7L803.7,488.7M800.2,485.2L800.2,492.2" stroke="#3d86d8" stroke-width="2" fill="none"/><path d="M797.3,514.7L804.3,514.7M800.8,511.2L800.8,518.2" stroke="#3d86d8" stroke-width="2" fill="none"/><path d="M798.0,540.7L805.0,540.7M801.5,537.2L801.5,544.2" stroke="#3d86d8" stroke-width="2" fill="none"/><path d="M799.0,566.7L806.0,566.7M802.5,563.2L802.5,570.2" stroke="#3d86d8" stroke-width="2" fill="none"/></g>
<polyline points="846.0,579.5 1062.0,580.0" fill="none" stroke="#cf2858" stroke-width="5.0"/>
<path d="M400.0,569.0 L400.3,569.0 L400.7,569.0 L401.1,569.0 L401.6,569.0 L402.1,569.0 L402.6,569.0 L403.2,568.9 L403.8,568.9 L404.4,568.9 L405.0,568.9 L405.7,568.9 L406.3,568.9 L406.9,568.9 L407.6,568.9 L408.2,568.8 L408.8,568.8 L409.4,568.8 L410.0,568.8 L410.7,568.8 L411.3,568.8 L411.9,568.8 L412.6,568.8 L413.2,568.8 L413.9,568.7 L414.5,568.7 L415.2,568.7 L415.9,568.7 L416.5,568.7 L417.2,568.7 L417.9,568.7 L418.6,568.7 L419.3,568.6 L420.0,568.6 L420.7,568.6 L421.4,568.6 L422.1,568.6 L422.8,568.6 L423.6,568.6 L424.3,568.5 L425.0,568.5 L425.8,568.5 L426.5,568.5 L427.3,568.5 L428.0,568.5 L428.8,568.5 L429.5,568.4 L430.3,568.4 L431.0,568.4 L431.8,568.4 L432.6,568.4 L433.4,568.4 L434.1,568.3 L434.9,568.3 L435.7,568.3 L436.5,568.3 L437.3,568.3 L438.1,568.3 L438.9,568.2 L439.7,568.2 L440.5,568.2 L441.3,568.2 L442.1,568.2 L442.9,568.2 L443.7,568.1 L444.6,568.1 L445.4,568.1 L446.2,568.1 L447.0,568.1 L447.8,568.1 L448.7,568.0 L449.5,568.0 L450.3,568.0 L451.2,568.0 L452.0,568.0 L452.8,567.9 L453.7,567.9 L454.5,567.9 L455.3,567.9 L456.2,567.9 L457.0,567.8 L457.8,567.8 L458.7,567.8 L459.5,567.8 L460.4,567.8 L461.2,567.7 L462.0,567.7 L462.9,567.7 L463.7,567.7 L464.6,567.7 L465.4,567.6 L466.3,567.6 L467.1,567.6 L467.9,567.6 L468.8,567.5 L469.6,567.5 L470.5,567.5 L471.3,567.5 L472.1,567.5 L473.0,567.4 L473.8,567.4 L474.6,567.4 L475.5,567.4 L476.3,567.3 L477.1,567.3 L478.0,567.3 L478.8,567.3 L479.6,567.2 L480.4,567.2 L481.3,567.2 L482.1,567.2 L482.9,567.1 L483.7,567.1 L484.5,567.1 L485.3,567.1 L486.2,567.0 L487.0,567.0 L487.8,567.0 L488.6,566.9 L489.4,566.9 L490.2,566.9 L491.0,566.9 L491.8,566.8 L492.5,566.8 L493.3,566.8 L494.1,566.7 L494.9,566.7 L495.7,566.7 L496.4,566.7 L497.2,566.6 L498.0,566.6 L498.7,566.6 L499.5,566.5 L500.2,566.5 L501.0,566.5 L501.7,566.4 L502.5,566.4 L503.2,566.4 L503.9,566.4 L504.7,566.3 L505.4,566.3 L506.1,566.3 L506.8,566.2 L507.5,566.2 L508.3,566.2 L509.0,566.1 L509.7,566.1 L510.4,566.0 L511.1,566.0 L511.8,566.0 L512.5,565.9 L513.1,565.9 L513.8,565.9 L514.5,565.8 L515.2,565.8 L515.9,565.8 L516.5,565.7 L517.2,565.7 L517.9,565.7 L518.6,565.6 L519.2,565.6 L519.9,565.5 L520.6,565.5 L521.2,565.5 L521.9,565.4 L522.5,565.4 L523.2,565.3 L523.8,565.3 L524.5,565.3 L525.1,565.2 L525.8,565.2 L526.4,565.1 L527.1,565.1 L527.7,565.0 L528.4,565.0 L529.0,565.0 L529.7,564.9 L530.3,564.9 L531.0,564.8 L531.6,564.8 L532.2,564.7 L532.9,564.7 L533.5,564.6 L534.1,564.6 L534.8,564.6 L535.4,564.5 L536.0,564.5 L536.7,564.4 L537.3,564.4 L538.0,564.3 L538.6,564.3 L539.2,564.2 L539.9,564.2 L540.5,564.1 L541.1,564.1 L541.8,564.0 L542.4,564.0 L543.1,563.9 L543.7,563.9 L544.3,563.8 L545.0,563.7 L545.6,563.7 L546.2,563.6 L546.9,563.6 L547.5,563.5 L548.2,563.5 L548.8,563.4 L549.5,563.4 L550.1,563.3 L550.8,563.2 L551.4,563.2 L552.1,563.1 L552.7,563.1 L553.4,563.0 L554.1,562.9 L554.7,562.9 L555.4,562.8 L556.0,562.8 L556.7,562.7 L557.4,562.6 L558.0,562.6 L558.7,562.5 L559.4,562.4 L560.1,562.4 L560.7,562.3 L561.4,562.3 L562.1,562.2 L562.8,562.1 L563.5,562.0 L564.2,562.0 L564.9,561.9 L565.6,561.8 L566.3,561.7 L567.0,561.7 L567.7,561.6 L568.4,561.5 L569.1,561.4 L569.9,561.4 L570.6,561.3 L571.3,561.2 L572.0,561.1 L572.7,561.1 L573.4,561.0 L574.2,560.9 L574.9,560.8 L575.6,560.7 L576.4,560.7 L577.1,560.6 L577.8,560.5 L578.6,560.4 L579.3,560.3 L580.1,560.2 L580.8,560.2 L581.5,560.1 L582.3,560.0 L583.0,559.9 L583.8,559.8 L584.5,559.7 L585.2,559.6 L586.0,559.5 L586.7,559.4 L587.5,559.4 L588.2,559.3 L589.0,559.2 L589.7,559.1 L590.5,559.0 L591.2,558.9 L592.0,558.8 L592.7,558.7 L593.4,558.6 L594.2,558.5 L594.9,558.4 L595.7,558.3 L596.4,558.2 L597.1,558.1 L597.9,558.0 L598.6,557.9 L599.4,557.8 L600.1,557.7 L600.8,557.6 L601.6,557.5 L602.3,557.4 L603.0,557.3 L603.8,557.2 L604.5,557.1 L605.2,557.0 L605.9,556.9 L606.7,556.8 L607.4,556.6 L608.1,556.5 L608.8,556.4 L609.5,556.3 L610.2,556.2 L610.9,556.1 L611.6,556.0 L612.4,555.9 L613.1,555.7 L613.8,555.6 L614.5,555.5 L615.1,555.4 L615.8,555.3 L616.5,555.2 L617.2,555.0 L617.9,554.9 L618.5,554.8 L619.2,554.7 L619.9,554.6 L620.5,554.4 L621.2,554.3 L621.8,554.2 L622.5,554.1 L623.1,553.9 L623.8,553.8 L624.4,553.7 L625.1,553.5 L625.7,553.4 L626.3,553.3 L626.9,553.1 L627.6,553.0 L628.2,552.9 L628.8,552.7 L629.4,552.6 L629.9,552.5 L630.5,552.3 L631.1,552.2 L631.7,552.0 L632.2,551.9 L632.8,551.8 L633.4,551.6 L633.9,551.5 L634.4,551.3 L635.0,551.2 L635.5,551.0 L636.1,550.9 L636.6,550.7 L637.1,550.6 L637.6,550.4 L638.1,550.3 L638.6,550.1 L639.1,550.0 L639.6,549.8 L640.1,549.6 L640.6,549.5 L641.0,549.3 L641.5,549.2 L642.0,549.0 L642.4,548.8 L642.9,548.7 L643.3,548.5 L643.8,548.3 L644.2,548.2 L644.6,548.0 L645.1,547.8 L645.5,547.7 L646.0,547.5 L646.4,547.3 L646.8,547.1 L647.3,547.0 L647.7,546.8 L648.1,546.6 L648.5,546.4 L649.0,546.3 L649.4,546.1 L649.8,545.9 L650.2,545.7 L650.6,545.5 L651.0,545.4 L651.4,545.2 L651.9,545.0 L652.3,544.8 L652.7,544.6 L653.1,544.4 L653.6,544.2 L654.0,544.0 L654.4,543.8 L654.8,543.7 L655.2,543.5 L655.7,543.3 L656.1,543.1 L656.5,542.9 L656.9,542.7 L657.4,542.5 L657.8,542.3 L658.2,542.1 L658.7,541.9 L659.1,541.7 L659.6,541.5 L660.0,541.3 L660.5,541.0 L661.0,540.8 L661.4,540.6 L661.9,540.4 L662.4,540.2 L662.9,540.0 L663.3,539.8 L663.8,539.6 L664.3,539.3 L664.8,539.1 L665.3,538.9 L665.8,538.7 L666.4,538.5 L666.9,538.2 L667.4,538.0 L668.0,537.8 L668.6,537.5 L669.1,537.3 L669.7,537.1 L670.3,536.8 L670.9,536.6 L671.5,536.4 L672.1,536.1 L672.7,535.9 L673.3,535.6 L673.9,535.4 L674.5,535.1 L675.2,534.9 L675.8,534.6 L676.4,534.4 L677.0,534.1 L677.7,533.9 L678.3,533.6 L679.0,533.4 L679.7,533.1 L680.3,532.8 L681.0,532.6 L681.7,532.3 L682.4,532.0 L683.1,531.8 L683.8,531.5 L684.5,531.2 L685.1,530.9 L685.8,530.7 L686.5,530.4 L687.2,530.1 L687.9,529.8 L688.5,529.5 L689.2,529.2 L689.9,528.9 L690.6,528.6 L691.2,528.4 L691.9,528.1 L692.6,527.8 L693.3,527.5 L693.9,527.1 L694.6,526.8 L695.3,526.5 L696.0,526.2 L696.6,525.9 L697.3,525.6 L698.0,525.3 L698.6,525.0 L699.3,524.6 L699.9,524.3 L700.6,524.0 L701.2,523.7 L701.9,523.3 L702.6,523.0 L703.2,522.7 L703.9,522.3 L704.5,522.0 L705.2,521.7 L705.8,521.3 L706.4,521.0 L707.1,520.6 L707.7,520.3 L708.4,519.9 L709.0,519.6 L709.6,519.2 L710.3,518.8 L710.9,518.5 L711.5,518.1 L712.1,517.8 L712.8,517.4 L713.4,517.0 L714.0,516.6 L714.6,516.3 L715.2,515.9 L715.8,515.5 L716.4,515.1 L717.0,514.7 L717.6,514.3 L718.2,513.9 L718.8,513.5 L719.4,513.1 L720.0,512.7 L720.6,512.3 L721.2,511.9 L721.8,511.5 L722.3,511.1 L722.9,510.7 L723.5,510.3 L724.1,509.9 L724.6,509.4 L725.2,509.0 L725.8,508.6 L726.3,508.1 L726.9,507.7 L727.4,507.3 L728.0,506.8 L728.5,506.4 L729.0,505.9 L729.6,505.5 L730.1,505.0 L730.6,504.6 L731.2,504.1 L731.7,503.6 L732.2,503.2 L732.7,502.7 L733.2,502.2 L733.7,501.8 L734.2,501.3 L734.7,500.8 L735.2,500.3 L735.7,499.8 L736.2,499.3 L736.7,498.8 L737.2,498.3 L737.7,497.8 L738.2,497.3 L738.6,496.8 L739.1,496.3 L739.6,495.8 L740.0,495.3 L740.5,494.8 L741.0,494.2 L741.4,493.7 L741.9,493.2 L742.3,492.7 L742.8,492.1 L743.2,491.6 L743.7,491.0 L744.1,490.5 L744.5,489.9 L745.0,489.4 L745.4,488.8 L745.8,488.3 L746.3,487.7 L746.7,487.1 L747.1,486.6 L747.5,486.0 L748.0,485.4 L748.4,484.8 L748.8,484.2 L749.2,483.6 L749.6,483.1 L750.0,482.5 L750.5,481.9 L750.9,481.2 L751.3,480.6 L751.7,480.0 L752.1,479.4 L752.5,478.8 L752.9,478.2 L753.3,477.5 L753.7,476.9 L754.1,476.3 L754.5,475.6 L754.9,475.0 L755.3,474.3 L755.6,473.7 L756.0,473.0 L756.4,472.4 L756.8,471.7 L757.2,471.0 L757.6,470.4 L758.0,469.7 L758.4,469.0 L758.8,468.3 L759.2,467.6 L759.5,466.9 L759.9,466.2 L760.3,465.5 L760.7,464.8 L761.1,464.1 L761.5,463.4 L761.8,462.7 L762.2,461.9 L762.6,461.2 L763.0,460.5 L763.4,459.7 L763.8,459.0 L764.1,458.3 L764.5,457.5 L764.9,456.7 L765.3,456.0 L765.7,455.2 L766.1,454.4 L766.5,453.7 L766.8,452.9 L767.2,452.1 L767.6,451.3 L768.0,450.5 L768.4,449.7 L768.8,448.9 L769.1,448.0 L769.5,447.2 L769.9,446.4 L770.3,445.6 L770.7,444.7 L771.1,443.9 L771.4,443.0 L771.8,442.2 L772.2,441.3 L772.6,440.5 L773.0,439.6 L773.4,438.7 L773.7,437.8 L774.1,436.9 L774.5,436.0 L774.9,435.1 L775.2,434.2 L775.6,433.3 L776.0,432.4 L776.4,431.5 L776.7,430.5 L777.1,429.6 L777.5,428.7 L777.8,427.7 L778.2,426.8 L778.6,425.8 L779.0,424.8 L779.3,423.9 L779.7,422.9 L780.0,421.9 L780.4,420.9 L780.8,419.9 L781.1,418.9 L781.5,417.9 L781.8,416.8 L782.2,415.8 L782.5,414.8 L782.9,413.7 L783.2,412.7 L783.6,411.6 L783.9,410.6 L784.3,409.5 L784.6,408.4 L785.0,407.3 L785.3,406.2 L785.6,405.1 L786.0,404.0 L786.3,402.9 L786.6,401.8 L787.0,400.7 L787.3,399.5 L787.6,398.4 L788.0,397.3 L788.3,396.1 L788.6,394.9 L788.9,393.8 L789.3,392.6 L789.6,391.4 L789.9,390.2 L790.2,389.0 L790.5,387.8 L790.8,386.6 L791.1,385.3 L791.4,384.1 L791.7,382.9 L792.0,381.6 L792.3,380.4 L792.6,379.1 L792.9,377.8 L793.2,376.5 L793.5,375.3 L793.8,374.0 L794.1,372.6 L794.4,371.3 L794.7,370.0 L794.9,368.7 L795.2,367.3 L795.5,366.0 L795.8,364.6 L796.0,363.2 L796.3,361.9 L796.6,360.5 L796.8,359.1 L797.1,357.7 L797.3,356.3 L797.6,354.9 L797.8,353.4 L798.1,352.0 L798.3,350.5 L798.6,349.1 L798.8,347.6 L799.0,346.1 L799.3,344.6 L799.5,343.1 L799.7,341.6 L800.0,340.1 L800.2,338.6 L800.4,337.0 L800.6,335.5 L800.8,333.9 L801.0,332.4 L801.2,330.8 L801.3,329.2 L801.5,327.6 L801.7,326.0 L801.9,324.4 L802.1,322.7 L802.3,321.1 L802.4,319.4 L802.6,317.8 L802.8,316.1 L803.0,314.4 L803.2,312.7 L803.4,311.0 L803.5,309.3 L803.7,307.6 L803.9,305.8 L804.1,304.1 L804.2,302.3 L804.4,300.6 L804.6,298.8 L804.7,297.0 L804.9,295.2 L805.1,293.4 L805.2,291.5 L805.4,289.7 L805.6,287.8 L805.8,286.0 L805.9,284.1 L806.1,282.2 L806.3,280.3 L806.5,278.4 L806.6,276.5 L806.8,274.5 L807.0,272.6 L807.2,270.6 L807.3,268.6 L807.5,266.6 L807.7,264.6 L807.9,262.6 L808.0,260.6 L808.2,258.5 L808.4,256.5 L808.6,254.4 L808.8,252.3 L809.0,250.2 L809.2,248.1 L809.3,246.0 L809.5,243.9 L809.7,241.7 L809.9,239.5 L810.1,237.4 L810.3,235.2 L810.5,233.0 L810.7,230.7 L810.9,228.5 L811.1,226.2 L811.3,224.0 L811.5,221.7 L811.7,219.4 L811.9,217.1 L812.1,214.7 L812.3,212.4 L812.5,210.0 L812.7,207.7 L812.9,205.3 L813.1,202.9 L813.3,200.4 L813.5,198.0 L813.7,195.6 L814.0,193.1 L814.2,190.6 L814.4,188.1 L814.6,185.6 L814.8,183.0 L815.1,180.5 L815.3,177.9 L815.5,175.3 L815.8,172.6 L816.0,170.0 L816.3,167.3 L816.6,164.6 L816.8,161.9 L817.1,159.2 L817.3,156.5 L817.6,153.7 L817.8,151.0 L818.1,148.3 L818.3,145.5 L818.5,142.8 L818.7,140.1 L818.9,137.3 L819.1,134.5 L819.2,131.6 L819.4,128.6 L819.6,125.7 L819.7,122.7 L819.9,119.7 L820.0,116.8 L820.2,113.9 L820.3,111.1 L820.4,108.3 L820.6,105.6 L820.7,103.0 L820.8,100.6 L821.0,98.2 L821.1,96.1 L821.2,94.0 L821.4,92.1 L821.5,90.3 L821.6,88.6 L821.8,87.0 L821.9,85.5 L822.0,84.0 L822.2,82.7 L822.3,81.3 L822.4,80.1 L822.5,78.8 L822.6,77.7 L822.8,76.5 L822.9,75.4 L823.0,74.2 L823.1,73.1 L823.2,72.0 L823.3,71.0 L823.4,70.1 L823.5,69.3 L823.6,68.5 L823.7,67.7 L823.8,67.0 L823.8,66.3 L823.9,65.6 L824.0,64.9 L824.1,64.2 L824.2,63.5 L824.2,62.7 L824.3,61.9 L824.4,61.0 L824.5,60.1 L824.6,59.1 L824.7,58.0 L824.7,56.9 L824.8,55.8 L824.9,54.7 L825.0,53.5 L825.1,52.3 L825.1,51.1 L825.2,49.9 L825.3,48.7 L825.4,47.6 L825.4,46.4 L825.5,45.3 L825.6,44.2 L825.7,43.1 L825.8,42.1 L825.9,41.1 L826.0,40.1 L826.2,39.1 L826.3,38.1 L826.4,37.1 L826.5,36.1 L826.6,35.2 L826.7,34.3 L826.9,33.4 L827.0,32.5 L827.1,31.7 L827.3,30.9 L827.4,30.2 L827.6,29.5 L827.8,28.9 L827.9,28.4 L828.2,27.9 L828.4,27.4 L828.7,27.0 L828.9,26.5 L829.2,26.1 L829.5,25.7 L829.7,25.4 L830.0,25.2 L830.1,25.1 L830.2,25.1 L830.1,25.3 L829.6,25.5 L828.8,25.4 L828.2,25.1 L827.9,24.9 L827.8,24.8 L828.0,25.1 L828.2,25.6 L828.4,26.3 L828.6,27.2 L828.8,28.2 L828.9,29.3 L829.1,30.5 L829.3,31.7 L829.4,33.0 L829.6,34.4 L829.7,35.7 L829.9,37.0 L830.0,38.4 L830.2,39.7 L830.3,40.9 L830.5,42.1 L830.6,43.2 L830.6,44.3 L830.7,45.5 L830.7,46.6 L830.8,47.8 L830.8,48.9 L830.9,50.1 L830.9,51.2 L831.0,52.4 L831.0,53.5 L831.1,54.6 L831.2,55.8 L831.2,56.9 L831.3,58.0 L831.3,59.0 L831.4,60.1 L831.5,61.1 L831.6,62.1 L831.6,63.0 L831.7,63.9 L831.8,64.7 L831.9,65.6 L832.0,66.5 L832.1,67.3 L832.2,68.2 L832.3,69.0 L832.4,69.9 L832.5,70.9 L832.6,71.8 L832.7,72.8 L832.7,73.9 L832.8,75.1 L832.9,76.2 L832.9,77.4 L833.0,78.6 L833.0,79.8 L833.1,81.0 L833.2,82.2 L833.2,83.5 L833.3,84.8 L833.3,86.2 L833.3,87.7 L833.4,89.2 L833.4,90.8 L833.5,92.4 L833.5,94.2 L833.6,96.0 L833.6,98.0 L833.6,100.1 L833.7,102.2 L833.7,104.5 L833.7,106.8 L833.8,109.1 L833.8,111.6 L833.8,114.1 L833.9,116.7 L833.9,119.4 L833.9,122.1 L834.0,124.9 L834.0,127.8 L834.0,130.8 L834.1,133.8 L834.1,136.9 L834.2,140.0 L834.3,143.2 L834.3,146.6 L834.4,149.9 L834.5,153.4 L834.6,157.0 L834.7,160.6 L834.8,164.2 L834.9,168.0 L835.0,171.8 L835.0,175.7 L835.1,179.6 L835.2,183.6 L835.3,187.6 L835.4,191.7 L835.5,195.8 L835.6,200.0 L835.7,204.3 L835.8,208.9 L835.9,213.6 L835.9,218.5 L836.0,223.4 L836.1,228.5 L836.2,233.5 L836.3,238.6 L836.4,243.6 L836.5,248.6 L836.5,253.4 L836.6,258.1 L836.7,262.6 L836.8,266.9 L836.8,271.0 L836.9,274.7 L837.0,278.2 L837.0,281.5 L837.1,284.6 L837.1,287.6 L837.2,290.4 L837.2,293.0 L837.3,295.6 L837.3,298.0 L837.4,300.3 L837.4,302.5 L837.5,304.7 L837.5,306.8 L837.6,308.9 L837.6,311.0 L837.7,313.0 L837.7,315.0 L837.7,317.0 L837.8,318.7 L837.8,320.4 L837.9,321.9 L837.9,323.3 L838.0,324.7 L838.0,326.0 L838.1,327.2 L838.1,328.5 L838.2,329.9 L838.2,331.3 L838.3,332.7 L838.3,334.3 L838.4,336.1 L838.4,337.9 L838.5,340.0 L838.6,342.2 L838.6,344.3 L838.7,346.5 L838.8,348.7 L838.8,350.9 L838.9,353.2 L839.0,355.5 L839.0,358.0 L839.1,360.7 L839.2,363.5 L839.3,366.5 L839.3,369.6 L839.4,373.1 L839.5,376.7 L839.6,380.7 L839.7,384.9 L839.8,389.6 L839.9,394.9 L840.0,400.6 L840.2,406.7 L840.3,413.2 L840.4,419.8 L840.5,426.6 L840.7,433.5 L840.8,440.4 L841.0,447.1 L841.1,453.7 L841.2,460.0 L841.3,465.9 L841.5,471.5 L841.6,476.5 L841.7,480.9 L841.8,484.8 L841.9,488.3 L842.0,491.5 L842.1,494.3 L842.2,496.8 L842.3,499.1 L842.4,501.2 L842.5,503.1 L842.6,504.8 L842.7,506.5 L842.8,508.1 L842.9,509.6 L843.0,511.2 L843.1,512.8 L843.1,514.5 L843.2,516.3 L843.3,518.2 L843.3,520.0 L843.3,521.7 L843.4,523.4 L843.4,525.0 L843.4,526.6 L843.4,528.2 L843.5,529.7 L843.5,531.2 L843.5,532.8 L843.5,534.3 L843.5,535.8 L843.6,537.3 L843.6,538.8 L843.6,540.4 L843.7,541.9 L843.8,543.6 L843.8,545.2 L843.9,546.9 L843.9,548.7 L844.0,550.4 L844.0,552.2 L844.1,553.9 L844.2,555.6 L844.3,557.3 L844.4,559.0 L844.4,560.6 L844.6,562.1 L844.7,563.6 L844.8,565.0 L844.9,566.3 L845.1,567.5 L845.3,568.7 L845.5,569.7 L845.8,570.7 L846.0,571.6 L846.3,572.5 L846.6,573.3 L846.9,574.0 L847.2,574.7 L847.5,575.3 L847.8,575.9 L848.1,576.4 L848.4,576.9 L848.6,577.3 L848.8,577.7 L848.9,578.1 L849.1,578.4 L850.9,577.6 L850.8,577.3 L850.6,576.8 L850.4,576.4 L850.1,576.0 L849.9,575.5 L849.6,575.0 L849.3,574.5 L849.0,573.9 L848.8,573.2 L848.5,572.6 L848.2,571.8 L847.9,571.0 L847.7,570.2 L847.5,569.3 L847.3,568.3 L847.1,567.3 L846.9,566.1 L846.8,564.8 L846.7,563.5 L846.6,562.0 L846.4,560.5 L846.4,558.9 L846.3,557.2 L846.2,555.5 L846.1,553.8 L846.0,552.1 L846.0,550.3 L845.9,548.6 L845.9,546.9 L845.8,545.2 L845.8,543.5 L845.7,541.9 L845.6,540.3 L845.6,538.7 L845.6,537.2 L845.5,535.7 L845.5,534.2 L845.5,532.7 L845.5,531.2 L845.5,529.7 L845.4,528.2 L845.4,526.6 L845.4,525.0 L845.4,523.4 L845.3,521.7 L845.3,519.9 L845.3,518.1 L845.2,516.3 L845.1,514.4 L845.1,512.7 L845.0,511.1 L844.9,509.5 L844.8,507.9 L844.7,506.3 L844.6,504.7 L844.5,502.9 L844.4,501.1 L844.3,499.0 L844.2,496.7 L844.1,494.2 L844.0,491.4 L843.9,488.3 L843.8,484.8 L843.7,480.9 L843.6,476.4 L843.5,471.4 L843.3,465.9 L843.2,459.9 L843.1,453.6 L843.0,447.1 L842.8,440.3 L842.7,433.5 L842.5,426.6 L842.4,419.8 L842.3,413.1 L842.2,406.7 L842.0,400.6 L841.9,394.8 L841.8,389.6 L841.7,384.9 L841.6,380.6 L841.5,376.7 L841.4,373.0 L841.3,369.6 L841.3,366.4 L841.2,363.4 L841.1,360.6 L841.0,358.0 L841.0,355.5 L840.9,353.1 L840.8,350.8 L840.8,348.6 L840.7,346.4 L840.6,344.3 L840.6,342.1 L840.5,340.0 L840.4,337.9 L840.4,336.0 L840.3,334.3 L840.3,332.7 L840.2,331.2 L840.2,329.8 L840.1,328.5 L840.1,327.2 L840.0,325.9 L840.0,324.6 L839.9,323.2 L839.9,321.8 L839.8,320.3 L839.8,318.7 L839.7,316.9 L839.7,315.0 L839.7,312.9 L839.6,310.9 L839.6,308.9 L839.5,306.8 L839.5,304.7 L839.4,302.5 L839.4,300.3 L839.3,297.9 L839.3,295.5 L839.2,293.0 L839.2,290.3 L839.1,287.5 L839.1,284.6 L839.0,281.5 L839.0,278.2 L838.9,274.7 L838.8,270.9 L838.8,266.9 L838.7,262.6 L838.6,258.1 L838.5,253.4 L838.5,248.5 L838.4,243.6 L838.3,238.6 L838.2,233.5 L838.1,228.4 L838.0,223.4 L837.9,218.4 L837.9,213.6 L837.8,208.9 L837.7,204.3 L837.6,200.0 L837.5,195.8 L837.4,191.7 L837.3,187.6 L837.2,183.5 L837.1,179.5 L837.0,175.6 L837.0,171.7 L836.9,167.9 L836.8,164.2 L836.7,160.5 L836.6,156.9 L836.5,153.4 L836.4,149.9 L836.3,146.5 L836.3,143.2 L836.2,140.0 L836.1,136.8 L836.1,133.7 L836.0,130.7 L836.0,127.8 L836.0,124.9 L835.9,122.1 L835.9,119.3 L835.9,116.7 L835.8,114.1 L835.8,111.6 L835.8,109.1 L835.7,106.7 L835.7,104.4 L835.7,102.2 L835.6,100.1 L835.6,98.0 L835.6,96.0 L835.5,94.1 L835.5,92.4 L835.4,90.7 L835.4,89.1 L835.3,87.6 L835.3,86.2 L835.2,84.8 L835.2,83.4 L835.2,82.2 L835.1,80.9 L835.0,79.7 L835.0,78.5 L834.9,77.3 L834.9,76.1 L834.8,74.9 L834.7,73.8 L834.6,72.7 L834.6,71.7 L834.5,70.7 L834.4,69.7 L834.3,68.8 L834.2,67.9 L834.1,67.1 L834.0,66.2 L833.9,65.4 L833.8,64.5 L833.7,63.7 L833.6,62.8 L833.6,61.9 L833.5,60.9 L833.4,59.9 L833.3,58.9 L833.3,57.8 L833.2,56.8 L833.1,55.7 L833.1,54.5 L833.0,53.4 L833.0,52.3 L832.9,51.1 L832.9,50.0 L832.8,48.8 L832.8,47.7 L832.7,46.5 L832.7,45.4 L832.6,44.2 L832.6,43.1 L832.5,41.9 L832.5,40.8 L832.6,39.5 L832.6,38.3 L832.6,36.9 L832.7,35.6 L832.7,34.2 L832.7,32.9 L832.8,31.5 L832.8,30.2 L832.8,29.0 L832.8,27.8 L832.8,26.7 L832.8,25.7 L832.8,24.8 L832.7,24.0 L832.6,23.2 L832.1,22.4 L831.5,21.7 L830.4,21.1 L829.2,21.0 L828.2,21.3 L827.6,21.8 L827.1,22.3 L826.8,22.8 L826.5,23.3 L826.2,23.9 L826.0,24.4 L825.8,25.0 L825.5,25.7 L825.4,26.3 L825.2,26.9 L825.1,27.6 L824.9,28.2 L824.8,28.9 L824.7,29.7 L824.6,30.5 L824.5,31.3 L824.4,32.2 L824.3,33.1 L824.3,34.0 L824.2,34.9 L824.1,35.9 L824.1,36.9 L824.0,37.9 L824.0,38.9 L823.9,39.9 L823.9,40.9 L823.8,41.9 L823.7,42.9 L823.6,44.0 L823.5,45.1 L823.5,46.3 L823.4,47.4 L823.3,48.6 L823.2,49.8 L823.1,51.0 L823.1,52.2 L823.0,53.4 L822.9,54.5 L822.8,55.7 L822.7,56.8 L822.7,57.9 L822.6,58.9 L822.5,59.9 L822.4,60.8 L822.3,61.7 L822.3,62.5 L822.2,63.3 L822.1,64.0 L822.0,64.7 L821.9,65.4 L821.9,66.1 L821.8,66.8 L821.7,67.5 L821.6,68.3 L821.5,69.1 L821.4,69.9 L821.3,70.8 L821.2,71.8 L821.1,72.9 L821.0,74.0 L820.9,75.2 L820.8,76.3 L820.7,77.5 L820.5,78.6 L820.4,79.9 L820.3,81.1 L820.2,82.5 L820.0,83.9 L819.9,85.3 L819.8,86.8 L819.6,88.5 L819.5,90.2 L819.4,92.0 L819.2,93.9 L819.1,95.9 L819.0,98.1 L818.8,100.4 L818.7,102.9 L818.6,105.5 L818.4,108.2 L818.3,111.0 L818.2,113.8 L818.0,116.7 L817.9,119.6 L817.7,122.6 L817.6,125.6 L817.4,128.5 L817.2,131.5 L817.1,134.3 L816.9,137.2 L816.7,139.9 L816.5,142.6 L816.3,145.4 L816.1,148.1 L815.8,150.8 L815.6,153.6 L815.3,156.3 L815.1,159.0 L814.8,161.7 L814.6,164.4 L814.3,167.1 L814.1,169.8 L813.8,172.4 L813.5,175.1 L813.3,177.7 L813.1,180.3 L812.8,182.9 L812.6,185.4 L812.4,187.9 L812.2,190.4 L812.0,192.9 L811.7,195.4 L811.5,197.8 L811.3,200.3 L811.1,202.7 L810.9,205.1 L810.7,207.5 L810.5,209.9 L810.3,212.2 L810.1,214.6 L809.9,216.9 L809.7,219.2 L809.5,221.5 L809.3,223.8 L809.1,226.1 L808.9,228.3 L808.7,230.6 L808.5,232.8 L808.3,235.0 L808.1,237.2 L807.9,239.4 L807.7,241.5 L807.5,243.7 L807.4,245.8 L807.2,247.9 L807.0,250.1 L806.8,252.1 L806.6,254.2 L806.4,256.3 L806.2,258.4 L806.0,260.4 L805.8,262.4 L805.6,264.5 L805.4,266.5 L805.2,268.4 L805.0,270.4 L804.9,272.4 L804.7,274.3 L804.5,276.3 L804.3,278.2 L804.1,280.1 L803.9,282.0 L803.7,283.9 L803.5,285.7 L803.3,287.6 L803.1,289.5 L802.9,291.3 L802.7,293.1 L802.5,294.9 L802.3,296.7 L802.0,298.5 L801.8,300.3 L801.6,302.1 L801.4,303.8 L801.2,305.5 L801.0,307.3 L800.8,309.0 L800.5,310.7 L800.3,312.4 L800.1,314.1 L799.9,315.7 L799.6,317.4 L799.4,319.1 L799.2,320.7 L798.9,322.3 L798.7,323.9 L798.4,325.6 L798.2,327.1 L797.9,328.7 L797.7,330.3 L797.4,331.9 L797.2,333.4 L796.9,335.0 L796.7,336.5 L796.4,338.0 L796.2,339.5 L795.9,341.0 L795.6,342.5 L795.4,344.0 L795.1,345.5 L794.9,346.9 L794.6,348.4 L794.3,349.8 L794.1,351.3 L793.8,352.7 L793.5,354.1 L793.2,355.5 L793.0,356.9 L792.7,358.3 L792.4,359.7 L792.1,361.0 L791.8,362.4 L791.5,363.7 L791.2,365.1 L790.9,366.4 L790.6,367.7 L790.3,369.1 L790.0,370.4 L789.7,371.7 L789.4,372.9 L789.1,374.2 L788.8,375.5 L788.5,376.8 L788.2,378.0 L787.9,379.3 L787.6,380.5 L787.2,381.7 L786.9,383.0 L786.6,384.2 L786.3,385.4 L785.9,386.6 L785.6,387.8 L785.3,388.9 L784.9,390.1 L784.6,391.3 L784.3,392.4 L783.9,393.6 L783.6,394.7 L783.2,395.9 L782.9,397.0 L782.6,398.1 L782.2,399.2 L781.9,400.3 L781.5,401.4 L781.2,402.5 L780.8,403.6 L780.5,404.7 L780.1,405.8 L779.8,406.8 L779.4,407.9 L779.0,408.9 L778.7,410.0 L778.3,411.0 L778.0,412.0 L777.6,413.1 L777.2,414.1 L776.9,415.1 L776.5,416.1 L776.1,417.1 L775.8,418.1 L775.4,419.0 L775.0,420.0 L774.7,421.0 L774.3,422.0 L773.9,422.9 L773.6,423.9 L773.2,424.8 L772.8,425.7 L772.4,426.7 L772.1,427.6 L771.7,428.5 L771.3,429.4 L770.9,430.3 L770.6,431.2 L770.2,432.1 L769.8,433.0 L769.4,433.9 L769.1,434.8 L768.7,435.7 L768.3,436.5 L767.9,437.4 L767.6,438.3 L767.2,439.1 L766.8,439.9 L766.4,440.8 L766.1,441.6 L765.7,442.4 L765.3,443.3 L764.9,444.1 L764.5,444.9 L764.2,445.7 L763.8,446.5 L763.4,447.3 L763.0,448.1 L762.7,448.9 L762.3,449.7 L761.9,450.5 L761.5,451.2 L761.1,452.0 L760.8,452.8 L760.4,453.5 L760.0,454.3 L759.6,455.0 L759.3,455.7 L758.9,456.5 L758.5,457.2 L758.1,457.9 L757.7,458.7 L757.4,459.4 L757.0,460.1 L756.6,460.8 L756.2,461.5 L755.8,462.2 L755.5,462.9 L755.1,463.6 L754.7,464.3 L754.3,464.9 L754.0,465.6 L753.6,466.3 L753.2,467.0 L752.8,467.6 L752.5,468.3 L752.1,468.9 L751.7,469.6 L751.3,470.2 L750.9,470.9 L750.5,471.5 L750.2,472.1 L749.8,472.7 L749.4,473.4 L749.0,474.0 L748.6,474.6 L748.2,475.2 L747.9,475.8 L747.5,476.4 L747.1,477.0 L746.7,477.6 L746.3,478.2 L745.9,478.8 L745.5,479.3 L745.1,479.9 L744.7,480.5 L744.3,481.1 L743.9,481.6 L743.5,482.2 L743.1,482.7 L742.7,483.3 L742.3,483.8 L741.9,484.4 L741.5,484.9 L741.1,485.5 L740.6,486.0 L740.2,486.5 L739.8,487.0 L739.4,487.6 L739.0,488.1 L738.5,488.6 L738.1,489.1 L737.7,489.6 L737.2,490.1 L736.8,490.6 L736.4,491.1 L735.9,491.6 L735.5,492.1 L735.0,492.6 L734.6,493.1 L734.2,493.6 L733.7,494.0 L733.2,494.5 L732.8,495.0 L732.3,495.5 L731.9,495.9 L731.4,496.4 L730.9,496.9 L730.4,497.3 L730.0,497.8 L729.5,498.2 L729.0,498.7 L728.5,499.1 L728.0,499.5 L727.5,500.0 L727.0,500.4 L726.5,500.9 L726.0,501.3 L725.5,501.7 L725.0,502.1 L724.5,502.6 L724.0,503.0 L723.5,503.4 L722.9,503.8 L722.4,504.2 L721.9,504.6 L721.3,505.0 L720.8,505.4 L720.2,505.8 L719.7,506.2 L719.1,506.6 L718.6,507.0 L718.0,507.4 L717.5,507.8 L716.9,508.2 L716.3,508.6 L715.8,509.0 L715.2,509.4 L714.6,509.7 L714.1,510.1 L713.5,510.5 L712.9,510.8 L712.3,511.2 L711.7,511.6 L711.1,511.9 L710.5,512.3 L709.9,512.7 L709.3,513.0 L708.7,513.4 L708.1,513.7 L707.5,514.1 L706.9,514.4 L706.3,514.8 L705.7,515.1 L705.1,515.5 L704.5,515.8 L703.8,516.1 L703.2,516.5 L702.6,516.8 L702.0,517.1 L701.3,517.5 L700.7,517.8 L700.1,518.1 L699.4,518.4 L698.8,518.7 L698.2,519.1 L697.5,519.4 L696.9,519.7 L696.2,520.0 L695.6,520.3 L694.9,520.6 L694.3,520.9 L693.6,521.2 L693.0,521.5 L692.3,521.8 L691.7,522.1 L691.0,522.4 L690.4,522.7 L689.7,523.0 L689.0,523.3 L688.4,523.6 L687.7,523.9 L687.0,524.2 L686.4,524.5 L685.7,524.7 L685.0,525.0 L684.4,525.3 L683.7,525.6 L683.1,525.9 L682.4,526.1 L681.7,526.4 L681.0,526.7 L680.4,526.9 L679.7,527.2 L679.0,527.5 L678.3,527.7 L677.7,528.0 L677.0,528.2 L676.3,528.5 L675.7,528.8 L675.0,529.0 L674.4,529.3 L673.7,529.5 L673.1,529.8 L672.5,530.0 L671.9,530.3 L671.2,530.5 L670.6,530.8 L670.0,531.0 L669.4,531.3 L668.8,531.5 L668.2,531.7 L667.6,532.0 L667.1,532.2 L666.5,532.5 L665.9,532.7 L665.3,532.9 L664.8,533.2 L664.2,533.4 L663.7,533.6 L663.2,533.9 L662.6,534.1 L662.1,534.3 L661.6,534.5 L661.1,534.7 L660.6,535.0 L660.1,535.2 L659.6,535.4 L659.2,535.6 L658.7,535.8 L658.2,536.0 L657.8,536.2 L657.3,536.5 L656.9,536.7 L656.4,536.9 L656.0,537.1 L655.5,537.3 L655.1,537.5 L654.6,537.7 L654.2,537.9 L653.8,538.1 L653.3,538.3 L652.9,538.5 L652.5,538.7 L652.1,538.9 L651.7,539.0 L651.3,539.2 L650.9,539.4 L650.5,539.6 L650.0,539.8 L649.6,540.0 L649.2,540.1 L648.8,540.3 L648.4,540.5 L648.0,540.7 L647.6,540.9 L647.2,541.0 L646.8,541.2 L646.4,541.4 L646.0,541.6 L645.6,541.7 L645.2,541.9 L644.8,542.1 L644.4,542.2 L644.0,542.4 L643.5,542.5 L643.1,542.7 L642.7,542.9 L642.3,543.0 L641.8,543.2 L641.4,543.3 L641.0,543.5 L640.6,543.7 L640.1,543.8 L639.7,544.0 L639.2,544.1 L638.8,544.3 L638.4,544.4 L637.9,544.6 L637.4,544.7 L637.0,544.9 L636.5,545.0 L636.0,545.2 L635.5,545.3 L635.0,545.4 L634.5,545.6 L634.0,545.7 L633.5,545.9 L633.0,546.0 L632.5,546.2 L632.0,546.3 L631.4,546.4 L630.9,546.6 L630.3,546.7 L629.8,546.8 L629.2,547.0 L628.7,547.1 L628.1,547.2 L627.5,547.4 L627.0,547.5 L626.4,547.6 L625.8,547.8 L625.2,547.9 L624.6,548.0 L624.0,548.2 L623.3,548.3 L622.7,548.4 L622.1,548.5 L621.4,548.7 L620.8,548.8 L620.2,548.9 L619.5,549.0 L618.9,549.1 L618.2,549.3 L617.6,549.4 L616.9,549.5 L616.2,549.6 L615.6,549.7 L614.9,549.9 L614.2,550.0 L613.5,550.1 L612.9,550.2 L612.2,550.3 L611.5,550.4 L610.8,550.5 L610.1,550.7 L609.4,550.8 L608.7,550.9 L608.0,551.0 L607.3,551.1 L606.6,551.2 L605.8,551.3 L605.1,551.4 L604.4,551.5 L603.7,551.6 L603.0,551.7 L602.3,551.8 L601.5,552.0 L600.8,552.1 L600.1,552.2 L599.3,552.3 L598.6,552.4 L597.9,552.5 L597.1,552.6 L596.4,552.7 L595.7,552.8 L594.9,552.9 L594.2,553.0 L593.5,553.1 L592.7,553.1 L592.0,553.2 L591.3,553.3 L590.5,553.4 L589.8,553.5 L589.0,553.6 L588.3,553.7 L587.5,553.8 L586.8,553.9 L586.1,554.0 L585.3,554.1 L584.6,554.2 L583.8,554.3 L583.1,554.3 L582.4,554.4 L581.6,554.5 L580.9,554.6 L580.2,554.7 L579.4,554.8 L578.7,554.9 L578.0,554.9 L577.2,555.0 L576.5,555.1 L575.7,555.2 L575.0,555.3 L574.3,555.4 L573.6,555.4 L572.8,555.5 L572.1,555.6 L571.4,555.7 L570.7,555.8 L570.0,555.8 L569.3,555.9 L568.5,556.0 L567.8,556.1 L567.1,556.2 L566.4,556.2 L565.7,556.3 L565.0,556.4 L564.3,556.5 L563.6,556.5 L562.9,556.6 L562.2,556.7 L561.5,556.8 L560.9,556.8 L560.2,556.9 L559.5,557.0 L558.8,557.1 L558.2,557.1 L557.5,557.2 L556.8,557.3 L556.2,557.4 L555.5,557.4 L554.8,557.5 L554.2,557.6 L553.5,557.7 L552.9,557.7 L552.2,557.8 L551.6,557.9 L550.9,558.0 L550.3,558.0 L549.6,558.1 L549.0,558.2 L548.3,558.2 L547.7,558.3 L547.0,558.4 L546.4,558.5 L545.8,558.5 L545.1,558.6 L544.5,558.7 L543.8,558.7 L543.2,558.8 L542.6,558.9 L541.9,558.9 L541.3,559.0 L540.7,559.1 L540.0,559.1 L539.4,559.2 L538.8,559.3 L538.1,559.3 L537.5,559.4 L536.9,559.4 L536.2,559.5 L535.6,559.6 L535.0,559.6 L534.4,559.7 L533.7,559.8 L533.1,559.8 L532.5,559.9 L531.8,560.0 L531.2,560.0 L530.6,560.1 L529.9,560.1 L529.3,560.2 L528.6,560.3 L528.0,560.3 L527.4,560.4 L526.7,560.4 L526.1,560.5 L525.4,560.6 L524.8,560.6 L524.1,560.7 L523.5,560.7 L522.9,560.8 L522.2,560.8 L521.6,560.9 L520.9,561.0 L520.2,561.0 L519.6,561.1 L518.9,561.1 L518.3,561.2 L517.6,561.2 L516.9,561.3 L516.2,561.3 L515.6,561.4 L514.9,561.5 L514.2,561.5 L513.5,561.6 L512.9,561.6 L512.2,561.7 L511.5,561.7 L510.8,561.8 L510.1,561.8 L509.4,561.9 L508.7,561.9 L508.0,562.0 L507.3,562.0 L506.6,562.1 L505.9,562.1 L505.1,562.2 L504.4,562.2 L503.7,562.3 L503.0,562.3 L502.2,562.4 L501.5,562.4 L500.8,562.5 L500.0,562.5 L499.3,562.6 L498.5,562.6 L497.8,562.7 L497.0,562.7 L496.2,562.8 L495.5,562.8 L494.7,562.8 L493.9,562.9 L493.1,562.9 L492.4,563.0 L491.6,563.0 L490.8,563.1 L490.0,563.1 L489.2,563.2 L488.4,563.2 L487.6,563.2 L486.8,563.3 L486.0,563.3 L485.2,563.4 L484.4,563.4 L483.6,563.5 L482.8,563.5 L481.9,563.5 L481.1,563.6 L480.3,563.6 L479.5,563.7 L478.7,563.7 L477.8,563.7 L477.0,563.8 L476.2,563.8 L475.3,563.9 L474.5,563.9 L473.7,563.9 L472.8,564.0 L472.0,564.0 L471.2,564.1 L470.3,564.1 L469.5,564.1 L468.7,564.2 L467.8,564.2 L467.0,564.3 L466.1,564.3 L465.3,564.3 L464.5,564.4 L463.6,564.4 L462.8,564.4 L461.9,564.5 L461.1,564.5 L460.3,564.6 L459.4,564.6 L458.6,564.6 L457.7,564.7 L456.9,564.7 L456.1,564.7 L455.2,564.8 L454.4,564.8 L453.6,564.8 L452.7,564.9 L451.9,564.9 L451.1,564.9 L450.2,565.0 L449.4,565.0 L448.6,565.0 L447.8,565.1 L446.9,565.1 L446.1,565.1 L445.3,565.2 L444.5,565.2 L443.7,565.2 L442.8,565.3 L442.0,565.3 L441.2,565.3 L440.4,565.4 L439.6,565.4 L438.8,565.4 L438.0,565.5 L437.2,565.5 L436.4,565.5 L435.6,565.6 L434.8,565.6 L434.1,565.6 L433.3,565.6 L432.5,565.7 L431.7,565.7 L431.0,565.7 L430.2,565.8 L429.4,565.8 L428.7,565.8 L427.9,565.9 L427.2,565.9 L426.4,565.9 L425.7,565.9 L425.0,566.0 L424.2,566.0 L423.5,566.0 L422.8,566.1 L422.0,566.1 L421.3,566.1 L420.6,566.1 L419.9,566.2 L419.2,566.2 L418.5,566.2 L417.8,566.2 L417.1,566.3 L416.5,566.3 L415.8,566.3 L415.1,566.4 L414.5,566.4 L413.8,566.4 L413.1,566.4 L412.5,566.5 L411.9,566.5 L411.2,566.5 L410.6,566.5 L410.0,566.6 L409.4,566.6 L408.8,566.6 L408.1,566.6 L407.5,566.7 L406.9,566.7 L406.2,566.7 L405.6,566.7 L404.9,566.8 L404.3,566.8 L403.7,566.8 L403.1,566.9 L402.5,566.9 L402.0,566.9 L401.5,566.9 L401.0,566.9 L400.6,567.0 L400.3,567.0 L400.0,567.0Z" fill="#cf2858" stroke="#cf2858" stroke-width="0.6" stroke-linejoin="round"/>
<polyline points="400.0,568.0 400.3,568.0 400.7,568.0 401.1,568.0 401.5,568.0 402.0,567.9 402.6,567.9 403.1,567.9 403.7,567.9 404.4,567.9 405.0,567.8 405.6,567.8 406.3,567.8 406.9,567.8 407.5,567.8 408.2,567.7 408.8,567.7 409.4,567.7 410.0,567.7 410.6,567.7 411.3,567.6 411.9,567.6 412.5,567.6 413.2,567.6 413.8,567.6 414.5,567.6 415.2,567.5 415.8,567.5 416.5,567.5 417.2,567.5 417.9,567.5 418.6,567.4 419.2,567.4 419.9,567.4 420.6,567.4 421.4,567.4 422.1,567.3 422.8,567.3 423.5,567.3 424.3,567.3 425.0,567.2 425.7,567.2 426.5,567.2" fill="none" stroke="#e46aa6" stroke-width="2.2" stroke-linejoin="round"/>
<polyline points="803.1,300.4 803.3,298.7 803.5,296.9 803.7,295.1 803.9,293.2 804.1,291.4 804.2,289.6 804.4,287.7 804.6,285.9 804.8,284.0 805.0,282.1 805.2,280.2 805.4,278.3 805.6,276.4 805.7,274.4 805.9,272.5 806.1,270.5 806.3,268.5 806.5,266.5 806.7,264.5 806.8,262.5 807.0,260.5 807.2,258.5 807.4,256.4 807.6,254.3 807.8,252.2 808.0,250.1 808.2,248.0 808.4,245.9 808.5,243.8 808.7,241.6 808.9,239.5 809.1,237.3 809.3,235.1 809.5,232.9 809.7,230.6 809.9,228.4 810.1,226.2 810.3,223.9 810.5,221.6 810.7,219.3 810.9,217.0 811.1,214.6 811.3,212.3 811.5,209.9 811.7,207.6 811.9,205.2 812.1,202.8 812.3,200.4 812.5,197.9 812.7,195.5 813.0,193.0 813.2,190.5 813.4,188.0 813.6,185.5 813.8,182.9 814.1,180.4 814.3,177.8 814.5,175.2 814.8,172.5 815.0,169.9 815.3,167.2 815.6,164.5 815.8,161.8 816.1,159.1 816.3,156.4 816.6,153.6 816.8,150.9 817.1,148.2 817.3,145.4 817.5,142.7 817.7,140.0 817.9,137.2 818.1,134.4 818.2,131.5 818.4,128.6 818.6,125.6 818.7,122.7 818.9,119.7 819.0,116.8 819.2,113.9 819.3,111.0 819.4,108.2 819.6,105.5 819.7,103.0 819.8,100.5 820.0,98.2 820.1,96.0 820.2,94.0 820.4,92.1 820.5,90.2 820.6,88.5 820.8,86.9 820.9,85.4 821.0,83.9 821.2,82.6 821.3,81.2 821.4,80.0 821.5,78.7 821.7,77.6 821.8,76.4 821.9,75.3 822.0,74.1 822.1,73.0 822.2,71.9 822.3,70.9 822.4,70.0 822.5,69.2 822.6,68.4 822.7,67.6 822.8,66.9 822.8,66.2 822.9,65.5 823.0,64.8 823.1,64.1 823.2,63.4 823.3,62.6 823.3,61.8 823.4,60.9 823.5,60.0 823.6,59.0 823.7,58.0 823.7,56.9 823.8,55.8 823.9,54.6 824.0,53.4 824.1,52.3 824.1,51.1 824.2,49.9 824.3,48.7 824.4,47.5 824.4,46.3 824.5,45.2 824.6,44.1 824.7,43.0 824.8,42.0 824.9,41.0 825.0,40.0 825.1,39.0 825.1,38.0 825.2,37.0 825.3,36.0 825.4,35.1 825.5,34.1 825.6,33.2" fill="none" stroke="#e46aa6" stroke-width="2.2" stroke-linejoin="round"/>
<polyline points="831.3,38.3 831.4,39.6 831.4,40.8 831.5,42.0 831.6,43.1 831.6,44.3 831.7,45.4 831.7,46.6 831.8,47.7 831.8,48.9 831.9,50.0 831.9,51.2 832.0,52.3 832.0,53.5 832.1,54.6 832.1,55.7 832.2,56.8 832.3,57.9 832.3,59.0 832.4,60.0 832.5,61.0 832.6,62.0 832.6,62.9 832.7,63.8 832.8,64.6 832.9,65.5 833.0,66.3 833.1,67.2 833.2,68.0 833.3,68.9 833.4,69.8 833.5,70.8 833.6,71.7 833.7,72.8 833.7,73.8 833.8,75.0 833.9,76.2 833.9,77.4 834.0,78.5 834.0,79.7 834.1,81.0 834.2,82.2 834.2,83.5 834.2,84.8 834.3,86.2 834.3,87.6 834.4,89.1 834.4,90.7 834.5,92.4 834.5,94.2 834.6,96.0 834.6,98.0 834.6,100.1 834.7,102.2 834.7,104.4 834.7,106.7 834.8,109.1 834.8,111.6 834.8,114.1 834.9,116.7 834.9,119.4 834.9,122.1 835.0,124.9 835.0,127.8 835.0,130.7 835.1,133.8 835.1,136.8 835.2,140.0 835.3,143.2 835.3,146.5 835.4,149.9 835.5,153.4 835.6,156.9 835.7,160.5 835.8,164.2 835.9,168.0 836.0,171.8 836.0,175.6 836.1,179.6 836.2,183.5 836.3,187.6 836.4,191.7 836.5,195.8 836.6,200.0 836.7,204.3 836.8,208.9 836.9,213.6 836.9,218.4 837.0,223.4 837.1,228.4 837.2,233.5 837.3,238.6 837.4,243.6 837.5,248.6 837.5,253.4 837.6,258.1 837.7,262.6 837.8,266.9 837.8,270.9 837.9,274.7 838.0,278.2 838.0,281.5 838.1,284.6 838.1,287.6 838.2,290.3 838.2,293.0 838.3,295.5 838.3,298.0 838.4,300.3 838.4,302.5 838.5,304.7 838.5,306.8 838.6,308.9 838.6,310.9 838.7,313.0 838.7,315.0 838.7,316.9 838.8,318.7 838.8,320.4 838.9,321.9 838.9,323.3 839.0,324.6 839.0,325.9 839.1,327.2 839.1,328.5 839.2,329.8 839.2,331.2 839.3,332.7 839.3,334.3 839.4,336.0 839.4,337.9 839.5,340.0 839.6,342.2 839.6,344.3 839.7,346.5 839.8,348.6 839.8,350.8 839.9,353.1 840.0,355.5 840.0,358.0 840.1,360.6 840.2,363.4 840.3,366.4 840.3,369.6 840.4,373.0 840.5,376.7 840.6,380.7 840.7,384.9 840.8,389.6 840.9,394.9 841.0,400.6 841.2,406.7 841.3,413.2 841.4,419.8 841.5,426.6 841.7,433.5 841.8,440.3 842.0,447.1 842.1,453.7 842.2,460.0 842.3,465.9 842.5,471.5 842.6,476.5 842.7,480.9 842.8,484.8 842.9,488.3 843.0,491.4 843.1,494.2 843.2,496.8 843.3,499.0 843.4,501.1 843.5,503.0 843.6,504.8 843.7,506.4 843.8,508.0 843.9,509.6 844.0,511.1 844.1,512.8 844.1,514.5 844.2,516.3 844.3,518.2 844.3,520.0 844.3,521.7 844.4,523.4 844.4,525.0 844.4,526.6 844.4,528.2 844.5,529.7 844.5,531.2 844.5,532.7 844.5,534.2 844.5,535.7 844.6,537.2 844.6,538.8 844.6,540.3 844.7,541.9 844.8,543.5 844.8,545.2 844.9,546.9 844.9,548.6 845.0,550.4 845.0,552.1 845.1,553.9 845.2,555.6 845.3,557.3 845.4,558.9 845.4,560.5 845.6,562.1 845.7,563.5 845.8,564.9 845.9,566.2 846.1,567.4 846.3,568.5 846.5,569.5 846.7,570.5 847.0,571.3 847.3,572.2 847.6,572.9 847.8,573.6 848.1,574.3 848.4,574.9 848.7,575.5 849.0,576.0 849.2,576.4 849.5,576.9 849.7,577.3 849.9,577.7 850.0,578.0" fill="none" stroke="#e46aa6" stroke-width="2.2" stroke-linejoin="round"/>
<g><rect x="784.5" y="395.8" width="6.0" height="2.6" fill="#a8143f"/><rect x="787.9" y="383.2" width="6.0" height="2.6" fill="#a8143f"/><rect x="791.0" y="370.6" width="6.0" height="2.6" fill="#a8143f"/><rect x="793.7" y="357.9" width="6.0" height="2.6" fill="#a8143f"/><rect x="796.0" y="345.1" width="6.0" height="2.6" fill="#a8143f"/><rect x="798.0" y="332.2" width="6.0" height="2.6" fill="#a8143f"/><rect x="799.7" y="319.4" width="6.0" height="2.6" fill="#a8143f"/><rect x="801.3" y="306.5" width="6.0" height="2.6" fill="#a8143f"/><rect x="802.7" y="293.5" width="6.0" height="2.6" fill="#a8143f"/><rect x="804.0" y="280.6" width="6.0" height="2.6" fill="#a8143f"/><rect x="805.2" y="267.7" width="6.0" height="2.6" fill="#a8143f"/><rect x="806.4" y="254.7" width="6.0" height="2.6" fill="#a8143f"/><rect x="807.6" y="241.8" width="6.0" height="2.6" fill="#a8143f"/><rect x="808.8" y="228.8" width="6.0" height="2.6" fill="#a8143f"/><rect x="809.9" y="215.9" width="6.0" height="2.6" fill="#a8143f"/><rect x="811.0" y="202.9" width="6.0" height="2.6" fill="#a8143f"/><rect x="812.1" y="190.0" width="6.0" height="2.6" fill="#a8143f"/><rect x="813.2" y="177.0" width="6.0" height="2.6" fill="#a8143f"/><rect x="814.5" y="164.1" width="6.0" height="2.6" fill="#a8143f"/><rect x="815.7" y="151.1" width="6.0" height="2.6" fill="#a8143f"/><rect x="816.7" y="138.2" width="6.0" height="2.6" fill="#a8143f"/><rect x="817.5" y="125.2" width="6.0" height="2.6" fill="#a8143f"/><rect x="818.2" y="112.2" width="6.0" height="2.6" fill="#a8143f"/><rect x="818.8" y="99.2" width="6.0" height="2.6" fill="#a8143f"/><rect x="819.7" y="86.3" width="6.0" height="2.6" fill="#a8143f"/><rect x="820.9" y="73.3" width="6.0" height="2.6" fill="#a8143f"/><rect x="822.3" y="60.4" width="6.0" height="2.6" fill="#a8143f"/><rect x="823.3" y="47.4" width="6.0" height="2.6" fill="#a8143f"/><rect x="824.3" y="34.5" width="6.0" height="2.6" fill="#a8143f"/><rect x="827.9" y="22.2" width="6.0" height="2.6" fill="#a8143f"/><rect x="831.1" y="54.2" width="6.0" height="2.6" fill="#a8143f"/><rect x="833.2" y="81.1" width="6.0" height="2.6" fill="#a8143f"/><rect x="833.8" y="108.1" width="6.0" height="2.6" fill="#a8143f"/><rect x="834.1" y="135.1" width="6.0" height="2.6" fill="#a8143f"/><rect x="834.7" y="162.1" width="6.0" height="2.6" fill="#a8143f"/><rect x="835.4" y="189.1" width="6.0" height="2.6" fill="#a8143f"/><rect x="835.9" y="216.1" width="6.0" height="2.6" fill="#a8143f"/><rect x="836.4" y="243.1" width="6.0" height="2.6" fill="#a8143f"/><rect x="836.8" y="270.1" width="6.0" height="2.6" fill="#a8143f"/><rect x="837.3" y="297.1" width="6.0" height="2.6" fill="#a8143f"/><rect x="838.0" y="324.0" width="6.0" height="2.6" fill="#a8143f"/><rect x="838.9" y="351.0" width="6.0" height="2.6" fill="#a8143f"/><rect x="839.6" y="378.0" width="6.0" height="2.6" fill="#a8143f"/><rect x="840.1" y="405.0" width="6.0" height="2.6" fill="#a8143f"/><rect x="840.7" y="432.0" width="6.0" height="2.6" fill="#a8143f"/><rect x="841.2" y="459.0" width="6.0" height="2.6" fill="#a8143f"/><rect x="841.9" y="486.0" width="6.0" height="2.6" fill="#a8143f"/><rect x="843.1" y="513.0" width="6.0" height="2.6" fill="#a8143f"/><rect x="843.7" y="540.0" width="6.0" height="2.6" fill="#a8143f"/></g>
<ellipse cx="377.0" cy="405.1" rx="7.8" ry="7.3" fill="#84e02c"/>
<ellipse cx="493.0" cy="372.9" rx="8.0" ry="6.5" fill="#8066f2"/>
<ellipse cx="568.6" cy="347.1" rx="6.7" ry="6.7" fill="#44e0dc"/>
<ellipse cx="637.6" cy="304.6" rx="8.5" ry="6.3" fill="#f2802e"/>
<ellipse cx="705.4" cy="286.6" rx="7.6" ry="6.0" fill="#a9c6f0"/>
<ellipse cx="781.3" cy="269.5" rx="8.0" ry="7.0" fill="#e6a6c2"/>
<ellipse cx="818.9" cy="259.3" rx="7.6" ry="6.2" fill="#b4f08c"/>
<ellipse cx="867.1" cy="269.5" rx="7.8" ry="6.6" fill="#c2c8f0"/>
<g font-family="Liberation Sans, sans-serif" font-size="15.5" letter-spacing="0.45" fill="#303030" stroke="#303030" stroke-width="0.5"><text x="101.0" y="596.2" text-anchor="middle">260</text><text x="196.9" y="596.2" text-anchor="middle">270</text><text x="292.8" y="596.2" text-anchor="middle">280</text><text x="388.1" y="596.2" text-anchor="middle">290</text><text x="483.8" y="596.2" text-anchor="middle">300</text><text x="579.4" y="596.2" text-anchor="middle">310</text><text x="675.2" y="596.2" text-anchor="middle">320</text><text x="770.6" y="596.2" text-anchor="middle">330</text><text x="866.6" y="596.2" text-anchor="middle">340</text><text x="962.1" y="596.2" text-anchor="middle">350</text><text x="1057.5" y="596.2" text-anchor="middle">360</text><text x="83.6" y="65.3" text-anchor="end">140</text><text x="83.6" y="139.3" text-anchor="end">120</text><text x="83.6" y="212.0" text-anchor="end">100</text><text x="83.6" y="286.6" text-anchor="end">80</text><text x="83.6" y="357.7" text-anchor="end">60</text><text x="83.6" y="431.2" text-anchor="end">40</text><text x="83.6" y="504.0" text-anchor="end">20</text><text x="83.6" y="577.7" text-anchor="end">0</text></g>
<g font-family="Liberation Sans, sans-serif" font-size="17" fill="#303030" stroke="#303030" stroke-width="0.5"><line x1="1156" y1="139.1" x2="1191" y2="139.1" stroke="#9cc0dc" stroke-width="2.5"/><text x="1195.2" y="148.7">3 °C /min</text><line x1="1156" y1="179.8" x2="1191" y2="179.8" stroke="#d890a8" stroke-width="2.5"/><text x="1195.2" y="189.4">5 °C /min</text><line x1="1156" y1="221.2" x2="1191" y2="221.2" stroke="#a8d070" stroke-width="2.5"/><text x="1195.2" y="230.8">7 °C /min</text><line x1="1156" y1="261.9" x2="1191" y2="261.9" stroke="#8470d0" stroke-width="2.5"/><text x="1195.2" y="271.5">10 °C /min</text><line x1="1156" y1="302.6" x2="1191" y2="302.6" stroke="#70d4c8" stroke-width="2.5"/><text x="1195.2" y="312.2">12 °C /min</text><line x1="1156" y1="344.3" x2="1191" y2="344.3" stroke="#eca060" stroke-width="2.5"/><text x="1195.2" y="353.9">15 °C /min</text><line x1="1156" y1="385.1" x2="1191" y2="385.1" stroke="#a8b8ec" stroke-width="2.5"/><text x="1195.2" y="394.7">17 °C /min</text><line x1="1156" y1="425.9" x2="1191" y2="425.9" stroke="#d8a0c8" stroke-width="2.5"/><text x="1195.2" y="435.5">20 °C /min</text></g>
<text x="573" y="661" text-anchor="middle" font-family="Liberation Serif, serif" font-size="38" fill="#111">Temperature / °C</text>
<text transform="translate(31.5,338) rotate(-90)" text-anchor="middle" font-family="Liberation Serif, serif" font-size="38" fill="#111">Heat flow / mW</text>
</g>
</svg></body></html>
